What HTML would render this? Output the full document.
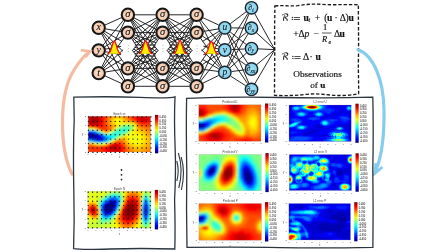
<!DOCTYPE html>
<html><head><meta charset="utf-8"><style>
html,body{margin:0;padding:0;background:#fff;width:448px;height:252px;overflow:hidden}
svg{display:block}
.it{font-family:"Liberation Serif",serif;font-style:italic;fill:#1a1a1a}
.bl{font-family:"Liberation Serif",serif;font-style:italic;fill:#10181e;stroke:#10181e;stroke-width:0.12}
.cal{font-family:"DejaVu Math TeX Gyre","DejaVu Serif",serif;font-style:normal}
.nl{font-family:"Liberation Serif",serif;font-style:italic;fill:#111;stroke:#111;stroke-width:0.12}
</style></head><body>
<svg width="448" height="252" viewBox="0 0 448 252">
 <defs><radialGradient id="gp"><stop offset="0" stop-color="#fde4d2"/><stop offset="1" stop-color="#f3c1a2"/></radialGradient><radialGradient id="gb"><stop offset="0" stop-color="#a6e2f5"/><stop offset="1" stop-color="#7fcfec"/></radialGradient><filter id="bl" x="-5%" y="-5%" width="110%" height="110%"><feGaussianBlur stdDeviation="0.9"/></filter><filter id="bl2" x="-5%" y="-5%" width="110%" height="110%"><feGaussianBlur stdDeviation="0.55"/></filter></defs>
<rect width="448" height="252" fill="#fff"/>
<path d="M105.0 25.0L121.6 17.6M105.5 28.9L121.1 31.5M104.6 31.3L122.0 41.5M103.7 32.6L122.9 51.2M102.7 33.4L123.9 62.8M101.8 34.0L124.8 80.1M103.1 45.1L123.5 20.1M104.6 46.8L122.0 36.2M105.5 49.1L121.1 46.3M105.5 51.7L121.1 54.7M104.6 54.0L122.0 64.8M103.1 55.8L123.5 80.9M101.8 66.9L124.8 21.0M102.7 67.5L123.9 38.2M103.7 68.3L122.9 49.8M104.7 69.6L121.9 59.5M105.5 72.0L121.1 69.5M105.0 75.9L121.6 83.5M134.8 14.8L155.7 14.8M134.0 17.9L156.5 29.5M133.1 19.3L157.4 40.5M132.3 20.1L158.2 50.7M131.6 20.6L158.9 62.6M130.9 21.0L159.6 80.1M134.0 29.5L156.5 17.9M134.8 32.6L155.7 32.6M134.4 34.9L156.1 42.7M133.6 36.5L156.9 52.1M132.7 37.6L157.8 63.4M131.6 38.4L158.9 80.5M133.1 40.5L157.4 19.3M134.4 42.7L156.1 34.9M134.8 45.0L155.7 45.0M134.5 47.1L156.0 53.9M133.6 48.9L156.9 64.5M132.3 50.3L158.2 81.0M132.3 50.7L158.2 20.1M133.6 52.1L156.9 36.5M134.5 53.9L156.0 47.1M134.8 56.0L155.7 56.0M134.4 58.3L156.1 66.1M133.1 60.5L157.4 81.8M131.6 62.6L158.9 20.6M132.7 63.4L157.8 37.6M133.6 64.5L156.9 48.9M134.4 66.1L156.1 58.3M134.8 68.4L155.7 68.4M134.0 71.6L156.5 83.1M130.9 80.1L159.6 21.0M131.6 80.5L158.9 38.4M132.3 81.0L158.2 50.3M133.1 81.8L157.4 60.5M134.0 83.1L156.5 71.6M134.8 86.3L155.7 86.3M169.5 14.8L189.7 14.8M168.7 18.0L190.5 29.4M167.8 19.4L191.4 40.4M167.0 20.1L192.2 50.7M166.3 20.6L192.9 62.6M165.6 21.0L193.6 80.1M168.7 29.4L190.5 18.0M169.5 32.6L189.7 32.6M169.1 35.0L190.1 42.6M168.3 36.5L190.9 52.1M167.4 37.6L191.8 63.4M166.3 38.4L192.9 80.5M167.8 40.4L191.4 19.4M169.1 42.6L190.1 35.0M169.5 45.0L189.7 45.0M169.2 47.1L190.0 53.9M168.3 48.9L190.9 64.5M167.0 50.3L192.2 81.0M167.0 50.7L192.2 20.1M168.3 52.1L190.9 36.5M169.2 53.9L190.0 47.1M169.5 56.0L189.7 56.0M169.1 58.4L190.1 66.0M167.8 60.6L191.4 81.7M166.3 62.6L192.9 20.6M167.4 63.4L191.8 37.6M168.3 64.5L190.9 48.9M169.1 66.0L190.1 58.4M169.5 68.4L189.7 68.4M168.7 71.6L190.5 83.1M165.6 80.1L193.6 21.0M166.3 80.5L192.9 38.4M167.0 81.0L192.2 50.3M167.8 81.7L191.4 60.6M168.7 83.1L190.5 71.6M169.5 86.3L189.7 86.3M202.9 17.7L218.5 24.9M200.9 20.2L220.5 44.6M199.6 21.0L221.8 66.2M203.4 31.4L218.0 29.0M202.5 36.2L218.9 46.4M200.6 38.2L220.8 66.8M202.5 41.4L218.9 31.4M203.4 46.2L218.0 48.8M201.5 49.8L219.9 67.6M201.5 51.1L219.9 32.7M203.3 54.6L218.1 51.4M202.6 59.5L218.8 68.9M200.5 62.7L220.9 33.5M202.4 64.6L219.0 53.8M203.4 69.4L218.0 71.4M199.6 80.1L221.8 34.0M200.8 80.9L220.6 55.4M202.8 83.2L218.6 75.5M230.3 23.7L246.0 11.9M231.7 27.9L244.6 28.1M230.2 32.0L246.1 44.4M228.6 33.6L247.7 63.2M227.5 34.1L248.8 83.1M228.5 44.2L247.8 13.6M230.1 45.6L246.2 32.6M231.7 49.6L244.6 49.0M230.4 54.0L245.9 65.0M228.7 55.7L247.6 83.7M227.4 66.0L248.9 14.2M228.4 66.5L247.9 34.1M230.0 67.8L246.3 53.2M231.6 71.5L244.7 69.9M230.6 76.1L245.7 85.7M251.5 7.8L274.8 49.6M251.5 28.2L274.8 49.6M251.5 48.6L274.8 49.6M251.5 69.0L274.8 49.6M251.5 89.4L274.8 49.6" stroke="#1b1b1b" stroke-width="0.95" fill="none"/>
<path d="M107.50 53.76 L107.84 53.68 L108.18 53.57 L108.52 53.41 L108.86 53.19 L109.20 52.89 L109.54 52.50 L109.88 52.00 L110.22 51.39 L110.56 50.64 L110.90 49.78 L111.24 48.79 L111.58 47.72 L111.92 46.58 L112.26 45.43 L112.60 44.31 L112.94 43.29 L113.28 42.42 L113.62 41.76 L113.96 41.34 L114.30 41.20 L114.64 41.34 L114.98 41.76 L115.32 42.42 L115.66 43.29 L116.00 44.31 L116.34 45.43 L116.68 46.58 L117.02 47.72 L117.36 48.79 L117.70 49.78 L118.04 50.64 L118.38 51.39 L118.72 52.00 L119.06 52.50 L119.40 52.89 L119.74 53.19 L120.08 53.41 L120.42 53.57 L120.76 53.68 L121.10 53.76 Z" fill="#ffee00" stroke="none"/><path d="M107.50 53.76 L107.84 53.68 L108.18 53.57 L108.52 53.41 L108.86 53.19 L109.20 52.89 L109.54 52.50 L109.88 52.00 L110.22 51.39 L110.56 50.64 L110.90 49.78 L111.24 48.79 L111.58 47.72 L111.92 46.58 L112.26 45.43 L112.60 44.31 L112.94 43.29 L113.28 42.42 L113.62 41.76 L113.96 41.34 L114.30 41.20 L114.64 41.34 L114.98 41.76 L115.32 42.42 L115.66 43.29 L116.00 44.31 L116.34 45.43 L116.68 46.58 L117.02 47.72 L117.36 48.79 L117.70 49.78 L118.04 50.64 L118.38 51.39 L118.72 52.00 L119.06 52.50 L119.40 52.89 L119.74 53.19 L120.08 53.41 L120.42 53.57 L120.76 53.68 L121.10 53.76" fill="none" stroke="#ff1010" stroke-width="1.3" stroke-linejoin="round"/>
<path d="M138.80 53.76 L139.14 53.68 L139.48 53.56 L139.82 53.40 L140.16 53.17 L140.50 52.87 L140.84 52.47 L141.18 51.96 L141.52 51.33 L141.86 50.57 L142.20 49.68 L142.54 48.67 L142.88 47.57 L143.22 46.41 L143.56 45.23 L143.90 44.09 L144.24 43.04 L144.58 42.15 L144.92 41.47 L145.26 41.05 L145.60 40.90 L145.94 41.05 L146.28 41.47 L146.62 42.15 L146.96 43.04 L147.30 44.09 L147.64 45.23 L147.98 46.41 L148.32 47.57 L148.66 48.67 L149.00 49.68 L149.34 50.57 L149.68 51.33 L150.02 51.96 L150.36 52.47 L150.70 52.87 L151.04 53.17 L151.38 53.40 L151.72 53.56 L152.06 53.68 L152.40 53.76 Z" fill="#ffee00" stroke="none"/><path d="M138.80 53.76 L139.14 53.68 L139.48 53.56 L139.82 53.40 L140.16 53.17 L140.50 52.87 L140.84 52.47 L141.18 51.96 L141.52 51.33 L141.86 50.57 L142.20 49.68 L142.54 48.67 L142.88 47.57 L143.22 46.41 L143.56 45.23 L143.90 44.09 L144.24 43.04 L144.58 42.15 L144.92 41.47 L145.26 41.05 L145.60 40.90 L145.94 41.05 L146.28 41.47 L146.62 42.15 L146.96 43.04 L147.30 44.09 L147.64 45.23 L147.98 46.41 L148.32 47.57 L148.66 48.67 L149.00 49.68 L149.34 50.57 L149.68 51.33 L150.02 51.96 L150.36 52.47 L150.70 52.87 L151.04 53.17 L151.38 53.40 L151.72 53.56 L152.06 53.68 L152.40 53.76" fill="none" stroke="#ff1010" stroke-width="1.3" stroke-linejoin="round"/>
<path d="M173.20 53.75 L173.54 53.67 L173.88 53.55 L174.22 53.38 L174.56 53.15 L174.90 52.84 L175.24 52.43 L175.58 51.91 L175.92 51.27 L176.26 50.49 L176.60 49.58 L176.94 48.55 L177.28 47.43 L177.62 46.24 L177.96 45.03 L178.30 43.86 L178.64 42.79 L178.98 41.88 L179.32 41.19 L179.66 40.75 L180.00 40.60 L180.34 40.75 L180.68 41.19 L181.02 41.88 L181.36 42.79 L181.70 43.86 L182.04 45.03 L182.38 46.24 L182.72 47.43 L183.06 48.55 L183.40 49.58 L183.74 50.49 L184.08 51.27 L184.42 51.91 L184.76 52.43 L185.10 52.84 L185.44 53.15 L185.78 53.38 L186.12 53.55 L186.46 53.67 L186.80 53.75 Z" fill="#ffee00" stroke="none"/><path d="M173.20 53.75 L173.54 53.67 L173.88 53.55 L174.22 53.38 L174.56 53.15 L174.90 52.84 L175.24 52.43 L175.58 51.91 L175.92 51.27 L176.26 50.49 L176.60 49.58 L176.94 48.55 L177.28 47.43 L177.62 46.24 L177.96 45.03 L178.30 43.86 L178.64 42.79 L178.98 41.88 L179.32 41.19 L179.66 40.75 L180.00 40.60 L180.34 40.75 L180.68 41.19 L181.02 41.88 L181.36 42.79 L181.70 43.86 L182.04 45.03 L182.38 46.24 L182.72 47.43 L183.06 48.55 L183.40 49.58 L183.74 50.49 L184.08 51.27 L184.42 51.91 L184.76 52.43 L185.10 52.84 L185.44 53.15 L185.78 53.38 L186.12 53.55 L186.46 53.67 L186.80 53.75" fill="none" stroke="#ff1010" stroke-width="1.3" stroke-linejoin="round"/>
<path d="M204.50 53.76 L204.84 53.69 L205.18 53.58 L205.52 53.42 L205.86 53.20 L206.20 52.91 L206.54 52.53 L206.88 52.05 L207.22 51.45 L207.56 50.72 L207.90 49.87 L208.24 48.91 L208.58 47.86 L208.92 46.75 L209.26 45.63 L209.60 44.54 L209.94 43.54 L210.28 42.69 L210.62 42.05 L210.96 41.64 L211.30 41.50 L211.64 41.64 L211.98 42.05 L212.32 42.69 L212.66 43.54 L213.00 44.54 L213.34 45.63 L213.68 46.75 L214.02 47.86 L214.36 48.91 L214.70 49.87 L215.04 50.72 L215.38 51.45 L215.72 52.05 L216.06 52.53 L216.40 52.91 L216.74 53.20 L217.08 53.42 L217.42 53.58 L217.76 53.69 L218.10 53.76 Z" fill="#ffee00" stroke="none"/><path d="M204.50 53.76 L204.84 53.69 L205.18 53.58 L205.52 53.42 L205.86 53.20 L206.20 52.91 L206.54 52.53 L206.88 52.05 L207.22 51.45 L207.56 50.72 L207.90 49.87 L208.24 48.91 L208.58 47.86 L208.92 46.75 L209.26 45.63 L209.60 44.54 L209.94 43.54 L210.28 42.69 L210.62 42.05 L210.96 41.64 L211.30 41.50 L211.64 41.64 L211.98 42.05 L212.32 42.69 L212.66 43.54 L213.00 44.54 L213.34 45.63 L213.68 46.75 L214.02 47.86 L214.36 48.91 L214.70 49.87 L215.04 50.72 L215.38 51.45 L215.72 52.05 L216.06 52.53 L216.40 52.91 L216.74 53.20 L217.08 53.42 L217.42 53.58 L217.76 53.69 L218.10 53.76" fill="none" stroke="#ff1010" stroke-width="1.3" stroke-linejoin="round"/>
<circle cx="128.3" cy="45.7" r="0.45" fill="#777"/>
<circle cx="128.3" cy="48.5" r="0.45" fill="#777"/>
<circle cx="128.3" cy="51.3" r="0.45" fill="#777"/>
<circle cx="163.0" cy="45.7" r="0.45" fill="#777"/>
<circle cx="163.0" cy="48.5" r="0.45" fill="#777"/>
<circle cx="163.0" cy="51.3" r="0.45" fill="#777"/>
<circle cx="197.0" cy="45.7" r="0.45" fill="#777"/>
<circle cx="197.0" cy="48.5" r="0.45" fill="#777"/>
<circle cx="197.0" cy="51.3" r="0.45" fill="#777"/>
<circle cx="98.7" cy="27.8" r="6.2" fill="url(#gp)" stroke="#141618" stroke-width="2.0"/><text x="98.7" y="30.4" font-size="10" text-anchor="middle" class="nl">x</text>
<circle cx="98.7" cy="50.4" r="6.2" fill="url(#gp)" stroke="#141618" stroke-width="2.0"/><text x="98.7" y="53.0" font-size="10" text-anchor="middle" class="nl">y</text>
<circle cx="98.7" cy="73.1" r="6.2" fill="url(#gp)" stroke="#141618" stroke-width="2.0"/><text x="98.7" y="75.7" font-size="10" text-anchor="middle" class="nl">t</text>
<circle cx="127.9" cy="14.8" r="6.2" fill="url(#gp)" stroke="#141618" stroke-width="2.0"/><text x="127.9" y="17.4" font-size="10.5" text-anchor="middle" class="nl">σ</text>
<circle cx="127.9" cy="32.6" r="6.2" fill="url(#gp)" stroke="#141618" stroke-width="2.0"/><text x="127.9" y="35.2" font-size="10.5" text-anchor="middle" class="nl">σ</text>
<circle cx="127.9" cy="68.4" r="6.2" fill="url(#gp)" stroke="#141618" stroke-width="2.0"/><text x="127.9" y="71.0" font-size="10.5" text-anchor="middle" class="nl">σ</text>
<circle cx="127.9" cy="86.3" r="6.2" fill="url(#gp)" stroke="#141618" stroke-width="2.0"/><text x="127.9" y="88.9" font-size="10.5" text-anchor="middle" class="nl">σ</text>
<circle cx="162.6" cy="14.8" r="6.2" fill="url(#gp)" stroke="#141618" stroke-width="2.0"/><text x="162.6" y="17.4" font-size="10.5" text-anchor="middle" class="nl">σ</text>
<circle cx="162.6" cy="32.6" r="6.2" fill="url(#gp)" stroke="#141618" stroke-width="2.0"/><text x="162.6" y="35.2" font-size="10.5" text-anchor="middle" class="nl">σ</text>
<circle cx="162.6" cy="68.4" r="6.2" fill="url(#gp)" stroke="#141618" stroke-width="2.0"/><text x="162.6" y="71.0" font-size="10.5" text-anchor="middle" class="nl">σ</text>
<circle cx="162.6" cy="86.3" r="6.2" fill="url(#gp)" stroke="#141618" stroke-width="2.0"/><text x="162.6" y="88.9" font-size="10.5" text-anchor="middle" class="nl">σ</text>
<circle cx="196.6" cy="14.8" r="6.2" fill="url(#gp)" stroke="#141618" stroke-width="2.0"/><text x="196.6" y="17.4" font-size="10.5" text-anchor="middle" class="nl">σ</text>
<circle cx="196.6" cy="32.6" r="6.2" fill="url(#gp)" stroke="#141618" stroke-width="2.0"/><text x="196.6" y="35.2" font-size="10.5" text-anchor="middle" class="nl">σ</text>
<circle cx="196.6" cy="68.4" r="6.2" fill="url(#gp)" stroke="#141618" stroke-width="2.0"/><text x="196.6" y="71.0" font-size="10.5" text-anchor="middle" class="nl">σ</text>
<circle cx="196.6" cy="86.3" r="6.2" fill="url(#gp)" stroke="#141618" stroke-width="2.0"/><text x="196.6" y="88.9" font-size="10.5" text-anchor="middle" class="nl">σ</text>
<circle cx="224.8" cy="27.8" r="6.2" fill="url(#gb)" stroke="#18232c" stroke-width="1.4"/><text x="224.8" y="30.4" font-size="9.5" text-anchor="middle" class="bl">u</text>
<circle cx="224.8" cy="50.0" r="6.2" fill="url(#gb)" stroke="#18232c" stroke-width="1.4"/><text x="224.8" y="52.6" font-size="9.5" text-anchor="middle" class="bl">v</text>
<circle cx="224.8" cy="72.4" r="6.2" fill="url(#gb)" stroke="#18232c" stroke-width="1.4"/><text x="224.8" y="75.0" font-size="9.5" text-anchor="middle" class="bl">p</text>
<circle cx="251.5" cy="7.8" r="6.2" fill="url(#gb)" stroke="#18232c" stroke-width="1.4"/><text x="250.9" y="9.9" font-size="8" text-anchor="middle" class="bl">∂<tspan font-size="5.4" dy="1.6">t</tspan></text>
<circle cx="251.5" cy="28.2" r="6.2" fill="url(#gb)" stroke="#18232c" stroke-width="1.4"/><text x="250.9" y="30.3" font-size="8" text-anchor="middle" class="bl">∂<tspan font-size="5.4" dy="1.6">x</tspan></text>
<circle cx="251.5" cy="48.6" r="6.2" fill="url(#gb)" stroke="#18232c" stroke-width="1.4"/><text x="250.9" y="50.7" font-size="8" text-anchor="middle" class="bl">∂<tspan font-size="5.4" dy="1.6">y</tspan></text>
<circle cx="251.5" cy="69.0" r="6.2" fill="url(#gb)" stroke="#18232c" stroke-width="1.4"/><text x="250.9" y="71.1" font-size="8" text-anchor="middle" class="bl">∂<tspan font-size="5.4" dy="1.6">xx</tspan></text>
<circle cx="251.5" cy="89.4" r="6.2" fill="url(#gb)" stroke="#18232c" stroke-width="1.4"/><text x="250.9" y="91.5" font-size="8" text-anchor="middle" class="bl">∂<tspan font-size="5.4" dy="1.6">yy</tspan></text>
<path d="M274.8 6.0 C284 5.0 290 6.6 298 5.6 C306 4.4 312 3.6 322 4.4 C334 5.2 346 4.2 358.4 4.8 C358.2 20 358.9 40 358.4 60 C358.2 75 358.9 85 358.6 93.8 C350 95.6 340 96 330 95 C320 94 314 93.4 306 94.4 C296 95.6 286 95.8 274.6 95.4 C274.3 80 275 60 274.6 40 C274.4 25 275 15 274.8 6.0 Z" fill="none" stroke="#1a1a1a" stroke-width="1.35" stroke-dasharray="3.4 1.9"/>
<text x="281.0" y="20.8" font-size="9.6" style="font-family:'DejaVu Math TeX Gyre','DejaVu Sans',serif;fill:#111;stroke:#111;stroke-width:0.1">ℛ</text>
<text x="291.0" y="20.8" font-size="9.6" style="font-family:'DejaVu Math TeX Gyre','DejaVu Sans',serif;fill:#111;stroke:#111;stroke-width:0.1">≔</text>
<text x="303.4" y="20.8" font-size="9.6" style="font-family:'Liberation Serif',serif;fill:#111;stroke:#111;stroke-width:0.18" font-weight="bold">u</text>
<text x="308.4" y="22.4" font-size="6.2" style="font-family:'Liberation Serif',serif;fill:#111;stroke:#111;stroke-width:0.18;font-style:italic">t</text>
<text x="314.8" y="20.8" font-size="9.6" style="font-family:'Liberation Serif',serif;fill:#111;stroke:#111;stroke-width:0.18">+</text>
<text x="324.2" y="20.8" font-size="9.6" style="font-family:'Liberation Serif',serif;fill:#111;stroke:#111;stroke-width:0.18">(</text>
<text x="326.9" y="20.8" font-size="9.6" style="font-family:'Liberation Serif',serif;fill:#111;stroke:#111;stroke-width:0.18" font-weight="bold">u</text>
<text x="334.6" y="20.8" font-size="9.6" style="font-family:'Liberation Serif',serif;fill:#111;stroke:#111;stroke-width:0.18">·</text>
<text x="339.8" y="20.8" font-size="9.6" style="font-family:'Liberation Serif',serif;fill:#111;stroke:#111;stroke-width:0.18">Δ</text>
<text x="345.4" y="20.8" font-size="9.6" style="font-family:'Liberation Serif',serif;fill:#111;stroke:#111;stroke-width:0.18">)</text>
<text x="348.6" y="20.8" font-size="9.6" style="font-family:'Liberation Serif',serif;fill:#111;stroke:#111;stroke-width:0.18" font-weight="bold">u</text>
<text x="293.2" y="36.8" font-size="9.6" style="font-family:'Liberation Serif',serif;fill:#111;stroke:#111;stroke-width:0.18">+</text>
<text x="298.6" y="36.8" font-size="9.6" style="font-family:'Liberation Serif',serif;fill:#111;stroke:#111;stroke-width:0.18">Δ</text>
<text x="304.4" y="36.8" font-size="9.6" style="font-family:'Liberation Serif',serif;fill:#111;stroke:#111;stroke-width:0.18;font-style:italic">p</text>
<text x="313.4" y="36.8" font-size="9.6" style="font-family:'Liberation Serif',serif;fill:#111;stroke:#111;stroke-width:0.18">−</text>
<text x="323.0" y="30.4" font-size="8.5" style="font-family:'Liberation Serif',serif;fill:#111;stroke:#111;stroke-width:0.18">1</text>
<line x1="322.0" y1="33.0" x2="331.6" y2="33.0" stroke="#111" stroke-width="0.7"/>
<text x="322.0" y="42.2" font-size="8.5" style="font-family:'Liberation Serif',serif;fill:#111;stroke:#111;stroke-width:0.18;font-style:italic">R</text>
<text x="328.6" y="43.8" font-size="5.8" style="font-family:'Liberation Serif',serif;fill:#111;stroke:#111;stroke-width:0.18;font-style:italic">e</text>
<text x="334.0" y="36.8" font-size="9.6" style="font-family:'Liberation Serif',serif;fill:#111;stroke:#111;stroke-width:0.18">Δ</text>
<text x="339.4" y="36.8" font-size="9.6" style="font-family:'Liberation Serif',serif;fill:#111;stroke:#111;stroke-width:0.18" font-weight="bold">u</text>
<text x="281.0" y="60.2" font-size="9.6" style="font-family:'DejaVu Math TeX Gyre','DejaVu Sans',serif;fill:#111;stroke:#111;stroke-width:0.1">ℛ</text>
<text x="291.6" y="60.2" font-size="9.6" style="font-family:'DejaVu Math TeX Gyre','DejaVu Sans',serif;fill:#111;stroke:#111;stroke-width:0.1">≔</text>
<text x="303.0" y="60.2" font-size="9.6" style="font-family:'Liberation Serif',serif;fill:#111;stroke:#111;stroke-width:0.18">Δ</text>
<text x="309.6" y="60.2" font-size="9.6" style="font-family:'Liberation Serif',serif;fill:#111;stroke:#111;stroke-width:0.18">·</text>
<text x="315.6" y="60.2" font-size="9.6" style="font-family:'Liberation Serif',serif;fill:#111;stroke:#111;stroke-width:0.18" font-weight="bold">u</text>
<text x="317.5" y="76.5" font-size="9.2" text-anchor="middle" style="font-family:'Liberation Serif',serif;fill:#111;stroke:#111;stroke-width:0.18">Observations</text>
<text x="317.8" y="87.6" font-size="9.2" text-anchor="middle" style="font-family:'Liberation Serif',serif;fill:#111;stroke:#111;stroke-width:0.18">of <tspan font-weight="bold">u</tspan></text>
<path d="M72 174 C60 150 58 95 74 70 C78.5 63 83.5 56 89.6 51.8" fill="none" stroke="#f5bba0" stroke-width="3.2" stroke-linecap="round"/>
<path d="M80.8 50.2 L90.0 51.4 L85.4 57.2" fill="none" stroke="#f5bba0" stroke-width="2.8" stroke-linejoin="miter"/>
<path d="M358 49.7 C373.5 55 383.6 80 384 110 C384.4 140 381 158 376 170" fill="none" stroke="#86ccec" stroke-width="3.2" stroke-linecap="round"/>
<path d="M382.4 167 L374.6 173.6 L375.9 163.2" fill="none" stroke="#86ccec" stroke-width="2.8" stroke-linejoin="miter"/>
<path d="M73.8 97.2 Q110 96.2 140 97.4 T175 96.8 Q174 120 175.2 150 Q176 170 174.6 200 Q175.4 230 174.8 249 Q140 248 110 249 T73.6 248.6 Q74.6 220 73.8 190 Q73 150 74.2 120 Z" fill="none" stroke="#2c3640" stroke-width="1.3"/>
<path d="M186.6 98.4 Q230 96.6 280 97.5 T372.8 97.2 Q373.6 130 372.8 170 Q373.4 210 372.9 247.4 Q320 248.4 280 247.6 T187 247.4 Q186.2 210 186.8 170 Q186 130 186.6 98.4 Z" fill="none" stroke="#2c3640" stroke-width="1.3"/>
<path d="M176.8 161 Q179.6 171 176.8 181 M178.4 153 Q183.6 170 178.8 188 M181.2 157 Q185.6 172 181.4 190" fill="none" stroke="#2c3640" stroke-width="1.1"/>
<linearGradient id="jetv" x1="0" y1="0" x2="0" y2="1"><stop offset="0.00" stop-color="#800000"/><stop offset="0.10" stop-color="#e50000"/><stop offset="0.20" stop-color="#ff4c00"/><stop offset="0.30" stop-color="#ffb300"/><stop offset="0.40" stop-color="#e5ff1a"/><stop offset="0.50" stop-color="#80ff80"/><stop offset="0.60" stop-color="#1affe5"/><stop offset="0.70" stop-color="#00b3ff"/><stop offset="0.80" stop-color="#004cff"/><stop offset="0.90" stop-color="#0000e5"/><stop offset="1.00" stop-color="#000080"/></linearGradient>
<clipPath id="ce1"><rect x="88.20" y="116.20" width="62.40" height="35.80"/></clipPath>
<g clip-path="url(#ce1)"><g filter="url(#bl)" shape-rendering="crispEdges">
<path fill="#e50000" d="M85.2 113.2h4.6v4.6h-4.6zM98.6 113.2h3.1v4.6h-3.1zM137.2 113.2h1.6v4.6h-1.6zM146.1 113.2h3.1v4.6h-3.1zM100.1 117.7h1.6v1.6h-1.6zM137.2 117.7h1.6v1.6h-1.6zM146.1 117.7h3.1v1.6h-3.1zM100.1 119.2h1.6v1.6h-1.6zM137.2 119.2h3.1v1.6h-3.1zM146.1 119.2h3.1v1.6h-3.1zM100.1 120.7h1.6v1.6h-1.6zM140.2 120.7h6.0v1.6h-6.0zM100.1 122.2h1.6v1.6h-1.6zM85.2 123.7h4.6v1.6h-4.6zM98.6 123.7h1.6v1.6h-1.6zM92.7 125.2h6.0v1.6h-6.0zM113.5 143.1h3.1v1.6h-3.1zM109.0 144.5h3.1v1.6h-3.1zM117.9 144.5h1.6v1.6h-1.6zM107.5 146.0h1.6v1.6h-1.6zM119.4 146.0h1.6v1.6h-1.6zM107.5 147.5h1.6v1.6h-1.6zM119.4 147.5h1.6v1.6h-1.6zM107.5 149.0h3.1v1.6h-3.1zM119.4 149.0h1.6v1.6h-1.6zM109.0 150.5h6.0v4.6h-6.0zM116.4 150.5h3.1v4.6h-3.1z"/>
<path fill="#cc0000" d="M89.7 113.2h9.0v4.6h-9.0zM138.7 113.2h7.5v4.6h-7.5zM85.2 117.7h4.6v1.6h-4.6zM98.6 117.7h1.6v1.6h-1.6zM138.7 117.7h3.1v1.6h-3.1zM143.2 117.7h3.1v1.6h-3.1zM85.2 119.2h4.6v1.6h-4.6zM98.6 119.2h1.6v1.6h-1.6zM140.2 119.2h6.0v1.6h-6.0zM85.2 120.7h4.6v1.6h-4.6zM98.6 120.7h1.6v1.6h-1.6zM85.2 122.2h6.1v1.6h-6.1zM97.1 122.2h3.1v1.6h-3.1zM89.7 123.7h9.0v1.6h-9.0zM112.0 144.5h6.0v1.6h-6.0zM109.0 146.0h3.1v1.6h-3.1zM116.4 146.0h3.1v1.6h-3.1zM109.0 147.5h3.1v1.6h-3.1zM117.9 147.5h1.6v1.6h-1.6zM110.5 149.0h9.0v1.6h-9.0zM114.9 150.5h1.6v4.6h-1.6z"/>
<path fill="#ff0000" d="M101.6 113.2h1.6v4.6h-1.6zM135.7 113.2h1.6v4.6h-1.6zM149.1 113.2h4.6v4.6h-4.6zM101.6 117.7h1.6v1.6h-1.6zM135.7 117.7h1.6v1.6h-1.6zM149.1 117.7h4.6v1.6h-4.6zM101.6 119.2h1.6v1.6h-1.6zM135.7 119.2h1.6v1.6h-1.6zM149.1 119.2h4.6v1.6h-4.6zM101.6 120.7h1.6v1.6h-1.6zM137.2 120.7h3.1v1.6h-3.1zM146.1 120.7h3.1v1.6h-3.1zM101.6 122.2h1.6v1.6h-1.6zM141.7 122.2h4.6v1.6h-4.6zM100.1 123.7h1.6v1.6h-1.6zM89.7 125.2h3.1v1.6h-3.1zM98.6 125.2h3.1v1.6h-3.1zM112.0 143.1h1.6v1.6h-1.6zM116.4 143.1h3.1v1.6h-3.1zM119.4 144.5h1.6v1.6h-1.6zM106.0 146.0h1.6v1.6h-1.6zM120.9 146.0h1.6v1.6h-1.6zM104.5 147.5h3.1v1.6h-3.1zM120.9 147.5h1.6v1.6h-1.6zM104.5 149.0h3.1v1.6h-3.1zM120.9 149.0h1.6v1.6h-1.6zM106.0 150.5h3.1v4.6h-3.1zM119.4 150.5h3.1v4.6h-3.1z"/>
<path fill="#ff1a00" d="M103.1 113.2h1.6v4.6h-1.6zM132.8 113.2h3.1v4.6h-3.1zM103.1 117.7h1.6v1.6h-1.6zM134.3 117.7h1.6v1.6h-1.6zM103.1 119.2h1.6v1.6h-1.6zM134.3 119.2h1.6v1.6h-1.6zM103.1 120.7h1.6v1.6h-1.6zM135.7 120.7h1.6v1.6h-1.6zM149.1 120.7h4.6v1.6h-4.6zM103.1 122.2h1.6v1.6h-1.6zM138.7 122.2h3.1v1.6h-3.1zM146.1 122.2h7.6v1.6h-7.6zM101.6 123.7h3.1v1.6h-3.1zM85.2 125.2h4.6v1.6h-4.6zM101.6 125.2h1.6v1.6h-1.6zM97.1 126.6h6.0v1.6h-6.0zM114.9 141.6h3.1v1.6h-3.1zM110.5 143.1h1.6v1.6h-1.6zM119.4 143.1h1.6v1.6h-1.6zM107.5 144.5h1.6v1.6h-1.6zM120.9 144.5h1.6v1.6h-1.6zM103.1 146.0h3.1v1.6h-3.1zM122.4 146.0h1.6v1.6h-1.6zM101.6 147.5h3.1v1.6h-3.1zM122.4 147.5h1.6v1.6h-1.6zM101.6 149.0h3.1v1.6h-3.1zM122.4 149.0h1.6v1.6h-1.6zM101.6 150.5h4.6v4.6h-4.6zM122.4 150.5h1.6v4.6h-1.6z"/>
<path fill="#ff3300" d="M104.5 113.2h1.6v4.6h-1.6zM131.3 113.2h1.6v4.6h-1.6zM104.5 117.7h1.6v1.6h-1.6zM132.8 117.7h1.6v1.6h-1.6zM104.5 119.2h1.6v1.6h-1.6zM132.8 119.2h1.6v1.6h-1.6zM104.5 120.7h1.6v1.6h-1.6zM104.5 122.2h1.6v1.6h-1.6zM137.2 122.2h1.6v1.6h-1.6zM104.5 123.7h1.6v1.6h-1.6zM140.2 123.7h13.5v1.6h-13.5zM103.1 125.2h3.1v1.6h-3.1zM94.1 126.6h3.1v1.6h-3.1zM103.1 126.6h3.1v1.6h-3.1zM100.1 128.1h6.0v1.6h-6.0zM113.5 141.6h1.6v1.6h-1.6zM117.9 141.6h3.1v1.6h-3.1zM120.9 143.1h1.6v1.6h-1.6zM106.0 144.5h1.6v1.6h-1.6zM122.4 144.5h1.6v1.6h-1.6zM85.2 146.0h18.0v1.6h-18.0zM123.9 146.0h1.6v1.6h-1.6zM85.2 147.5h16.5v1.6h-16.5zM123.9 147.5h1.6v1.6h-1.6zM85.2 149.0h16.5v1.6h-16.5zM123.9 149.0h1.6v1.6h-1.6zM85.2 150.5h16.5v4.6h-16.5zM123.9 150.5h1.6v4.6h-1.6z"/>
<path fill="#ff4c00" d="M106.0 113.2h1.6v4.6h-1.6zM129.8 113.2h1.6v4.6h-1.6zM106.0 117.7h1.6v1.6h-1.6zM129.8 117.7h3.1v1.6h-3.1zM131.3 119.2h1.6v1.6h-1.6zM134.3 120.7h1.6v1.6h-1.6zM138.7 123.7h1.6v1.6h-1.6zM106.0 125.2h1.6v1.6h-1.6zM143.2 125.2h10.5v1.6h-10.5zM91.2 126.6h3.1v1.6h-3.1zM106.0 126.6h1.6v1.6h-1.6zM98.6 128.1h1.6v1.6h-1.6zM106.0 128.1h3.1v1.6h-3.1zM103.1 129.6h4.6v1.6h-4.6zM117.9 140.1h1.6v1.6h-1.6zM120.9 141.6h1.6v1.6h-1.6zM109.0 143.1h1.6v1.6h-1.6zM122.4 143.1h1.6v1.6h-1.6zM85.2 144.5h9.0v1.6h-9.0zM104.5 144.5h1.6v1.6h-1.6zM123.9 144.5h1.6v1.6h-1.6zM125.3 147.5h1.6v1.6h-1.6zM125.3 149.0h1.6v1.6h-1.6zM125.3 150.5h1.6v4.6h-1.6z"/>
<path fill="#ff6600" d="M107.5 113.2h1.6v4.6h-1.6zM126.8 113.2h3.1v4.6h-3.1zM107.5 117.7h1.6v1.6h-1.6zM128.3 117.7h1.6v1.6h-1.6zM106.0 119.2h1.6v1.6h-1.6zM129.8 119.2h1.6v1.6h-1.6zM106.0 120.7h1.6v1.6h-1.6zM131.3 120.7h3.1v1.6h-3.1zM106.0 122.2h1.6v1.6h-1.6zM135.7 122.2h1.6v1.6h-1.6zM106.0 123.7h1.6v1.6h-1.6zM137.2 123.7h1.6v1.6h-1.6zM107.5 125.2h1.6v1.6h-1.6zM138.7 125.2h4.6v1.6h-4.6zM89.7 126.6h1.6v1.6h-1.6zM107.5 126.6h3.1v1.6h-3.1zM144.7 126.6h9.0v1.6h-9.0zM109.0 128.1h1.6v1.6h-1.6zM107.5 129.6h1.6v1.6h-1.6zM116.4 140.1h1.6v1.6h-1.6zM119.4 140.1h3.1v1.6h-3.1zM112.0 141.6h1.6v1.6h-1.6zM122.4 141.6h1.6v1.6h-1.6zM123.9 143.1h1.6v1.6h-1.6zM94.1 144.5h3.1v1.6h-3.1zM101.6 144.5h3.1v1.6h-3.1zM125.3 146.0h1.6v1.6h-1.6zM126.8 147.5h1.6v1.6h-1.6zM126.8 149.0h1.6v1.6h-1.6zM126.8 150.5h3.1v4.6h-3.1zM149.1 150.5h4.6v4.6h-4.6z"/>
<path fill="#ff8000" d="M109.0 113.2h1.6v4.6h-1.6zM123.9 113.2h3.1v4.6h-3.1zM126.8 117.7h1.6v1.6h-1.6zM107.5 119.2h1.6v1.6h-1.6zM126.8 119.2h3.1v1.6h-3.1zM107.5 120.7h1.6v1.6h-1.6zM129.8 120.7h1.6v1.6h-1.6zM107.5 122.2h1.6v1.6h-1.6zM107.5 123.7h1.6v1.6h-1.6zM109.0 125.2h1.6v1.6h-1.6zM137.2 125.2h1.6v1.6h-1.6zM85.2 126.6h4.6v1.6h-4.6zM110.5 126.6h1.6v1.6h-1.6zM138.7 126.6h6.0v1.6h-6.0zM97.1 128.1h1.6v1.6h-1.6zM110.5 128.1h1.6v1.6h-1.6zM144.7 128.1h9.0v1.6h-9.0zM101.6 129.6h1.6v1.6h-1.6zM109.0 129.6h1.6v1.6h-1.6zM147.6 129.6h6.1v1.6h-6.1zM149.1 131.1h4.6v1.6h-4.6zM119.4 138.6h1.6v1.6h-1.6zM114.9 140.1h1.6v1.6h-1.6zM122.4 140.1h1.6v1.6h-1.6zM107.5 143.1h1.6v1.6h-1.6zM97.1 144.5h4.6v1.6h-4.6zM125.3 144.5h1.6v1.6h-1.6zM126.8 146.0h1.6v1.6h-1.6zM128.3 147.5h1.6v1.6h-1.6zM149.1 147.5h4.6v1.6h-4.6zM128.3 149.0h3.1v1.6h-3.1zM147.6 149.0h6.1v1.6h-6.1zM129.8 150.5h3.1v4.6h-3.1zM144.7 150.5h4.6v4.6h-4.6z"/>
<path fill="#ff9900" d="M110.5 113.2h3.1v4.6h-3.1zM122.4 113.2h1.6v4.6h-1.6zM109.0 117.7h1.6v1.6h-1.6zM123.9 117.7h3.1v1.6h-3.1zM109.0 119.2h1.6v1.6h-1.6zM125.3 119.2h1.6v1.6h-1.6zM109.0 120.7h1.6v1.6h-1.6zM126.8 120.7h3.1v1.6h-3.1zM109.0 122.2h1.6v1.6h-1.6zM134.3 122.2h1.6v1.6h-1.6zM109.0 123.7h1.6v1.6h-1.6zM110.5 125.2h3.1v1.6h-3.1zM112.0 126.6h1.6v1.6h-1.6zM137.2 126.6h1.6v1.6h-1.6zM140.2 128.1h4.6v1.6h-4.6zM100.1 129.6h1.6v1.6h-1.6zM144.7 129.6h3.1v1.6h-3.1zM104.5 131.1h3.1v1.6h-3.1zM146.1 131.1h3.1v1.6h-3.1zM147.6 132.6h6.1v1.6h-6.1zM149.1 134.1h4.6v1.6h-4.6zM149.1 135.6h4.6v1.6h-4.6zM117.9 138.6h1.6v1.6h-1.6zM120.9 138.6h3.1v1.6h-3.1zM123.9 140.1h1.6v1.6h-1.6zM110.5 141.6h1.6v1.6h-1.6zM123.9 141.6h1.6v1.6h-1.6zM149.1 141.6h4.6v1.6h-4.6zM85.2 143.1h6.1v1.6h-6.1zM125.3 143.1h1.6v1.6h-1.6zM149.1 143.1h4.6v1.6h-4.6zM126.8 144.5h1.6v1.6h-1.6zM147.6 144.5h6.1v1.6h-6.1zM128.3 146.0h1.6v1.6h-1.6zM147.6 146.0h6.1v1.6h-6.1zM129.8 147.5h3.1v1.6h-3.1zM144.7 147.5h4.6v1.6h-4.6zM131.3 149.0h3.1v1.6h-3.1zM141.7 149.0h6.0v1.6h-6.0zM132.8 150.5h12.0v4.6h-12.0z"/>
<path fill="#ffb300" d="M113.5 113.2h9.0v4.6h-9.0zM110.5 117.7h3.1v1.6h-3.1zM122.4 117.7h1.6v1.6h-1.6zM110.5 119.2h1.6v1.6h-1.6zM123.9 119.2h1.6v1.6h-1.6zM125.3 120.7h1.6v1.6h-1.6zM110.5 122.2h1.6v1.6h-1.6zM110.5 123.7h3.1v1.6h-3.1zM135.7 123.7h1.6v1.6h-1.6zM113.5 125.2h1.6v1.6h-1.6zM113.5 126.6h1.6v1.6h-1.6zM95.6 128.1h1.6v1.6h-1.6zM112.0 128.1h1.6v1.6h-1.6zM137.2 128.1h3.1v1.6h-3.1zM138.7 129.6h6.0v1.6h-6.0zM143.2 131.1h3.1v1.6h-3.1zM144.7 132.6h3.1v1.6h-3.1zM146.1 134.1h3.1v1.6h-3.1zM147.6 135.6h1.6v1.6h-1.6zM120.9 137.1h3.1v1.6h-3.1zM147.6 137.1h6.1v1.6h-6.1zM123.9 138.6h1.6v1.6h-1.6zM147.6 138.6h6.1v1.6h-6.1zM125.3 140.1h1.6v1.6h-1.6zM147.6 140.1h6.1v1.6h-6.1zM125.3 141.6h1.6v1.6h-1.6zM147.6 141.6h1.6v1.6h-1.6zM91.2 143.1h1.6v1.6h-1.6zM126.8 143.1h1.6v1.6h-1.6zM146.1 143.1h3.1v1.6h-3.1zM128.3 144.5h3.1v1.6h-3.1zM144.7 144.5h3.1v1.6h-3.1zM129.8 146.0h3.1v1.6h-3.1zM143.2 146.0h4.6v1.6h-4.6zM132.8 147.5h12.0v1.6h-12.0zM134.3 149.0h7.5v1.6h-7.5z"/>
<path fill="#b30000" d="M89.7 117.7h9.0v1.6h-9.0zM141.7 117.7h1.6v1.6h-1.6zM89.7 119.2h3.1v1.6h-3.1zM95.6 119.2h3.1v1.6h-3.1zM89.7 120.7h3.1v1.6h-3.1zM95.6 120.7h3.1v1.6h-3.1zM91.2 122.2h6.0v1.6h-6.0zM112.0 146.0h4.6v1.6h-4.6zM112.0 147.5h6.0v1.6h-6.0z"/>
<path fill="#ffcc00" d="M113.5 117.7h1.6v1.6h-1.6zM119.4 117.7h3.1v1.6h-3.1zM112.0 119.2h1.6v1.6h-1.6zM122.4 119.2h1.6v1.6h-1.6zM110.5 120.7h1.6v1.6h-1.6zM122.4 120.7h3.1v1.6h-3.1zM112.0 122.2h1.6v1.6h-1.6zM131.3 122.2h3.1v1.6h-3.1zM113.5 123.7h3.1v1.6h-3.1zM114.9 125.2h1.6v1.6h-1.6zM135.7 125.2h1.6v1.6h-1.6zM135.7 128.1h1.6v1.6h-1.6zM110.5 129.6h1.6v1.6h-1.6zM135.7 129.6h3.1v1.6h-3.1zM103.1 131.1h1.6v1.6h-1.6zM107.5 131.1h1.6v1.6h-1.6zM138.7 131.1h4.6v1.6h-4.6zM141.7 132.6h3.1v1.6h-3.1zM143.2 134.1h3.1v1.6h-3.1zM144.7 135.6h3.1v1.6h-3.1zM123.9 137.1h3.1v1.6h-3.1zM144.7 137.1h3.1v1.6h-3.1zM116.4 138.6h1.6v1.6h-1.6zM125.3 138.6h1.6v1.6h-1.6zM144.7 138.6h3.1v1.6h-3.1zM113.5 140.1h1.6v1.6h-1.6zM126.8 140.1h1.6v1.6h-1.6zM144.7 140.1h3.1v1.6h-3.1zM126.8 141.6h3.1v1.6h-3.1zM144.7 141.6h3.1v1.6h-3.1zM92.7 143.1h1.6v1.6h-1.6zM106.0 143.1h1.6v1.6h-1.6zM128.3 143.1h3.1v1.6h-3.1zM143.2 143.1h3.1v1.6h-3.1zM131.3 144.5h1.6v1.6h-1.6zM141.7 144.5h3.1v1.6h-3.1zM132.8 146.0h10.5v1.6h-10.5z"/>
<path fill="#ffe500" d="M114.9 117.7h4.6v1.6h-4.6zM113.5 119.2h3.1v1.6h-3.1zM119.4 119.2h3.1v1.6h-3.1zM112.0 120.7h3.1v1.6h-3.1zM120.9 120.7h1.6v1.6h-1.6zM113.5 122.2h3.1v1.6h-3.1zM119.4 122.2h12.0v1.6h-12.0zM116.4 123.7h3.1v1.6h-3.1zM134.3 123.7h1.6v1.6h-1.6zM116.4 125.2h1.6v1.6h-1.6zM114.9 126.6h1.6v1.6h-1.6zM135.7 126.6h1.6v1.6h-1.6zM94.1 128.1h1.6v1.6h-1.6zM113.5 128.1h1.6v1.6h-1.6zM98.6 129.6h1.6v1.6h-1.6zM134.3 129.6h1.6v1.6h-1.6zM132.8 131.1h6.0v1.6h-6.0zM135.7 132.6h6.0v1.6h-6.0zM140.2 134.1h3.1v1.6h-3.1zM123.9 135.6h4.6v1.6h-4.6zM141.7 135.6h3.1v1.6h-3.1zM119.4 137.1h1.6v1.6h-1.6zM126.8 137.1h1.6v1.6h-1.6zM141.7 137.1h3.1v1.6h-3.1zM126.8 138.6h1.6v1.6h-1.6zM141.7 138.6h3.1v1.6h-3.1zM128.3 140.1h1.6v1.6h-1.6zM141.7 140.1h3.1v1.6h-3.1zM129.8 141.6h1.6v1.6h-1.6zM141.7 141.6h3.1v1.6h-3.1zM94.1 143.1h1.6v1.6h-1.6zM104.5 143.1h1.6v1.6h-1.6zM131.3 143.1h4.6v1.6h-4.6zM138.7 143.1h4.6v1.6h-4.6zM132.8 144.5h9.0v1.6h-9.0z"/>
<path fill="#990000" d="M92.7 119.2h3.1v1.6h-3.1zM92.7 120.7h3.1v1.6h-3.1z"/>
<path fill="#ffff00" d="M116.4 119.2h3.1v1.6h-3.1zM114.9 120.7h6.0v1.6h-6.0zM116.4 122.2h3.1v1.6h-3.1zM119.4 123.7h3.1v1.6h-3.1zM117.9 125.2h1.6v1.6h-1.6zM92.7 128.1h1.6v1.6h-1.6zM134.3 128.1h1.6v1.6h-1.6zM132.8 129.6h1.6v1.6h-1.6zM109.0 131.1h1.6v1.6h-1.6zM131.3 131.1h1.6v1.6h-1.6zM129.8 132.6h6.0v1.6h-6.0zM126.8 134.1h13.5v1.6h-13.5zM122.4 135.6h1.6v1.6h-1.6zM128.3 135.6h3.1v1.6h-3.1zM135.7 135.6h6.0v1.6h-6.0zM128.3 137.1h3.1v1.6h-3.1zM137.2 137.1h4.6v1.6h-4.6zM128.3 138.6h3.1v1.6h-3.1zM138.7 138.6h3.1v1.6h-3.1zM112.0 140.1h1.6v1.6h-1.6zM129.8 140.1h4.6v1.6h-4.6zM135.7 140.1h6.0v1.6h-6.0zM109.0 141.6h1.6v1.6h-1.6zM131.3 141.6h10.5v1.6h-10.5zM95.6 143.1h1.6v1.6h-1.6zM103.1 143.1h1.6v1.6h-1.6zM135.7 143.1h3.1v1.6h-3.1z"/>
<path fill="#e5ff1a" d="M122.4 123.7h1.6v1.6h-1.6zM132.8 123.7h1.6v1.6h-1.6zM119.4 125.2h1.6v1.6h-1.6zM134.3 125.2h1.6v1.6h-1.6zM116.4 126.6h1.6v1.6h-1.6zM134.3 126.6h1.6v1.6h-1.6zM91.2 128.1h1.6v1.6h-1.6zM112.0 129.6h1.6v1.6h-1.6zM101.6 131.1h1.6v1.6h-1.6zM128.3 132.6h1.6v1.6h-1.6zM125.3 134.1h1.6v1.6h-1.6zM120.9 135.6h1.6v1.6h-1.6zM131.3 135.6h4.6v1.6h-4.6zM117.9 137.1h1.6v1.6h-1.6zM131.3 137.1h6.0v1.6h-6.0zM114.9 138.6h1.6v1.6h-1.6zM131.3 138.6h7.5v1.6h-7.5zM134.3 140.1h1.6v1.6h-1.6zM101.6 143.1h1.6v1.6h-1.6z"/>
<path fill="#ccff33" d="M123.9 123.7h3.1v1.6h-3.1zM131.3 123.7h1.6v1.6h-1.6zM132.8 125.2h1.6v1.6h-1.6zM89.7 128.1h1.6v1.6h-1.6zM114.9 128.1h1.6v1.6h-1.6zM132.8 128.1h1.6v1.6h-1.6zM97.1 129.6h1.6v1.6h-1.6zM131.3 129.6h1.6v1.6h-1.6zM129.8 131.1h1.6v1.6h-1.6zM104.5 132.6h3.1v1.6h-3.1zM126.8 132.6h1.6v1.6h-1.6zM123.9 134.1h1.6v1.6h-1.6zM97.1 143.1h1.6v1.6h-1.6zM100.1 143.1h1.6v1.6h-1.6z"/>
<path fill="#b3ff4c" d="M126.8 123.7h4.6v1.6h-4.6zM120.9 125.2h1.6v1.6h-1.6zM117.9 126.6h1.6v1.6h-1.6zM132.8 126.6h1.6v1.6h-1.6zM85.2 128.1h4.6v1.6h-4.6zM113.5 129.6h1.6v1.6h-1.6zM110.5 131.1h1.6v1.6h-1.6zM119.4 135.6h1.6v1.6h-1.6zM116.4 137.1h1.6v1.6h-1.6zM85.2 141.6h4.6v1.6h-4.6zM107.5 141.6h1.6v1.6h-1.6zM98.6 143.1h1.6v1.6h-1.6z"/>
<path fill="#80ff80" d="M122.4 125.2h3.1v1.6h-3.1zM128.3 125.2h3.1v1.6h-3.1zM119.4 126.6h1.6v1.6h-1.6zM131.3 126.6h1.6v1.6h-1.6zM95.6 129.6h1.6v1.6h-1.6zM112.0 131.1h1.6v1.6h-1.6zM126.8 131.1h1.6v1.6h-1.6zM120.9 134.1h1.6v1.6h-1.6zM117.9 135.6h1.6v1.6h-1.6z"/>
<path fill="#66ff99" d="M125.3 125.2h3.1v1.6h-3.1zM120.9 126.6h1.6v1.6h-1.6zM128.3 126.6h3.1v1.6h-3.1zM117.9 128.1h1.6v1.6h-1.6zM129.8 128.1h1.6v1.6h-1.6zM114.9 129.6h1.6v1.6h-1.6zM128.3 129.6h1.6v1.6h-1.6zM103.1 132.6h1.6v1.6h-1.6zM109.0 132.6h1.6v1.6h-1.6zM123.9 132.6h1.6v1.6h-1.6zM114.9 137.1h1.6v1.6h-1.6zM112.0 138.6h1.6v1.6h-1.6zM92.7 141.6h1.6v1.6h-1.6z"/>
<path fill="#99ff66" d="M131.3 125.2h1.6v1.6h-1.6zM116.4 128.1h1.6v1.6h-1.6zM131.3 128.1h1.6v1.6h-1.6zM129.8 129.6h1.6v1.6h-1.6zM100.1 131.1h1.6v1.6h-1.6zM128.3 131.1h1.6v1.6h-1.6zM107.5 132.6h1.6v1.6h-1.6zM125.3 132.6h1.6v1.6h-1.6zM122.4 134.1h1.6v1.6h-1.6zM113.5 138.6h1.6v1.6h-1.6zM110.5 140.1h1.6v1.6h-1.6zM89.7 141.6h3.1v1.6h-3.1z"/>
<path fill="#4dffb2" d="M122.4 126.6h6.0v1.6h-6.0zM119.4 128.1h1.6v1.6h-1.6zM126.8 128.1h3.1v1.6h-3.1zM116.4 129.6h1.6v1.6h-1.6zM126.8 129.6h1.6v1.6h-1.6zM98.6 131.1h1.6v1.6h-1.6zM113.5 131.1h1.6v1.6h-1.6zM125.3 131.1h1.6v1.6h-1.6zM110.5 132.6h1.6v1.6h-1.6zM122.4 132.6h1.6v1.6h-1.6zM119.4 134.1h1.6v1.6h-1.6zM116.4 135.6h1.6v1.6h-1.6zM109.0 140.1h1.6v1.6h-1.6zM94.1 141.6h1.6v1.6h-1.6zM106.0 141.6h1.6v1.6h-1.6z"/>
<path fill="#33ffcc" d="M120.9 128.1h6.0v1.6h-6.0zM94.1 129.6h1.6v1.6h-1.6zM117.9 129.6h9.0v1.6h-9.0zM114.9 131.1h10.5v1.6h-10.5zM112.0 132.6h1.6v1.6h-1.6zM117.9 132.6h4.6v1.6h-4.6zM116.4 134.1h3.1v1.6h-3.1zM114.9 135.6h1.6v1.6h-1.6zM113.5 137.1h1.6v1.6h-1.6zM104.5 141.6h1.6v1.6h-1.6z"/>
<path fill="#00ccff" d="M85.2 129.6h4.6v1.6h-4.6zM107.5 135.6h3.1v1.6h-3.1zM109.0 137.1h1.6v1.6h-1.6zM85.2 140.1h4.6v1.6h-4.6zM106.0 140.1h1.6v1.6h-1.6zM98.6 141.6h1.6v1.6h-1.6z"/>
<path fill="#00e5ff" d="M89.7 129.6h1.6v1.6h-1.6zM97.1 131.1h1.6v1.6h-1.6zM110.5 135.6h1.6v1.6h-1.6zM110.5 137.1h1.6v1.6h-1.6zM109.0 138.6h1.6v1.6h-1.6zM97.1 141.6h1.6v1.6h-1.6zM100.1 141.6h1.6v1.6h-1.6z"/>
<path fill="#00ffff" d="M91.2 129.6h3.1v1.6h-3.1zM104.5 134.1h1.6v1.6h-1.6zM107.5 134.1h4.6v1.6h-4.6zM112.0 135.6h1.6v1.6h-1.6zM107.5 140.1h1.6v1.6h-1.6zM101.6 141.6h1.6v1.6h-1.6z"/>
<path fill="#0000ff" d="M85.2 131.1h4.6v1.6h-4.6zM95.6 132.6h1.6v1.6h-1.6zM98.6 134.1h1.6v1.6h-1.6zM101.6 137.1h1.6v1.6h-1.6zM89.7 138.6h3.1v1.6h-3.1z"/>
<path fill="#001aff" d="M89.7 131.1h3.1v1.6h-3.1zM100.1 134.1h1.6v1.6h-1.6zM101.6 135.6h1.6v1.6h-1.6zM85.2 138.6h4.6v1.6h-4.6zM101.6 138.6h1.6v1.6h-1.6zM98.6 140.1h1.6v1.6h-1.6z"/>
<path fill="#0033ff" d="M92.7 131.1h1.6v1.6h-1.6zM97.1 132.6h1.6v1.6h-1.6zM103.1 137.1h1.6v1.6h-1.6zM103.1 138.6h1.6v1.6h-1.6zM97.1 140.1h1.6v1.6h-1.6zM100.1 140.1h1.6v1.6h-1.6z"/>
<path fill="#0066ff" d="M94.1 131.1h1.6v1.6h-1.6zM101.6 134.1h1.6v1.6h-1.6zM104.5 137.1h1.6v1.6h-1.6zM104.5 138.6h1.6v1.6h-1.6zM94.1 140.1h1.6v1.6h-1.6z"/>
<path fill="#0099ff" d="M95.6 131.1h1.6v1.6h-1.6zM106.0 138.6h1.6v1.6h-1.6zM104.5 140.1h1.6v1.6h-1.6z"/>
<path fill="#0000b2" d="M85.2 132.6h7.6v1.6h-7.6zM94.1 134.1h1.6v1.6h-1.6zM94.1 135.6h4.6v1.6h-4.6zM85.2 137.1h12.0v1.6h-12.0z"/>
<path fill="#0000cc" d="M92.7 132.6h1.6v1.6h-1.6zM95.6 134.1h3.1v1.6h-3.1zM98.6 135.6h1.6v1.6h-1.6zM97.1 137.1h4.6v1.6h-4.6zM97.1 138.6h1.6v1.6h-1.6z"/>
<path fill="#0000e6" d="M94.1 132.6h1.6v1.6h-1.6zM100.1 135.6h1.6v1.6h-1.6zM92.7 138.6h4.6v1.6h-4.6zM98.6 138.6h3.1v1.6h-3.1z"/>
<path fill="#0080ff" d="M98.6 132.6h1.6v1.6h-1.6zM104.5 135.6h1.6v1.6h-1.6zM106.0 137.1h1.6v1.6h-1.6zM92.7 140.1h1.6v1.6h-1.6zM103.1 140.1h1.6v1.6h-1.6z"/>
<path fill="#00b2ff" d="M100.1 132.6h1.6v1.6h-1.6zM103.1 134.1h1.6v1.6h-1.6zM106.0 135.6h1.6v1.6h-1.6zM107.5 137.1h1.6v1.6h-1.6zM107.5 138.6h1.6v1.6h-1.6zM89.7 140.1h3.1v1.6h-3.1z"/>
<path fill="#1affe5" d="M101.6 132.6h1.6v1.6h-1.6zM113.5 132.6h4.6v1.6h-4.6zM106.0 134.1h1.6v1.6h-1.6zM112.0 134.1h4.6v1.6h-4.6zM113.5 135.6h1.6v1.6h-1.6zM112.0 137.1h1.6v1.6h-1.6zM110.5 138.6h1.6v1.6h-1.6zM95.6 141.6h1.6v1.6h-1.6zM103.1 141.6h1.6v1.6h-1.6z"/>
<path fill="#000099" d="M85.2 134.1h9.0v1.6h-9.0zM85.2 135.6h9.0v1.6h-9.0z"/>
<path fill="#004dff" d="M103.1 135.6h1.6v1.6h-1.6zM95.6 140.1h1.6v1.6h-1.6zM101.6 140.1h1.6v1.6h-1.6z"/>
</g></g>
<rect x="88.2" y="116.2" width="62.4" height="35.8" fill="none" stroke="#999" stroke-width="0.25"/>
<text x="119.4" y="114.6" font-size="2.9" text-anchor="middle" style="font-family:'Liberation Sans',sans-serif;fill:#555;fill:#444">Epoch xx</text>
<rect x="155.0" y="114.9" width="3.3" height="38.4" fill="url(#jetv)"/>
<text x="159.6" y="117.6" font-size="2.6" style="font-family:'Liberation Sans',sans-serif;fill:#555;fill:#333;stroke:#555;stroke-width:0.05">0.450</text>
<text x="159.6" y="121.5" font-size="2.6" style="font-family:'Liberation Sans',sans-serif;fill:#555;fill:#333;stroke:#555;stroke-width:0.05">0.350</text>
<text x="159.6" y="125.3" font-size="2.6" style="font-family:'Liberation Sans',sans-serif;fill:#555;fill:#333;stroke:#555;stroke-width:0.05">0.250</text>
<text x="159.6" y="129.1" font-size="2.6" style="font-family:'Liberation Sans',sans-serif;fill:#555;fill:#333;stroke:#555;stroke-width:0.05">0.150</text>
<text x="159.6" y="133.0" font-size="2.6" style="font-family:'Liberation Sans',sans-serif;fill:#555;fill:#333;stroke:#555;stroke-width:0.05">0.050</text>
<text x="159.6" y="136.8" font-size="2.6" style="font-family:'Liberation Sans',sans-serif;fill:#555;fill:#333;stroke:#555;stroke-width:0.05">-0.050</text>
<text x="159.6" y="140.7" font-size="2.6" style="font-family:'Liberation Sans',sans-serif;fill:#555;fill:#333;stroke:#555;stroke-width:0.05">-0.150</text>
<text x="159.6" y="144.5" font-size="2.6" style="font-family:'Liberation Sans',sans-serif;fill:#555;fill:#333;stroke:#555;stroke-width:0.05">-0.250</text>
<text x="159.6" y="148.3" font-size="2.6" style="font-family:'Liberation Sans',sans-serif;fill:#555;fill:#333;stroke:#555;stroke-width:0.05">-0.350</text>
<text x="159.6" y="152.2" font-size="2.6" style="font-family:'Liberation Sans',sans-serif;fill:#555;fill:#333;stroke:#555;stroke-width:0.05">-0.450</text>
<text x="86.0" y="117.0" font-size="2.3" text-anchor="end" style="font-family:'Liberation Sans',sans-serif;fill:#555">2</text>
<text x="86.0" y="126.0" font-size="2.3" text-anchor="end" style="font-family:'Liberation Sans',sans-serif;fill:#555">1</text>
<text x="86.0" y="134.9" font-size="2.3" text-anchor="end" style="font-family:'Liberation Sans',sans-serif;fill:#555">0</text>
<text x="86.0" y="143.9" font-size="2.3" text-anchor="end" style="font-family:'Liberation Sans',sans-serif;fill:#555">-1</text>
<text x="86.0" y="152.8" font-size="2.3" text-anchor="end" style="font-family:'Liberation Sans',sans-serif;fill:#555">-2</text>
<text x="88.2" y="155.2" font-size="2.3" text-anchor="middle" style="font-family:'Liberation Sans',sans-serif;fill:#555">0</text>
<text x="96.0" y="155.2" font-size="2.3" text-anchor="middle" style="font-family:'Liberation Sans',sans-serif;fill:#555">1</text>
<text x="103.8" y="155.2" font-size="2.3" text-anchor="middle" style="font-family:'Liberation Sans',sans-serif;fill:#555">2</text>
<text x="111.6" y="155.2" font-size="2.3" text-anchor="middle" style="font-family:'Liberation Sans',sans-serif;fill:#555">3</text>
<text x="119.4" y="155.2" font-size="2.3" text-anchor="middle" style="font-family:'Liberation Sans',sans-serif;fill:#555">4</text>
<text x="127.2" y="155.2" font-size="2.3" text-anchor="middle" style="font-family:'Liberation Sans',sans-serif;fill:#555">5</text>
<text x="135.0" y="155.2" font-size="2.3" text-anchor="middle" style="font-family:'Liberation Sans',sans-serif;fill:#555">6</text>
<text x="142.8" y="155.2" font-size="2.3" text-anchor="middle" style="font-family:'Liberation Sans',sans-serif;fill:#555">7</text>
<text x="150.6" y="155.2" font-size="2.3" text-anchor="middle" style="font-family:'Liberation Sans',sans-serif;fill:#555">8</text>
<text x="119.4" y="158.4" font-size="2.6" text-anchor="middle" style="font-family:'Liberation Sans',sans-serif;fill:#555">x</text>
<text x="82.7" y="134.9" font-size="2.6" text-anchor="middle" style="font-family:'Liberation Sans',sans-serif;fill:#555">y</text>
<clipPath id="ceN"><rect x="87.90" y="191.20" width="63.10" height="36.90"/></clipPath>
<g clip-path="url(#ceN)"><g filter="url(#bl)" shape-rendering="crispEdges">
<path fill="#e5ff1a" d="M84.9 188.2h24.1v4.6h-24.1zM122.5 188.2h1.6v4.6h-1.6zM142.0 188.2h1.6v4.6h-1.6zM149.5 188.2h4.6v4.6h-4.6zM84.9 192.7h21.1v1.6h-21.1zM122.5 192.7h1.6v1.6h-1.6zM84.9 194.2h18.1v1.6h-18.1zM122.5 194.2h1.6v1.6h-1.6zM84.9 195.6h15.1v1.6h-15.1zM122.5 195.6h1.6v1.6h-1.6zM84.9 197.1h12.1v1.6h-12.1zM122.5 197.1h1.6v1.6h-1.6zM84.9 198.6h12.1v1.6h-12.1zM84.9 200.1h4.6v1.6h-4.6zM95.4 200.1h1.6v1.6h-1.6zM140.5 201.5h1.6v1.6h-1.6zM96.9 203.0h1.6v1.6h-1.6zM121.0 203.0h1.6v1.6h-1.6zM119.5 207.4h1.6v1.6h-1.6zM117.9 210.4h1.6v1.6h-1.6zM98.4 211.9h1.6v1.6h-1.6zM98.4 213.3h1.6v1.6h-1.6zM116.4 213.3h1.6v1.6h-1.6zM98.4 214.8h1.6v1.6h-1.6zM114.9 216.3h1.6v1.6h-1.6zM84.9 217.8h6.1v1.6h-6.1zM89.4 219.2h7.6v1.6h-7.6zM113.4 219.2h1.6v1.6h-1.6zM113.4 220.7h1.6v1.6h-1.6zM111.9 222.2h3.1v1.6h-3.1zM111.9 223.7h3.1v1.6h-3.1zM139.0 223.7h1.6v1.6h-1.6zM111.9 225.1h3.1v1.6h-3.1zM139.0 225.1h1.6v1.6h-1.6zM111.9 226.6h4.6v4.6h-4.6zM137.5 226.6h3.1v4.6h-3.1z"/>
<path fill="#ccff33" d="M108.9 188.2h3.1v4.6h-3.1zM119.5 188.2h3.1v4.6h-3.1zM148.0 188.2h1.6v4.6h-1.6zM105.9 192.7h1.6v1.6h-1.6zM121.0 192.7h1.6v1.6h-1.6zM142.0 192.7h1.6v1.6h-1.6zM148.0 192.7h6.1v1.6h-6.1zM102.9 194.2h3.1v1.6h-3.1zM142.0 194.2h1.6v1.6h-1.6zM149.5 194.2h4.6v1.6h-4.6zM99.9 195.6h3.1v1.6h-3.1zM149.5 195.6h4.6v1.6h-4.6zM96.9 197.1h4.6v1.6h-4.6zM149.5 197.1h4.6v1.6h-4.6zM96.9 198.6h3.1v1.6h-3.1zM96.9 200.1h1.6v1.6h-1.6zM96.9 201.5h1.6v1.6h-1.6zM140.5 203.0h1.6v1.6h-1.6zM98.4 208.9h1.6v1.6h-1.6zM98.4 210.4h1.6v1.6h-1.6zM98.4 216.3h1.6v1.6h-1.6zM113.4 217.8h1.6v1.6h-1.6zM84.9 219.2h4.6v1.6h-4.6zM96.9 219.2h1.6v1.6h-1.6zM84.9 220.7h12.1v1.6h-12.1zM111.9 220.7h1.6v1.6h-1.6zM84.9 222.2h12.1v1.6h-12.1zM110.4 222.2h1.6v1.6h-1.6zM140.5 222.2h1.6v1.6h-1.6zM149.5 222.2h4.6v1.6h-4.6zM84.9 223.7h13.6v1.6h-13.6zM105.9 223.7h6.1v1.6h-6.1zM140.5 223.7h1.6v1.6h-1.6zM149.5 223.7h4.6v1.6h-4.6zM84.9 225.1h27.1v1.6h-27.1zM140.5 225.1h1.6v1.6h-1.6zM149.5 225.1h4.6v1.6h-4.6zM84.9 226.6h27.1v4.6h-27.1zM140.5 226.6h1.6v4.6h-1.6zM148.0 226.6h6.1v4.6h-6.1z"/>
<path fill="#b3ff4c" d="M111.9 188.2h7.6v4.6h-7.6zM143.5 188.2h4.6v4.6h-4.6zM107.4 192.7h3.1v1.6h-3.1zM105.9 194.2h1.6v1.6h-1.6zM121.0 194.2h1.6v1.6h-1.6zM148.0 194.2h1.6v1.6h-1.6zM102.9 195.6h1.6v1.6h-1.6zM101.4 197.1h1.6v1.6h-1.6zM149.5 198.6h4.6v1.6h-4.6zM98.4 200.1h1.6v1.6h-1.6zM121.0 201.5h1.6v1.6h-1.6zM140.5 204.5h1.6v1.6h-1.6zM119.5 206.0h1.6v1.6h-1.6zM140.5 206.0h1.6v1.6h-1.6zM98.4 207.4h1.6v1.6h-1.6zM114.9 214.8h1.6v1.6h-1.6zM98.4 217.8h1.6v1.6h-1.6zM140.5 217.8h1.6v1.6h-1.6zM111.9 219.2h1.6v1.6h-1.6zM140.5 219.2h1.6v1.6h-1.6zM149.5 219.2h4.6v1.6h-4.6zM96.9 220.7h1.6v1.6h-1.6zM110.4 220.7h1.6v1.6h-1.6zM140.5 220.7h1.6v1.6h-1.6zM149.5 220.7h4.6v1.6h-4.6zM96.9 222.2h3.1v1.6h-3.1zM105.9 222.2h4.6v1.6h-4.6zM98.4 223.7h7.6v1.6h-7.6zM148.0 225.1h1.6v1.6h-1.6zM142.0 226.6h1.6v4.6h-1.6zM146.5 226.6h1.6v4.6h-1.6z"/>
<path fill="#ffe500" d="M124.0 188.2h1.6v4.6h-1.6zM139.0 188.2h1.6v4.6h-1.6zM124.0 192.7h1.6v1.6h-1.6zM140.5 192.7h1.6v1.6h-1.6zM124.0 194.2h1.6v1.6h-1.6zM140.5 194.2h1.6v1.6h-1.6zM140.5 195.6h1.6v1.6h-1.6zM122.5 200.1h1.6v1.6h-1.6zM89.4 201.5h1.6v1.6h-1.6zM93.9 201.5h1.6v1.6h-1.6zM121.0 204.5h1.6v1.6h-1.6zM117.9 211.9h1.6v1.6h-1.6zM84.9 214.8h4.6v1.6h-4.6zM116.4 214.8h1.6v1.6h-1.6zM89.4 216.3h1.6v1.6h-1.6zM96.9 216.3h1.6v1.6h-1.6zM92.4 217.8h1.6v1.6h-1.6zM95.4 217.8h1.6v1.6h-1.6zM114.9 219.2h1.6v1.6h-1.6zM139.0 219.2h1.6v1.6h-1.6zM114.9 220.7h1.6v1.6h-1.6zM137.5 222.2h1.6v1.6h-1.6zM116.4 223.7h1.6v1.6h-1.6zM136.0 223.7h1.6v1.6h-1.6zM116.4 225.1h1.6v1.6h-1.6zM117.9 226.6h1.6v4.6h-1.6zM133.0 226.6h1.6v4.6h-1.6z"/>
<path fill="#ffcc00" d="M125.5 188.2h3.1v4.6h-3.1zM137.5 188.2h1.6v4.6h-1.6zM125.5 192.7h1.6v1.6h-1.6zM139.0 192.7h1.6v1.6h-1.6zM124.0 195.6h1.6v1.6h-1.6zM90.9 201.5h3.1v1.6h-3.1zM122.5 201.5h1.6v1.6h-1.6zM84.9 203.0h4.6v1.6h-4.6zM95.4 203.0h1.6v1.6h-1.6zM96.9 206.0h1.6v1.6h-1.6zM119.5 208.9h1.6v1.6h-1.6zM116.4 216.3h1.6v1.6h-1.6zM139.0 216.3h1.6v1.6h-1.6zM93.9 217.8h1.6v1.6h-1.6zM139.0 217.8h1.6v1.6h-1.6zM116.4 220.7h1.6v1.6h-1.6zM137.5 220.7h1.6v1.6h-1.6zM116.4 222.2h1.6v1.6h-1.6zM117.9 223.7h1.6v1.6h-1.6zM117.9 225.1h1.6v1.6h-1.6zM134.5 225.1h1.6v1.6h-1.6zM119.5 226.6h1.6v4.6h-1.6zM131.5 226.6h1.6v4.6h-1.6z"/>
<path fill="#ffb300" d="M128.5 188.2h1.6v4.6h-1.6zM134.5 188.2h3.1v4.6h-3.1zM127.0 192.7h1.6v1.6h-1.6zM137.5 192.7h1.6v1.6h-1.6zM125.5 194.2h1.6v1.6h-1.6zM139.0 194.2h1.6v1.6h-1.6zM139.0 195.6h1.6v1.6h-1.6zM124.0 197.1h1.6v1.6h-1.6zM121.0 206.0h1.6v1.6h-1.6zM84.9 213.3h4.6v1.6h-4.6zM117.9 213.3h1.6v1.6h-1.6zM89.4 214.8h1.6v1.6h-1.6zM96.9 214.8h1.6v1.6h-1.6zM139.0 214.8h1.6v1.6h-1.6zM90.9 216.3h1.6v1.6h-1.6zM116.4 217.8h1.6v1.6h-1.6zM116.4 219.2h1.6v1.6h-1.6zM137.5 219.2h1.6v1.6h-1.6zM117.9 222.2h1.6v1.6h-1.6zM136.0 222.2h1.6v1.6h-1.6zM134.5 223.7h1.6v1.6h-1.6zM119.5 225.1h1.6v1.6h-1.6zM133.0 225.1h1.6v1.6h-1.6zM121.0 226.6h3.1v4.6h-3.1zM130.0 226.6h1.6v4.6h-1.6z"/>
<path fill="#ff9900" d="M130.0 188.2h4.6v4.6h-4.6zM128.5 192.7h1.6v1.6h-1.6zM136.0 192.7h1.6v1.6h-1.6zM137.5 194.2h1.6v1.6h-1.6zM125.5 195.6h1.6v1.6h-1.6zM139.0 197.1h1.6v1.6h-1.6zM124.0 198.6h1.6v1.6h-1.6zM89.4 203.0h1.6v1.6h-1.6zM93.9 203.0h1.6v1.6h-1.6zM122.5 203.0h1.6v1.6h-1.6zM84.9 204.5h4.6v1.6h-4.6zM96.9 207.4h1.6v1.6h-1.6zM119.5 210.4h1.6v1.6h-1.6zM139.0 211.9h1.6v1.6h-1.6zM96.9 213.3h1.6v1.6h-1.6zM139.0 213.3h1.6v1.6h-1.6zM92.4 216.3h1.6v1.6h-1.6zM95.4 216.3h1.6v1.6h-1.6zM137.5 217.8h1.6v1.6h-1.6zM117.9 220.7h1.6v1.6h-1.6zM136.0 220.7h1.6v1.6h-1.6zM134.5 222.2h1.6v1.6h-1.6zM119.5 223.7h1.6v1.6h-1.6zM133.0 223.7h1.6v1.6h-1.6zM121.0 225.1h1.6v1.6h-1.6zM131.5 225.1h1.6v1.6h-1.6zM124.0 226.6h6.1v4.6h-6.1z"/>
<path fill="#ffff00" d="M140.5 188.2h1.6v4.6h-1.6zM140.5 197.1h1.6v1.6h-1.6zM122.5 198.6h1.6v1.6h-1.6zM140.5 198.6h1.6v1.6h-1.6zM89.4 200.1h6.1v1.6h-6.1zM140.5 200.1h1.6v1.6h-1.6zM84.9 201.5h4.6v1.6h-4.6zM95.4 201.5h1.6v1.6h-1.6zM96.9 204.5h1.6v1.6h-1.6zM84.9 216.3h4.6v1.6h-4.6zM90.9 217.8h1.6v1.6h-1.6zM96.9 217.8h1.6v1.6h-1.6zM114.9 217.8h1.6v1.6h-1.6zM139.0 220.7h1.6v1.6h-1.6zM114.9 222.2h1.6v1.6h-1.6zM139.0 222.2h1.6v1.6h-1.6zM114.9 223.7h1.6v1.6h-1.6zM137.5 223.7h1.6v1.6h-1.6zM114.9 225.1h1.6v1.6h-1.6zM136.0 225.1h3.1v1.6h-3.1zM116.4 226.6h1.6v4.6h-1.6zM134.5 226.6h3.1v4.6h-3.1z"/>
<path fill="#99ff66" d="M110.4 192.7h1.6v1.6h-1.6zM119.5 192.7h1.6v1.6h-1.6zM143.5 192.7h1.6v1.6h-1.6zM146.5 192.7h1.6v1.6h-1.6zM104.4 195.6h1.6v1.6h-1.6zM121.0 195.6h1.6v1.6h-1.6zM142.0 195.6h1.6v1.6h-1.6zM148.0 195.6h1.6v1.6h-1.6zM99.9 198.6h1.6v1.6h-1.6zM121.0 200.1h1.6v1.6h-1.6zM149.5 200.1h4.6v1.6h-4.6zM98.4 201.5h1.6v1.6h-1.6zM149.5 201.5h4.6v1.6h-4.6zM98.4 206.0h1.6v1.6h-1.6zM140.5 207.4h1.6v1.6h-1.6zM117.9 208.9h1.6v1.6h-1.6zM140.5 208.9h1.6v1.6h-1.6zM140.5 210.4h1.6v1.6h-1.6zM116.4 211.9h1.6v1.6h-1.6zM140.5 213.3h1.6v1.6h-1.6zM140.5 214.8h1.6v1.6h-1.6zM113.4 216.3h1.6v1.6h-1.6zM140.5 216.3h1.6v1.6h-1.6zM149.5 216.3h4.6v1.6h-4.6zM111.9 217.8h1.6v1.6h-1.6zM149.5 217.8h4.6v1.6h-4.6zM98.4 219.2h1.6v1.6h-1.6zM110.4 219.2h1.6v1.6h-1.6zM98.4 220.7h3.1v1.6h-3.1zM107.4 220.7h3.1v1.6h-3.1zM99.9 222.2h6.1v1.6h-6.1zM148.0 223.7h1.6v1.6h-1.6zM142.0 225.1h1.6v1.6h-1.6zM146.5 225.1h1.6v1.6h-1.6zM143.5 226.6h3.1v4.6h-3.1z"/>
<path fill="#80ff80" d="M111.9 192.7h3.1v1.6h-3.1zM116.4 192.7h3.1v1.6h-3.1zM145.0 192.7h1.6v1.6h-1.6zM107.4 194.2h1.6v1.6h-1.6zM119.5 194.2h1.6v1.6h-1.6zM146.5 194.2h1.6v1.6h-1.6zM102.9 197.1h1.6v1.6h-1.6zM121.0 197.1h1.6v1.6h-1.6zM142.0 197.1h1.6v1.6h-1.6zM148.0 197.1h1.6v1.6h-1.6zM101.4 198.6h1.6v1.6h-1.6zM121.0 198.6h1.6v1.6h-1.6zM99.9 200.1h1.6v1.6h-1.6zM98.4 203.0h1.6v1.6h-1.6zM149.5 203.0h4.6v1.6h-4.6zM98.4 204.5h1.6v1.6h-1.6zM119.5 204.5h1.6v1.6h-1.6zM149.5 204.5h4.6v1.6h-4.6zM140.5 211.9h1.6v1.6h-1.6zM149.5 213.3h4.6v1.6h-4.6zM149.5 214.8h4.6v1.6h-4.6zM99.9 219.2h1.6v1.6h-1.6zM101.4 220.7h1.6v1.6h-1.6zM105.9 220.7h1.6v1.6h-1.6zM148.0 222.2h1.6v1.6h-1.6zM142.0 223.7h1.6v1.6h-1.6zM143.5 225.1h1.6v1.6h-1.6z"/>
<path fill="#66ff99" d="M114.9 192.7h1.6v1.6h-1.6zM108.9 194.2h1.6v1.6h-1.6zM143.5 194.2h1.6v1.6h-1.6zM105.9 195.6h1.6v1.6h-1.6zM149.5 206.0h4.6v1.6h-4.6zM149.5 207.4h4.6v1.6h-4.6zM149.5 208.9h4.6v1.6h-4.6zM149.5 210.4h4.6v1.6h-4.6zM149.5 211.9h4.6v1.6h-4.6zM114.9 213.3h1.6v1.6h-1.6zM99.9 216.3h1.6v1.6h-1.6zM99.9 217.8h1.6v1.6h-1.6zM108.9 219.2h1.6v1.6h-1.6zM102.9 220.7h3.1v1.6h-3.1zM148.0 220.7h1.6v1.6h-1.6zM142.0 222.2h1.6v1.6h-1.6zM146.5 223.7h1.6v1.6h-1.6zM145.0 225.1h1.6v1.6h-1.6z"/>
<path fill="#ff8000" d="M130.0 192.7h6.1v1.6h-6.1zM127.0 194.2h1.6v1.6h-1.6zM136.0 194.2h1.6v1.6h-1.6zM137.5 195.6h1.6v1.6h-1.6zM125.5 197.1h1.6v1.6h-1.6zM139.0 198.6h1.6v1.6h-1.6zM124.0 200.1h1.6v1.6h-1.6zM139.0 200.1h1.6v1.6h-1.6zM139.0 201.5h1.6v1.6h-1.6zM90.9 203.0h3.1v1.6h-3.1zM95.4 204.5h1.6v1.6h-1.6zM84.9 206.0h4.6v1.6h-4.6zM139.0 206.0h1.6v1.6h-1.6zM121.0 207.4h1.6v1.6h-1.6zM139.0 207.4h1.6v1.6h-1.6zM96.9 208.9h1.6v1.6h-1.6zM139.0 208.9h1.6v1.6h-1.6zM96.9 210.4h1.6v1.6h-1.6zM139.0 210.4h1.6v1.6h-1.6zM84.9 211.9h4.6v1.6h-4.6zM96.9 211.9h1.6v1.6h-1.6zM117.9 214.8h1.6v1.6h-1.6zM93.9 216.3h1.6v1.6h-1.6zM117.9 216.3h1.6v1.6h-1.6zM117.9 217.8h1.6v1.6h-1.6zM117.9 219.2h1.6v1.6h-1.6zM136.0 219.2h1.6v1.6h-1.6zM119.5 222.2h1.6v1.6h-1.6zM121.0 223.7h1.6v1.6h-1.6zM131.5 223.7h1.6v1.6h-1.6zM122.5 225.1h3.1v1.6h-3.1zM128.5 225.1h3.1v1.6h-3.1z"/>
<path fill="#4dffb2" d="M110.4 194.2h1.6v1.6h-1.6zM117.9 194.2h1.6v1.6h-1.6zM145.0 194.2h1.6v1.6h-1.6zM119.5 195.6h1.6v1.6h-1.6zM146.5 195.6h1.6v1.6h-1.6zM104.4 197.1h1.6v1.6h-1.6zM142.0 198.6h1.6v1.6h-1.6zM148.0 198.6h1.6v1.6h-1.6zM99.9 201.5h1.6v1.6h-1.6zM119.5 203.0h1.6v1.6h-1.6zM117.9 207.4h1.6v1.6h-1.6zM116.4 210.4h1.6v1.6h-1.6zM99.9 213.3h1.6v1.6h-1.6zM99.9 214.8h1.6v1.6h-1.6zM113.4 214.8h1.6v1.6h-1.6zM111.9 216.3h1.6v1.6h-1.6zM110.4 217.8h1.6v1.6h-1.6zM101.4 219.2h1.6v1.6h-1.6zM107.4 219.2h1.6v1.6h-1.6zM148.0 219.2h1.6v1.6h-1.6zM143.5 223.7h1.6v1.6h-1.6z"/>
<path fill="#33ffcc" d="M111.9 194.2h1.6v1.6h-1.6zM116.4 194.2h1.6v1.6h-1.6zM107.4 195.6h1.6v1.6h-1.6zM143.5 195.6h1.6v1.6h-1.6zM119.5 197.1h1.6v1.6h-1.6zM102.9 198.6h1.6v1.6h-1.6zM101.4 200.1h1.6v1.6h-1.6zM148.0 200.1h1.6v1.6h-1.6zM99.9 211.9h1.6v1.6h-1.6zM108.9 217.8h1.6v1.6h-1.6zM102.9 219.2h4.6v1.6h-4.6zM142.0 220.7h1.6v1.6h-1.6zM146.5 222.2h1.6v1.6h-1.6zM145.0 223.7h1.6v1.6h-1.6z"/>
<path fill="#1affe5" d="M113.4 194.2h3.1v1.6h-3.1zM117.9 195.6h1.6v1.6h-1.6zM145.0 195.6h1.6v1.6h-1.6zM105.9 197.1h1.6v1.6h-1.6zM119.5 198.6h1.6v1.6h-1.6zM119.5 200.1h1.6v1.6h-1.6zM142.0 200.1h1.6v1.6h-1.6zM119.5 201.5h1.6v1.6h-1.6zM99.9 203.0h1.6v1.6h-1.6zM117.9 206.0h1.6v1.6h-1.6zM99.9 210.4h1.6v1.6h-1.6zM114.9 211.9h1.6v1.6h-1.6zM101.4 217.8h1.6v1.6h-1.6zM148.0 217.8h1.6v1.6h-1.6zM142.0 219.2h1.6v1.6h-1.6zM143.5 222.2h1.6v1.6h-1.6z"/>
<path fill="#ff6600" d="M128.5 194.2h3.1v1.6h-3.1zM133.0 194.2h3.1v1.6h-3.1zM127.0 195.6h1.6v1.6h-1.6zM136.0 195.6h1.6v1.6h-1.6zM137.5 197.1h1.6v1.6h-1.6zM139.0 203.0h1.6v1.6h-1.6zM89.4 204.5h1.6v1.6h-1.6zM122.5 204.5h1.6v1.6h-1.6zM139.0 204.5h1.6v1.6h-1.6zM84.9 207.4h4.6v1.6h-4.6zM84.9 210.4h4.6v1.6h-4.6zM119.5 211.9h1.6v1.6h-1.6zM89.4 213.3h1.6v1.6h-1.6zM90.9 214.8h1.6v1.6h-1.6zM95.4 214.8h1.6v1.6h-1.6zM137.5 216.3h1.6v1.6h-1.6zM119.5 220.7h1.6v1.6h-1.6zM134.5 220.7h1.6v1.6h-1.6zM121.0 222.2h1.6v1.6h-1.6zM133.0 222.2h1.6v1.6h-1.6zM122.5 223.7h1.6v1.6h-1.6zM130.0 223.7h1.6v1.6h-1.6zM125.5 225.1h3.1v1.6h-3.1z"/>
<path fill="#ff4c00" d="M131.5 194.2h1.6v1.6h-1.6zM128.5 195.6h1.6v1.6h-1.6zM134.5 195.6h1.6v1.6h-1.6zM136.0 197.1h1.6v1.6h-1.6zM125.5 198.6h1.6v1.6h-1.6zM137.5 198.6h1.6v1.6h-1.6zM124.0 201.5h1.6v1.6h-1.6zM93.9 204.5h1.6v1.6h-1.6zM95.4 206.0h1.6v1.6h-1.6zM84.9 208.9h4.6v1.6h-4.6zM121.0 208.9h1.6v1.6h-1.6zM119.5 213.3h1.6v1.6h-1.6zM137.5 214.8h1.6v1.6h-1.6zM119.5 217.8h1.6v1.6h-1.6zM136.0 217.8h1.6v1.6h-1.6zM119.5 219.2h1.6v1.6h-1.6zM134.5 219.2h1.6v1.6h-1.6zM133.0 220.7h1.6v1.6h-1.6zM131.5 222.2h1.6v1.6h-1.6zM124.0 223.7h6.1v1.6h-6.1z"/>
<path fill="#00ffff" d="M108.9 195.6h1.6v1.6h-1.6zM143.5 197.1h1.6v1.6h-1.6zM146.5 197.1h1.6v1.6h-1.6zM104.4 198.6h1.6v1.6h-1.6zM142.0 201.5h1.6v1.6h-1.6zM148.0 201.5h1.6v1.6h-1.6zM99.9 208.9h1.6v1.6h-1.6zM116.4 208.9h1.6v1.6h-1.6zM113.4 213.3h1.6v1.6h-1.6zM101.4 216.3h1.6v1.6h-1.6zM110.4 216.3h1.6v1.6h-1.6zM148.0 216.3h1.6v1.6h-1.6zM102.9 217.8h1.6v1.6h-1.6zM107.4 217.8h1.6v1.6h-1.6zM146.5 220.7h1.6v1.6h-1.6zM145.0 222.2h1.6v1.6h-1.6z"/>
<path fill="#00e5ff" d="M110.4 195.6h1.6v1.6h-1.6zM116.4 195.6h1.6v1.6h-1.6zM117.9 197.1h1.6v1.6h-1.6zM102.9 200.1h1.6v1.6h-1.6zM101.4 201.5h1.6v1.6h-1.6zM148.0 203.0h1.6v1.6h-1.6zM99.9 204.5h1.6v1.6h-1.6zM99.9 206.0h1.6v1.6h-1.6zM99.9 207.4h1.6v1.6h-1.6zM111.9 214.8h1.6v1.6h-1.6zM104.4 217.8h3.1v1.6h-3.1zM142.0 217.8h1.6v1.6h-1.6z"/>
<path fill="#00ccff" d="M111.9 195.6h4.6v1.6h-4.6zM107.4 197.1h1.6v1.6h-1.6zM145.0 197.1h1.6v1.6h-1.6zM146.5 198.6h1.6v1.6h-1.6zM142.0 203.0h1.6v1.6h-1.6zM117.9 204.5h1.6v1.6h-1.6zM101.4 214.8h1.6v1.6h-1.6zM148.0 214.8h1.6v1.6h-1.6zM108.9 216.3h1.6v1.6h-1.6zM142.0 216.3h1.6v1.6h-1.6zM143.5 220.7h1.6v1.6h-1.6z"/>
<path fill="#ff3300" d="M130.0 195.6h4.6v1.6h-4.6zM127.0 197.1h1.6v1.6h-1.6zM125.5 200.1h1.6v1.6h-1.6zM137.5 200.1h1.6v1.6h-1.6zM137.5 201.5h1.6v1.6h-1.6zM124.0 203.0h1.6v1.6h-1.6zM90.9 204.5h3.1v1.6h-3.1zM89.4 206.0h1.6v1.6h-1.6zM122.5 206.0h1.6v1.6h-1.6zM89.4 211.9h1.6v1.6h-1.6zM137.5 211.9h1.6v1.6h-1.6zM95.4 213.3h1.6v1.6h-1.6zM137.5 213.3h1.6v1.6h-1.6zM92.4 214.8h3.1v1.6h-3.1zM119.5 214.8h1.6v1.6h-1.6zM119.5 216.3h1.6v1.6h-1.6zM136.0 216.3h1.6v1.6h-1.6zM121.0 220.7h1.6v1.6h-1.6zM122.5 222.2h3.1v1.6h-3.1zM130.0 222.2h1.6v1.6h-1.6z"/>
<path fill="#0099ff" d="M108.9 197.1h1.6v1.6h-1.6zM116.4 197.1h1.6v1.6h-1.6zM145.0 198.6h1.6v1.6h-1.6zM104.4 200.1h1.6v1.6h-1.6zM117.9 200.1h1.6v1.6h-1.6zM146.5 200.1h1.6v1.6h-1.6zM102.9 201.5h1.6v1.6h-1.6zM117.9 201.5h1.6v1.6h-1.6zM142.0 206.0h1.6v1.6h-1.6zM148.0 206.0h1.6v1.6h-1.6zM148.0 207.4h1.6v1.6h-1.6zM148.0 208.9h1.6v1.6h-1.6zM148.0 210.4h1.6v1.6h-1.6zM113.4 211.9h1.6v1.6h-1.6zM148.0 211.9h1.6v1.6h-1.6zM111.9 213.3h1.6v1.6h-1.6zM110.4 214.8h1.6v1.6h-1.6zM142.0 214.8h1.6v1.6h-1.6zM107.4 216.3h1.6v1.6h-1.6zM143.5 219.2h1.6v1.6h-1.6z"/>
<path fill="#0080ff" d="M110.4 197.1h1.6v1.6h-1.6zM114.9 197.1h1.6v1.6h-1.6zM143.5 200.1h1.6v1.6h-1.6zM116.4 206.0h1.6v1.6h-1.6zM142.0 207.4h1.6v1.6h-1.6zM142.0 208.9h1.6v1.6h-1.6zM142.0 210.4h1.6v1.6h-1.6zM101.4 211.9h1.6v1.6h-1.6zM142.0 211.9h1.6v1.6h-1.6zM142.0 213.3h1.6v1.6h-1.6zM104.4 216.3h3.1v1.6h-3.1zM146.5 217.8h1.6v1.6h-1.6z"/>
<path fill="#0066ff" d="M111.9 197.1h3.1v1.6h-3.1zM107.4 198.6h1.6v1.6h-1.6zM116.4 198.6h1.6v1.6h-1.6zM146.5 201.5h1.6v1.6h-1.6zM101.4 204.5h1.6v1.6h-1.6zM114.9 208.9h1.6v1.6h-1.6zM101.4 210.4h1.6v1.6h-1.6zM102.9 214.8h1.6v1.6h-1.6zM108.9 214.8h1.6v1.6h-1.6zM145.0 219.2h1.6v1.6h-1.6z"/>
<path fill="#ff1a00" d="M128.5 197.1h1.6v1.6h-1.6zM133.0 197.1h3.1v1.6h-3.1zM127.0 198.6h1.6v1.6h-1.6zM136.0 198.6h1.6v1.6h-1.6zM136.0 200.1h1.6v1.6h-1.6zM137.5 203.0h1.6v1.6h-1.6zM137.5 204.5h1.6v1.6h-1.6zM95.4 207.4h1.6v1.6h-1.6zM122.5 207.4h1.6v1.6h-1.6zM95.4 208.9h1.6v1.6h-1.6zM137.5 208.9h1.6v1.6h-1.6zM95.4 210.4h1.6v1.6h-1.6zM121.0 210.4h1.6v1.6h-1.6zM137.5 210.4h1.6v1.6h-1.6zM95.4 211.9h1.6v1.6h-1.6zM90.9 213.3h1.6v1.6h-1.6zM136.0 214.8h1.6v1.6h-1.6zM121.0 217.8h1.6v1.6h-1.6zM134.5 217.8h1.6v1.6h-1.6zM121.0 219.2h1.6v1.6h-1.6zM133.0 219.2h1.6v1.6h-1.6zM122.5 220.7h1.6v1.6h-1.6zM131.5 220.7h1.6v1.6h-1.6zM125.5 222.2h4.6v1.6h-4.6z"/>
<path fill="#ff0000" d="M130.0 197.1h3.1v1.6h-3.1zM128.5 198.6h1.6v1.6h-1.6zM134.5 198.6h1.6v1.6h-1.6zM127.0 200.1h1.6v1.6h-1.6zM125.5 201.5h1.6v1.6h-1.6zM136.0 201.5h1.6v1.6h-1.6zM124.0 204.5h1.6v1.6h-1.6zM90.9 206.0h1.6v1.6h-1.6zM93.9 206.0h1.6v1.6h-1.6zM137.5 206.0h1.6v1.6h-1.6zM89.4 207.4h1.6v1.6h-1.6zM137.5 207.4h1.6v1.6h-1.6zM89.4 208.9h1.6v1.6h-1.6zM89.4 210.4h1.6v1.6h-1.6zM121.0 211.9h1.6v1.6h-1.6zM93.9 213.3h1.6v1.6h-1.6zM121.0 213.3h1.6v1.6h-1.6zM136.0 213.3h1.6v1.6h-1.6zM121.0 214.8h1.6v1.6h-1.6zM121.0 216.3h1.6v1.6h-1.6zM134.5 216.3h1.6v1.6h-1.6zM133.0 217.8h1.6v1.6h-1.6zM122.5 219.2h1.6v1.6h-1.6zM131.5 219.2h1.6v1.6h-1.6zM124.0 220.7h3.1v1.6h-3.1zM128.5 220.7h3.1v1.6h-3.1z"/>
<path fill="#00b2ff" d="M105.9 198.6h1.6v1.6h-1.6zM117.9 198.6h1.6v1.6h-1.6zM143.5 198.6h1.6v1.6h-1.6zM101.4 203.0h1.6v1.6h-1.6zM117.9 203.0h1.6v1.6h-1.6zM142.0 204.5h1.6v1.6h-1.6zM148.0 204.5h1.6v1.6h-1.6zM116.4 207.4h1.6v1.6h-1.6zM114.9 210.4h1.6v1.6h-1.6zM101.4 213.3h1.6v1.6h-1.6zM148.0 213.3h1.6v1.6h-1.6zM102.9 216.3h1.6v1.6h-1.6zM146.5 219.2h1.6v1.6h-1.6zM145.0 220.7h1.6v1.6h-1.6z"/>
<path fill="#0033ff" d="M108.9 198.6h1.6v1.6h-1.6zM114.9 198.6h1.6v1.6h-1.6zM104.4 201.5h1.6v1.6h-1.6zM116.4 201.5h1.6v1.6h-1.6zM116.4 203.0h1.6v1.6h-1.6zM143.5 203.0h1.6v1.6h-1.6zM146.5 203.0h1.6v1.6h-1.6zM114.9 207.4h1.6v1.6h-1.6zM111.9 211.9h1.6v1.6h-1.6zM102.9 213.3h1.6v1.6h-1.6zM104.4 214.8h4.6v1.6h-4.6zM143.5 216.3h1.6v1.6h-1.6zM145.0 217.8h1.6v1.6h-1.6z"/>
<path fill="#001aff" d="M110.4 198.6h4.6v1.6h-4.6zM107.4 200.1h1.6v1.6h-1.6zM145.0 201.5h1.6v1.6h-1.6zM102.9 211.9h1.6v1.6h-1.6zM146.5 214.8h1.6v1.6h-1.6z"/>
<path fill="#e50000" d="M130.0 198.6h4.6v1.6h-4.6zM134.5 200.1h1.6v1.6h-1.6zM125.5 203.0h1.6v1.6h-1.6zM136.0 203.0h1.6v1.6h-1.6zM136.0 204.5h1.6v1.6h-1.6zM92.4 206.0h1.6v1.6h-1.6zM124.0 206.0h1.6v1.6h-1.6zM122.5 208.9h1.6v1.6h-1.6zM136.0 210.4h1.6v1.6h-1.6zM90.9 211.9h1.6v1.6h-1.6zM93.9 211.9h1.6v1.6h-1.6zM136.0 211.9h1.6v1.6h-1.6zM92.4 213.3h1.6v1.6h-1.6zM134.5 214.8h1.6v1.6h-1.6zM122.5 217.8h1.6v1.6h-1.6zM124.0 219.2h1.6v1.6h-1.6zM130.0 219.2h1.6v1.6h-1.6zM127.0 220.7h1.6v1.6h-1.6z"/>
<path fill="#004dff" d="M105.9 200.1h1.6v1.6h-1.6zM116.4 200.1h1.6v1.6h-1.6zM145.0 200.1h1.6v1.6h-1.6zM143.5 201.5h1.6v1.6h-1.6zM102.9 203.0h1.6v1.6h-1.6zM116.4 204.5h1.6v1.6h-1.6zM101.4 206.0h1.6v1.6h-1.6zM101.4 207.4h1.6v1.6h-1.6zM101.4 208.9h1.6v1.6h-1.6zM113.4 210.4h1.6v1.6h-1.6zM110.4 213.3h1.6v1.6h-1.6zM146.5 216.3h1.6v1.6h-1.6zM143.5 217.8h1.6v1.6h-1.6z"/>
<path fill="#0000e6" d="M108.9 200.1h1.6v1.6h-1.6zM113.4 200.1h1.6v1.6h-1.6zM114.9 201.5h1.6v1.6h-1.6zM114.9 203.0h1.6v1.6h-1.6zM114.9 204.5h1.6v1.6h-1.6zM145.0 204.5h1.6v1.6h-1.6zM102.9 206.0h1.6v1.6h-1.6zM143.5 207.4h1.6v1.6h-1.6zM146.5 207.4h1.6v1.6h-1.6zM143.5 208.9h1.6v1.6h-1.6zM146.5 208.9h1.6v1.6h-1.6zM102.9 210.4h1.6v1.6h-1.6zM111.9 210.4h1.6v1.6h-1.6zM143.5 210.4h1.6v1.6h-1.6zM146.5 210.4h1.6v1.6h-1.6zM110.4 211.9h1.6v1.6h-1.6zM143.5 211.9h1.6v1.6h-1.6zM146.5 211.9h1.6v1.6h-1.6zM105.9 213.3h3.1v1.6h-3.1zM143.5 213.3h1.6v1.6h-1.6zM145.0 214.8h1.6v1.6h-1.6z"/>
<path fill="#0000cc" d="M110.4 200.1h3.1v1.6h-3.1zM107.4 201.5h1.6v1.6h-1.6zM145.0 206.0h1.6v1.6h-1.6zM102.9 207.4h1.6v1.6h-1.6zM113.4 207.4h1.6v1.6h-1.6zM145.0 207.4h1.6v1.6h-1.6zM102.9 208.9h1.6v1.6h-1.6zM104.4 211.9h1.6v1.6h-1.6zM108.9 211.9h1.6v1.6h-1.6zM145.0 213.3h1.6v1.6h-1.6z"/>
<path fill="#0000ff" d="M114.9 200.1h1.6v1.6h-1.6zM105.9 201.5h1.6v1.6h-1.6zM104.4 203.0h1.6v1.6h-1.6zM145.0 203.0h1.6v1.6h-1.6zM102.9 204.5h1.6v1.6h-1.6zM143.5 204.5h1.6v1.6h-1.6zM146.5 204.5h1.6v1.6h-1.6zM114.9 206.0h1.6v1.6h-1.6zM143.5 206.0h1.6v1.6h-1.6zM146.5 206.0h1.6v1.6h-1.6zM113.4 208.9h1.6v1.6h-1.6zM104.4 213.3h1.6v1.6h-1.6zM108.9 213.3h1.6v1.6h-1.6zM146.5 213.3h1.6v1.6h-1.6zM143.5 214.8h1.6v1.6h-1.6zM145.0 216.3h1.6v1.6h-1.6z"/>
<path fill="#cc0000" d="M128.5 200.1h6.1v1.6h-6.1zM127.0 201.5h1.6v1.6h-1.6zM134.5 201.5h1.6v1.6h-1.6zM134.5 203.0h1.6v1.6h-1.6zM125.5 204.5h1.6v1.6h-1.6zM136.0 206.0h1.6v1.6h-1.6zM90.9 207.4h1.6v1.6h-1.6zM93.9 207.4h1.6v1.6h-1.6zM124.0 207.4h1.6v1.6h-1.6zM136.0 207.4h1.6v1.6h-1.6zM93.9 208.9h1.6v1.6h-1.6zM136.0 208.9h1.6v1.6h-1.6zM90.9 210.4h1.6v1.6h-1.6zM93.9 210.4h1.6v1.6h-1.6zM122.5 210.4h1.6v1.6h-1.6zM92.4 211.9h1.6v1.6h-1.6zM122.5 211.9h1.6v1.6h-1.6zM122.5 213.3h1.6v1.6h-1.6zM134.5 213.3h1.6v1.6h-1.6zM122.5 214.8h1.6v1.6h-1.6zM122.5 216.3h1.6v1.6h-1.6zM133.0 216.3h1.6v1.6h-1.6zM124.0 217.8h1.6v1.6h-1.6zM131.5 217.8h1.6v1.6h-1.6zM125.5 219.2h4.6v1.6h-4.6z"/>
<path fill="#0000b2" d="M108.9 201.5h1.6v1.6h-1.6zM113.4 201.5h1.6v1.6h-1.6zM105.9 203.0h1.6v1.6h-1.6zM104.4 204.5h1.6v1.6h-1.6zM113.4 206.0h1.6v1.6h-1.6zM111.9 208.9h1.6v1.6h-1.6zM145.0 208.9h1.6v1.6h-1.6zM104.4 210.4h1.6v1.6h-1.6zM110.4 210.4h1.6v1.6h-1.6zM145.0 210.4h1.6v1.6h-1.6zM105.9 211.9h3.1v1.6h-3.1zM145.0 211.9h1.6v1.6h-1.6z"/>
<path fill="#000099" d="M110.4 201.5h3.1v1.6h-3.1zM107.4 203.0h1.6v1.6h-1.6zM113.4 203.0h1.6v1.6h-1.6zM105.9 204.5h1.6v1.6h-1.6zM113.4 204.5h1.6v1.6h-1.6zM104.4 206.0h1.6v1.6h-1.6zM104.4 207.4h1.6v1.6h-1.6zM111.9 207.4h1.6v1.6h-1.6zM104.4 208.9h1.6v1.6h-1.6zM108.9 210.4h1.6v1.6h-1.6z"/>
<path fill="#b30000" d="M128.5 201.5h6.1v1.6h-6.1zM127.0 203.0h1.6v1.6h-1.6zM133.0 203.0h1.6v1.6h-1.6zM134.5 204.5h1.6v1.6h-1.6zM125.5 206.0h1.6v1.6h-1.6zM134.5 206.0h1.6v1.6h-1.6zM92.4 207.4h1.6v1.6h-1.6zM134.5 207.4h1.6v1.6h-1.6zM90.9 208.9h3.1v1.6h-3.1zM124.0 208.9h1.6v1.6h-1.6zM134.5 208.9h1.6v1.6h-1.6zM92.4 210.4h1.6v1.6h-1.6zM134.5 210.4h1.6v1.6h-1.6zM134.5 211.9h1.6v1.6h-1.6zM133.0 213.3h1.6v1.6h-1.6zM124.0 214.8h1.6v1.6h-1.6zM133.0 214.8h1.6v1.6h-1.6zM124.0 216.3h1.6v1.6h-1.6zM131.5 216.3h1.6v1.6h-1.6zM125.5 217.8h6.1v1.6h-6.1z"/>
<path fill="#000080" d="M108.9 203.0h4.6v1.6h-4.6zM107.4 204.5h6.1v1.6h-6.1zM105.9 206.0h7.6v1.6h-7.6zM105.9 207.4h6.1v1.6h-6.1zM105.9 208.9h6.1v1.6h-6.1zM105.9 210.4h3.1v1.6h-3.1z"/>
<path fill="#990000" d="M128.5 203.0h4.6v1.6h-4.6zM127.0 204.5h3.1v1.6h-3.1zM131.5 204.5h3.1v1.6h-3.1zM127.0 206.0h1.6v1.6h-1.6zM133.0 206.0h1.6v1.6h-1.6zM125.5 207.4h1.6v1.6h-1.6zM133.0 207.4h1.6v1.6h-1.6zM125.5 208.9h1.6v1.6h-1.6zM133.0 208.9h1.6v1.6h-1.6zM124.0 210.4h1.6v1.6h-1.6zM133.0 210.4h1.6v1.6h-1.6zM124.0 211.9h1.6v1.6h-1.6zM133.0 211.9h1.6v1.6h-1.6zM124.0 213.3h3.1v1.6h-3.1zM131.5 213.3h1.6v1.6h-1.6zM125.5 214.8h7.6v1.6h-7.6zM125.5 216.3h6.1v1.6h-6.1z"/>
<path fill="#800000" d="M130.0 204.5h1.6v1.6h-1.6zM128.5 206.0h4.6v1.6h-4.6zM127.0 207.4h6.1v1.6h-6.1zM127.0 208.9h6.1v1.6h-6.1zM125.5 210.4h7.6v1.6h-7.6zM125.5 211.9h7.6v1.6h-7.6zM127.0 213.3h4.6v1.6h-4.6z"/>
</g></g>
<rect x="87.9" y="191.2" width="63.1" height="36.9" fill="none" stroke="#999" stroke-width="0.25"/>
<text x="119.5" y="189.6" font-size="2.9" text-anchor="middle" style="font-family:'Liberation Sans',sans-serif;fill:#555;fill:#444">Epoch N</text>
<rect x="154.8" y="189.9" width="3.3" height="39.5" fill="url(#jetv)"/>
<text x="159.4" y="192.7" font-size="2.6" style="font-family:'Liberation Sans',sans-serif;fill:#555;fill:#333;stroke:#555;stroke-width:0.05">0.450</text>
<text x="159.4" y="196.6" font-size="2.6" style="font-family:'Liberation Sans',sans-serif;fill:#555;fill:#333;stroke:#555;stroke-width:0.05">0.350</text>
<text x="159.4" y="200.6" font-size="2.6" style="font-family:'Liberation Sans',sans-serif;fill:#555;fill:#333;stroke:#555;stroke-width:0.05">0.250</text>
<text x="159.4" y="204.5" font-size="2.6" style="font-family:'Liberation Sans',sans-serif;fill:#555;fill:#333;stroke:#555;stroke-width:0.05">0.150</text>
<text x="159.4" y="208.5" font-size="2.6" style="font-family:'Liberation Sans',sans-serif;fill:#555;fill:#333;stroke:#555;stroke-width:0.05">0.050</text>
<text x="159.4" y="212.4" font-size="2.6" style="font-family:'Liberation Sans',sans-serif;fill:#555;fill:#333;stroke:#555;stroke-width:0.05">-0.050</text>
<text x="159.4" y="216.4" font-size="2.6" style="font-family:'Liberation Sans',sans-serif;fill:#555;fill:#333;stroke:#555;stroke-width:0.05">-0.150</text>
<text x="159.4" y="220.3" font-size="2.6" style="font-family:'Liberation Sans',sans-serif;fill:#555;fill:#333;stroke:#555;stroke-width:0.05">-0.250</text>
<text x="159.4" y="224.3" font-size="2.6" style="font-family:'Liberation Sans',sans-serif;fill:#555;fill:#333;stroke:#555;stroke-width:0.05">-0.350</text>
<text x="159.4" y="228.2" font-size="2.6" style="font-family:'Liberation Sans',sans-serif;fill:#555;fill:#333;stroke:#555;stroke-width:0.05">-0.450</text>
<text x="85.7" y="192.0" font-size="2.3" text-anchor="end" style="font-family:'Liberation Sans',sans-serif;fill:#555">2</text>
<text x="85.7" y="201.2" font-size="2.3" text-anchor="end" style="font-family:'Liberation Sans',sans-serif;fill:#555">1</text>
<text x="85.7" y="210.4" font-size="2.3" text-anchor="end" style="font-family:'Liberation Sans',sans-serif;fill:#555">0</text>
<text x="85.7" y="219.7" font-size="2.3" text-anchor="end" style="font-family:'Liberation Sans',sans-serif;fill:#555">-1</text>
<text x="85.7" y="228.9" font-size="2.3" text-anchor="end" style="font-family:'Liberation Sans',sans-serif;fill:#555">-2</text>
<text x="87.9" y="231.3" font-size="2.3" text-anchor="middle" style="font-family:'Liberation Sans',sans-serif;fill:#555">0</text>
<text x="95.8" y="231.3" font-size="2.3" text-anchor="middle" style="font-family:'Liberation Sans',sans-serif;fill:#555">1</text>
<text x="103.7" y="231.3" font-size="2.3" text-anchor="middle" style="font-family:'Liberation Sans',sans-serif;fill:#555">2</text>
<text x="111.6" y="231.3" font-size="2.3" text-anchor="middle" style="font-family:'Liberation Sans',sans-serif;fill:#555">3</text>
<text x="119.5" y="231.3" font-size="2.3" text-anchor="middle" style="font-family:'Liberation Sans',sans-serif;fill:#555">4</text>
<text x="127.3" y="231.3" font-size="2.3" text-anchor="middle" style="font-family:'Liberation Sans',sans-serif;fill:#555">5</text>
<text x="135.2" y="231.3" font-size="2.3" text-anchor="middle" style="font-family:'Liberation Sans',sans-serif;fill:#555">6</text>
<text x="143.1" y="231.3" font-size="2.3" text-anchor="middle" style="font-family:'Liberation Sans',sans-serif;fill:#555">7</text>
<text x="151.0" y="231.3" font-size="2.3" text-anchor="middle" style="font-family:'Liberation Sans',sans-serif;fill:#555">8</text>
<text x="119.5" y="234.5" font-size="2.6" text-anchor="middle" style="font-family:'Liberation Sans',sans-serif;fill:#555">x</text>
<text x="82.4" y="210.4" font-size="2.6" text-anchor="middle" style="font-family:'Liberation Sans',sans-serif;fill:#555">y</text>
<clipPath id="cpu"><rect x="198.80" y="104.80" width="62.20" height="36.40"/></clipPath>
<g clip-path="url(#cpu)"><g filter="url(#bl)" shape-rendering="crispEdges">
<path fill="#ff3300" d="M195.8 101.8h10.7v4.6h-10.7zM223.1 101.8h3.1v4.6h-3.1zM242.8 101.8h1.6v4.6h-1.6zM204.9 106.3h3.1v1.6h-3.1zM223.1 106.3h3.1v1.6h-3.1zM242.8 106.3h1.6v1.6h-1.6zM206.4 107.8h3.1v1.6h-3.1zM223.1 107.8h3.1v1.6h-3.1zM242.8 107.8h1.6v1.6h-1.6zM207.9 109.3h1.6v1.6h-1.6zM226.1 109.3h1.6v1.6h-1.6zM241.3 109.3h1.6v1.6h-1.6zM207.9 110.9h1.6v1.6h-1.6zM227.6 110.9h1.6v1.6h-1.6zM241.3 110.9h1.6v1.6h-1.6zM207.9 112.4h1.6v1.6h-1.6zM232.2 112.4h1.6v1.6h-1.6zM238.2 112.4h3.1v1.6h-3.1zM206.4 113.9h1.6v1.6h-1.6zM235.2 113.9h3.1v1.6h-3.1zM212.5 129.1h12.2v1.6h-12.2zM209.4 130.6h1.6v1.6h-1.6zM223.1 130.6h4.7v1.6h-4.7zM206.4 132.1h1.6v1.6h-1.6zM224.6 132.1h4.7v1.6h-4.7zM226.1 133.6h4.7v1.6h-4.7zM200.3 135.1h3.1v1.6h-3.1zM227.6 135.1h3.1v1.6h-3.1zM200.3 136.7h3.1v1.6h-3.1zM226.1 136.7h4.7v1.6h-4.7zM244.3 136.7h4.7v1.6h-4.7zM200.3 138.2h4.7v1.6h-4.7zM226.1 138.2h4.7v1.6h-4.7zM233.7 138.2h7.7v1.6h-7.7zM250.4 138.2h3.1v1.6h-3.1zM201.8 139.7h4.7v4.6h-4.7zM223.1 139.7h6.2v4.6h-6.2zM233.7 139.7h6.2v4.6h-6.2zM253.4 139.7h10.7v4.6h-10.7z"/>
<path fill="#ff4c00" d="M206.4 101.8h16.8v4.6h-16.8zM244.3 101.8h3.1v4.6h-3.1zM259.5 101.8h4.6v4.6h-4.6zM207.9 106.3h15.3v1.6h-15.3zM244.3 106.3h3.1v1.6h-3.1zM209.4 107.8h13.8v1.6h-13.8zM244.3 107.8h1.6v1.6h-1.6zM209.4 109.3h16.8v1.6h-16.8zM242.8 109.3h3.1v1.6h-3.1zM209.4 110.9h4.7v1.6h-4.7zM226.1 110.9h1.6v1.6h-1.6zM242.8 110.9h1.6v1.6h-1.6zM209.4 112.4h1.6v1.6h-1.6zM230.7 112.4h1.6v1.6h-1.6zM241.3 112.4h1.6v1.6h-1.6zM233.7 113.9h1.6v1.6h-1.6zM238.2 113.9h3.1v1.6h-3.1zM204.9 115.4h1.6v1.6h-1.6zM195.8 116.9h6.1v1.6h-6.1zM215.5 127.5h9.2v1.6h-9.2zM224.6 129.1h3.1v1.6h-3.1zM227.6 130.6h1.6v1.6h-1.6zM229.1 132.1h1.6v1.6h-1.6zM201.8 133.6h3.1v1.6h-3.1zM230.7 133.6h3.1v1.6h-3.1zM195.8 135.1h4.6v1.6h-4.6zM230.7 135.1h4.7v1.6h-4.7zM245.8 135.1h1.6v1.6h-1.6zM195.8 136.7h4.6v1.6h-4.6zM230.7 136.7h13.8v1.6h-13.8zM248.9 136.7h3.1v1.6h-3.1zM258.0 136.7h6.1v1.6h-6.1zM195.8 138.2h4.6v1.6h-4.6zM230.7 138.2h3.1v1.6h-3.1zM253.4 138.2h10.7v1.6h-10.7zM195.8 139.7h6.1v4.6h-6.1zM229.1 139.7h4.7v4.6h-4.7z"/>
<path fill="#ff1a00" d="M226.1 101.8h1.6v4.6h-1.6zM241.3 101.8h1.6v4.6h-1.6zM195.8 106.3h9.2v1.6h-9.2zM226.1 106.3h1.6v1.6h-1.6zM241.3 106.3h1.6v1.6h-1.6zM203.4 107.8h3.1v1.6h-3.1zM226.1 107.8h1.6v1.6h-1.6zM241.3 107.8h1.6v1.6h-1.6zM204.9 109.3h3.1v1.6h-3.1zM227.6 109.3h1.6v1.6h-1.6zM239.8 109.3h1.6v1.6h-1.6zM206.4 110.9h1.6v1.6h-1.6zM229.1 110.9h1.6v1.6h-1.6zM239.8 110.9h1.6v1.6h-1.6zM206.4 112.4h1.6v1.6h-1.6zM233.7 112.4h4.7v1.6h-4.7zM203.4 115.4h1.6v1.6h-1.6zM210.9 130.6h1.6v1.6h-1.6zM218.5 130.6h4.7v1.6h-4.7zM207.9 132.1h1.6v1.6h-1.6zM223.1 132.1h1.6v1.6h-1.6zM204.9 133.6h1.6v1.6h-1.6zM224.6 133.6h1.6v1.6h-1.6zM203.4 135.1h1.6v1.6h-1.6zM224.6 135.1h3.1v1.6h-3.1zM203.4 136.7h1.6v1.6h-1.6zM224.6 136.7h1.6v1.6h-1.6zM204.9 138.2h1.6v1.6h-1.6zM223.1 138.2h3.1v1.6h-3.1zM241.3 138.2h9.2v1.6h-9.2zM206.4 139.7h3.1v4.6h-3.1zM220.0 139.7h3.1v4.6h-3.1zM239.8 139.7h4.7v4.6h-4.7zM248.9 139.7h4.7v4.6h-4.7z"/>
<path fill="#ff0000" d="M227.6 101.8h1.6v4.6h-1.6zM239.8 101.8h1.6v4.6h-1.6zM227.6 106.3h1.6v1.6h-1.6zM239.8 106.3h1.6v1.6h-1.6zM195.8 107.8h7.7v1.6h-7.7zM227.6 107.8h1.6v1.6h-1.6zM239.8 107.8h1.6v1.6h-1.6zM203.4 109.3h1.6v1.6h-1.6zM229.1 109.3h1.6v1.6h-1.6zM204.9 110.9h1.6v1.6h-1.6zM230.7 110.9h1.6v1.6h-1.6zM236.7 110.9h3.1v1.6h-3.1zM204.9 112.4h1.6v1.6h-1.6zM204.9 113.9h1.6v1.6h-1.6zM212.5 130.6h6.2v1.6h-6.2zM209.4 132.1h1.6v1.6h-1.6zM220.0 132.1h3.1v1.6h-3.1zM206.4 133.6h1.6v1.6h-1.6zM221.6 133.6h3.1v1.6h-3.1zM204.9 135.1h3.1v1.6h-3.1zM223.1 135.1h1.6v1.6h-1.6zM204.9 136.7h3.1v1.6h-3.1zM223.1 136.7h1.6v1.6h-1.6zM206.4 138.2h3.1v1.6h-3.1zM221.6 138.2h1.6v1.6h-1.6zM209.4 139.7h10.7v4.6h-10.7zM244.3 139.7h4.7v4.6h-4.7z"/>
<path fill="#e50000" d="M229.1 101.8h1.6v4.6h-1.6zM238.2 101.8h1.6v4.6h-1.6zM229.1 106.3h1.6v1.6h-1.6zM229.1 107.8h1.6v1.6h-1.6zM238.2 107.8h1.6v1.6h-1.6zM201.8 109.3h1.6v1.6h-1.6zM230.7 109.3h1.6v1.6h-1.6zM238.2 109.3h1.6v1.6h-1.6zM203.4 110.9h1.6v1.6h-1.6zM232.2 110.9h4.7v1.6h-4.7zM203.4 113.9h1.6v1.6h-1.6zM195.8 115.4h7.7v1.6h-7.7zM210.9 132.1h3.1v1.6h-3.1zM215.5 132.1h4.7v1.6h-4.7zM207.9 133.6h1.6v1.6h-1.6zM220.0 133.6h1.6v1.6h-1.6zM207.9 135.1h1.6v1.6h-1.6zM221.6 135.1h1.6v1.6h-1.6zM207.9 136.7h1.6v1.6h-1.6zM220.0 136.7h3.1v1.6h-3.1zM209.4 138.2h3.1v1.6h-3.1zM218.5 138.2h3.1v1.6h-3.1z"/>
<path fill="#cc0000" d="M230.7 101.8h1.6v4.6h-1.6zM236.7 101.8h1.6v4.6h-1.6zM230.7 106.3h1.6v1.6h-1.6zM238.2 106.3h1.6v1.6h-1.6zM230.7 107.8h1.6v1.6h-1.6zM195.8 109.3h6.1v1.6h-6.1zM232.2 109.3h1.6v1.6h-1.6zM235.2 109.3h3.1v1.6h-3.1zM201.8 110.9h1.6v1.6h-1.6zM203.4 112.4h1.6v1.6h-1.6zM201.8 113.9h1.6v1.6h-1.6zM214.0 132.1h1.6v1.6h-1.6zM209.4 133.6h3.1v1.6h-3.1zM218.5 133.6h1.6v1.6h-1.6zM209.4 135.1h1.6v1.6h-1.6zM220.0 135.1h1.6v1.6h-1.6zM209.4 136.7h1.6v1.6h-1.6zM218.5 136.7h1.6v1.6h-1.6zM212.5 138.2h6.2v1.6h-6.2z"/>
<path fill="#b30000" d="M232.2 101.8h4.7v4.6h-4.7zM232.2 106.3h1.6v1.6h-1.6zM235.2 106.3h3.1v1.6h-3.1zM232.2 107.8h1.6v1.6h-1.6zM235.2 107.8h3.1v1.6h-3.1zM233.7 109.3h1.6v1.6h-1.6zM195.8 110.9h6.1v1.6h-6.1zM195.8 112.4h7.7v1.6h-7.7zM195.8 113.9h6.1v1.6h-6.1zM212.5 133.6h6.2v1.6h-6.2zM210.9 135.1h1.6v1.6h-1.6zM217.0 135.1h3.1v1.6h-3.1zM210.9 136.7h7.7v1.6h-7.7z"/>
<path fill="#ff6600" d="M247.3 101.8h12.2v4.6h-12.2zM247.3 106.3h3.1v1.6h-3.1zM254.9 106.3h9.2v1.6h-9.2zM245.8 107.8h3.1v1.6h-3.1zM258.0 107.8h6.1v1.6h-6.1zM245.8 109.3h1.6v1.6h-1.6zM258.0 109.3h6.1v1.6h-6.1zM214.0 110.9h6.2v1.6h-6.2zM224.6 110.9h1.6v1.6h-1.6zM244.3 110.9h3.1v1.6h-3.1zM259.5 110.9h4.6v1.6h-4.6zM210.9 112.4h1.6v1.6h-1.6zM229.1 112.4h1.6v1.6h-1.6zM242.8 112.4h3.1v1.6h-3.1zM259.5 112.4h4.6v1.6h-4.6zM207.9 113.9h1.6v1.6h-1.6zM241.3 113.9h1.6v1.6h-1.6zM259.5 113.9h4.6v1.6h-4.6zM236.7 115.4h4.7v1.6h-4.7zM201.8 116.9h1.6v1.6h-1.6zM218.5 126.0h6.2v1.6h-6.2zM214.0 127.5h1.6v1.6h-1.6zM224.6 127.5h3.1v1.6h-3.1zM210.9 129.1h1.6v1.6h-1.6zM227.6 129.1h1.6v1.6h-1.6zM207.9 130.6h1.6v1.6h-1.6zM229.1 130.6h1.6v1.6h-1.6zM259.5 130.6h4.6v1.6h-4.6zM204.9 132.1h1.6v1.6h-1.6zM230.7 132.1h1.6v1.6h-1.6zM259.5 132.1h4.6v1.6h-4.6zM195.8 133.6h6.1v1.6h-6.1zM233.7 133.6h1.6v1.6h-1.6zM258.0 133.6h6.1v1.6h-6.1zM235.2 135.1h1.6v1.6h-1.6zM244.3 135.1h1.6v1.6h-1.6zM247.3 135.1h3.1v1.6h-3.1zM256.4 135.1h7.7v1.6h-7.7zM251.9 136.7h6.2v1.6h-6.2z"/>
<path fill="#990000" d="M233.7 106.3h1.6v1.6h-1.6zM233.7 107.8h1.6v1.6h-1.6zM212.5 135.1h4.7v1.6h-4.7z"/>
<path fill="#ff8000" d="M250.4 106.3h4.7v1.6h-4.7zM248.9 107.8h9.2v1.6h-9.2zM247.3 109.3h3.1v1.6h-3.1zM254.9 109.3h3.1v1.6h-3.1zM220.0 110.9h4.7v1.6h-4.7zM247.3 110.9h1.6v1.6h-1.6zM256.4 110.9h3.1v1.6h-3.1zM212.5 112.4h1.6v1.6h-1.6zM227.6 112.4h1.6v1.6h-1.6zM245.8 112.4h1.6v1.6h-1.6zM258.0 112.4h1.6v1.6h-1.6zM209.4 113.9h1.6v1.6h-1.6zM232.2 113.9h1.6v1.6h-1.6zM242.8 113.9h3.1v1.6h-3.1zM258.0 113.9h1.6v1.6h-1.6zM206.4 115.4h1.6v1.6h-1.6zM235.2 115.4h1.6v1.6h-1.6zM241.3 115.4h4.7v1.6h-4.7zM259.5 115.4h4.6v1.6h-4.6zM203.4 116.9h1.6v1.6h-1.6zM238.2 116.9h6.2v1.6h-6.2zM259.5 116.9h4.6v1.6h-4.6zM259.5 118.4h4.6v1.6h-4.6zM259.5 120.0h4.6v1.6h-4.6zM259.5 121.5h4.6v1.6h-4.6zM259.5 123.0h4.6v1.6h-4.6zM259.5 124.5h4.6v1.6h-4.6zM217.0 126.0h1.6v1.6h-1.6zM224.6 126.0h1.6v1.6h-1.6zM259.5 126.0h4.6v1.6h-4.6zM212.5 127.5h1.6v1.6h-1.6zM259.5 127.5h4.6v1.6h-4.6zM229.1 129.1h1.6v1.6h-1.6zM259.5 129.1h4.6v1.6h-4.6zM230.7 130.6h1.6v1.6h-1.6zM258.0 130.6h1.6v1.6h-1.6zM232.2 132.1h1.6v1.6h-1.6zM247.3 132.1h1.6v1.6h-1.6zM258.0 132.1h1.6v1.6h-1.6zM235.2 133.6h1.6v1.6h-1.6zM245.8 133.6h4.7v1.6h-4.7zM256.4 133.6h1.6v1.6h-1.6zM236.7 135.1h3.1v1.6h-3.1zM242.8 135.1h1.6v1.6h-1.6zM250.4 135.1h6.2v1.6h-6.2z"/>
<path fill="#ff9900" d="M250.4 109.3h4.7v1.6h-4.7zM248.9 110.9h7.7v1.6h-7.7zM214.0 112.4h1.6v1.6h-1.6zM247.3 112.4h3.1v1.6h-3.1zM256.4 112.4h1.6v1.6h-1.6zM245.8 113.9h3.1v1.6h-3.1zM256.4 113.9h1.6v1.6h-1.6zM233.7 115.4h1.6v1.6h-1.6zM245.8 115.4h1.6v1.6h-1.6zM258.0 115.4h1.6v1.6h-1.6zM236.7 116.9h1.6v1.6h-1.6zM244.3 116.9h3.1v1.6h-3.1zM258.0 116.9h1.6v1.6h-1.6zM239.8 118.4h6.2v1.6h-6.2zM258.0 118.4h1.6v1.6h-1.6zM241.3 120.0h4.7v1.6h-4.7zM258.0 120.0h1.6v1.6h-1.6zM244.3 121.5h1.6v1.6h-1.6zM258.0 121.5h1.6v1.6h-1.6zM258.0 123.0h1.6v1.6h-1.6zM258.0 124.5h1.6v1.6h-1.6zM215.5 126.0h1.6v1.6h-1.6zM258.0 126.0h1.6v1.6h-1.6zM227.6 127.5h1.6v1.6h-1.6zM258.0 127.5h1.6v1.6h-1.6zM209.4 129.1h1.6v1.6h-1.6zM245.8 129.1h3.1v1.6h-3.1zM258.0 129.1h1.6v1.6h-1.6zM206.4 130.6h1.6v1.6h-1.6zM245.8 130.6h4.7v1.6h-4.7zM256.4 130.6h1.6v1.6h-1.6zM203.4 132.1h1.6v1.6h-1.6zM233.7 132.1h1.6v1.6h-1.6zM245.8 132.1h1.6v1.6h-1.6zM248.9 132.1h1.6v1.6h-1.6zM254.9 132.1h3.1v1.6h-3.1zM244.3 133.6h1.6v1.6h-1.6zM250.4 133.6h6.2v1.6h-6.2zM239.8 135.1h3.1v1.6h-3.1z"/>
<path fill="#ffb300" d="M215.5 112.4h3.1v1.6h-3.1zM226.1 112.4h1.6v1.6h-1.6zM250.4 112.4h6.2v1.6h-6.2zM210.9 113.9h1.6v1.6h-1.6zM230.7 113.9h1.6v1.6h-1.6zM248.9 113.9h3.1v1.6h-3.1zM254.9 113.9h1.6v1.6h-1.6zM247.3 115.4h3.1v1.6h-3.1zM256.4 115.4h1.6v1.6h-1.6zM247.3 116.9h1.6v1.6h-1.6zM256.4 116.9h1.6v1.6h-1.6zM238.2 118.4h1.6v1.6h-1.6zM245.8 118.4h3.1v1.6h-3.1zM256.4 118.4h1.6v1.6h-1.6zM239.8 120.0h1.6v1.6h-1.6zM245.8 120.0h1.6v1.6h-1.6zM242.8 121.5h1.6v1.6h-1.6zM245.8 121.5h1.6v1.6h-1.6zM242.8 123.0h4.7v1.6h-4.7zM218.5 124.5h6.2v1.6h-6.2zM244.3 124.5h4.7v1.6h-4.7zM226.1 126.0h1.6v1.6h-1.6zM244.3 126.0h4.7v1.6h-4.7zM256.4 126.0h1.6v1.6h-1.6zM229.1 127.5h1.6v1.6h-1.6zM245.8 127.5h3.1v1.6h-3.1zM256.4 127.5h1.6v1.6h-1.6zM230.7 129.1h1.6v1.6h-1.6zM248.9 129.1h1.6v1.6h-1.6zM256.4 129.1h1.6v1.6h-1.6zM232.2 130.6h1.6v1.6h-1.6zM250.4 130.6h1.6v1.6h-1.6zM254.9 130.6h1.6v1.6h-1.6zM244.3 132.1h1.6v1.6h-1.6zM250.4 132.1h4.7v1.6h-4.7zM236.7 133.6h1.6v1.6h-1.6z"/>
<path fill="#ffcc00" d="M218.5 112.4h3.1v1.6h-3.1zM224.6 112.4h1.6v1.6h-1.6zM212.5 113.9h1.6v1.6h-1.6zM229.1 113.9h1.6v1.6h-1.6zM251.9 113.9h3.1v1.6h-3.1zM207.9 115.4h1.6v1.6h-1.6zM232.2 115.4h1.6v1.6h-1.6zM250.4 115.4h6.2v1.6h-6.2zM204.9 116.9h1.6v1.6h-1.6zM235.2 116.9h1.6v1.6h-1.6zM248.9 116.9h1.6v1.6h-1.6zM254.9 116.9h1.6v1.6h-1.6zM248.9 118.4h1.6v1.6h-1.6zM247.3 120.0h1.6v1.6h-1.6zM256.4 120.0h1.6v1.6h-1.6zM241.3 121.5h1.6v1.6h-1.6zM247.3 121.5h1.6v1.6h-1.6zM256.4 121.5h1.6v1.6h-1.6zM247.3 123.0h1.6v1.6h-1.6zM256.4 123.0h1.6v1.6h-1.6zM224.6 124.5h1.6v1.6h-1.6zM242.8 124.5h1.6v1.6h-1.6zM248.9 124.5h1.6v1.6h-1.6zM256.4 124.5h1.6v1.6h-1.6zM214.0 126.0h1.6v1.6h-1.6zM248.9 126.0h1.6v1.6h-1.6zM210.9 127.5h1.6v1.6h-1.6zM244.3 127.5h1.6v1.6h-1.6zM248.9 127.5h3.1v1.6h-3.1zM254.9 127.5h1.6v1.6h-1.6zM244.3 129.1h1.6v1.6h-1.6zM250.4 129.1h6.2v1.6h-6.2zM244.3 130.6h1.6v1.6h-1.6zM251.9 130.6h3.1v1.6h-3.1zM200.3 132.1h3.1v1.6h-3.1zM235.2 132.1h1.6v1.6h-1.6zM238.2 133.6h1.6v1.6h-1.6zM242.8 133.6h1.6v1.6h-1.6z"/>
<path fill="#ffe500" d="M221.6 112.4h3.1v1.6h-3.1zM250.4 116.9h4.7v1.6h-4.7zM236.7 118.4h1.6v1.6h-1.6zM250.4 118.4h1.6v1.6h-1.6zM253.4 118.4h3.1v1.6h-3.1zM238.2 120.0h1.6v1.6h-1.6zM248.9 120.0h3.1v1.6h-3.1zM254.9 120.0h1.6v1.6h-1.6zM239.8 121.5h1.6v1.6h-1.6zM248.9 121.5h1.6v1.6h-1.6zM254.9 121.5h1.6v1.6h-1.6zM241.3 123.0h1.6v1.6h-1.6zM248.9 123.0h1.6v1.6h-1.6zM254.9 123.0h1.6v1.6h-1.6zM217.0 124.5h1.6v1.6h-1.6zM250.4 124.5h1.6v1.6h-1.6zM254.9 124.5h1.6v1.6h-1.6zM227.6 126.0h1.6v1.6h-1.6zM242.8 126.0h1.6v1.6h-1.6zM250.4 126.0h6.2v1.6h-6.2zM251.9 127.5h3.1v1.6h-3.1zM207.9 129.1h1.6v1.6h-1.6zM232.2 129.1h1.6v1.6h-1.6zM233.7 130.6h1.6v1.6h-1.6zM195.8 132.1h4.6v1.6h-4.6zM242.8 132.1h1.6v1.6h-1.6zM239.8 133.6h3.1v1.6h-3.1z"/>
<path fill="#ffff00" d="M214.0 113.9h1.6v1.6h-1.6zM227.6 113.9h1.6v1.6h-1.6zM209.4 115.4h1.6v1.6h-1.6zM233.7 116.9h1.6v1.6h-1.6zM251.9 118.4h1.6v1.6h-1.6zM251.9 120.0h3.1v1.6h-3.1zM250.4 121.5h4.7v1.6h-4.7zM250.4 123.0h4.7v1.6h-4.7zM226.1 124.5h1.6v1.6h-1.6zM241.3 124.5h1.6v1.6h-1.6zM251.9 124.5h3.1v1.6h-3.1zM212.5 126.0h1.6v1.6h-1.6zM229.1 126.0h1.6v1.6h-1.6zM230.7 127.5h1.6v1.6h-1.6zM242.8 127.5h1.6v1.6h-1.6zM204.9 130.6h1.6v1.6h-1.6zM235.2 130.6h1.6v1.6h-1.6zM242.8 130.6h1.6v1.6h-1.6zM236.7 132.1h1.6v1.6h-1.6z"/>
<path fill="#ccff33" d="M215.5 113.9h1.6v1.6h-1.6zM210.9 115.4h1.6v1.6h-1.6zM229.1 115.4h1.6v1.6h-1.6zM232.2 116.9h1.6v1.6h-1.6zM201.8 118.4h1.6v1.6h-1.6zM233.7 118.4h1.6v1.6h-1.6zM220.0 123.0h1.6v1.6h-1.6zM224.6 123.0h1.6v1.6h-1.6zM227.6 124.5h1.6v1.6h-1.6zM239.8 124.5h1.6v1.6h-1.6zM230.7 126.0h1.6v1.6h-1.6zM209.4 127.5h1.6v1.6h-1.6zM241.3 127.5h1.6v1.6h-1.6zM235.2 129.1h1.6v1.6h-1.6zM241.3 129.1h1.6v1.6h-1.6zM236.7 130.6h6.2v1.6h-6.2z"/>
<path fill="#b3ff4c" d="M217.0 113.9h3.1v1.6h-3.1zM224.6 113.9h1.6v1.6h-1.6zM235.2 120.0h1.6v1.6h-1.6zM236.7 121.5h1.6v1.6h-1.6zM218.5 123.0h1.6v1.6h-1.6zM226.1 123.0h1.6v1.6h-1.6zM238.2 123.0h1.6v1.6h-1.6zM214.0 124.5h1.6v1.6h-1.6zM229.1 124.5h1.6v1.6h-1.6zM232.2 126.0h1.6v1.6h-1.6zM239.8 126.0h1.6v1.6h-1.6zM233.7 127.5h1.6v1.6h-1.6zM239.8 127.5h1.6v1.6h-1.6zM206.4 129.1h1.6v1.6h-1.6zM236.7 129.1h4.7v1.6h-4.7zM203.4 130.6h1.6v1.6h-1.6z"/>
<path fill="#99ff66" d="M220.0 113.9h4.7v1.6h-4.7zM212.5 115.4h1.6v1.6h-1.6zM227.6 115.4h1.6v1.6h-1.6zM207.9 116.9h1.6v1.6h-1.6zM230.7 116.9h1.6v1.6h-1.6zM203.4 118.4h1.6v1.6h-1.6zM232.2 118.4h1.6v1.6h-1.6zM233.7 120.0h1.6v1.6h-1.6zM235.2 121.5h1.6v1.6h-1.6zM217.0 123.0h1.6v1.6h-1.6zM227.6 123.0h1.6v1.6h-1.6zM236.7 123.0h1.6v1.6h-1.6zM230.7 124.5h3.1v1.6h-3.1zM236.7 124.5h3.1v1.6h-3.1zM233.7 126.0h6.2v1.6h-6.2zM235.2 127.5h4.7v1.6h-4.7z"/>
<path fill="#e5ff1a" d="M226.1 113.9h1.6v1.6h-1.6zM230.7 115.4h1.6v1.6h-1.6zM206.4 116.9h1.6v1.6h-1.6zM195.8 118.4h6.1v1.6h-6.1zM235.2 118.4h1.6v1.6h-1.6zM236.7 120.0h1.6v1.6h-1.6zM238.2 121.5h1.6v1.6h-1.6zM221.6 123.0h3.1v1.6h-3.1zM239.8 123.0h1.6v1.6h-1.6zM215.5 124.5h1.6v1.6h-1.6zM241.3 126.0h1.6v1.6h-1.6zM232.2 127.5h1.6v1.6h-1.6zM233.7 129.1h1.6v1.6h-1.6zM242.8 129.1h1.6v1.6h-1.6zM238.2 132.1h4.7v1.6h-4.7z"/>
<path fill="#66ff99" d="M214.0 115.4h1.6v1.6h-1.6zM227.6 116.9h1.6v1.6h-1.6zM204.9 118.4h1.6v1.6h-1.6zM229.1 118.4h1.6v1.6h-1.6zM229.1 120.0h3.1v1.6h-3.1zM221.6 121.5h9.2v1.6h-9.2zM212.5 124.5h1.6v1.6h-1.6zM195.8 130.6h7.7v1.6h-7.7z"/>
<path fill="#4dffb2" d="M215.5 115.4h1.6v1.6h-1.6zM224.6 115.4h1.6v1.6h-1.6zM209.4 116.9h1.6v1.6h-1.6zM226.1 116.9h1.6v1.6h-1.6zM227.6 118.4h1.6v1.6h-1.6zM226.1 120.0h3.1v1.6h-3.1zM220.0 121.5h1.6v1.6h-1.6zM215.5 123.0h1.6v1.6h-1.6zM207.9 127.5h1.6v1.6h-1.6z"/>
<path fill="#33ffcc" d="M217.0 115.4h7.7v1.6h-7.7zM210.9 116.9h1.6v1.6h-1.6zM224.6 116.9h1.6v1.6h-1.6zM226.1 118.4h1.6v1.6h-1.6zM223.1 120.0h3.1v1.6h-3.1zM218.5 121.5h1.6v1.6h-1.6zM204.9 129.1h1.6v1.6h-1.6z"/>
<path fill="#80ff80" d="M226.1 115.4h1.6v1.6h-1.6zM229.1 116.9h1.6v1.6h-1.6zM230.7 118.4h1.6v1.6h-1.6zM232.2 120.0h1.6v1.6h-1.6zM230.7 121.5h4.7v1.6h-4.7zM229.1 123.0h7.7v1.6h-7.7zM233.7 124.5h3.1v1.6h-3.1zM210.9 126.0h1.6v1.6h-1.6z"/>
<path fill="#1affe5" d="M212.5 116.9h1.6v1.6h-1.6zM221.6 116.9h3.1v1.6h-3.1zM206.4 118.4h1.6v1.6h-1.6zM223.1 118.4h3.1v1.6h-3.1zM221.6 120.0h1.6v1.6h-1.6zM217.0 121.5h1.6v1.6h-1.6zM214.0 123.0h1.6v1.6h-1.6zM209.4 126.0h1.6v1.6h-1.6z"/>
<path fill="#00ffff" d="M214.0 116.9h7.7v1.6h-7.7zM220.0 118.4h3.1v1.6h-3.1zM200.3 120.0h1.6v1.6h-1.6zM218.5 120.0h3.1v1.6h-3.1zM210.9 124.5h1.6v1.6h-1.6z"/>
<path fill="#00e5ff" d="M207.9 118.4h1.6v1.6h-1.6zM217.0 118.4h3.1v1.6h-3.1zM195.8 120.0h4.6v1.6h-4.6zM201.8 120.0h1.6v1.6h-1.6zM217.0 120.0h1.6v1.6h-1.6zM215.5 121.5h1.6v1.6h-1.6zM212.5 123.0h1.6v1.6h-1.6zM206.4 127.5h1.6v1.6h-1.6z"/>
<path fill="#00ccff" d="M209.4 118.4h7.7v1.6h-7.7zM215.5 120.0h1.6v1.6h-1.6zM214.0 121.5h1.6v1.6h-1.6zM203.4 129.1h1.6v1.6h-1.6z"/>
<path fill="#00b2ff" d="M203.4 120.0h1.6v1.6h-1.6zM212.5 120.0h3.1v1.6h-3.1zM212.5 121.5h1.6v1.6h-1.6z"/>
<path fill="#0099ff" d="M204.9 120.0h1.6v1.6h-1.6zM210.9 120.0h1.6v1.6h-1.6zM210.9 123.0h1.6v1.6h-1.6zM209.4 124.5h1.6v1.6h-1.6zM207.9 126.0h1.6v1.6h-1.6z"/>
<path fill="#0080ff" d="M206.4 120.0h4.7v1.6h-4.7zM210.9 121.5h1.6v1.6h-1.6zM204.9 127.5h1.6v1.6h-1.6zM195.8 129.1h7.7v1.6h-7.7z"/>
<path fill="#001aff" d="M195.8 121.5h12.2v1.6h-12.2z"/>
<path fill="#0033ff" d="M207.9 121.5h1.6v1.6h-1.6zM207.9 123.0h1.6v1.6h-1.6zM207.9 124.5h1.6v1.6h-1.6zM203.4 127.5h1.6v1.6h-1.6z"/>
<path fill="#0066ff" d="M209.4 121.5h1.6v1.6h-1.6zM209.4 123.0h1.6v1.6h-1.6z"/>
<path fill="#0000b2" d="M195.8 123.0h7.7v1.6h-7.7zM203.4 124.5h1.6v1.6h-1.6zM201.8 126.0h1.6v1.6h-1.6z"/>
<path fill="#0000cc" d="M203.4 123.0h1.6v1.6h-1.6zM203.4 126.0h1.6v1.6h-1.6z"/>
<path fill="#0000e6" d="M204.9 123.0h1.6v1.6h-1.6zM204.9 124.5h1.6v1.6h-1.6zM195.8 127.5h7.7v1.6h-7.7z"/>
<path fill="#0000ff" d="M206.4 123.0h1.6v1.6h-1.6zM206.4 124.5h1.6v1.6h-1.6zM204.9 126.0h1.6v1.6h-1.6z"/>
<path fill="#000099" d="M195.8 124.5h7.7v1.6h-7.7zM195.8 126.0h6.1v1.6h-6.1z"/>
<path fill="#004dff" d="M206.4 126.0h1.6v1.6h-1.6z"/>
</g></g>
<rect x="198.8" y="104.8" width="62.2" height="36.4" fill="none" stroke="#999" stroke-width="0.25"/>
<text x="229.9" y="103.2" font-size="2.9" text-anchor="middle" style="font-family:'Liberation Sans',sans-serif;fill:#555;fill:#444">Predicted U</text>
<rect x="265.0" y="103.5" width="3.3" height="39.0" fill="url(#jetv)"/>
<text x="269.6" y="106.2" font-size="2.6" style="font-family:'Liberation Sans',sans-serif;fill:#555;fill:#333;stroke:#555;stroke-width:0.05">0.450</text>
<text x="269.6" y="110.1" font-size="2.6" style="font-family:'Liberation Sans',sans-serif;fill:#555;fill:#333;stroke:#555;stroke-width:0.05">0.350</text>
<text x="269.6" y="114.0" font-size="2.6" style="font-family:'Liberation Sans',sans-serif;fill:#555;fill:#333;stroke:#555;stroke-width:0.05">0.250</text>
<text x="269.6" y="118.0" font-size="2.6" style="font-family:'Liberation Sans',sans-serif;fill:#555;fill:#333;stroke:#555;stroke-width:0.05">0.150</text>
<text x="269.6" y="121.8" font-size="2.6" style="font-family:'Liberation Sans',sans-serif;fill:#555;fill:#333;stroke:#555;stroke-width:0.05">0.050</text>
<text x="269.6" y="125.8" font-size="2.6" style="font-family:'Liberation Sans',sans-serif;fill:#555;fill:#333;stroke:#555;stroke-width:0.05">-0.050</text>
<text x="269.6" y="129.7" font-size="2.6" style="font-family:'Liberation Sans',sans-serif;fill:#555;fill:#333;stroke:#555;stroke-width:0.05">-0.150</text>
<text x="269.6" y="133.6" font-size="2.6" style="font-family:'Liberation Sans',sans-serif;fill:#555;fill:#333;stroke:#555;stroke-width:0.05">-0.250</text>
<text x="269.6" y="137.5" font-size="2.6" style="font-family:'Liberation Sans',sans-serif;fill:#555;fill:#333;stroke:#555;stroke-width:0.05">-0.350</text>
<text x="269.6" y="141.4" font-size="2.6" style="font-family:'Liberation Sans',sans-serif;fill:#555;fill:#333;stroke:#555;stroke-width:0.05">-0.450</text>
<text x="196.6" y="105.6" font-size="2.3" text-anchor="end" style="font-family:'Liberation Sans',sans-serif;fill:#555">2</text>
<text x="196.6" y="114.7" font-size="2.3" text-anchor="end" style="font-family:'Liberation Sans',sans-serif;fill:#555">1</text>
<text x="196.6" y="123.8" font-size="2.3" text-anchor="end" style="font-family:'Liberation Sans',sans-serif;fill:#555">0</text>
<text x="196.6" y="132.9" font-size="2.3" text-anchor="end" style="font-family:'Liberation Sans',sans-serif;fill:#555">-1</text>
<text x="196.6" y="142.0" font-size="2.3" text-anchor="end" style="font-family:'Liberation Sans',sans-serif;fill:#555">-2</text>
<text x="198.8" y="144.4" font-size="2.3" text-anchor="middle" style="font-family:'Liberation Sans',sans-serif;fill:#555">0</text>
<text x="206.6" y="144.4" font-size="2.3" text-anchor="middle" style="font-family:'Liberation Sans',sans-serif;fill:#555">1</text>
<text x="214.4" y="144.4" font-size="2.3" text-anchor="middle" style="font-family:'Liberation Sans',sans-serif;fill:#555">2</text>
<text x="222.1" y="144.4" font-size="2.3" text-anchor="middle" style="font-family:'Liberation Sans',sans-serif;fill:#555">3</text>
<text x="229.9" y="144.4" font-size="2.3" text-anchor="middle" style="font-family:'Liberation Sans',sans-serif;fill:#555">4</text>
<text x="237.7" y="144.4" font-size="2.3" text-anchor="middle" style="font-family:'Liberation Sans',sans-serif;fill:#555">5</text>
<text x="245.5" y="144.4" font-size="2.3" text-anchor="middle" style="font-family:'Liberation Sans',sans-serif;fill:#555">6</text>
<text x="253.2" y="144.4" font-size="2.3" text-anchor="middle" style="font-family:'Liberation Sans',sans-serif;fill:#555">7</text>
<text x="261.0" y="144.4" font-size="2.3" text-anchor="middle" style="font-family:'Liberation Sans',sans-serif;fill:#555">8</text>
<text x="229.9" y="147.6" font-size="2.6" text-anchor="middle" style="font-family:'Liberation Sans',sans-serif;fill:#555">x</text>
<text x="193.3" y="123.8" font-size="2.6" text-anchor="middle" style="font-family:'Liberation Sans',sans-serif;fill:#555">y</text>
<clipPath id="cpv"><rect x="199.00" y="154.40" width="62.20" height="36.40"/></clipPath>
<g clip-path="url(#cpv)"><g filter="url(#bl)" shape-rendering="crispEdges">
<path fill="#80ff80" d="M196.0 151.4h27.4v4.6h-27.4zM236.9 151.4h1.6v4.6h-1.6zM252.1 151.4h12.2v4.6h-12.2zM196.0 155.9h27.4v1.6h-27.4zM236.9 155.9h1.6v1.6h-1.6zM253.6 155.9h10.7v1.6h-10.7zM196.0 157.4h16.8v1.6h-16.8zM218.7 157.4h3.1v1.6h-3.1zM236.9 157.4h1.6v1.6h-1.6zM255.1 157.4h9.2v1.6h-9.2zM196.0 159.0h13.7v1.6h-13.7zM220.2 159.0h1.6v1.6h-1.6zM236.9 159.0h1.6v1.6h-1.6zM255.1 159.0h9.2v1.6h-9.2zM196.0 160.5h10.7v1.6h-10.7zM220.2 160.5h1.6v1.6h-1.6zM236.9 160.5h1.6v1.6h-1.6zM256.6 160.5h7.7v1.6h-7.7zM196.0 162.0h9.2v1.6h-9.2zM220.2 162.0h1.6v1.6h-1.6zM236.9 162.0h1.6v1.6h-1.6zM256.6 162.0h7.7v1.6h-7.7zM196.0 163.5h7.7v1.6h-7.7zM236.9 163.5h1.6v1.6h-1.6zM258.2 163.5h6.1v1.6h-6.1zM196.0 165.0h7.7v1.6h-7.7zM236.9 165.0h1.6v1.6h-1.6zM258.2 165.0h6.1v1.6h-6.1zM196.0 166.5h6.1v1.6h-6.1zM236.9 166.5h1.6v1.6h-1.6zM259.7 166.5h4.6v1.6h-4.6zM200.5 168.1h1.6v1.6h-1.6zM236.9 168.1h1.6v1.6h-1.6zM259.7 168.1h4.6v1.6h-4.6zM236.9 169.6h1.6v1.6h-1.6zM236.9 171.1h1.6v1.6h-1.6zM217.2 172.6h1.6v1.6h-1.6zM215.7 175.6h1.6v1.6h-1.6zM200.5 177.2h1.6v1.6h-1.6zM196.0 178.7h4.6v1.6h-4.6zM214.2 178.7h1.6v1.6h-1.6zM196.0 180.2h6.1v1.6h-6.1zM212.7 180.2h1.6v1.6h-1.6zM196.0 181.7h6.1v1.6h-6.1zM211.1 181.7h1.6v1.6h-1.6zM196.0 183.2h10.7v1.6h-10.7zM208.1 183.2h4.7v1.6h-4.7zM196.0 184.7h16.8v1.6h-16.8zM235.4 184.7h1.6v1.6h-1.6zM196.0 186.2h16.8v1.6h-16.8zM235.4 186.2h3.1v1.6h-3.1zM196.0 187.8h16.8v1.6h-16.8zM233.9 187.8h4.7v1.6h-4.7zM196.0 189.3h18.3v4.6h-18.3zM233.9 189.3h4.7v4.6h-4.7z"/>
<path fill="#99ff66" d="M223.3 151.4h4.7v4.6h-4.7zM235.4 151.4h1.6v4.6h-1.6zM223.3 155.9h1.6v1.6h-1.6zM235.4 155.9h1.6v1.6h-1.6zM221.8 157.4h1.6v1.6h-1.6zM221.8 159.0h1.6v1.6h-1.6zM220.2 163.5h1.6v1.6h-1.6zM200.5 169.6h1.6v1.6h-1.6zM218.7 169.6h1.6v1.6h-1.6zM200.5 175.6h1.6v1.6h-1.6zM196.0 177.2h4.6v1.6h-4.6zM212.7 181.7h1.6v1.6h-1.6zM235.4 181.7h1.6v1.6h-1.6zM212.7 183.2h1.6v1.6h-1.6zM235.4 183.2h1.6v1.6h-1.6zM212.7 184.7h1.6v1.6h-1.6zM233.9 184.7h1.6v1.6h-1.6zM212.7 186.2h3.1v1.6h-3.1zM233.9 186.2h1.6v1.6h-1.6zM212.7 187.8h3.1v1.6h-3.1zM232.4 187.8h1.6v1.6h-1.6zM214.2 189.3h3.1v4.6h-3.1zM230.9 189.3h3.1v4.6h-3.1z"/>
<path fill="#b3ff4c" d="M227.8 151.4h7.7v4.6h-7.7zM224.8 155.9h3.1v1.6h-3.1zM233.9 155.9h1.6v1.6h-1.6zM223.3 157.4h1.6v1.6h-1.6zM235.4 157.4h1.6v1.6h-1.6zM221.8 160.5h1.6v1.6h-1.6zM220.2 165.0h1.6v1.6h-1.6zM196.0 168.1h4.6v1.6h-4.6zM200.5 171.1h1.6v1.6h-1.6zM200.5 174.1h1.6v1.6h-1.6zM217.2 174.1h1.6v1.6h-1.6zM215.7 177.2h1.6v1.6h-1.6zM235.4 178.7h1.6v1.6h-1.6zM214.2 180.2h1.6v1.6h-1.6zM235.4 180.2h1.6v1.6h-1.6zM214.2 181.7h1.6v1.6h-1.6zM214.2 183.2h1.6v1.6h-1.6zM233.9 183.2h1.6v1.6h-1.6zM214.2 184.7h1.6v1.6h-1.6zM215.7 186.2h1.6v1.6h-1.6zM232.4 186.2h1.6v1.6h-1.6zM215.7 187.8h1.6v1.6h-1.6zM230.9 187.8h1.6v1.6h-1.6zM217.2 189.3h1.6v4.6h-1.6zM227.8 189.3h3.1v4.6h-3.1z"/>
<path fill="#66ff99" d="M238.4 151.4h1.6v4.6h-1.6zM249.1 151.4h3.1v4.6h-3.1zM250.6 155.9h3.1v1.6h-3.1zM212.7 157.4h6.2v1.6h-6.2zM252.1 157.4h3.1v1.6h-3.1zM209.6 159.0h3.1v1.6h-3.1zM217.2 159.0h3.1v1.6h-3.1zM253.6 159.0h1.6v1.6h-1.6zM206.6 160.5h3.1v1.6h-3.1zM218.7 160.5h1.6v1.6h-1.6zM253.6 160.5h3.1v1.6h-3.1zM205.1 162.0h3.1v1.6h-3.1zM255.1 162.0h1.6v1.6h-1.6zM203.6 163.5h3.1v1.6h-3.1zM256.6 163.5h1.6v1.6h-1.6zM203.6 165.0h1.6v1.6h-1.6zM256.6 165.0h1.6v1.6h-1.6zM202.0 166.5h1.6v1.6h-1.6zM258.2 166.5h1.6v1.6h-1.6zM202.0 168.1h1.6v1.6h-1.6zM218.7 168.1h1.6v1.6h-1.6zM258.2 168.1h1.6v1.6h-1.6zM258.2 169.6h6.1v1.6h-6.1zM259.7 171.1h4.6v1.6h-4.6zM236.9 172.6h1.6v1.6h-1.6zM259.7 172.6h4.6v1.6h-4.6zM236.9 174.1h1.6v1.6h-1.6zM259.7 174.1h4.6v1.6h-4.6zM236.9 175.6h1.6v1.6h-1.6zM259.7 175.6h4.6v1.6h-4.6zM236.9 177.2h1.6v1.6h-1.6zM200.5 178.7h1.6v1.6h-1.6zM236.9 178.7h1.6v1.6h-1.6zM202.0 180.2h1.6v1.6h-1.6zM236.9 180.2h1.6v1.6h-1.6zM202.0 181.7h9.2v1.6h-9.2zM236.9 181.7h1.6v1.6h-1.6zM206.6 183.2h1.6v1.6h-1.6zM236.9 183.2h1.6v1.6h-1.6zM236.9 184.7h1.6v1.6h-1.6zM238.4 186.2h1.6v1.6h-1.6zM238.4 187.8h1.6v1.6h-1.6zM259.7 187.8h4.6v1.6h-4.6zM238.4 189.3h3.1v4.6h-3.1zM259.7 189.3h4.6v4.6h-4.6z"/>
<path fill="#4dffb2" d="M240.0 151.4h3.1v4.6h-3.1zM244.5 151.4h4.7v4.6h-4.7zM238.4 155.9h1.6v1.6h-1.6zM247.5 155.9h3.1v1.6h-3.1zM238.4 157.4h1.6v1.6h-1.6zM250.6 157.4h1.6v1.6h-1.6zM212.7 159.0h4.7v1.6h-4.7zM252.1 159.0h1.6v1.6h-1.6zM209.6 160.5h1.6v1.6h-1.6zM252.1 160.5h1.6v1.6h-1.6zM218.7 162.0h1.6v1.6h-1.6zM253.6 162.0h1.6v1.6h-1.6zM255.1 163.5h1.6v1.6h-1.6zM255.1 165.0h1.6v1.6h-1.6zM203.6 166.5h1.6v1.6h-1.6zM218.7 166.5h1.6v1.6h-1.6zM256.6 166.5h1.6v1.6h-1.6zM256.6 168.1h1.6v1.6h-1.6zM202.0 169.6h1.6v1.6h-1.6zM202.0 171.1h1.6v1.6h-1.6zM258.2 171.1h1.6v1.6h-1.6zM202.0 172.6h1.6v1.6h-1.6zM258.2 172.6h1.6v1.6h-1.6zM258.2 174.1h1.6v1.6h-1.6zM202.0 177.2h1.6v1.6h-1.6zM214.2 177.2h1.6v1.6h-1.6zM259.7 177.2h4.6v1.6h-4.6zM202.0 178.7h1.6v1.6h-1.6zM212.7 178.7h1.6v1.6h-1.6zM259.7 178.7h4.6v1.6h-4.6zM203.6 180.2h1.6v1.6h-1.6zM211.1 180.2h1.6v1.6h-1.6zM259.7 180.2h4.6v1.6h-4.6zM259.7 181.7h4.6v1.6h-4.6zM259.7 183.2h4.6v1.6h-4.6zM238.4 184.7h1.6v1.6h-1.6zM259.7 184.7h4.6v1.6h-4.6zM259.7 186.2h4.6v1.6h-4.6zM240.0 187.8h1.6v1.6h-1.6zM258.2 187.8h1.6v1.6h-1.6zM241.5 189.3h1.6v4.6h-1.6zM258.2 189.3h1.6v4.6h-1.6z"/>
<path fill="#33ffcc" d="M243.0 151.4h1.6v4.6h-1.6zM240.0 155.9h3.1v1.6h-3.1zM246.0 155.9h1.6v1.6h-1.6zM249.1 157.4h1.6v1.6h-1.6zM238.4 159.0h1.6v1.6h-1.6zM250.6 159.0h1.6v1.6h-1.6zM211.1 160.5h1.6v1.6h-1.6zM217.2 160.5h1.6v1.6h-1.6zM238.4 160.5h1.6v1.6h-1.6zM208.1 162.0h1.6v1.6h-1.6zM252.1 162.0h1.6v1.6h-1.6zM206.6 163.5h1.6v1.6h-1.6zM218.7 163.5h1.6v1.6h-1.6zM253.6 163.5h1.6v1.6h-1.6zM205.1 165.0h1.6v1.6h-1.6zM218.7 165.0h1.6v1.6h-1.6zM255.1 166.5h1.6v1.6h-1.6zM256.6 169.6h1.6v1.6h-1.6zM217.2 171.1h1.6v1.6h-1.6zM256.6 171.1h1.6v1.6h-1.6zM202.0 174.1h1.6v1.6h-1.6zM215.7 174.1h1.6v1.6h-1.6zM202.0 175.6h1.6v1.6h-1.6zM258.2 175.6h1.6v1.6h-1.6zM258.2 177.2h1.6v1.6h-1.6zM203.6 178.7h1.6v1.6h-1.6zM258.2 178.7h1.6v1.6h-1.6zM205.1 180.2h6.2v1.6h-6.2zM258.2 180.2h1.6v1.6h-1.6zM238.4 181.7h1.6v1.6h-1.6zM258.2 181.7h1.6v1.6h-1.6zM238.4 183.2h1.6v1.6h-1.6zM258.2 183.2h1.6v1.6h-1.6zM258.2 184.7h1.6v1.6h-1.6zM240.0 186.2h1.6v1.6h-1.6zM258.2 186.2h1.6v1.6h-1.6zM241.5 187.8h1.6v1.6h-1.6zM243.0 189.3h1.6v4.6h-1.6zM256.6 189.3h1.6v4.6h-1.6z"/>
<path fill="#ccff33" d="M227.8 155.9h3.1v1.6h-3.1zM232.4 155.9h1.6v1.6h-1.6zM224.8 157.4h1.6v1.6h-1.6zM223.3 159.0h1.6v1.6h-1.6zM235.4 159.0h1.6v1.6h-1.6zM235.4 160.5h1.6v1.6h-1.6zM221.8 162.0h1.6v1.6h-1.6zM220.2 166.5h1.6v1.6h-1.6zM218.7 171.1h1.6v1.6h-1.6zM200.5 172.6h1.6v1.6h-1.6zM196.0 175.6h4.6v1.6h-4.6zM235.4 177.2h1.6v1.6h-1.6zM215.7 178.7h1.6v1.6h-1.6zM233.9 181.7h1.6v1.6h-1.6zM215.7 183.2h1.6v1.6h-1.6zM215.7 184.7h1.6v1.6h-1.6zM232.4 184.7h1.6v1.6h-1.6zM230.9 186.2h1.6v1.6h-1.6zM217.2 187.8h1.6v1.6h-1.6zM229.3 187.8h1.6v1.6h-1.6zM218.7 189.3h3.1v4.6h-3.1zM224.8 189.3h3.1v4.6h-3.1z"/>
<path fill="#e5ff1a" d="M230.9 155.9h1.6v1.6h-1.6zM226.3 157.4h3.1v1.6h-3.1zM233.9 157.4h1.6v1.6h-1.6zM224.8 159.0h1.6v1.6h-1.6zM223.3 160.5h1.6v1.6h-1.6zM235.4 162.0h1.6v1.6h-1.6zM221.8 163.5h1.6v1.6h-1.6zM196.0 169.6h4.6v1.6h-4.6zM235.4 175.6h1.6v1.6h-1.6zM215.7 180.2h1.6v1.6h-1.6zM215.7 181.7h1.6v1.6h-1.6zM232.4 183.2h1.6v1.6h-1.6zM230.9 184.7h1.6v1.6h-1.6zM217.2 186.2h1.6v1.6h-1.6zM229.3 186.2h1.6v1.6h-1.6zM218.7 187.8h1.6v1.6h-1.6zM227.8 187.8h1.6v1.6h-1.6zM221.8 189.3h3.1v4.6h-3.1z"/>
<path fill="#1affe5" d="M243.0 155.9h3.1v1.6h-3.1zM240.0 157.4h1.6v1.6h-1.6zM247.5 157.4h1.6v1.6h-1.6zM249.1 159.0h1.6v1.6h-1.6zM212.7 160.5h4.7v1.6h-4.7zM250.6 160.5h1.6v1.6h-1.6zM209.6 162.0h1.6v1.6h-1.6zM238.4 162.0h1.6v1.6h-1.6zM238.4 163.5h1.6v1.6h-1.6zM253.6 165.0h1.6v1.6h-1.6zM203.6 168.1h1.6v1.6h-1.6zM255.1 168.1h1.6v1.6h-1.6zM256.6 172.6h1.6v1.6h-1.6zM211.1 178.7h1.6v1.6h-1.6zM238.4 180.2h1.6v1.6h-1.6zM240.0 184.7h1.6v1.6h-1.6zM241.5 186.2h1.6v1.6h-1.6zM256.6 187.8h1.6v1.6h-1.6zM244.5 189.3h1.6v4.6h-1.6zM255.1 189.3h1.6v4.6h-1.6z"/>
<path fill="#ffff00" d="M229.3 157.4h4.7v1.6h-4.7zM226.3 159.0h1.6v1.6h-1.6zM233.9 159.0h1.6v1.6h-1.6zM235.4 163.5h1.6v1.6h-1.6zM235.4 165.0h1.6v1.6h-1.6zM220.2 168.1h1.6v1.6h-1.6zM235.4 172.6h1.6v1.6h-1.6zM235.4 174.1h1.6v1.6h-1.6zM217.2 175.6h1.6v1.6h-1.6zM233.9 180.2h1.6v1.6h-1.6zM217.2 183.2h1.6v1.6h-1.6zM217.2 184.7h1.6v1.6h-1.6zM218.7 186.2h1.6v1.6h-1.6zM227.8 186.2h1.6v1.6h-1.6zM220.2 187.8h7.7v1.6h-7.7z"/>
<path fill="#00ffff" d="M241.5 157.4h6.2v1.6h-6.2zM240.0 159.0h1.6v1.6h-1.6zM247.5 159.0h1.6v1.6h-1.6zM249.1 160.5h1.6v1.6h-1.6zM217.2 162.0h1.6v1.6h-1.6zM250.6 162.0h1.6v1.6h-1.6zM208.1 163.5h1.6v1.6h-1.6zM252.1 163.5h1.6v1.6h-1.6zM238.4 165.0h1.6v1.6h-1.6zM205.1 166.5h1.6v1.6h-1.6zM238.4 166.5h1.6v1.6h-1.6zM253.6 166.5h1.6v1.6h-1.6zM203.6 169.6h1.6v1.6h-1.6zM255.1 169.6h1.6v1.6h-1.6zM256.6 174.1h1.6v1.6h-1.6zM214.2 175.6h1.6v1.6h-1.6zM256.6 175.6h1.6v1.6h-1.6zM203.6 177.2h1.6v1.6h-1.6zM212.7 177.2h1.6v1.6h-1.6zM205.1 178.7h1.6v1.6h-1.6zM209.6 178.7h1.6v1.6h-1.6zM238.4 178.7h1.6v1.6h-1.6zM240.0 183.2h1.6v1.6h-1.6zM256.6 184.7h1.6v1.6h-1.6zM256.6 186.2h1.6v1.6h-1.6zM243.0 187.8h1.6v1.6h-1.6zM255.1 187.8h1.6v1.6h-1.6z"/>
<path fill="#ffe500" d="M227.8 159.0h1.6v1.6h-1.6zM232.4 159.0h1.6v1.6h-1.6zM224.8 160.5h1.6v1.6h-1.6zM233.9 160.5h1.6v1.6h-1.6zM223.3 162.0h1.6v1.6h-1.6zM221.8 165.0h1.6v1.6h-1.6zM235.4 166.5h1.6v1.6h-1.6zM235.4 168.1h1.6v1.6h-1.6zM235.4 169.6h1.6v1.6h-1.6zM235.4 171.1h1.6v1.6h-1.6zM218.7 172.6h1.6v1.6h-1.6zM196.0 174.1h4.6v1.6h-4.6zM217.2 177.2h1.6v1.6h-1.6zM217.2 178.7h1.6v1.6h-1.6zM233.9 178.7h1.6v1.6h-1.6zM217.2 180.2h1.6v1.6h-1.6zM217.2 181.7h1.6v1.6h-1.6zM232.4 181.7h1.6v1.6h-1.6zM230.9 183.2h1.6v1.6h-1.6zM218.7 184.7h1.6v1.6h-1.6zM229.3 184.7h1.6v1.6h-1.6zM220.2 186.2h1.6v1.6h-1.6zM226.3 186.2h1.6v1.6h-1.6z"/>
<path fill="#ffcc00" d="M229.3 159.0h3.1v1.6h-3.1zM226.3 160.5h1.6v1.6h-1.6zM233.9 162.0h1.6v1.6h-1.6zM220.2 169.6h1.6v1.6h-1.6zM196.0 171.1h4.6v1.6h-4.6zM233.9 177.2h1.6v1.6h-1.6zM232.4 180.2h1.6v1.6h-1.6zM218.7 183.2h1.6v1.6h-1.6zM221.8 186.2h4.7v1.6h-4.7z"/>
<path fill="#00e5ff" d="M241.5 159.0h1.6v1.6h-1.6zM246.0 159.0h1.6v1.6h-1.6zM240.0 160.5h1.6v1.6h-1.6zM211.1 162.0h1.6v1.6h-1.6zM215.7 162.0h1.6v1.6h-1.6zM217.2 163.5h1.6v1.6h-1.6zM206.6 165.0h1.6v1.6h-1.6zM252.1 165.0h1.6v1.6h-1.6zM238.4 168.1h1.6v1.6h-1.6zM253.6 168.1h1.6v1.6h-1.6zM217.2 169.6h1.6v1.6h-1.6zM238.4 169.6h1.6v1.6h-1.6zM203.6 171.1h1.6v1.6h-1.6zM238.4 171.1h1.6v1.6h-1.6zM255.1 171.1h1.6v1.6h-1.6zM238.4 172.6h1.6v1.6h-1.6zM238.4 174.1h1.6v1.6h-1.6zM203.6 175.6h1.6v1.6h-1.6zM238.4 175.6h1.6v1.6h-1.6zM238.4 177.2h1.6v1.6h-1.6zM256.6 177.2h1.6v1.6h-1.6zM206.6 178.7h3.1v1.6h-3.1zM256.6 178.7h1.6v1.6h-1.6zM256.6 180.2h1.6v1.6h-1.6zM240.0 181.7h1.6v1.6h-1.6zM256.6 181.7h1.6v1.6h-1.6zM256.6 183.2h1.6v1.6h-1.6zM241.5 184.7h1.6v1.6h-1.6zM243.0 186.2h1.6v1.6h-1.6zM255.1 186.2h1.6v1.6h-1.6zM244.5 187.8h1.6v1.6h-1.6zM246.0 189.3h1.6v4.6h-1.6zM253.6 189.3h1.6v4.6h-1.6z"/>
<path fill="#00ccff" d="M243.0 159.0h3.1v1.6h-3.1zM247.5 160.5h1.6v1.6h-1.6zM212.7 162.0h3.1v1.6h-3.1zM240.0 162.0h1.6v1.6h-1.6zM249.1 162.0h1.6v1.6h-1.6zM250.6 163.5h1.6v1.6h-1.6zM205.1 168.1h1.6v1.6h-1.6zM217.2 168.1h1.6v1.6h-1.6zM203.6 172.6h1.6v1.6h-1.6zM215.7 172.6h1.6v1.6h-1.6zM255.1 172.6h1.6v1.6h-1.6zM203.6 174.1h1.6v1.6h-1.6zM205.1 177.2h1.6v1.6h-1.6zM240.0 180.2h1.6v1.6h-1.6zM241.5 183.2h1.6v1.6h-1.6zM255.1 184.7h1.6v1.6h-1.6zM253.6 187.8h1.6v1.6h-1.6zM247.5 189.3h6.2v4.6h-6.2z"/>
<path fill="#ff9900" d="M227.8 160.5h4.7v1.6h-4.7zM233.9 163.5h1.6v1.6h-1.6zM220.2 171.1h1.6v1.6h-1.6zM218.7 175.6h1.6v1.6h-1.6zM233.9 175.6h1.6v1.6h-1.6zM232.4 178.7h1.6v1.6h-1.6zM218.7 180.2h1.6v1.6h-1.6zM220.2 183.2h1.6v1.6h-1.6zM221.8 184.7h1.6v1.6h-1.6zM224.8 184.7h3.1v1.6h-3.1z"/>
<path fill="#ffb300" d="M232.4 160.5h1.6v1.6h-1.6zM224.8 162.0h1.6v1.6h-1.6zM223.3 163.5h1.6v1.6h-1.6zM221.8 166.5h1.6v1.6h-1.6zM196.0 172.6h4.6v1.6h-4.6zM218.7 174.1h1.6v1.6h-1.6zM218.7 181.7h1.6v1.6h-1.6zM230.9 181.7h1.6v1.6h-1.6zM229.3 183.2h1.6v1.6h-1.6zM220.2 184.7h1.6v1.6h-1.6zM227.8 184.7h1.6v1.6h-1.6z"/>
<path fill="#00b2ff" d="M241.5 160.5h1.6v1.6h-1.6zM246.0 160.5h1.6v1.6h-1.6zM209.6 163.5h1.6v1.6h-1.6zM240.0 163.5h1.6v1.6h-1.6zM217.2 165.0h1.6v1.6h-1.6zM217.2 166.5h1.6v1.6h-1.6zM252.1 166.5h1.6v1.6h-1.6zM253.6 169.6h1.6v1.6h-1.6zM255.1 174.1h1.6v1.6h-1.6zM255.1 175.6h1.6v1.6h-1.6zM211.1 177.2h1.6v1.6h-1.6zM255.1 183.2h1.6v1.6h-1.6zM243.0 184.7h1.6v1.6h-1.6zM244.5 186.2h1.6v1.6h-1.6zM253.6 186.2h1.6v1.6h-1.6zM246.0 187.8h1.6v1.6h-1.6zM252.1 187.8h1.6v1.6h-1.6z"/>
<path fill="#0099ff" d="M243.0 160.5h3.1v1.6h-3.1zM241.5 162.0h1.6v1.6h-1.6zM247.5 162.0h1.6v1.6h-1.6zM215.7 163.5h1.6v1.6h-1.6zM249.1 163.5h1.6v1.6h-1.6zM208.1 165.0h1.6v1.6h-1.6zM240.0 165.0h1.6v1.6h-1.6zM250.6 165.0h1.6v1.6h-1.6zM206.6 166.5h1.6v1.6h-1.6zM252.1 168.1h1.6v1.6h-1.6zM205.1 169.6h1.6v1.6h-1.6zM253.6 171.1h1.6v1.6h-1.6zM214.2 174.1h1.6v1.6h-1.6zM205.1 175.6h1.6v1.6h-1.6zM212.7 175.6h1.6v1.6h-1.6zM206.6 177.2h1.6v1.6h-1.6zM209.6 177.2h1.6v1.6h-1.6zM255.1 177.2h1.6v1.6h-1.6zM240.0 178.7h1.6v1.6h-1.6zM255.1 178.7h1.6v1.6h-1.6zM255.1 180.2h1.6v1.6h-1.6zM241.5 181.7h1.6v1.6h-1.6zM255.1 181.7h1.6v1.6h-1.6zM247.5 187.8h1.6v1.6h-1.6zM250.6 187.8h1.6v1.6h-1.6z"/>
<path fill="#ff8000" d="M226.3 162.0h1.6v1.6h-1.6zM232.4 162.0h1.6v1.6h-1.6zM224.8 163.5h1.6v1.6h-1.6zM223.3 165.0h1.6v1.6h-1.6zM233.9 165.0h1.6v1.6h-1.6zM233.9 166.5h1.6v1.6h-1.6zM221.8 168.1h1.6v1.6h-1.6zM233.9 172.6h1.6v1.6h-1.6zM233.9 174.1h1.6v1.6h-1.6zM218.7 177.2h1.6v1.6h-1.6zM218.7 178.7h1.6v1.6h-1.6zM230.9 180.2h1.6v1.6h-1.6zM227.8 183.2h1.6v1.6h-1.6zM223.3 184.7h1.6v1.6h-1.6z"/>
<path fill="#ff6600" d="M227.8 162.0h1.6v1.6h-1.6zM230.9 162.0h1.6v1.6h-1.6zM233.9 168.1h1.6v1.6h-1.6zM233.9 169.6h1.6v1.6h-1.6zM233.9 171.1h1.6v1.6h-1.6zM220.2 172.6h1.6v1.6h-1.6zM232.4 177.2h1.6v1.6h-1.6zM220.2 181.7h1.6v1.6h-1.6zM229.3 181.7h1.6v1.6h-1.6zM221.8 183.2h1.6v1.6h-1.6zM226.3 183.2h1.6v1.6h-1.6z"/>
<path fill="#ff4c00" d="M229.3 162.0h1.6v1.6h-1.6zM226.3 163.5h1.6v1.6h-1.6zM232.4 163.5h1.6v1.6h-1.6zM223.3 166.5h1.6v1.6h-1.6zM221.8 169.6h1.6v1.6h-1.6zM220.2 174.1h1.6v1.6h-1.6zM230.9 178.7h1.6v1.6h-1.6zM220.2 180.2h1.6v1.6h-1.6zM227.8 181.7h1.6v1.6h-1.6zM223.3 183.2h3.1v1.6h-3.1z"/>
<path fill="#0066ff" d="M243.0 162.0h3.1v1.6h-3.1zM212.7 163.5h3.1v1.6h-3.1zM241.5 163.5h1.6v1.6h-1.6zM247.5 163.5h1.6v1.6h-1.6zM215.7 165.0h1.6v1.6h-1.6zM249.1 165.0h1.6v1.6h-1.6zM250.6 166.5h1.6v1.6h-1.6zM240.0 168.1h1.6v1.6h-1.6zM240.0 169.6h1.6v1.6h-1.6zM252.1 169.6h1.6v1.6h-1.6zM205.1 171.1h1.6v1.6h-1.6zM240.0 171.1h1.6v1.6h-1.6zM205.1 172.6h1.6v1.6h-1.6zM240.0 172.6h1.6v1.6h-1.6zM240.0 174.1h1.6v1.6h-1.6zM253.6 174.1h1.6v1.6h-1.6zM240.0 175.6h1.6v1.6h-1.6zM241.5 180.2h1.6v1.6h-1.6zM253.6 183.2h1.6v1.6h-1.6zM244.5 184.7h1.6v1.6h-1.6z"/>
<path fill="#0080ff" d="M246.0 162.0h1.6v1.6h-1.6zM211.1 163.5h1.6v1.6h-1.6zM240.0 166.5h1.6v1.6h-1.6zM215.7 171.1h1.6v1.6h-1.6zM253.6 172.6h1.6v1.6h-1.6zM205.1 174.1h1.6v1.6h-1.6zM208.1 177.2h1.6v1.6h-1.6zM240.0 177.2h1.6v1.6h-1.6zM243.0 183.2h1.6v1.6h-1.6zM253.6 184.7h1.6v1.6h-1.6zM246.0 186.2h1.6v1.6h-1.6zM252.1 186.2h1.6v1.6h-1.6zM249.1 187.8h1.6v1.6h-1.6z"/>
<path fill="#ff1a00" d="M227.8 163.5h3.1v1.6h-3.1zM232.4 166.5h1.6v1.6h-1.6zM223.3 168.1h1.6v1.6h-1.6zM221.8 171.1h1.6v1.6h-1.6zM232.4 174.1h1.6v1.6h-1.6zM230.9 177.2h1.6v1.6h-1.6zM221.8 180.2h1.6v1.6h-1.6zM223.3 181.7h4.7v1.6h-4.7z"/>
<path fill="#ff3300" d="M230.9 163.5h1.6v1.6h-1.6zM224.8 165.0h1.6v1.6h-1.6zM232.4 165.0h1.6v1.6h-1.6zM220.2 175.6h1.6v1.6h-1.6zM232.4 175.6h1.6v1.6h-1.6zM220.2 177.2h1.6v1.6h-1.6zM220.2 178.7h1.6v1.6h-1.6zM229.3 180.2h1.6v1.6h-1.6zM221.8 181.7h1.6v1.6h-1.6z"/>
<path fill="#004dff" d="M243.0 163.5h1.6v1.6h-1.6zM246.0 163.5h1.6v1.6h-1.6zM209.6 165.0h1.6v1.6h-1.6zM241.5 165.0h1.6v1.6h-1.6zM206.6 168.1h1.6v1.6h-1.6zM250.6 168.1h1.6v1.6h-1.6zM215.7 169.6h1.6v1.6h-1.6zM252.1 171.1h1.6v1.6h-1.6zM214.2 172.6h1.6v1.6h-1.6zM206.6 175.6h1.6v1.6h-1.6zM211.1 175.6h1.6v1.6h-1.6zM253.6 175.6h1.6v1.6h-1.6zM253.6 177.2h1.6v1.6h-1.6zM241.5 178.7h1.6v1.6h-1.6zM253.6 178.7h1.6v1.6h-1.6zM253.6 180.2h1.6v1.6h-1.6zM243.0 181.7h1.6v1.6h-1.6zM253.6 181.7h1.6v1.6h-1.6zM252.1 184.7h1.6v1.6h-1.6zM247.5 186.2h4.7v1.6h-4.7z"/>
<path fill="#0033ff" d="M244.5 163.5h1.6v1.6h-1.6zM247.5 165.0h1.6v1.6h-1.6zM208.1 166.5h1.6v1.6h-1.6zM215.7 166.5h1.6v1.6h-1.6zM241.5 166.5h1.6v1.6h-1.6zM249.1 166.5h1.6v1.6h-1.6zM215.7 168.1h1.6v1.6h-1.6zM252.1 172.6h1.6v1.6h-1.6zM212.7 174.1h1.6v1.6h-1.6zM208.1 175.6h3.1v1.6h-3.1zM241.5 177.2h1.6v1.6h-1.6zM244.5 183.2h1.6v1.6h-1.6zM252.1 183.2h1.6v1.6h-1.6zM246.0 184.7h1.6v1.6h-1.6z"/>
<path fill="#001aff" d="M211.1 165.0h1.6v1.6h-1.6zM214.2 165.0h1.6v1.6h-1.6zM243.0 165.0h1.6v1.6h-1.6zM246.0 165.0h1.6v1.6h-1.6zM241.5 168.1h1.6v1.6h-1.6zM206.6 169.6h1.6v1.6h-1.6zM250.6 169.6h1.6v1.6h-1.6zM206.6 174.1h1.6v1.6h-1.6zM252.1 174.1h1.6v1.6h-1.6zM241.5 175.6h1.6v1.6h-1.6zM243.0 180.2h1.6v1.6h-1.6zM247.5 184.7h4.7v1.6h-4.7z"/>
<path fill="#0000ff" d="M212.7 165.0h1.6v1.6h-1.6zM244.5 165.0h1.6v1.6h-1.6zM243.0 166.5h1.6v1.6h-1.6zM247.5 166.5h1.6v1.6h-1.6zM249.1 168.1h1.6v1.6h-1.6zM241.5 169.6h1.6v1.6h-1.6zM206.6 171.1h1.6v1.6h-1.6zM214.2 171.1h1.6v1.6h-1.6zM241.5 171.1h1.6v1.6h-1.6zM250.6 171.1h1.6v1.6h-1.6zM206.6 172.6h1.6v1.6h-1.6zM241.5 172.6h1.6v1.6h-1.6zM241.5 174.1h1.6v1.6h-1.6zM252.1 175.6h1.6v1.6h-1.6zM243.0 178.7h1.6v1.6h-1.6zM252.1 180.2h1.6v1.6h-1.6zM244.5 181.7h1.6v1.6h-1.6zM252.1 181.7h1.6v1.6h-1.6zM246.0 183.2h1.6v1.6h-1.6zM250.6 183.2h1.6v1.6h-1.6z"/>
<path fill="#ff0000" d="M226.3 165.0h1.6v1.6h-1.6zM230.9 165.0h1.6v1.6h-1.6zM224.8 166.5h1.6v1.6h-1.6zM232.4 168.1h1.6v1.6h-1.6zM232.4 169.6h1.6v1.6h-1.6zM232.4 171.1h1.6v1.6h-1.6zM221.8 172.6h1.6v1.6h-1.6zM232.4 172.6h1.6v1.6h-1.6zM221.8 178.7h1.6v1.6h-1.6zM229.3 178.7h1.6v1.6h-1.6zM223.3 180.2h1.6v1.6h-1.6zM227.8 180.2h1.6v1.6h-1.6z"/>
<path fill="#e50000" d="M227.8 165.0h3.1v1.6h-3.1zM230.9 166.5h1.6v1.6h-1.6zM223.3 169.6h1.6v1.6h-1.6zM221.8 174.1h1.6v1.6h-1.6zM221.8 175.6h1.6v1.6h-1.6zM230.9 175.6h1.6v1.6h-1.6zM221.8 177.2h1.6v1.6h-1.6zM224.8 180.2h3.1v1.6h-3.1z"/>
<path fill="#0000e6" d="M209.6 166.5h1.6v1.6h-1.6zM214.2 166.5h1.6v1.6h-1.6zM244.5 166.5h3.1v1.6h-3.1zM208.1 168.1h1.6v1.6h-1.6zM243.0 168.1h1.6v1.6h-1.6zM249.1 169.6h1.6v1.6h-1.6zM212.7 172.6h1.6v1.6h-1.6zM250.6 172.6h1.6v1.6h-1.6zM208.1 174.1h1.6v1.6h-1.6zM211.1 174.1h1.6v1.6h-1.6zM243.0 177.2h1.6v1.6h-1.6zM252.1 177.2h1.6v1.6h-1.6zM252.1 178.7h1.6v1.6h-1.6z"/>
<path fill="#0000cc" d="M211.1 166.5h1.6v1.6h-1.6zM214.2 168.1h1.6v1.6h-1.6zM244.5 168.1h4.7v1.6h-4.7zM214.2 169.6h1.6v1.6h-1.6zM243.0 169.6h1.6v1.6h-1.6zM249.1 171.1h1.6v1.6h-1.6zM209.6 174.1h1.6v1.6h-1.6zM250.6 174.1h1.6v1.6h-1.6zM243.0 175.6h1.6v1.6h-1.6zM244.5 180.2h1.6v1.6h-1.6zM246.0 181.7h1.6v1.6h-1.6zM250.6 181.7h1.6v1.6h-1.6zM247.5 183.2h3.1v1.6h-3.1z"/>
<path fill="#0000b2" d="M212.7 166.5h1.6v1.6h-1.6zM209.6 168.1h1.6v1.6h-1.6zM208.1 169.6h1.6v1.6h-1.6zM244.5 169.6h4.7v1.6h-4.7zM208.1 171.1h1.6v1.6h-1.6zM243.0 171.1h1.6v1.6h-1.6zM208.1 172.6h1.6v1.6h-1.6zM211.1 172.6h1.6v1.6h-1.6zM243.0 172.6h1.6v1.6h-1.6zM249.1 172.6h1.6v1.6h-1.6zM243.0 174.1h1.6v1.6h-1.6zM250.6 175.6h1.6v1.6h-1.6zM250.6 177.2h1.6v1.6h-1.6zM244.5 178.7h1.6v1.6h-1.6zM250.6 178.7h1.6v1.6h-1.6zM250.6 180.2h1.6v1.6h-1.6zM249.1 181.7h1.6v1.6h-1.6z"/>
<path fill="#cc0000" d="M226.3 166.5h1.6v1.6h-1.6zM224.8 168.1h1.6v1.6h-1.6zM230.9 168.1h1.6v1.6h-1.6zM223.3 171.1h1.6v1.6h-1.6zM230.9 174.1h1.6v1.6h-1.6zM229.3 177.2h1.6v1.6h-1.6zM223.3 178.7h1.6v1.6h-1.6zM227.8 178.7h1.6v1.6h-1.6z"/>
<path fill="#b30000" d="M227.8 166.5h3.1v1.6h-3.1zM226.3 168.1h1.6v1.6h-1.6zM224.8 169.6h1.6v1.6h-1.6zM230.9 169.6h1.6v1.6h-1.6zM230.9 171.1h1.6v1.6h-1.6zM223.3 172.6h1.6v1.6h-1.6zM230.9 172.6h1.6v1.6h-1.6zM223.3 174.1h1.6v1.6h-1.6zM223.3 175.6h1.6v1.6h-1.6zM229.3 175.6h1.6v1.6h-1.6zM223.3 177.2h1.6v1.6h-1.6zM227.8 177.2h1.6v1.6h-1.6zM224.8 178.7h3.1v1.6h-3.1z"/>
<path fill="#000099" d="M211.1 168.1h3.1v1.6h-3.1zM212.7 169.6h1.6v1.6h-1.6zM212.7 171.1h1.6v1.6h-1.6zM244.5 171.1h4.7v1.6h-4.7zM209.6 172.6h1.6v1.6h-1.6zM244.5 172.6h4.7v1.6h-4.7zM244.5 174.1h1.6v1.6h-1.6zM249.1 174.1h1.6v1.6h-1.6zM244.5 175.6h1.6v1.6h-1.6zM244.5 177.2h1.6v1.6h-1.6zM246.0 180.2h1.6v1.6h-1.6zM249.1 180.2h1.6v1.6h-1.6zM247.5 181.7h1.6v1.6h-1.6z"/>
<path fill="#990000" d="M227.8 168.1h3.1v1.6h-3.1zM226.3 169.6h1.6v1.6h-1.6zM229.3 169.6h1.6v1.6h-1.6zM224.8 171.1h1.6v1.6h-1.6zM229.3 171.1h1.6v1.6h-1.6zM224.8 172.6h1.6v1.6h-1.6zM229.3 172.6h1.6v1.6h-1.6zM224.8 174.1h1.6v1.6h-1.6zM229.3 174.1h1.6v1.6h-1.6zM224.8 175.6h1.6v1.6h-1.6zM227.8 175.6h1.6v1.6h-1.6zM224.8 177.2h3.1v1.6h-3.1z"/>
<path fill="#000080" d="M209.6 169.6h3.1v1.6h-3.1zM209.6 171.1h3.1v1.6h-3.1zM246.0 174.1h3.1v1.6h-3.1zM246.0 175.6h4.7v1.6h-4.7zM246.0 177.2h4.7v1.6h-4.7zM246.0 178.7h4.7v1.6h-4.7zM247.5 180.2h1.6v1.6h-1.6z"/>
<path fill="#800000" d="M227.8 169.6h1.6v1.6h-1.6zM226.3 171.1h3.1v1.6h-3.1zM226.3 172.6h3.1v1.6h-3.1zM226.3 174.1h3.1v1.6h-3.1zM226.3 175.6h1.6v1.6h-1.6z"/>
</g></g>
<rect x="199.0" y="154.4" width="62.2" height="36.4" fill="none" stroke="#999" stroke-width="0.25"/>
<text x="230.1" y="152.8" font-size="2.9" text-anchor="middle" style="font-family:'Liberation Sans',sans-serif;fill:#555;fill:#444">Predicted V</text>
<rect x="265.4" y="153.1" width="3.3" height="39.0" fill="url(#jetv)"/>
<text x="270.0" y="155.8" font-size="2.6" style="font-family:'Liberation Sans',sans-serif;fill:#555;fill:#333;stroke:#555;stroke-width:0.05">0.450</text>
<text x="270.0" y="159.8" font-size="2.6" style="font-family:'Liberation Sans',sans-serif;fill:#555;fill:#333;stroke:#555;stroke-width:0.05">0.350</text>
<text x="270.0" y="163.7" font-size="2.6" style="font-family:'Liberation Sans',sans-serif;fill:#555;fill:#333;stroke:#555;stroke-width:0.05">0.250</text>
<text x="270.0" y="167.6" font-size="2.6" style="font-family:'Liberation Sans',sans-serif;fill:#555;fill:#333;stroke:#555;stroke-width:0.05">0.150</text>
<text x="270.0" y="171.5" font-size="2.6" style="font-family:'Liberation Sans',sans-serif;fill:#555;fill:#333;stroke:#555;stroke-width:0.05">0.050</text>
<text x="270.0" y="175.3" font-size="2.6" style="font-family:'Liberation Sans',sans-serif;fill:#555;fill:#333;stroke:#555;stroke-width:0.05">-0.050</text>
<text x="270.0" y="179.2" font-size="2.6" style="font-family:'Liberation Sans',sans-serif;fill:#555;fill:#333;stroke:#555;stroke-width:0.05">-0.150</text>
<text x="270.0" y="183.2" font-size="2.6" style="font-family:'Liberation Sans',sans-serif;fill:#555;fill:#333;stroke:#555;stroke-width:0.05">-0.250</text>
<text x="270.0" y="187.1" font-size="2.6" style="font-family:'Liberation Sans',sans-serif;fill:#555;fill:#333;stroke:#555;stroke-width:0.05">-0.350</text>
<text x="270.0" y="190.9" font-size="2.6" style="font-family:'Liberation Sans',sans-serif;fill:#555;fill:#333;stroke:#555;stroke-width:0.05">-0.450</text>
<text x="196.8" y="155.2" font-size="2.3" text-anchor="end" style="font-family:'Liberation Sans',sans-serif;fill:#555">2</text>
<text x="196.8" y="164.3" font-size="2.3" text-anchor="end" style="font-family:'Liberation Sans',sans-serif;fill:#555">1</text>
<text x="196.8" y="173.4" font-size="2.3" text-anchor="end" style="font-family:'Liberation Sans',sans-serif;fill:#555">0</text>
<text x="196.8" y="182.5" font-size="2.3" text-anchor="end" style="font-family:'Liberation Sans',sans-serif;fill:#555">-1</text>
<text x="196.8" y="191.6" font-size="2.3" text-anchor="end" style="font-family:'Liberation Sans',sans-serif;fill:#555">-2</text>
<text x="199.0" y="194.0" font-size="2.3" text-anchor="middle" style="font-family:'Liberation Sans',sans-serif;fill:#555">0</text>
<text x="206.8" y="194.0" font-size="2.3" text-anchor="middle" style="font-family:'Liberation Sans',sans-serif;fill:#555">1</text>
<text x="214.6" y="194.0" font-size="2.3" text-anchor="middle" style="font-family:'Liberation Sans',sans-serif;fill:#555">2</text>
<text x="222.3" y="194.0" font-size="2.3" text-anchor="middle" style="font-family:'Liberation Sans',sans-serif;fill:#555">3</text>
<text x="230.1" y="194.0" font-size="2.3" text-anchor="middle" style="font-family:'Liberation Sans',sans-serif;fill:#555">4</text>
<text x="237.9" y="194.0" font-size="2.3" text-anchor="middle" style="font-family:'Liberation Sans',sans-serif;fill:#555">5</text>
<text x="245.7" y="194.0" font-size="2.3" text-anchor="middle" style="font-family:'Liberation Sans',sans-serif;fill:#555">6</text>
<text x="253.4" y="194.0" font-size="2.3" text-anchor="middle" style="font-family:'Liberation Sans',sans-serif;fill:#555">7</text>
<text x="261.2" y="194.0" font-size="2.3" text-anchor="middle" style="font-family:'Liberation Sans',sans-serif;fill:#555">8</text>
<text x="230.1" y="197.2" font-size="2.6" text-anchor="middle" style="font-family:'Liberation Sans',sans-serif;fill:#555">x</text>
<text x="193.5" y="173.4" font-size="2.6" text-anchor="middle" style="font-family:'Liberation Sans',sans-serif;fill:#555">y</text>
<clipPath id="cpp"><rect x="198.90" y="203.40" width="62.60" height="36.80"/></clipPath>
<g clip-path="url(#cpp)"><g filter="url(#bl)" shape-rendering="crispEdges">
<path fill="#ff6600" d="M195.9 200.4h9.1v4.6h-9.1zM210.8 200.4h3.1v4.6h-3.1zM195.9 204.9h6.1v1.6h-6.1zM212.3 204.9h1.6v1.6h-1.6zM195.9 206.3h4.6v1.6h-4.6zM212.3 206.3h1.6v1.6h-1.6zM213.8 209.3h1.6v1.6h-1.6zM233.2 209.3h6.1v1.6h-6.1zM213.8 210.8h1.6v1.6h-1.6zM231.7 210.8h1.6v1.6h-1.6zM240.6 210.8h1.6v1.6h-1.6zM242.1 212.2h1.6v1.6h-1.6zM243.6 213.7h1.6v1.6h-1.6zM216.8 215.2h1.6v1.6h-1.6zM243.6 215.2h3.1v1.6h-3.1zM228.7 216.6h1.6v1.6h-1.6zM245.1 216.6h1.6v1.6h-1.6zM221.3 218.1h1.6v1.6h-1.6zM227.2 218.1h1.6v1.6h-1.6zM245.1 218.1h3.1v1.6h-3.1zM257.0 218.1h7.6v1.6h-7.6zM222.7 219.6h6.1v1.6h-6.1zM243.6 219.6h4.6v1.6h-4.6zM255.5 219.6h3.1v1.6h-3.1zM224.2 221.1h4.6v1.6h-4.6zM243.6 221.1h3.1v1.6h-3.1zM255.5 221.1h1.6v1.6h-1.6zM225.7 222.5h4.6v1.6h-4.6zM242.1 222.5h4.6v1.6h-4.6zM254.0 222.5h1.6v1.6h-1.6zM225.7 224.0h6.1v1.6h-6.1zM240.6 224.0h4.6v1.6h-4.6zM254.0 224.0h1.6v1.6h-1.6zM227.2 225.5h16.5v1.6h-16.5zM254.0 225.5h1.6v1.6h-1.6zM227.2 227.0h1.6v1.6h-1.6zM254.0 227.0h1.6v1.6h-1.6zM227.2 228.4h1.6v1.6h-1.6zM255.5 228.4h1.6v1.6h-1.6zM255.5 229.9h1.6v1.6h-1.6zM225.7 231.4h1.6v1.6h-1.6zM257.0 231.4h1.6v1.6h-1.6zM258.5 232.8h6.1v1.6h-6.1zM224.2 234.3h1.6v1.6h-1.6zM221.3 235.8h1.6v1.6h-1.6zM219.8 237.3h1.6v1.6h-1.6zM218.3 238.7h3.1v4.6h-3.1z"/>
<path fill="#ff8000" d="M204.9 200.4h6.1v4.6h-6.1zM201.9 204.9h10.5v1.6h-10.5zM200.4 206.3h3.1v1.6h-3.1zM210.8 206.3h1.6v1.6h-1.6zM195.9 207.8h6.1v1.6h-6.1zM212.3 207.8h1.6v1.6h-1.6zM212.3 209.3h1.6v1.6h-1.6zM233.2 210.8h1.6v1.6h-1.6zM237.7 210.8h3.1v1.6h-3.1zM213.8 212.2h1.6v1.6h-1.6zM231.7 212.2h1.6v1.6h-1.6zM240.6 212.2h1.6v1.6h-1.6zM215.3 213.7h1.6v1.6h-1.6zM230.2 213.7h1.6v1.6h-1.6zM242.1 213.7h1.6v1.6h-1.6zM242.1 215.2h1.6v1.6h-1.6zM218.3 216.6h1.6v1.6h-1.6zM243.6 216.6h1.6v1.6h-1.6zM219.8 218.1h1.6v1.6h-1.6zM228.7 218.1h1.6v1.6h-1.6zM243.6 218.1h1.6v1.6h-1.6zM221.3 219.6h1.6v1.6h-1.6zM228.7 219.6h1.6v1.6h-1.6zM242.1 219.6h1.6v1.6h-1.6zM258.5 219.6h1.6v1.6h-1.6zM222.7 221.1h1.6v1.6h-1.6zM228.7 221.1h1.6v1.6h-1.6zM242.1 221.1h1.6v1.6h-1.6zM257.0 221.1h1.6v1.6h-1.6zM224.2 222.5h1.6v1.6h-1.6zM230.2 222.5h1.6v1.6h-1.6zM240.6 222.5h1.6v1.6h-1.6zM255.5 222.5h1.6v1.6h-1.6zM231.7 224.0h3.1v1.6h-3.1zM237.7 224.0h3.1v1.6h-3.1zM255.5 224.0h1.6v1.6h-1.6zM206.4 225.5h1.6v1.6h-1.6zM225.7 225.5h1.6v1.6h-1.6zM255.5 225.5h1.6v1.6h-1.6zM225.7 227.0h1.6v1.6h-1.6zM255.5 227.0h1.6v1.6h-1.6zM201.9 228.4h1.6v1.6h-1.6zM206.4 228.4h1.6v1.6h-1.6zM225.7 228.4h1.6v1.6h-1.6zM225.7 229.9h1.6v1.6h-1.6zM257.0 229.9h1.6v1.6h-1.6zM258.5 231.4h6.1v1.6h-6.1zM224.2 232.8h1.6v1.6h-1.6zM222.7 234.3h1.6v1.6h-1.6zM195.9 235.8h4.6v1.6h-4.6zM218.3 235.8h3.1v1.6h-3.1zM195.9 237.3h4.6v1.6h-4.6zM216.8 237.3h3.1v1.6h-3.1zM195.9 238.7h7.6v4.6h-7.6zM215.3 238.7h3.1v4.6h-3.1z"/>
<path fill="#ff4c00" d="M213.8 200.4h3.1v4.6h-3.1zM233.2 200.4h1.6v4.6h-1.6zM213.8 204.9h1.6v1.6h-1.6zM233.2 204.9h1.6v1.6h-1.6zM213.8 206.3h1.6v1.6h-1.6zM233.2 206.3h4.6v1.6h-4.6zM213.8 207.8h1.6v1.6h-1.6zM231.7 207.8h7.6v1.6h-7.6zM231.7 209.3h1.6v1.6h-1.6zM239.1 209.3h3.1v1.6h-3.1zM230.2 210.8h1.6v1.6h-1.6zM242.1 210.8h1.6v1.6h-1.6zM215.3 212.2h1.6v1.6h-1.6zM230.2 212.2h1.6v1.6h-1.6zM243.6 212.2h3.1v1.6h-3.1zM216.8 213.7h1.6v1.6h-1.6zM228.7 213.7h1.6v1.6h-1.6zM245.1 213.7h4.6v1.6h-4.6zM260.0 213.7h4.6v1.6h-4.6zM218.3 215.2h1.6v1.6h-1.6zM228.7 215.2h1.6v1.6h-1.6zM246.6 215.2h18.0v1.6h-18.0zM219.8 216.6h1.6v1.6h-1.6zM227.2 216.6h1.6v1.6h-1.6zM246.6 216.6h18.0v1.6h-18.0zM222.7 218.1h4.6v1.6h-4.6zM248.1 218.1h9.0v1.6h-9.0zM248.1 219.6h7.6v1.6h-7.6zM246.6 221.1h9.0v1.6h-9.0zM246.6 222.5h7.6v1.6h-7.6zM245.1 224.0h9.0v1.6h-9.0zM203.4 225.5h3.1v1.6h-3.1zM243.6 225.5h10.5v1.6h-10.5zM201.9 227.0h1.6v1.6h-1.6zM228.7 227.0h25.4v1.6h-25.4zM203.4 228.4h3.1v1.6h-3.1zM228.7 228.4h10.5v1.6h-10.5zM251.1 228.4h4.6v1.6h-4.6zM227.2 229.9h3.1v1.6h-3.1zM254.0 229.9h1.6v1.6h-1.6zM227.2 231.4h1.6v1.6h-1.6zM255.5 231.4h1.6v1.6h-1.6zM225.7 232.8h1.6v1.6h-1.6zM257.0 232.8h1.6v1.6h-1.6zM258.5 234.3h6.1v1.6h-6.1zM222.7 235.8h3.1v1.6h-3.1zM260.0 235.8h4.6v1.6h-4.6zM221.3 237.3h3.1v1.6h-3.1zM260.0 237.3h4.6v1.6h-4.6zM221.3 238.7h3.1v4.6h-3.1zM260.0 238.7h4.6v4.6h-4.6z"/>
<path fill="#ff3300" d="M216.8 200.4h3.1v4.6h-3.1zM227.2 200.4h6.1v4.6h-6.1zM234.7 200.4h6.1v4.6h-6.1zM215.3 204.9h3.1v1.6h-3.1zM228.7 204.9h4.6v1.6h-4.6zM234.7 204.9h6.1v1.6h-6.1zM215.3 206.3h1.6v1.6h-1.6zM230.2 206.3h3.1v1.6h-3.1zM237.7 206.3h3.1v1.6h-3.1zM215.3 207.8h1.6v1.6h-1.6zM230.2 207.8h1.6v1.6h-1.6zM239.1 207.8h3.1v1.6h-3.1zM215.3 209.3h1.6v1.6h-1.6zM230.2 209.3h1.6v1.6h-1.6zM242.1 209.3h3.1v1.6h-3.1zM215.3 210.8h1.6v1.6h-1.6zM243.6 210.8h4.6v1.6h-4.6zM260.0 210.8h4.6v1.6h-4.6zM216.8 212.2h1.6v1.6h-1.6zM228.7 212.2h1.6v1.6h-1.6zM246.6 212.2h18.0v1.6h-18.0zM249.6 213.7h10.5v1.6h-10.5zM219.8 215.2h1.6v1.6h-1.6zM227.2 215.2h1.6v1.6h-1.6zM221.3 216.6h6.1v1.6h-6.1zM206.4 227.0h1.6v1.6h-1.6zM239.1 228.4h12.0v1.6h-12.0zM230.2 229.9h9.0v1.6h-9.0zM245.1 229.9h9.0v1.6h-9.0zM228.7 231.4h1.6v1.6h-1.6zM251.1 231.4h4.6v1.6h-4.6zM227.2 232.8h1.6v1.6h-1.6zM252.6 232.8h4.6v1.6h-4.6zM225.7 234.3h1.6v1.6h-1.6zM254.0 234.3h4.6v1.6h-4.6zM225.7 235.8h1.6v1.6h-1.6zM255.5 235.8h4.6v1.6h-4.6zM224.2 237.3h1.6v1.6h-1.6zM255.5 237.3h4.6v1.6h-4.6zM224.2 238.7h1.6v4.6h-1.6zM254.0 238.7h6.1v4.6h-6.1z"/>
<path fill="#ff1a00" d="M219.8 200.4h7.6v4.6h-7.6zM240.6 200.4h4.6v4.6h-4.6zM260.0 200.4h4.6v4.6h-4.6zM218.3 204.9h1.6v1.6h-1.6zM225.7 204.9h3.1v1.6h-3.1zM240.6 204.9h3.1v1.6h-3.1zM216.8 206.3h1.6v1.6h-1.6zM227.2 206.3h3.1v1.6h-3.1zM240.6 206.3h3.1v1.6h-3.1zM228.7 207.8h1.6v1.6h-1.6zM242.1 207.8h3.1v1.6h-3.1zM260.0 207.8h4.6v1.6h-4.6zM228.7 209.3h1.6v1.6h-1.6zM245.1 209.3h3.1v1.6h-3.1zM257.0 209.3h7.6v1.6h-7.6zM216.8 210.8h1.6v1.6h-1.6zM228.7 210.8h1.6v1.6h-1.6zM248.1 210.8h12.0v1.6h-12.0zM218.3 213.7h1.6v1.6h-1.6zM227.2 213.7h1.6v1.6h-1.6zM221.3 215.2h1.6v1.6h-1.6zM224.2 215.2h3.1v1.6h-3.1zM239.1 229.9h6.1v1.6h-6.1zM230.2 231.4h7.6v1.6h-7.6zM243.6 231.4h7.6v1.6h-7.6zM228.7 232.8h3.1v1.6h-3.1zM249.6 232.8h3.1v1.6h-3.1zM227.2 234.3h3.1v1.6h-3.1zM251.1 234.3h3.1v1.6h-3.1zM227.2 235.8h1.6v1.6h-1.6zM252.6 235.8h3.1v1.6h-3.1zM225.7 237.3h3.1v1.6h-3.1zM252.6 237.3h3.1v1.6h-3.1zM225.7 238.7h3.1v4.6h-3.1zM251.1 238.7h3.1v4.6h-3.1z"/>
<path fill="#ff0000" d="M245.1 200.4h6.1v4.6h-6.1zM252.6 200.4h7.6v4.6h-7.6zM219.8 204.9h6.1v1.6h-6.1zM243.6 204.9h4.6v1.6h-4.6zM257.0 204.9h7.6v1.6h-7.6zM218.3 206.3h1.6v1.6h-1.6zM225.7 206.3h1.6v1.6h-1.6zM243.6 206.3h4.6v1.6h-4.6zM257.0 206.3h7.6v1.6h-7.6zM216.8 207.8h1.6v1.6h-1.6zM227.2 207.8h1.6v1.6h-1.6zM245.1 207.8h15.0v1.6h-15.0zM216.8 209.3h1.6v1.6h-1.6zM227.2 209.3h1.6v1.6h-1.6zM248.1 209.3h9.0v1.6h-9.0zM227.2 210.8h1.6v1.6h-1.6zM218.3 212.2h1.6v1.6h-1.6zM227.2 212.2h1.6v1.6h-1.6zM219.8 213.7h1.6v1.6h-1.6zM225.7 213.7h1.6v1.6h-1.6zM222.7 215.2h1.6v1.6h-1.6zM237.7 231.4h6.1v1.6h-6.1zM231.7 232.8h4.6v1.6h-4.6zM245.1 232.8h4.6v1.6h-4.6zM230.2 234.3h3.1v1.6h-3.1zM248.1 234.3h3.1v1.6h-3.1zM228.7 235.8h3.1v1.6h-3.1zM249.6 235.8h3.1v1.6h-3.1zM228.7 237.3h3.1v1.6h-3.1zM249.6 237.3h3.1v1.6h-3.1zM228.7 238.7h4.6v4.6h-4.6zM248.1 238.7h3.1v4.6h-3.1z"/>
<path fill="#e50000" d="M251.1 200.4h1.6v4.6h-1.6zM248.1 204.9h9.0v1.6h-9.0zM219.8 206.3h6.1v1.6h-6.1zM248.1 206.3h9.0v1.6h-9.0zM218.3 207.8h1.6v1.6h-1.6zM225.7 207.8h1.6v1.6h-1.6zM218.3 209.3h1.6v1.6h-1.6zM225.7 209.3h1.6v1.6h-1.6zM218.3 210.8h1.6v1.6h-1.6zM225.7 210.8h1.6v1.6h-1.6zM219.8 212.2h1.6v1.6h-1.6zM225.7 212.2h1.6v1.6h-1.6zM221.3 213.7h4.6v1.6h-4.6zM203.4 227.0h3.1v1.6h-3.1zM236.2 232.8h9.0v1.6h-9.0zM233.2 234.3h3.1v1.6h-3.1zM243.6 234.3h4.6v1.6h-4.6zM231.7 235.8h3.1v1.6h-3.1zM246.6 235.8h3.1v1.6h-3.1zM231.7 237.3h3.1v1.6h-3.1zM246.6 237.3h3.1v1.6h-3.1zM233.2 238.7h3.1v4.6h-3.1zM243.6 238.7h4.6v4.6h-4.6z"/>
<path fill="#ff9900" d="M203.4 206.3h7.6v1.6h-7.6zM201.9 207.8h3.1v1.6h-3.1zM209.3 207.8h3.1v1.6h-3.1zM195.9 209.3h4.6v1.6h-4.6zM210.8 209.3h1.6v1.6h-1.6zM212.3 210.8h1.6v1.6h-1.6zM234.7 210.8h3.1v1.6h-3.1zM213.8 213.7h1.6v1.6h-1.6zM215.3 215.2h1.6v1.6h-1.6zM230.2 215.2h1.6v1.6h-1.6zM216.8 216.6h1.6v1.6h-1.6zM242.1 216.6h1.6v1.6h-1.6zM242.1 218.1h1.6v1.6h-1.6zM230.2 219.6h1.6v1.6h-1.6zM260.0 219.6h4.6v1.6h-4.6zM230.2 221.1h1.6v1.6h-1.6zM240.6 221.1h1.6v1.6h-1.6zM222.7 222.5h1.6v1.6h-1.6zM231.7 222.5h1.6v1.6h-1.6zM239.1 222.5h1.6v1.6h-1.6zM257.0 222.5h1.6v1.6h-1.6zM224.2 224.0h1.6v1.6h-1.6zM234.7 224.0h3.1v1.6h-3.1zM201.9 225.5h1.6v1.6h-1.6zM224.2 225.5h1.6v1.6h-1.6zM200.4 227.0h1.6v1.6h-1.6zM207.8 227.0h1.6v1.6h-1.6zM257.0 228.4h1.6v1.6h-1.6zM258.5 229.9h1.6v1.6h-1.6zM224.2 231.4h1.6v1.6h-1.6zM195.9 232.8h4.6v1.6h-4.6zM222.7 232.8h1.6v1.6h-1.6zM195.9 234.3h4.6v1.6h-4.6zM219.8 234.3h3.1v1.6h-3.1zM200.4 235.8h1.6v1.6h-1.6zM216.8 235.8h1.6v1.6h-1.6zM200.4 237.3h3.1v1.6h-3.1zM215.3 237.3h1.6v1.6h-1.6zM203.4 238.7h4.6v4.6h-4.6zM210.8 238.7h4.6v4.6h-4.6z"/>
<path fill="#ffb300" d="M204.9 207.8h4.6v1.6h-4.6zM200.4 209.3h3.1v1.6h-3.1zM212.3 212.2h1.6v1.6h-1.6zM239.1 212.2h1.6v1.6h-1.6zM240.6 213.7h1.6v1.6h-1.6zM230.2 216.6h1.6v1.6h-1.6zM218.3 218.1h1.6v1.6h-1.6zM230.2 218.1h1.6v1.6h-1.6zM219.8 219.6h1.6v1.6h-1.6zM221.3 221.1h1.6v1.6h-1.6zM231.7 221.1h1.6v1.6h-1.6zM258.5 221.1h1.6v1.6h-1.6zM233.2 222.5h1.6v1.6h-1.6zM237.7 222.5h1.6v1.6h-1.6zM257.0 224.0h1.6v1.6h-1.6zM195.9 227.0h4.6v1.6h-4.6zM224.2 227.0h1.6v1.6h-1.6zM257.0 227.0h1.6v1.6h-1.6zM195.9 228.4h6.1v1.6h-6.1zM224.2 228.4h1.6v1.6h-1.6zM195.9 229.9h4.6v1.6h-4.6zM224.2 229.9h1.6v1.6h-1.6zM260.0 229.9h4.6v1.6h-4.6zM195.9 231.4h4.6v1.6h-4.6zM200.4 232.8h1.6v1.6h-1.6zM200.4 234.3h3.1v1.6h-3.1zM216.8 234.3h3.1v1.6h-3.1zM201.9 235.8h3.1v1.6h-3.1zM213.8 235.8h3.1v1.6h-3.1zM203.4 237.3h12.0v1.6h-12.0zM207.8 238.7h3.1v4.6h-3.1z"/>
<path fill="#cc0000" d="M219.8 207.8h6.1v1.6h-6.1zM219.8 209.3h1.6v1.6h-1.6zM224.2 209.3h1.6v1.6h-1.6zM219.8 210.8h1.6v1.6h-1.6zM224.2 210.8h1.6v1.6h-1.6zM221.3 212.2h4.6v1.6h-4.6zM236.2 234.3h7.6v1.6h-7.6zM234.7 235.8h12.0v1.6h-12.0zM234.7 237.3h4.6v1.6h-4.6zM240.6 237.3h6.1v1.6h-6.1zM236.2 238.7h7.6v4.6h-7.6z"/>
<path fill="#ffcc00" d="M203.4 209.3h3.1v1.6h-3.1zM207.8 209.3h3.1v1.6h-3.1zM195.9 210.8h4.6v1.6h-4.6zM210.8 210.8h1.6v1.6h-1.6zM233.2 212.2h1.6v1.6h-1.6zM212.3 213.7h1.6v1.6h-1.6zM231.7 213.7h1.6v1.6h-1.6zM213.8 215.2h1.6v1.6h-1.6zM240.6 215.2h1.6v1.6h-1.6zM215.3 216.6h1.6v1.6h-1.6zM216.8 218.1h1.6v1.6h-1.6zM240.6 219.6h1.6v1.6h-1.6zM260.0 221.1h4.6v1.6h-4.6zM234.7 222.5h3.1v1.6h-3.1zM258.5 222.5h1.6v1.6h-1.6zM222.7 224.0h1.6v1.6h-1.6zM207.8 225.5h1.6v1.6h-1.6zM257.0 225.5h1.6v1.6h-1.6zM207.8 228.4h1.6v1.6h-1.6zM258.5 228.4h1.6v1.6h-1.6zM200.4 229.9h6.1v1.6h-6.1zM200.4 231.4h3.1v1.6h-3.1zM222.7 231.4h1.6v1.6h-1.6zM201.9 232.8h1.6v1.6h-1.6zM221.3 232.8h1.6v1.6h-1.6zM203.4 234.3h3.1v1.6h-3.1zM212.3 234.3h4.6v1.6h-4.6zM204.9 235.8h9.0v1.6h-9.0z"/>
<path fill="#ffe500" d="M206.4 209.3h1.6v1.6h-1.6zM200.4 210.8h1.6v1.6h-1.6zM209.3 210.8h1.6v1.6h-1.6zM210.8 212.2h1.6v1.6h-1.6zM234.7 212.2h1.6v1.6h-1.6zM237.7 212.2h1.6v1.6h-1.6zM212.3 215.2h1.6v1.6h-1.6zM213.8 216.6h1.6v1.6h-1.6zM240.6 216.6h1.6v1.6h-1.6zM240.6 218.1h1.6v1.6h-1.6zM218.3 219.6h1.6v1.6h-1.6zM219.8 221.1h1.6v1.6h-1.6zM239.1 221.1h1.6v1.6h-1.6zM221.3 222.5h1.6v1.6h-1.6zM195.9 225.5h6.1v1.6h-6.1zM222.7 225.5h1.6v1.6h-1.6zM206.4 229.9h1.6v1.6h-1.6zM203.4 231.4h3.1v1.6h-3.1zM203.4 232.8h4.6v1.6h-4.6zM210.8 232.8h10.5v1.6h-10.5zM206.4 234.3h6.1v1.6h-6.1z"/>
<path fill="#b30000" d="M221.3 209.3h3.1v1.6h-3.1zM221.3 210.8h3.1v1.6h-3.1zM239.1 237.3h1.6v1.6h-1.6z"/>
<path fill="#ffff00" d="M201.9 210.8h1.6v1.6h-1.6zM236.2 212.2h1.6v1.6h-1.6zM239.1 213.7h1.6v1.6h-1.6zM231.7 215.2h1.6v1.6h-1.6zM215.3 218.1h1.6v1.6h-1.6zM231.7 219.6h1.6v1.6h-1.6zM233.2 221.1h1.6v1.6h-1.6zM260.0 222.5h4.6v1.6h-4.6zM204.9 224.0h3.1v1.6h-3.1zM258.5 224.0h1.6v1.6h-1.6zM258.5 225.5h1.6v1.6h-1.6zM209.3 227.0h1.6v1.6h-1.6zM222.7 227.0h1.6v1.6h-1.6zM258.5 227.0h1.6v1.6h-1.6zM209.3 228.4h1.6v1.6h-1.6zM222.7 228.4h1.6v1.6h-1.6zM260.0 228.4h4.6v1.6h-4.6zM207.8 229.9h3.1v1.6h-3.1zM222.7 229.9h1.6v1.6h-1.6zM206.4 231.4h7.6v1.6h-7.6zM221.3 231.4h1.6v1.6h-1.6zM207.8 232.8h3.1v1.6h-3.1z"/>
<path fill="#e5ff1a" d="M203.4 210.8h1.6v1.6h-1.6zM206.4 210.8h3.1v1.6h-3.1zM209.3 212.2h1.6v1.6h-1.6zM210.8 213.7h1.6v1.6h-1.6zM233.2 213.7h1.6v1.6h-1.6zM212.3 216.6h1.6v1.6h-1.6zM231.7 216.6h1.6v1.6h-1.6zM213.8 218.1h1.6v1.6h-1.6zM231.7 218.1h1.6v1.6h-1.6zM216.8 219.6h1.6v1.6h-1.6zM239.1 219.6h1.6v1.6h-1.6zM237.7 221.1h1.6v1.6h-1.6zM203.4 224.0h1.6v1.6h-1.6zM207.8 224.0h1.6v1.6h-1.6zM221.3 224.0h1.6v1.6h-1.6zM209.3 225.5h1.6v1.6h-1.6zM210.8 229.9h1.6v1.6h-1.6zM213.8 231.4h3.1v1.6h-3.1z"/>
<path fill="#ccff33" d="M204.9 210.8h1.6v1.6h-1.6zM210.8 215.2h1.6v1.6h-1.6zM239.1 215.2h1.6v1.6h-1.6zM210.8 216.6h1.6v1.6h-1.6zM212.3 218.1h1.6v1.6h-1.6zM218.3 221.1h1.6v1.6h-1.6zM234.7 221.1h3.1v1.6h-3.1zM219.8 222.5h1.6v1.6h-1.6zM260.0 224.0h4.6v1.6h-4.6zM260.0 225.5h4.6v1.6h-4.6zM260.0 227.0h4.6v1.6h-4.6zM210.8 228.4h1.6v1.6h-1.6zM212.3 229.9h1.6v1.6h-1.6zM221.3 229.9h1.6v1.6h-1.6zM216.8 231.4h4.6v1.6h-4.6z"/>
<path fill="#b3ff4c" d="M195.9 212.2h4.6v1.6h-4.6zM209.3 213.7h1.6v1.6h-1.6zM237.7 213.7h1.6v1.6h-1.6zM210.8 218.1h1.6v1.6h-1.6zM239.1 218.1h1.6v1.6h-1.6zM215.3 219.6h1.6v1.6h-1.6zM207.8 221.1h1.6v1.6h-1.6zM206.4 222.5h3.1v1.6h-3.1zM201.9 224.0h1.6v1.6h-1.6zM209.3 224.0h1.6v1.6h-1.6zM221.3 225.5h1.6v1.6h-1.6zM210.8 227.0h1.6v1.6h-1.6zM221.3 227.0h1.6v1.6h-1.6zM212.3 228.4h1.6v1.6h-1.6zM221.3 228.4h1.6v1.6h-1.6zM213.8 229.9h1.6v1.6h-1.6z"/>
<path fill="#80ff80" d="M200.4 212.2h1.6v1.6h-1.6zM206.4 212.2h1.6v1.6h-1.6zM233.2 215.2h1.6v1.6h-1.6zM212.3 219.6h1.6v1.6h-1.6zM237.7 219.6h1.6v1.6h-1.6zM206.4 221.1h1.6v1.6h-1.6zM210.8 221.1h1.6v1.6h-1.6zM204.9 222.5h1.6v1.6h-1.6zM218.3 222.5h1.6v1.6h-1.6zM200.4 224.0h1.6v1.6h-1.6zM212.3 227.0h1.6v1.6h-1.6zM213.8 228.4h1.6v1.6h-1.6zM216.8 229.9h3.1v1.6h-3.1z"/>
<path fill="#66ff99" d="M201.9 212.2h4.6v1.6h-4.6zM237.7 215.2h1.6v1.6h-1.6zM233.2 216.6h1.6v1.6h-1.6zM207.8 218.1h1.6v1.6h-1.6zM233.2 218.1h1.6v1.6h-1.6zM234.7 219.6h1.6v1.6h-1.6zM215.3 221.1h1.6v1.6h-1.6zM210.8 222.5h1.6v1.6h-1.6zM210.8 224.0h1.6v1.6h-1.6zM219.8 225.5h1.6v1.6h-1.6zM219.8 227.0h1.6v1.6h-1.6zM219.8 228.4h1.6v1.6h-1.6z"/>
<path fill="#99ff66" d="M207.8 212.2h1.6v1.6h-1.6zM234.7 213.7h3.1v1.6h-3.1zM209.3 215.2h1.6v1.6h-1.6zM209.3 216.6h1.6v1.6h-1.6zM239.1 216.6h1.6v1.6h-1.6zM209.3 218.1h1.6v1.6h-1.6zM207.8 219.6h4.6v1.6h-4.6zM213.8 219.6h1.6v1.6h-1.6zM233.2 219.6h1.6v1.6h-1.6zM209.3 221.1h1.6v1.6h-1.6zM216.8 221.1h1.6v1.6h-1.6zM209.3 222.5h1.6v1.6h-1.6zM195.9 224.0h4.6v1.6h-4.6zM219.8 224.0h1.6v1.6h-1.6zM210.8 225.5h1.6v1.6h-1.6zM215.3 229.9h1.6v1.6h-1.6zM219.8 229.9h1.6v1.6h-1.6z"/>
<path fill="#00ffff" d="M195.9 213.7h4.6v1.6h-4.6zM236.2 216.6h1.6v1.6h-1.6zM195.9 222.5h4.6v1.6h-4.6z"/>
<path fill="#00ccff" d="M200.4 213.7h1.6v1.6h-1.6zM204.9 213.7h1.6v1.6h-1.6zM204.9 219.6h1.6v1.6h-1.6zM200.4 222.5h1.6v1.6h-1.6z"/>
<path fill="#00b2ff" d="M201.9 213.7h3.1v1.6h-3.1z"/>
<path fill="#1affe5" d="M206.4 213.7h1.6v1.6h-1.6zM234.7 216.6h1.6v1.6h-1.6zM206.4 218.1h1.6v1.6h-1.6zM234.7 218.1h3.1v1.6h-3.1zM204.9 221.1h1.6v1.6h-1.6zM213.8 222.5h1.6v1.6h-1.6zM213.8 224.0h4.6v1.6h-4.6zM213.8 225.5h4.6v1.6h-4.6zM215.3 227.0h3.1v1.6h-3.1z"/>
<path fill="#4dffb2" d="M207.8 213.7h1.6v1.6h-1.6zM207.8 216.6h1.6v1.6h-1.6zM206.4 219.6h1.6v1.6h-1.6zM236.2 219.6h1.6v1.6h-1.6zM212.3 221.1h3.1v1.6h-3.1zM216.8 222.5h1.6v1.6h-1.6zM218.3 224.0h1.6v1.6h-1.6zM212.3 225.5h1.6v1.6h-1.6zM215.3 228.4h4.6v1.6h-4.6z"/>
<path fill="#004dff" d="M195.9 215.2h4.6v1.6h-4.6zM195.9 221.1h4.6v1.6h-4.6z"/>
<path fill="#0000ff" d="M200.4 215.2h3.1v1.6h-3.1z"/>
<path fill="#001aff" d="M203.4 215.2h1.6v1.6h-1.6zM200.4 221.1h1.6v1.6h-1.6z"/>
<path fill="#0080ff" d="M204.9 215.2h1.6v1.6h-1.6zM204.9 218.1h1.6v1.6h-1.6z"/>
<path fill="#00e5ff" d="M206.4 215.2h1.6v1.6h-1.6zM206.4 216.6h1.6v1.6h-1.6zM201.9 222.5h1.6v1.6h-1.6z"/>
<path fill="#33ffcc" d="M207.8 215.2h1.6v1.6h-1.6zM234.7 215.2h3.1v1.6h-3.1zM237.7 216.6h1.6v1.6h-1.6zM237.7 218.1h1.6v1.6h-1.6zM203.4 222.5h1.6v1.6h-1.6zM212.3 222.5h1.6v1.6h-1.6zM215.3 222.5h1.6v1.6h-1.6zM212.3 224.0h1.6v1.6h-1.6zM218.3 225.5h1.6v1.6h-1.6zM213.8 227.0h1.6v1.6h-1.6zM218.3 227.0h1.6v1.6h-1.6z"/>
<path fill="#0000e6" d="M195.9 216.6h4.6v1.6h-4.6zM203.4 216.6h1.6v1.6h-1.6zM203.4 218.1h1.6v1.6h-1.6zM195.9 219.6h4.6v1.6h-4.6z"/>
<path fill="#000099" d="M200.4 216.6h3.1v1.6h-3.1zM200.4 218.1h3.1v1.6h-3.1z"/>
<path fill="#0066ff" d="M204.9 216.6h1.6v1.6h-1.6z"/>
<path fill="#0000cc" d="M195.9 218.1h4.6v1.6h-4.6zM201.9 219.6h1.6v1.6h-1.6z"/>
<path fill="#0000b2" d="M200.4 219.6h1.6v1.6h-1.6z"/>
<path fill="#0033ff" d="M203.4 219.6h1.6v1.6h-1.6zM201.9 221.1h1.6v1.6h-1.6z"/>
<path fill="#0099ff" d="M203.4 221.1h1.6v1.6h-1.6z"/>
</g></g>
<rect x="198.9" y="203.4" width="62.6" height="36.8" fill="none" stroke="#999" stroke-width="0.25"/>
<text x="230.2" y="201.8" font-size="2.9" text-anchor="middle" style="font-family:'Liberation Sans',sans-serif;fill:#555;fill:#444">Predicted P</text>
<rect x="265.0" y="202.1" width="3.3" height="39.4" fill="url(#jetv)"/>
<text x="269.6" y="204.9" font-size="2.6" style="font-family:'Liberation Sans',sans-serif;fill:#555;fill:#333;stroke:#555;stroke-width:0.05">0.450</text>
<text x="269.6" y="208.8" font-size="2.6" style="font-family:'Liberation Sans',sans-serif;fill:#555;fill:#333;stroke:#555;stroke-width:0.05">0.350</text>
<text x="269.6" y="212.8" font-size="2.6" style="font-family:'Liberation Sans',sans-serif;fill:#555;fill:#333;stroke:#555;stroke-width:0.05">0.250</text>
<text x="269.6" y="216.7" font-size="2.6" style="font-family:'Liberation Sans',sans-serif;fill:#555;fill:#333;stroke:#555;stroke-width:0.05">0.150</text>
<text x="269.6" y="220.6" font-size="2.6" style="font-family:'Liberation Sans',sans-serif;fill:#555;fill:#333;stroke:#555;stroke-width:0.05">0.050</text>
<text x="269.6" y="224.6" font-size="2.6" style="font-family:'Liberation Sans',sans-serif;fill:#555;fill:#333;stroke:#555;stroke-width:0.05">-0.050</text>
<text x="269.6" y="228.5" font-size="2.6" style="font-family:'Liberation Sans',sans-serif;fill:#555;fill:#333;stroke:#555;stroke-width:0.05">-0.150</text>
<text x="269.6" y="232.5" font-size="2.6" style="font-family:'Liberation Sans',sans-serif;fill:#555;fill:#333;stroke:#555;stroke-width:0.05">-0.250</text>
<text x="269.6" y="236.4" font-size="2.6" style="font-family:'Liberation Sans',sans-serif;fill:#555;fill:#333;stroke:#555;stroke-width:0.05">-0.350</text>
<text x="269.6" y="240.3" font-size="2.6" style="font-family:'Liberation Sans',sans-serif;fill:#555;fill:#333;stroke:#555;stroke-width:0.05">-0.450</text>
<text x="196.7" y="204.2" font-size="2.3" text-anchor="end" style="font-family:'Liberation Sans',sans-serif;fill:#555">2</text>
<text x="196.7" y="213.4" font-size="2.3" text-anchor="end" style="font-family:'Liberation Sans',sans-serif;fill:#555">1</text>
<text x="196.7" y="222.6" font-size="2.3" text-anchor="end" style="font-family:'Liberation Sans',sans-serif;fill:#555">0</text>
<text x="196.7" y="231.8" font-size="2.3" text-anchor="end" style="font-family:'Liberation Sans',sans-serif;fill:#555">-1</text>
<text x="196.7" y="241.0" font-size="2.3" text-anchor="end" style="font-family:'Liberation Sans',sans-serif;fill:#555">-2</text>
<text x="198.9" y="243.4" font-size="2.3" text-anchor="middle" style="font-family:'Liberation Sans',sans-serif;fill:#555">0</text>
<text x="206.7" y="243.4" font-size="2.3" text-anchor="middle" style="font-family:'Liberation Sans',sans-serif;fill:#555">1</text>
<text x="214.6" y="243.4" font-size="2.3" text-anchor="middle" style="font-family:'Liberation Sans',sans-serif;fill:#555">2</text>
<text x="222.4" y="243.4" font-size="2.3" text-anchor="middle" style="font-family:'Liberation Sans',sans-serif;fill:#555">3</text>
<text x="230.2" y="243.4" font-size="2.3" text-anchor="middle" style="font-family:'Liberation Sans',sans-serif;fill:#555">4</text>
<text x="238.0" y="243.4" font-size="2.3" text-anchor="middle" style="font-family:'Liberation Sans',sans-serif;fill:#555">5</text>
<text x="245.9" y="243.4" font-size="2.3" text-anchor="middle" style="font-family:'Liberation Sans',sans-serif;fill:#555">6</text>
<text x="253.7" y="243.4" font-size="2.3" text-anchor="middle" style="font-family:'Liberation Sans',sans-serif;fill:#555">7</text>
<text x="261.5" y="243.4" font-size="2.3" text-anchor="middle" style="font-family:'Liberation Sans',sans-serif;fill:#555">8</text>
<text x="230.2" y="246.6" font-size="2.6" text-anchor="middle" style="font-family:'Liberation Sans',sans-serif;fill:#555">x</text>
<text x="193.4" y="222.6" font-size="2.6" text-anchor="middle" style="font-family:'Liberation Sans',sans-serif;fill:#555">y</text>
<clipPath id="cxu"><rect x="289.00" y="105.00" width="62.20" height="36.50"/></clipPath>
<g clip-path="url(#cxu)"><g filter="url(#bl2)" shape-rendering="crispEdges">
<path fill="#0000cc" d="M286.0 102.0h6.1v4.1h-6.1zM286.0 106.0h5.1v1.1h-5.1zM286.0 107.0h4.1v1.1h-4.1zM317.1 125.3h2.1v1.1h-2.1zM341.2 125.3h9.1v1.1h-9.1zM316.1 126.3h6.1v1.1h-6.1zM343.2 126.3h6.1v1.1h-6.1zM316.1 127.3h7.1v1.1h-7.1zM315.1 129.3h2.1v1.1h-2.1zM312.1 130.3h6.1v1.1h-6.1zM309.1 131.4h8.1v1.1h-8.1zM305.1 132.4h9.1v1.1h-9.1zM303.0 133.4h7.1v1.1h-7.1zM303.0 134.4h5.1v1.1h-5.1zM322.1 134.4h4.1v1.1h-4.1zM322.1 135.4h6.1v1.1h-6.1z"/>
<path fill="#0000e6" d="M292.0 102.0h2.1v4.1h-2.1zM330.1 102.0h17.2v4.1h-17.2zM291.0 106.0h1.1v1.1h-1.1zM331.1 106.0h14.1v1.1h-14.1zM290.0 107.0h1.1v1.1h-1.1zM334.1 107.0h11.1v1.1h-11.1zM286.0 108.0h4.1v1.1h-4.1zM337.2 108.0h8.1v1.1h-8.1zM286.0 109.1h5.1v1.1h-5.1zM338.2 109.1h7.1v1.1h-7.1zM286.0 110.1h4.1v1.1h-4.1zM339.2 110.1h7.1v1.1h-7.1zM338.2 111.1h10.1v1.1h-10.1zM350.2 111.1h4.1v1.1h-4.1zM337.2 112.1h17.1v1.1h-17.1zM286.0 113.1h5.1v1.1h-5.1zM334.1 113.1h20.2v1.1h-20.2zM286.0 114.1h8.1v1.1h-8.1zM309.1 114.1h3.1v1.1h-3.1zM331.1 114.1h10.1v1.1h-10.1zM348.2 114.1h6.1v1.1h-6.1zM286.0 115.1h8.1v1.1h-8.1zM308.1 115.1h4.1v1.1h-4.1zM325.1 115.1h11.1v1.1h-11.1zM350.2 115.1h4.1v1.1h-4.1zM286.0 116.2h8.1v1.1h-8.1zM307.1 116.2h4.1v1.1h-4.1zM324.1 116.2h11.1v1.1h-11.1zM286.0 117.2h4.1v1.1h-4.1zM322.1 117.2h14.1v1.1h-14.1zM324.1 118.2h2.1v1.1h-2.1zM305.1 121.2h2.1v1.1h-2.1zM304.0 122.2h3.1v1.1h-3.1zM350.2 122.2h4.1v1.1h-4.1zM339.2 123.2h2.1v1.1h-2.1zM348.2 123.2h6.1v1.1h-6.1zM314.1 124.3h5.1v1.1h-5.1zM337.2 124.3h17.1v1.1h-17.1zM312.1 125.3h5.1v1.1h-5.1zM319.1 125.3h2.1v1.1h-2.1zM336.2 125.3h5.1v1.1h-5.1zM350.2 125.3h4.1v1.1h-4.1zM312.1 126.3h4.1v1.1h-4.1zM322.1 126.3h1.1v1.1h-1.1zM334.1 126.3h2.1v1.1h-2.1zM342.2 126.3h1.1v1.1h-1.1zM349.2 126.3h5.1v1.1h-5.1zM310.1 127.3h6.1v1.1h-6.1zM323.1 127.3h11.1v1.1h-11.1zM344.2 127.3h10.1v1.1h-10.1zM308.1 128.3h23.2v1.1h-23.2zM345.2 128.3h9.1v1.1h-9.1zM307.1 129.3h8.1v1.1h-8.1zM317.1 129.3h12.1v1.1h-12.1zM345.2 129.3h9.1v1.1h-9.1zM304.0 130.3h8.1v1.1h-8.1zM318.1 130.3h4.1v1.1h-4.1zM347.2 130.3h7.1v1.1h-7.1zM301.0 131.4h8.1v1.1h-8.1zM317.1 131.4h3.1v1.1h-3.1zM348.2 131.4h6.1v1.1h-6.1zM300.0 132.4h5.1v1.1h-5.1zM314.1 132.4h6.1v1.1h-6.1zM349.2 132.4h5.1v1.1h-5.1zM299.0 133.4h4.1v1.1h-4.1zM310.1 133.4h16.2v1.1h-16.2zM297.0 134.4h6.1v1.1h-6.1zM308.1 134.4h14.1v1.1h-14.1zM326.1 134.4h2.1v1.1h-2.1zM302.0 135.4h20.2v1.1h-20.2zM328.1 135.4h1.1v1.1h-1.1zM316.1 136.4h14.1v1.1h-14.1zM349.2 136.4h5.1v1.1h-5.1zM319.1 137.4h1.1v1.1h-1.1zM316.1 138.5h1.1v1.1h-1.1zM311.1 139.5h8.1v1.1h-8.1zM308.1 140.5h11.1v4.1h-11.1zM350.2 140.5h4.1v4.1h-4.1z"/>
<path fill="#0000ff" d="M294.0 102.0h2.1v4.1h-2.1zM327.1 102.0h3.1v4.1h-3.1zM347.2 102.0h7.1v4.1h-7.1zM292.0 106.0h1.1v1.1h-1.1zM328.1 106.0h3.1v1.1h-3.1zM345.2 106.0h1.1v1.1h-1.1zM291.0 107.0h1.1v1.1h-1.1zM329.1 107.0h5.1v1.1h-5.1zM345.2 107.0h1.1v1.1h-1.1zM290.0 108.0h1.1v1.1h-1.1zM332.1 108.0h5.1v1.1h-5.1zM345.2 108.0h1.1v1.1h-1.1zM335.1 109.1h3.1v1.1h-3.1zM345.2 109.1h1.1v1.1h-1.1zM290.0 110.1h2.1v1.1h-2.1zM335.1 110.1h4.1v1.1h-4.1zM346.2 110.1h1.1v1.1h-1.1zM286.0 111.1h7.1v1.1h-7.1zM334.1 111.1h4.1v1.1h-4.1zM348.2 111.1h2.1v1.1h-2.1zM286.0 112.1h8.1v1.1h-8.1zM308.1 112.1h5.1v1.1h-5.1zM332.1 112.1h5.1v1.1h-5.1zM291.0 113.1h4.1v1.1h-4.1zM308.1 113.1h5.1v1.1h-5.1zM324.1 113.1h3.1v1.1h-3.1zM330.1 113.1h4.1v1.1h-4.1zM294.0 114.1h1.1v1.1h-1.1zM307.1 114.1h2.1v1.1h-2.1zM312.1 114.1h1.1v1.1h-1.1zM324.1 114.1h7.1v1.1h-7.1zM341.2 114.1h7.1v1.1h-7.1zM294.0 115.1h2.1v1.1h-2.1zM307.1 115.1h1.1v1.1h-1.1zM312.1 115.1h2.1v1.1h-2.1zM324.1 115.1h1.1v1.1h-1.1zM336.2 115.1h14.1v1.1h-14.1zM294.0 116.2h3.1v1.1h-3.1zM305.1 116.2h2.1v1.1h-2.1zM311.1 116.2h4.1v1.1h-4.1zM322.1 116.2h2.1v1.1h-2.1zM335.1 116.2h4.1v1.1h-4.1zM348.2 116.2h6.1v1.1h-6.1zM290.0 117.2h19.2v1.1h-19.2zM320.1 117.2h2.1v1.1h-2.1zM336.2 117.2h3.1v1.1h-3.1zM349.2 117.2h5.1v1.1h-5.1zM286.0 118.2h6.1v1.1h-6.1zM299.0 118.2h8.1v1.1h-8.1zM320.1 118.2h4.1v1.1h-4.1zM326.1 118.2h13.1v1.1h-13.1zM350.2 118.2h4.1v1.1h-4.1zM286.0 119.2h4.1v1.1h-4.1zM301.0 119.2h7.1v1.1h-7.1zM320.1 119.2h4.1v1.1h-4.1zM338.2 119.2h2.1v1.1h-2.1zM286.0 120.2h4.1v1.1h-4.1zM302.0 120.2h10.1v1.1h-10.1zM315.1 120.2h6.1v1.1h-6.1zM339.2 120.2h1.1v1.1h-1.1zM349.2 120.2h5.1v1.1h-5.1zM286.0 121.2h5.1v1.1h-5.1zM303.0 121.2h2.1v1.1h-2.1zM307.1 121.2h13.1v1.1h-13.1zM337.2 121.2h4.1v1.1h-4.1zM348.2 121.2h6.1v1.1h-6.1zM286.0 122.2h6.1v1.1h-6.1zM302.0 122.2h2.1v1.1h-2.1zM307.1 122.2h13.1v1.1h-13.1zM335.1 122.2h8.1v1.1h-8.1zM346.2 122.2h4.1v1.1h-4.1zM286.0 123.2h4.1v1.1h-4.1zM301.0 123.2h19.2v1.1h-19.2zM335.1 123.2h4.1v1.1h-4.1zM341.2 123.2h7.1v1.1h-7.1zM302.0 124.3h12.1v1.1h-12.1zM319.1 124.3h1.1v1.1h-1.1zM333.1 124.3h4.1v1.1h-4.1zM308.1 125.3h4.1v1.1h-4.1zM321.1 125.3h1.1v1.1h-1.1zM330.1 125.3h6.1v1.1h-6.1zM308.1 126.3h4.1v1.1h-4.1zM323.1 126.3h11.1v1.1h-11.1zM336.2 126.3h3.1v1.1h-3.1zM340.2 126.3h2.1v1.1h-2.1zM294.0 127.3h1.1v1.1h-1.1zM307.1 127.3h3.1v1.1h-3.1zM334.1 127.3h2.1v1.1h-2.1zM343.2 127.3h1.1v1.1h-1.1zM286.0 128.3h10.1v1.1h-10.1zM307.1 128.3h1.1v1.1h-1.1zM331.1 128.3h4.1v1.1h-4.1zM344.2 128.3h1.1v1.1h-1.1zM286.0 129.3h10.1v1.1h-10.1zM305.1 129.3h2.1v1.1h-2.1zM329.1 129.3h5.1v1.1h-5.1zM344.2 129.3h1.1v1.1h-1.1zM286.0 130.3h18.1v1.1h-18.1zM322.1 130.3h10.1v1.1h-10.1zM343.2 130.3h4.1v1.1h-4.1zM286.0 131.4h5.1v1.1h-5.1zM297.0 131.4h4.1v1.1h-4.1zM320.1 131.4h11.1v1.1h-11.1zM345.2 131.4h3.1v1.1h-3.1zM286.0 132.4h4.1v1.1h-4.1zM296.0 132.4h4.1v1.1h-4.1zM320.1 132.4h9.1v1.1h-9.1zM347.2 132.4h2.1v1.1h-2.1zM286.0 133.4h13.1v1.1h-13.1zM326.1 133.4h2.1v1.1h-2.1zM349.2 133.4h5.1v1.1h-5.1zM286.0 134.4h11.1v1.1h-11.1zM328.1 134.4h1.1v1.1h-1.1zM349.2 134.4h5.1v1.1h-5.1zM286.0 135.4h16.1v1.1h-16.1zM329.1 135.4h1.1v1.1h-1.1zM348.2 135.4h6.1v1.1h-6.1zM286.0 136.4h5.1v1.1h-5.1zM311.1 136.4h5.1v1.1h-5.1zM330.1 136.4h2.1v1.1h-2.1zM346.2 136.4h3.1v1.1h-3.1zM313.1 137.4h6.1v1.1h-6.1zM320.1 137.4h6.1v1.1h-6.1zM349.2 137.4h5.1v1.1h-5.1zM312.1 138.5h4.1v1.1h-4.1zM317.1 138.5h6.1v1.1h-6.1zM350.2 138.5h4.1v1.1h-4.1zM309.1 139.5h2.1v1.1h-2.1zM319.1 139.5h4.1v1.1h-4.1zM350.2 139.5h4.1v1.1h-4.1zM286.0 140.5h4.1v4.1h-4.1zM294.0 140.5h14.1v4.1h-14.1zM319.1 140.5h5.1v4.1h-5.1zM348.2 140.5h2.1v4.1h-2.1z"/>
<path fill="#001aff" d="M296.0 102.0h5.1v4.1h-5.1zM326.1 102.0h1.1v4.1h-1.1zM326.1 106.0h2.1v1.1h-2.1zM346.2 106.0h1.1v1.1h-1.1zM326.1 107.0h3.1v1.1h-3.1zM291.0 108.0h1.1v1.1h-1.1zM327.1 108.0h5.1v1.1h-5.1zM291.0 109.1h1.1v1.1h-1.1zM331.1 109.1h4.1v1.1h-4.1zM346.2 109.1h1.1v1.1h-1.1zM292.0 110.1h2.1v1.1h-2.1zM299.0 110.1h6.1v1.1h-6.1zM332.1 110.1h3.1v1.1h-3.1zM347.2 110.1h1.1v1.1h-1.1zM350.2 110.1h4.1v1.1h-4.1zM293.0 111.1h7.1v1.1h-7.1zM302.0 111.1h7.1v1.1h-7.1zM320.1 111.1h5.1v1.1h-5.1zM331.1 111.1h3.1v1.1h-3.1zM294.0 112.1h2.1v1.1h-2.1zM306.1 112.1h2.1v1.1h-2.1zM313.1 112.1h2.1v1.1h-2.1zM322.1 112.1h4.1v1.1h-4.1zM330.1 112.1h2.1v1.1h-2.1zM295.0 113.1h1.1v1.1h-1.1zM307.1 113.1h1.1v1.1h-1.1zM313.1 113.1h1.1v1.1h-1.1zM323.1 113.1h1.1v1.1h-1.1zM327.1 113.1h3.1v1.1h-3.1zM295.0 114.1h1.1v1.1h-1.1zM313.1 114.1h1.1v1.1h-1.1zM323.1 114.1h1.1v1.1h-1.1zM296.0 115.1h1.1v1.1h-1.1zM306.1 115.1h1.1v1.1h-1.1zM314.1 115.1h1.1v1.1h-1.1zM323.1 115.1h1.1v1.1h-1.1zM297.0 116.2h2.1v1.1h-2.1zM304.0 116.2h1.1v1.1h-1.1zM315.1 116.2h1.1v1.1h-1.1zM321.1 116.2h1.1v1.1h-1.1zM339.2 116.2h3.1v1.1h-3.1zM344.2 116.2h4.1v1.1h-4.1zM309.1 117.2h3.1v1.1h-3.1zM316.1 117.2h4.1v1.1h-4.1zM339.2 117.2h1.1v1.1h-1.1zM348.2 117.2h1.1v1.1h-1.1zM292.0 118.2h7.1v1.1h-7.1zM307.1 118.2h2.1v1.1h-2.1zM319.1 118.2h1.1v1.1h-1.1zM339.2 118.2h2.1v1.1h-2.1zM349.2 118.2h1.1v1.1h-1.1zM290.0 119.2h2.1v1.1h-2.1zM299.0 119.2h2.1v1.1h-2.1zM308.1 119.2h2.1v1.1h-2.1zM318.1 119.2h2.1v1.1h-2.1zM324.1 119.2h5.1v1.1h-5.1zM335.1 119.2h3.1v1.1h-3.1zM340.2 119.2h2.1v1.1h-2.1zM349.2 119.2h5.1v1.1h-5.1zM290.0 120.2h2.1v1.1h-2.1zM300.0 120.2h2.1v1.1h-2.1zM312.1 120.2h3.1v1.1h-3.1zM321.1 120.2h1.1v1.1h-1.1zM336.2 120.2h3.1v1.1h-3.1zM340.2 120.2h4.1v1.1h-4.1zM346.2 120.2h3.1v1.1h-3.1zM291.0 121.2h3.1v1.1h-3.1zM302.0 121.2h1.1v1.1h-1.1zM320.1 121.2h1.1v1.1h-1.1zM334.1 121.2h3.1v1.1h-3.1zM341.2 121.2h7.1v1.1h-7.1zM292.0 122.2h1.1v1.1h-1.1zM301.0 122.2h1.1v1.1h-1.1zM331.1 122.2h4.1v1.1h-4.1zM343.2 122.2h3.1v1.1h-3.1zM290.0 123.2h1.1v1.1h-1.1zM300.0 123.2h1.1v1.1h-1.1zM331.1 123.2h4.1v1.1h-4.1zM299.0 124.3h3.1v1.1h-3.1zM320.1 124.3h1.1v1.1h-1.1zM330.1 124.3h3.1v1.1h-3.1zM305.1 125.3h3.1v1.1h-3.1zM322.1 125.3h1.1v1.1h-1.1zM328.1 125.3h2.1v1.1h-2.1zM307.1 126.3h1.1v1.1h-1.1zM339.2 126.3h1.1v1.1h-1.1zM292.0 127.3h2.1v1.1h-2.1zM295.0 127.3h1.1v1.1h-1.1zM336.2 127.3h1.1v1.1h-1.1zM296.0 128.3h1.1v1.1h-1.1zM306.1 128.3h1.1v1.1h-1.1zM335.1 128.3h1.1v1.1h-1.1zM343.2 128.3h1.1v1.1h-1.1zM296.0 129.3h2.1v1.1h-2.1zM304.0 129.3h1.1v1.1h-1.1zM334.1 129.3h2.1v1.1h-2.1zM343.2 129.3h1.1v1.1h-1.1zM332.1 130.3h5.1v1.1h-5.1zM341.2 130.3h2.1v1.1h-2.1zM291.0 131.4h6.1v1.1h-6.1zM331.1 131.4h2.1v1.1h-2.1zM343.2 131.4h2.1v1.1h-2.1zM290.0 132.4h6.1v1.1h-6.1zM329.1 132.4h1.1v1.1h-1.1zM345.2 132.4h2.1v1.1h-2.1zM328.1 133.4h1.1v1.1h-1.1zM348.2 133.4h1.1v1.1h-1.1zM348.2 134.4h1.1v1.1h-1.1zM330.1 135.4h1.1v1.1h-1.1zM347.2 135.4h1.1v1.1h-1.1zM291.0 136.4h5.1v1.1h-5.1zM303.0 136.4h8.1v1.1h-8.1zM332.1 136.4h2.1v1.1h-2.1zM344.2 136.4h2.1v1.1h-2.1zM286.0 137.4h5.1v1.1h-5.1zM310.1 137.4h3.1v1.1h-3.1zM326.1 137.4h3.1v1.1h-3.1zM347.2 137.4h2.1v1.1h-2.1zM310.1 138.5h2.1v1.1h-2.1zM323.1 138.5h3.1v1.1h-3.1zM349.2 138.5h1.1v1.1h-1.1zM304.0 139.5h5.1v1.1h-5.1zM323.1 139.5h2.1v1.1h-2.1zM349.2 139.5h1.1v1.1h-1.1zM290.0 140.5h4.1v4.1h-4.1zM324.1 140.5h5.1v4.1h-5.1zM346.2 140.5h2.1v4.1h-2.1z"/>
<path fill="#0033ff" d="M301.0 102.0h1.1v4.1h-1.1zM324.1 102.0h2.1v4.1h-2.1zM293.0 106.0h1.1v1.1h-1.1zM325.1 106.0h1.1v1.1h-1.1zM347.2 106.0h1.1v1.1h-1.1zM325.1 107.0h1.1v1.1h-1.1zM346.2 107.0h1.1v1.1h-1.1zM325.1 108.0h2.1v1.1h-2.1zM292.0 109.1h1.1v1.1h-1.1zM300.0 109.1h3.1v1.1h-3.1zM323.1 109.1h8.1v1.1h-8.1zM294.0 110.1h1.1v1.1h-1.1zM297.0 110.1h2.1v1.1h-2.1zM305.1 110.1h2.1v1.1h-2.1zM319.1 110.1h13.1v1.1h-13.1zM348.2 110.1h2.1v1.1h-2.1zM300.0 111.1h2.1v1.1h-2.1zM309.1 111.1h11.1v1.1h-11.1zM325.1 111.1h6.1v1.1h-6.1zM296.0 112.1h2.1v1.1h-2.1zM305.1 112.1h1.1v1.1h-1.1zM315.1 112.1h1.1v1.1h-1.1zM321.1 112.1h1.1v1.1h-1.1zM326.1 112.1h4.1v1.1h-4.1zM296.0 113.1h1.1v1.1h-1.1zM306.1 113.1h1.1v1.1h-1.1zM314.1 113.1h1.1v1.1h-1.1zM296.0 114.1h1.1v1.1h-1.1zM306.1 114.1h1.1v1.1h-1.1zM314.1 114.1h1.1v1.1h-1.1zM305.1 115.1h1.1v1.1h-1.1zM322.1 115.1h1.1v1.1h-1.1zM299.0 116.2h1.1v1.1h-1.1zM302.0 116.2h2.1v1.1h-2.1zM316.1 116.2h2.1v1.1h-2.1zM320.1 116.2h1.1v1.1h-1.1zM342.2 116.2h2.1v1.1h-2.1zM312.1 117.2h4.1v1.1h-4.1zM340.2 117.2h2.1v1.1h-2.1zM346.2 117.2h2.1v1.1h-2.1zM309.1 118.2h1.1v1.1h-1.1zM317.1 118.2h2.1v1.1h-2.1zM341.2 118.2h1.1v1.1h-1.1zM348.2 118.2h1.1v1.1h-1.1zM292.0 119.2h2.1v1.1h-2.1zM296.0 119.2h3.1v1.1h-3.1zM310.1 119.2h2.1v1.1h-2.1zM315.1 119.2h3.1v1.1h-3.1zM329.1 119.2h6.1v1.1h-6.1zM342.2 119.2h7.1v1.1h-7.1zM292.0 120.2h2.1v1.1h-2.1zM297.0 120.2h3.1v1.1h-3.1zM322.1 120.2h1.1v1.1h-1.1zM328.1 120.2h2.1v1.1h-2.1zM334.1 120.2h2.1v1.1h-2.1zM344.2 120.2h2.1v1.1h-2.1zM294.0 121.2h1.1v1.1h-1.1zM301.0 121.2h1.1v1.1h-1.1zM329.1 121.2h5.1v1.1h-5.1zM320.1 122.2h1.1v1.1h-1.1zM329.1 122.2h2.1v1.1h-2.1zM299.0 123.2h1.1v1.1h-1.1zM320.1 123.2h1.1v1.1h-1.1zM329.1 123.2h2.1v1.1h-2.1zM298.0 124.3h1.1v1.1h-1.1zM321.1 124.3h1.1v1.1h-1.1zM329.1 124.3h1.1v1.1h-1.1zM304.0 125.3h1.1v1.1h-1.1zM327.1 125.3h1.1v1.1h-1.1zM296.0 126.3h1.1v1.1h-1.1zM306.1 126.3h1.1v1.1h-1.1zM291.0 127.3h1.1v1.1h-1.1zM296.0 127.3h1.1v1.1h-1.1zM306.1 127.3h1.1v1.1h-1.1zM342.2 127.3h1.1v1.1h-1.1zM305.1 128.3h1.1v1.1h-1.1zM298.0 129.3h1.1v1.1h-1.1zM303.0 129.3h1.1v1.1h-1.1zM336.2 129.3h1.1v1.1h-1.1zM342.2 129.3h1.1v1.1h-1.1zM337.2 130.3h4.1v1.1h-4.1zM333.1 131.4h2.1v1.1h-2.1zM340.2 131.4h3.1v1.1h-3.1zM330.1 132.4h1.1v1.1h-1.1zM344.2 132.4h1.1v1.1h-1.1zM329.1 133.4h1.1v1.1h-1.1zM347.2 133.4h1.1v1.1h-1.1zM329.1 134.4h1.1v1.1h-1.1zM331.1 135.4h1.1v1.1h-1.1zM346.2 135.4h1.1v1.1h-1.1zM296.0 136.4h7.1v1.1h-7.1zM334.1 136.4h1.1v1.1h-1.1zM342.2 136.4h2.1v1.1h-2.1zM291.0 137.4h3.1v1.1h-3.1zM308.1 137.4h2.1v1.1h-2.1zM329.1 137.4h2.1v1.1h-2.1zM346.2 137.4h1.1v1.1h-1.1zM286.0 138.5h5.1v1.1h-5.1zM307.1 138.5h3.1v1.1h-3.1zM326.1 138.5h1.1v1.1h-1.1zM348.2 138.5h1.1v1.1h-1.1zM286.0 139.5h18.1v1.1h-18.1zM325.1 139.5h2.1v1.1h-2.1zM348.2 139.5h1.1v1.1h-1.1zM329.1 140.5h3.1v4.1h-3.1zM345.2 140.5h1.1v4.1h-1.1z"/>
<path fill="#0066ff" d="M302.0 102.0h1.1v4.1h-1.1zM322.1 102.0h1.1v4.1h-1.1zM295.0 106.0h3.1v1.1h-3.1zM301.0 106.0h1.1v1.1h-1.1zM323.1 106.0h1.1v1.1h-1.1zM348.2 106.0h2.1v1.1h-2.1zM323.1 107.0h1.1v1.1h-1.1zM292.0 108.0h1.1v1.1h-1.1zM300.0 108.0h2.1v1.1h-2.1zM322.1 108.0h1.1v1.1h-1.1zM293.0 109.1h1.1v1.1h-1.1zM304.0 109.1h1.1v1.1h-1.1zM320.1 109.1h2.1v1.1h-2.1zM347.2 109.1h1.1v1.1h-1.1zM308.1 110.1h2.1v1.1h-2.1zM315.1 110.1h2.1v1.1h-2.1zM299.0 112.1h1.1v1.1h-1.1zM303.0 112.1h1.1v1.1h-1.1zM317.1 112.1h1.1v1.1h-1.1zM319.1 112.1h2.1v1.1h-2.1zM297.0 113.1h1.1v1.1h-1.1zM315.1 113.1h1.1v1.1h-1.1zM297.0 114.1h1.1v1.1h-1.1zM305.1 114.1h1.1v1.1h-1.1zM322.1 114.1h1.1v1.1h-1.1zM298.0 115.1h1.1v1.1h-1.1zM304.0 115.1h1.1v1.1h-1.1zM321.1 115.1h1.1v1.1h-1.1zM324.1 120.2h2.1v1.1h-2.1zM297.0 121.2h3.1v1.1h-3.1zM321.1 122.2h1.1v1.1h-1.1zM328.1 122.2h1.1v1.1h-1.1zM298.0 123.2h1.1v1.1h-1.1zM321.1 123.2h1.1v1.1h-1.1zM328.1 123.2h1.1v1.1h-1.1zM297.0 124.3h1.1v1.1h-1.1zM296.0 125.3h1.1v1.1h-1.1zM324.1 125.3h2.1v1.1h-2.1zM294.0 126.3h1.1v1.1h-1.1zM297.0 127.3h1.1v1.1h-1.1zM305.1 127.3h1.1v1.1h-1.1zM304.0 128.3h1.1v1.1h-1.1zM342.2 128.3h1.1v1.1h-1.1zM337.2 129.3h1.1v1.1h-1.1zM332.1 132.4h1.1v1.1h-1.1zM343.2 132.4h1.1v1.1h-1.1zM330.1 133.4h1.1v1.1h-1.1zM346.2 134.4h1.1v1.1h-1.1zM336.2 136.4h2.1v1.1h-2.1zM340.2 136.4h1.1v1.1h-1.1zM332.1 137.4h1.1v1.1h-1.1zM344.2 137.4h1.1v1.1h-1.1zM328.1 138.5h1.1v1.1h-1.1zM347.2 138.5h1.1v1.1h-1.1zM329.1 139.5h1.1v1.1h-1.1zM333.1 140.5h1.1v4.1h-1.1zM343.2 140.5h1.1v4.1h-1.1z"/>
<path fill="#0080ff" d="M303.0 102.0h1.1v4.1h-1.1zM321.1 102.0h1.1v4.1h-1.1zM293.0 107.0h1.1v1.1h-1.1zM299.0 107.0h3.1v1.1h-3.1zM299.0 108.0h1.1v1.1h-1.1zM302.0 108.0h1.1v1.1h-1.1zM298.0 109.1h1.1v1.1h-1.1zM305.1 109.1h1.1v1.1h-1.1zM319.1 109.1h1.1v1.1h-1.1zM350.2 109.1h4.1v1.1h-4.1zM310.1 110.1h5.1v1.1h-5.1zM300.0 112.1h3.1v1.1h-3.1zM318.1 112.1h1.1v1.1h-1.1zM304.0 113.1h1.1v1.1h-1.1zM321.1 113.1h1.1v1.1h-1.1zM315.1 114.1h1.1v1.1h-1.1zM316.1 115.1h1.1v1.1h-1.1zM322.1 121.2h1.1v1.1h-1.1zM327.1 121.2h1.1v1.1h-1.1zM294.0 122.2h1.1v1.1h-1.1zM299.0 122.2h1.1v1.1h-1.1zM292.0 123.2h1.1v1.1h-1.1zM290.0 124.3h1.1v1.1h-1.1zM322.1 124.3h1.1v1.1h-1.1zM327.1 124.3h1.1v1.1h-1.1zM298.0 126.3h1.1v1.1h-1.1zM304.0 126.3h1.1v1.1h-1.1zM341.2 127.3h1.1v1.1h-1.1zM298.0 128.3h1.1v1.1h-1.1zM341.2 129.3h1.1v1.1h-1.1zM333.1 132.4h1.1v1.1h-1.1zM342.2 132.4h1.1v1.1h-1.1zM345.2 133.4h1.1v1.1h-1.1zM331.1 134.4h1.1v1.1h-1.1zM333.1 135.4h1.1v1.1h-1.1zM344.2 135.4h1.1v1.1h-1.1zM338.2 136.4h2.1v1.1h-2.1zM343.2 137.4h1.1v1.1h-1.1zM329.1 138.5h1.1v1.1h-1.1zM346.2 138.5h1.1v1.1h-1.1zM330.1 139.5h1.1v1.1h-1.1zM346.2 139.5h1.1v1.1h-1.1zM334.1 140.5h1.1v4.1h-1.1zM342.2 140.5h1.1v4.1h-1.1z"/>
<path fill="#00b2ff" d="M304.0 102.0h1.1v4.1h-1.1zM294.0 107.0h1.1v1.1h-1.1zM298.0 107.0h1.1v1.1h-1.1zM302.0 107.0h1.1v1.1h-1.1zM298.0 108.0h1.1v1.1h-1.1zM303.0 108.0h1.1v1.1h-1.1zM350.2 108.0h4.1v1.1h-4.1zM295.0 109.1h2.1v1.1h-2.1zM306.1 109.1h1.1v1.1h-1.1zM318.1 109.1h1.1v1.1h-1.1zM303.0 113.1h1.1v1.1h-1.1zM320.1 113.1h1.1v1.1h-1.1zM298.0 114.1h1.1v1.1h-1.1zM300.0 115.1h3.1v1.1h-3.1zM317.1 115.1h1.1v1.1h-1.1zM319.1 115.1h1.1v1.1h-1.1zM323.1 121.2h1.1v1.1h-1.1zM296.0 122.2h2.1v1.1h-2.1zM322.1 122.2h1.1v1.1h-1.1zM297.0 123.2h1.1v1.1h-1.1zM322.1 123.2h1.1v1.1h-1.1zM327.1 123.2h1.1v1.1h-1.1zM296.0 124.3h1.1v1.1h-1.1zM323.1 124.3h1.1v1.1h-1.1zM326.1 124.3h1.1v1.1h-1.1zM286.0 125.3h4.1v1.1h-4.1zM286.0 126.3h4.1v1.1h-4.1zM292.0 126.3h1.1v1.1h-1.1zM299.0 126.3h1.1v1.1h-1.1zM303.0 126.3h1.1v1.1h-1.1zM298.0 127.3h1.1v1.1h-1.1zM339.2 127.3h1.1v1.1h-1.1zM299.0 128.3h1.1v1.1h-1.1zM303.0 128.3h1.1v1.1h-1.1zM341.2 128.3h1.1v1.1h-1.1zM339.2 129.3h1.1v1.1h-1.1zM335.1 132.4h2.1v1.1h-2.1zM338.2 132.4h3.1v1.1h-3.1zM332.1 133.4h1.1v1.1h-1.1zM344.2 133.4h1.1v1.1h-1.1zM332.1 134.4h1.1v1.1h-1.1zM334.1 135.4h1.1v1.1h-1.1zM334.1 137.4h1.1v1.1h-1.1zM342.2 137.4h1.1v1.1h-1.1zM345.2 138.5h1.1v1.1h-1.1zM331.1 139.5h1.1v1.1h-1.1zM345.2 139.5h1.1v1.1h-1.1zM337.2 140.5h3.1v4.1h-3.1z"/>
<path fill="#00ffff" d="M305.1 102.0h1.1v4.1h-1.1zM318.1 102.0h1.1v4.1h-1.1zM320.1 106.0h1.1v1.1h-1.1zM303.0 107.0h1.1v1.1h-1.1zM319.1 108.0h1.1v1.1h-1.1zM308.1 109.1h1.1v1.1h-1.1zM301.0 114.1h1.1v1.1h-1.1zM318.1 114.1h2.1v1.1h-2.1zM323.1 122.2h1.1v1.1h-1.1zM325.1 122.2h1.1v1.1h-1.1zM294.0 123.2h2.1v1.1h-2.1zM323.1 123.2h1.1v1.1h-1.1zM295.0 124.3h1.1v1.1h-1.1zM291.0 125.3h1.1v1.1h-1.1zM293.0 125.3h1.1v1.1h-1.1zM300.0 127.3h1.1v1.1h-1.1zM302.0 127.3h1.1v1.1h-1.1zM339.2 128.3h1.1v1.1h-1.1zM342.2 133.4h1.1v1.1h-1.1zM333.1 134.4h1.1v1.1h-1.1zM343.2 134.4h1.1v1.1h-1.1zM337.2 135.4h4.1v1.1h-4.1zM337.2 137.4h3.1v1.1h-3.1zM332.1 138.5h1.1v1.1h-1.1zM333.1 139.5h1.1v1.1h-1.1z"/>
<path fill="#33ffcc" d="M306.1 102.0h1.1v4.1h-1.1zM305.1 108.0h1.1v1.1h-1.1zM310.1 109.1h1.1v1.1h-1.1zM314.1 109.1h1.1v1.1h-1.1zM293.0 124.3h1.1v1.1h-1.1zM341.2 133.4h1.1v1.1h-1.1zM334.1 134.4h1.1v1.1h-1.1zM342.2 134.4h1.1v1.1h-1.1zM333.1 138.5h1.1v1.1h-1.1zM334.1 139.5h1.1v1.1h-1.1zM342.2 139.5h1.1v1.1h-1.1z"/>
<path fill="#80ff80" d="M307.1 102.0h1.1v4.1h-1.1zM316.1 102.0h1.1v4.1h-1.1zM319.1 107.0h1.1v1.1h-1.1zM337.2 134.4h4.1v1.1h-4.1zM335.1 138.5h1.1v1.1h-1.1zM341.2 138.5h1.1v1.1h-1.1zM336.2 139.5h2.1v1.1h-2.1zM339.2 139.5h2.1v1.1h-2.1z"/>
<path fill="#ccff33" d="M308.1 102.0h1.1v4.1h-1.1zM305.1 107.0h1.1v1.1h-1.1z"/>
<path fill="#ffff00" d="M309.1 102.0h1.1v4.1h-1.1zM316.1 108.0h1.1v1.1h-1.1z"/>
<path fill="#ffe500" d="M310.1 102.0h1.1v4.1h-1.1zM313.1 102.0h1.1v4.1h-1.1zM306.1 106.0h1.1v1.1h-1.1zM317.1 106.0h1.1v1.1h-1.1z"/>
<path fill="#ffcc00" d="M311.1 102.0h2.1v4.1h-2.1zM308.1 108.0h1.1v1.1h-1.1zM315.1 108.0h1.1v1.1h-1.1z"/>
<path fill="#e5ff1a" d="M314.1 102.0h1.1v4.1h-1.1zM318.1 107.0h1.1v1.1h-1.1zM307.1 108.0h1.1v1.1h-1.1z"/>
<path fill="#b3ff4c" d="M315.1 102.0h1.1v4.1h-1.1zM305.1 106.0h1.1v1.1h-1.1zM318.1 106.0h1.1v1.1h-1.1zM338.2 138.5h2.1v1.1h-2.1z"/>
<path fill="#4dffb2" d="M317.1 102.0h1.1v4.1h-1.1zM304.0 106.0h1.1v1.1h-1.1zM318.1 108.0h1.1v1.1h-1.1zM311.1 109.1h3.1v1.1h-3.1zM335.1 133.4h1.1v1.1h-1.1zM340.2 133.4h1.1v1.1h-1.1zM335.1 134.4h1.1v1.1h-1.1zM334.1 138.5h1.1v1.1h-1.1zM342.2 138.5h1.1v1.1h-1.1z"/>
<path fill="#00ccff" d="M319.1 102.0h1.1v4.1h-1.1zM321.1 106.0h1.1v1.1h-1.1zM295.0 107.0h1.1v1.1h-1.1zM297.0 107.0h1.1v1.1h-1.1zM321.1 107.0h1.1v1.1h-1.1zM348.2 107.0h2.1v1.1h-2.1zM294.0 108.0h1.1v1.1h-1.1zM320.1 108.0h1.1v1.1h-1.1zM307.1 109.1h1.1v1.1h-1.1zM317.1 109.1h1.1v1.1h-1.1zM299.0 113.1h1.1v1.1h-1.1zM317.1 113.1h1.1v1.1h-1.1zM299.0 114.1h1.1v1.1h-1.1zM303.0 114.1h1.1v1.1h-1.1zM316.1 114.1h1.1v1.1h-1.1zM318.1 115.1h1.1v1.1h-1.1zM324.1 121.2h2.1v1.1h-2.1zM293.0 123.2h1.1v1.1h-1.1zM291.0 124.3h1.1v1.1h-1.1zM324.1 124.3h2.1v1.1h-2.1zM294.0 125.3h1.1v1.1h-1.1zM290.0 126.3h2.1v1.1h-2.1zM300.0 126.3h1.1v1.1h-1.1zM302.0 126.3h1.1v1.1h-1.1zM300.0 128.3h1.1v1.1h-1.1zM302.0 128.3h1.1v1.1h-1.1zM337.2 132.4h1.1v1.1h-1.1zM343.2 133.4h1.1v1.1h-1.1zM344.2 134.4h1.1v1.1h-1.1zM335.1 135.4h1.1v1.1h-1.1zM342.2 135.4h1.1v1.1h-1.1zM335.1 137.4h1.1v1.1h-1.1zM341.2 137.4h1.1v1.1h-1.1zM331.1 138.5h1.1v1.1h-1.1z"/>
<path fill="#0099ff" d="M320.1 102.0h1.1v4.1h-1.1zM302.0 106.0h1.1v1.1h-1.1zM322.1 106.0h1.1v1.1h-1.1zM322.1 107.0h1.1v1.1h-1.1zM347.2 107.0h1.1v1.1h-1.1zM350.2 107.0h4.1v1.1h-4.1zM293.0 108.0h1.1v1.1h-1.1zM321.1 108.0h1.1v1.1h-1.1zM347.2 108.0h1.1v1.1h-1.1zM294.0 109.1h1.1v1.1h-1.1zM297.0 109.1h1.1v1.1h-1.1zM348.2 109.1h2.1v1.1h-2.1zM298.0 113.1h1.1v1.1h-1.1zM316.1 113.1h1.1v1.1h-1.1zM304.0 114.1h1.1v1.1h-1.1zM321.1 114.1h1.1v1.1h-1.1zM299.0 115.1h1.1v1.1h-1.1zM303.0 115.1h1.1v1.1h-1.1zM320.1 115.1h1.1v1.1h-1.1zM326.1 121.2h1.1v1.1h-1.1zM295.0 122.2h1.1v1.1h-1.1zM298.0 122.2h1.1v1.1h-1.1zM327.1 122.2h1.1v1.1h-1.1zM295.0 125.3h1.1v1.1h-1.1zM293.0 126.3h1.1v1.1h-1.1zM304.0 127.3h1.1v1.1h-1.1zM338.2 127.3h1.1v1.1h-1.1zM340.2 127.3h1.1v1.1h-1.1zM337.2 128.3h1.1v1.1h-1.1zM338.2 129.3h1.1v1.1h-1.1zM340.2 129.3h1.1v1.1h-1.1zM334.1 132.4h1.1v1.1h-1.1zM341.2 132.4h1.1v1.1h-1.1zM331.1 133.4h1.1v1.1h-1.1zM345.2 134.4h1.1v1.1h-1.1zM343.2 135.4h1.1v1.1h-1.1zM333.1 137.4h1.1v1.1h-1.1zM330.1 138.5h1.1v1.1h-1.1zM335.1 140.5h2.1v4.1h-2.1zM340.2 140.5h2.1v4.1h-2.1z"/>
<path fill="#004dff" d="M323.1 102.0h1.1v4.1h-1.1zM294.0 106.0h1.1v1.1h-1.1zM298.0 106.0h3.1v1.1h-3.1zM324.1 106.0h1.1v1.1h-1.1zM350.2 106.0h4.1v1.1h-4.1zM292.0 107.0h1.1v1.1h-1.1zM324.1 107.0h1.1v1.1h-1.1zM323.1 108.0h2.1v1.1h-2.1zM346.2 108.0h1.1v1.1h-1.1zM299.0 109.1h1.1v1.1h-1.1zM303.0 109.1h1.1v1.1h-1.1zM322.1 109.1h1.1v1.1h-1.1zM295.0 110.1h2.1v1.1h-2.1zM307.1 110.1h1.1v1.1h-1.1zM317.1 110.1h2.1v1.1h-2.1zM298.0 112.1h1.1v1.1h-1.1zM304.0 112.1h1.1v1.1h-1.1zM316.1 112.1h1.1v1.1h-1.1zM305.1 113.1h1.1v1.1h-1.1zM322.1 113.1h1.1v1.1h-1.1zM297.0 115.1h1.1v1.1h-1.1zM315.1 115.1h1.1v1.1h-1.1zM300.0 116.2h2.1v1.1h-2.1zM318.1 116.2h2.1v1.1h-2.1zM342.2 117.2h4.1v1.1h-4.1zM310.1 118.2h7.1v1.1h-7.1zM342.2 118.2h6.1v1.1h-6.1zM294.0 119.2h2.1v1.1h-2.1zM312.1 119.2h3.1v1.1h-3.1zM294.0 120.2h3.1v1.1h-3.1zM323.1 120.2h1.1v1.1h-1.1zM326.1 120.2h2.1v1.1h-2.1zM330.1 120.2h4.1v1.1h-4.1zM295.0 121.2h2.1v1.1h-2.1zM300.0 121.2h1.1v1.1h-1.1zM321.1 121.2h1.1v1.1h-1.1zM328.1 121.2h1.1v1.1h-1.1zM293.0 122.2h1.1v1.1h-1.1zM300.0 122.2h1.1v1.1h-1.1zM291.0 123.2h1.1v1.1h-1.1zM286.0 124.3h4.1v1.1h-4.1zM328.1 124.3h1.1v1.1h-1.1zM297.0 125.3h7.1v1.1h-7.1zM323.1 125.3h1.1v1.1h-1.1zM326.1 125.3h1.1v1.1h-1.1zM295.0 126.3h1.1v1.1h-1.1zM297.0 126.3h1.1v1.1h-1.1zM305.1 126.3h1.1v1.1h-1.1zM286.0 127.3h5.1v1.1h-5.1zM337.2 127.3h1.1v1.1h-1.1zM297.0 128.3h1.1v1.1h-1.1zM336.2 128.3h1.1v1.1h-1.1zM299.0 129.3h4.1v1.1h-4.1zM335.1 131.4h5.1v1.1h-5.1zM331.1 132.4h1.1v1.1h-1.1zM346.2 133.4h1.1v1.1h-1.1zM330.1 134.4h1.1v1.1h-1.1zM347.2 134.4h1.1v1.1h-1.1zM332.1 135.4h1.1v1.1h-1.1zM345.2 135.4h1.1v1.1h-1.1zM335.1 136.4h1.1v1.1h-1.1zM341.2 136.4h1.1v1.1h-1.1zM294.0 137.4h14.1v1.1h-14.1zM331.1 137.4h1.1v1.1h-1.1zM345.2 137.4h1.1v1.1h-1.1zM291.0 138.5h16.2v1.1h-16.2zM327.1 138.5h1.1v1.1h-1.1zM327.1 139.5h2.1v1.1h-2.1zM347.2 139.5h1.1v1.1h-1.1zM332.1 140.5h1.1v4.1h-1.1zM344.2 140.5h1.1v4.1h-1.1z"/>
<path fill="#00e5ff" d="M303.0 106.0h1.1v1.1h-1.1zM296.0 107.0h1.1v1.1h-1.1zM295.0 108.0h3.1v1.1h-3.1zM304.0 108.0h1.1v1.1h-1.1zM348.2 108.0h2.1v1.1h-2.1zM316.1 109.1h1.1v1.1h-1.1zM300.0 113.1h3.1v1.1h-3.1zM318.1 113.1h2.1v1.1h-2.1zM300.0 114.1h1.1v1.1h-1.1zM302.0 114.1h1.1v1.1h-1.1zM317.1 114.1h1.1v1.1h-1.1zM320.1 114.1h1.1v1.1h-1.1zM326.1 122.2h1.1v1.1h-1.1zM296.0 123.2h1.1v1.1h-1.1zM326.1 123.2h1.1v1.1h-1.1zM290.0 125.3h1.1v1.1h-1.1zM301.0 126.3h1.1v1.1h-1.1zM299.0 127.3h1.1v1.1h-1.1zM303.0 127.3h1.1v1.1h-1.1zM301.0 128.3h1.1v1.1h-1.1zM338.2 128.3h1.1v1.1h-1.1zM340.2 128.3h1.1v1.1h-1.1zM333.1 133.4h1.1v1.1h-1.1zM336.2 135.4h1.1v1.1h-1.1zM341.2 135.4h1.1v1.1h-1.1zM336.2 137.4h1.1v1.1h-1.1zM340.2 137.4h1.1v1.1h-1.1zM344.2 138.5h1.1v1.1h-1.1zM332.1 139.5h1.1v1.1h-1.1zM344.2 139.5h1.1v1.1h-1.1z"/>
<path fill="#ff8000" d="M307.1 106.0h1.1v1.1h-1.1zM316.1 106.0h1.1v1.1h-1.1zM309.1 108.0h1.1v1.1h-1.1zM314.1 108.0h1.1v1.1h-1.1z"/>
<path fill="#ff1a00" d="M308.1 106.0h1.1v1.1h-1.1zM315.1 106.0h1.1v1.1h-1.1z"/>
<path fill="#cc0000" d="M309.1 106.0h1.1v1.1h-1.1z"/>
<path fill="#b30000" d="M310.1 106.0h1.1v1.1h-1.1zM313.1 106.0h1.1v1.1h-1.1zM309.1 107.0h1.1v1.1h-1.1zM314.1 107.0h1.1v1.1h-1.1z"/>
<path fill="#990000" d="M311.1 106.0h2.1v1.1h-2.1z"/>
<path fill="#e50000" d="M314.1 106.0h1.1v1.1h-1.1zM308.1 107.0h1.1v1.1h-1.1zM315.1 107.0h1.1v1.1h-1.1z"/>
<path fill="#66ff99" d="M319.1 106.0h1.1v1.1h-1.1zM304.0 107.0h1.1v1.1h-1.1zM336.2 133.4h4.1v1.1h-4.1zM336.2 134.4h1.1v1.1h-1.1zM341.2 134.4h1.1v1.1h-1.1zM335.1 139.5h1.1v1.1h-1.1zM341.2 139.5h1.1v1.1h-1.1z"/>
<path fill="#ffb300" d="M306.1 107.0h1.1v1.1h-1.1zM317.1 107.0h1.1v1.1h-1.1z"/>
<path fill="#ff4c00" d="M307.1 107.0h1.1v1.1h-1.1zM316.1 107.0h1.1v1.1h-1.1zM311.1 108.0h2.1v1.1h-2.1z"/>
<path fill="#800000" d="M310.1 107.0h4.1v1.1h-4.1z"/>
<path fill="#1affe5" d="M320.1 107.0h1.1v1.1h-1.1zM309.1 109.1h1.1v1.1h-1.1zM315.1 109.1h1.1v1.1h-1.1zM324.1 122.2h1.1v1.1h-1.1zM324.1 123.2h2.1v1.1h-2.1zM292.0 124.3h1.1v1.1h-1.1zM294.0 124.3h1.1v1.1h-1.1zM292.0 125.3h1.1v1.1h-1.1zM301.0 127.3h1.1v1.1h-1.1zM334.1 133.4h1.1v1.1h-1.1zM343.2 138.5h1.1v1.1h-1.1zM343.2 139.5h1.1v1.1h-1.1z"/>
<path fill="#99ff66" d="M306.1 108.0h1.1v1.1h-1.1zM317.1 108.0h1.1v1.1h-1.1zM336.2 138.5h2.1v1.1h-2.1zM340.2 138.5h1.1v1.1h-1.1zM338.2 139.5h1.1v1.1h-1.1z"/>
<path fill="#ff6600" d="M310.1 108.0h1.1v1.1h-1.1zM313.1 108.0h1.1v1.1h-1.1z"/>
</g></g>
<rect x="289.0" y="105.0" width="62.2" height="36.5" fill="none" stroke="#999" stroke-width="0.25"/>
<text x="320.1" y="103.4" font-size="2.9" text-anchor="middle" style="font-family:'Liberation Sans',sans-serif;fill:#555;fill:#444">L2 error U</text>
<rect x="355.4" y="103.7" width="3.3" height="39.1" fill="url(#jetv)"/>
<text x="360.0" y="106.5" font-size="2.6" style="font-family:'Liberation Sans',sans-serif;fill:#555;fill:#333;stroke:#555;stroke-width:0.05">0.450</text>
<text x="360.0" y="110.4" font-size="2.6" style="font-family:'Liberation Sans',sans-serif;fill:#555;fill:#333;stroke:#555;stroke-width:0.05">0.350</text>
<text x="360.0" y="114.3" font-size="2.6" style="font-family:'Liberation Sans',sans-serif;fill:#555;fill:#333;stroke:#555;stroke-width:0.05">0.250</text>
<text x="360.0" y="118.2" font-size="2.6" style="font-family:'Liberation Sans',sans-serif;fill:#555;fill:#333;stroke:#555;stroke-width:0.05">0.150</text>
<text x="360.0" y="122.1" font-size="2.6" style="font-family:'Liberation Sans',sans-serif;fill:#555;fill:#333;stroke:#555;stroke-width:0.05">0.050</text>
<text x="360.0" y="126.0" font-size="2.6" style="font-family:'Liberation Sans',sans-serif;fill:#555;fill:#333;stroke:#555;stroke-width:0.05">-0.050</text>
<text x="360.0" y="129.9" font-size="2.6" style="font-family:'Liberation Sans',sans-serif;fill:#555;fill:#333;stroke:#555;stroke-width:0.05">-0.150</text>
<text x="360.0" y="133.8" font-size="2.6" style="font-family:'Liberation Sans',sans-serif;fill:#555;fill:#333;stroke:#555;stroke-width:0.05">-0.250</text>
<text x="360.0" y="137.7" font-size="2.6" style="font-family:'Liberation Sans',sans-serif;fill:#555;fill:#333;stroke:#555;stroke-width:0.05">-0.350</text>
<text x="360.0" y="141.6" font-size="2.6" style="font-family:'Liberation Sans',sans-serif;fill:#555;fill:#333;stroke:#555;stroke-width:0.05">-0.450</text>
<text x="286.8" y="105.8" font-size="2.3" text-anchor="end" style="font-family:'Liberation Sans',sans-serif;fill:#555">2</text>
<text x="286.8" y="114.9" font-size="2.3" text-anchor="end" style="font-family:'Liberation Sans',sans-serif;fill:#555">1</text>
<text x="286.8" y="124.0" font-size="2.3" text-anchor="end" style="font-family:'Liberation Sans',sans-serif;fill:#555">0</text>
<text x="286.8" y="133.2" font-size="2.3" text-anchor="end" style="font-family:'Liberation Sans',sans-serif;fill:#555">-1</text>
<text x="286.8" y="142.3" font-size="2.3" text-anchor="end" style="font-family:'Liberation Sans',sans-serif;fill:#555">-2</text>
<text x="289.0" y="144.7" font-size="2.3" text-anchor="middle" style="font-family:'Liberation Sans',sans-serif;fill:#555">0</text>
<text x="296.8" y="144.7" font-size="2.3" text-anchor="middle" style="font-family:'Liberation Sans',sans-serif;fill:#555">1</text>
<text x="304.6" y="144.7" font-size="2.3" text-anchor="middle" style="font-family:'Liberation Sans',sans-serif;fill:#555">2</text>
<text x="312.3" y="144.7" font-size="2.3" text-anchor="middle" style="font-family:'Liberation Sans',sans-serif;fill:#555">3</text>
<text x="320.1" y="144.7" font-size="2.3" text-anchor="middle" style="font-family:'Liberation Sans',sans-serif;fill:#555">4</text>
<text x="327.9" y="144.7" font-size="2.3" text-anchor="middle" style="font-family:'Liberation Sans',sans-serif;fill:#555">5</text>
<text x="335.6" y="144.7" font-size="2.3" text-anchor="middle" style="font-family:'Liberation Sans',sans-serif;fill:#555">6</text>
<text x="343.4" y="144.7" font-size="2.3" text-anchor="middle" style="font-family:'Liberation Sans',sans-serif;fill:#555">7</text>
<text x="351.2" y="144.7" font-size="2.3" text-anchor="middle" style="font-family:'Liberation Sans',sans-serif;fill:#555">8</text>
<text x="320.1" y="147.9" font-size="2.6" text-anchor="middle" style="font-family:'Liberation Sans',sans-serif;fill:#555">x</text>
<text x="283.5" y="124.0" font-size="2.6" text-anchor="middle" style="font-family:'Liberation Sans',sans-serif;fill:#555">y</text>
<clipPath id="cxv"><rect x="289.20" y="154.60" width="62.40" height="35.80"/></clipPath>
<g clip-path="url(#cxv)"><g filter="url(#bl2)" shape-rendering="crispEdges">
<path fill="#0000e6" d="M286.2 151.6h7.1v4.1h-7.1zM321.4 151.6h26.3v4.1h-26.3zM286.2 155.6h5.1v1.1h-5.1zM324.4 155.6h22.2v1.1h-22.2zM286.2 156.6h4.1v1.1h-4.1zM327.4 156.6h18.2v1.1h-18.2zM328.5 157.6h17.2v1.1h-17.2zM329.5 158.6h16.2v1.1h-16.2zM329.5 159.6h16.2v1.1h-16.2zM330.5 160.6h16.2v1.1h-16.2zM335.5 161.6h2.1v1.1h-2.1zM340.5 161.6h6.1v1.1h-6.1zM342.5 162.6h5.1v1.1h-5.1zM343.5 163.5h5.1v1.1h-5.1zM343.5 164.5h11.2v1.1h-11.2zM344.6 165.5h10.1v1.1h-10.1zM329.5 166.5h2.1v1.1h-2.1zM344.6 166.5h10.1v1.1h-10.1zM329.5 167.5h8.2v1.1h-8.2zM341.5 167.5h13.2v1.1h-13.2zM330.5 168.5h2.1v1.1h-2.1zM334.5 168.5h2.1v1.1h-2.1zM338.5 168.5h1.1v1.1h-1.1zM345.6 168.5h9.1v1.1h-9.1zM335.5 169.5h1.1v1.1h-1.1zM347.6 169.5h7.1v1.1h-7.1zM348.6 170.5h6.1v1.1h-6.1zM346.6 171.5h8.1v1.1h-8.1zM343.5 172.5h11.2v1.1h-11.2zM331.5 173.5h1.1v1.1h-1.1zM335.5 173.5h1.1v1.1h-1.1zM342.5 173.5h1.1v1.1h-1.1zM348.6 173.5h6.1v1.1h-6.1zM293.2 174.5h2.1v1.1h-2.1zM330.5 174.5h3.1v1.1h-3.1zM335.5 174.5h1.1v1.1h-1.1zM341.5 174.5h1.1v1.1h-1.1zM349.6 174.5h5.1v1.1h-5.1zM333.5 175.5h1.1v1.1h-1.1zM336.5 175.5h6.1v1.1h-6.1zM349.6 175.5h5.1v1.1h-5.1zM329.5 176.5h1.1v1.1h-1.1zM332.5 176.5h1.1v1.1h-1.1zM338.5 176.5h4.1v1.1h-4.1zM349.6 176.5h5.1v1.1h-5.1zM329.5 177.5h1.1v1.1h-1.1zM332.5 177.5h1.1v1.1h-1.1zM339.5 177.5h3.1v1.1h-3.1zM350.6 177.5h4.1v1.1h-4.1zM303.3 178.5h1.1v1.1h-1.1zM320.4 178.5h1.1v1.1h-1.1zM330.5 178.5h2.1v1.1h-2.1zM339.5 178.5h3.1v1.1h-3.1zM303.3 179.5h2.1v1.1h-2.1zM321.4 179.5h1.1v1.1h-1.1zM294.2 180.5h1.1v1.1h-1.1zM303.3 180.5h4.1v1.1h-4.1zM322.4 180.5h2.1v1.1h-2.1zM350.6 180.5h4.1v1.1h-4.1zM294.2 181.4h1.1v1.1h-1.1zM303.3 181.4h6.1v1.1h-6.1zM332.5 181.4h1.1v1.1h-1.1zM349.6 181.4h5.1v1.1h-5.1zM294.2 182.4h2.1v1.1h-2.1zM309.3 182.4h2.1v1.1h-2.1zM331.5 182.4h4.1v1.1h-4.1zM338.5 182.4h2.1v1.1h-2.1zM347.6 182.4h7.1v1.1h-7.1zM310.3 183.4h3.1v1.1h-3.1zM331.5 183.4h1.1v1.1h-1.1zM335.5 183.4h4.1v1.1h-4.1zM349.6 183.4h5.1v1.1h-5.1zM311.3 184.4h3.1v1.1h-3.1zM330.5 184.4h2.1v1.1h-2.1zM335.5 184.4h3.1v1.1h-3.1zM350.6 184.4h4.1v1.1h-4.1zM330.5 185.4h7.1v1.1h-7.1zM329.5 186.4h8.2v1.1h-8.2zM301.3 187.4h2.1v1.1h-2.1zM305.3 187.4h4.1v1.1h-4.1zM327.4 187.4h10.2v1.1h-10.2zM298.3 188.4h13.2v1.1h-13.2zM325.4 188.4h12.2v1.1h-12.2zM350.6 188.4h4.1v1.1h-4.1zM286.2 189.4h27.3v4.1h-27.3zM324.4 189.4h15.2v4.1h-15.2zM349.6 189.4h5.1v4.1h-5.1z"/>
<path fill="#0000ff" d="M293.2 151.6h12.2v4.1h-12.2zM319.4 151.6h2.1v4.1h-2.1zM347.6 151.6h1.1v4.1h-1.1zM291.2 155.6h1.1v1.1h-1.1zM320.4 155.6h4.1v1.1h-4.1zM346.6 155.6h1.1v1.1h-1.1zM290.2 156.6h1.1v1.1h-1.1zM326.4 156.6h1.1v1.1h-1.1zM345.6 156.6h1.1v1.1h-1.1zM286.2 157.6h4.1v1.1h-4.1zM327.4 157.6h1.1v1.1h-1.1zM345.6 157.6h1.1v1.1h-1.1zM286.2 158.6h4.1v1.1h-4.1zM328.5 158.6h1.1v1.1h-1.1zM345.6 158.6h1.1v1.1h-1.1zM286.2 159.6h4.1v1.1h-4.1zM345.6 159.6h1.1v1.1h-1.1zM286.2 160.6h4.1v1.1h-4.1zM329.5 160.6h1.1v1.1h-1.1zM286.2 161.6h4.1v1.1h-4.1zM309.3 161.6h2.1v1.1h-2.1zM329.5 161.6h6.1v1.1h-6.1zM337.5 161.6h3.1v1.1h-3.1zM346.6 161.6h1.1v1.1h-1.1zM317.4 162.6h1.1v1.1h-1.1zM340.5 162.6h2.1v1.1h-2.1zM317.4 163.5h2.1v1.1h-2.1zM341.5 163.5h2.1v1.1h-2.1zM348.6 163.5h6.1v1.1h-6.1zM318.4 164.5h1.1v1.1h-1.1zM342.5 164.5h1.1v1.1h-1.1zM328.5 165.5h2.1v1.1h-2.1zM342.5 165.5h2.1v1.1h-2.1zM328.5 166.5h1.1v1.1h-1.1zM331.5 166.5h5.1v1.1h-5.1zM342.5 166.5h2.1v1.1h-2.1zM328.5 167.5h1.1v1.1h-1.1zM337.5 167.5h4.1v1.1h-4.1zM329.5 168.5h1.1v1.1h-1.1zM332.5 168.5h2.1v1.1h-2.1zM329.5 169.5h3.1v1.1h-3.1zM334.5 169.5h1.1v1.1h-1.1zM286.2 170.5h4.1v1.1h-4.1zM329.5 170.5h2.1v1.1h-2.1zM335.5 170.5h1.1v1.1h-1.1zM286.2 171.5h4.1v1.1h-4.1zM330.5 171.5h2.1v1.1h-2.1zM335.5 171.5h1.1v1.1h-1.1zM286.2 172.5h6.1v1.1h-6.1zM330.5 172.5h2.1v1.1h-2.1zM335.5 172.5h1.1v1.1h-1.1zM291.2 173.5h4.1v1.1h-4.1zM330.5 173.5h1.1v1.1h-1.1zM332.5 173.5h1.1v1.1h-1.1zM343.5 173.5h5.1v1.1h-5.1zM292.2 174.5h1.1v1.1h-1.1zM333.5 174.5h2.1v1.1h-2.1zM342.5 174.5h1.1v1.1h-1.1zM347.6 174.5h2.1v1.1h-2.1zM293.2 175.5h2.1v1.1h-2.1zM334.5 175.5h2.1v1.1h-2.1zM342.5 175.5h1.1v1.1h-1.1zM348.6 175.5h1.1v1.1h-1.1zM303.3 176.5h2.1v1.1h-2.1zM323.4 176.5h1.1v1.1h-1.1zM333.5 176.5h1.1v1.1h-1.1zM337.5 176.5h1.1v1.1h-1.1zM342.5 176.5h1.1v1.1h-1.1zM348.6 176.5h1.1v1.1h-1.1zM303.3 177.5h2.1v1.1h-2.1zM319.4 177.5h2.1v1.1h-2.1zM323.4 177.5h1.1v1.1h-1.1zM338.5 177.5h1.1v1.1h-1.1zM342.5 177.5h1.1v1.1h-1.1zM348.6 177.5h2.1v1.1h-2.1zM294.2 178.5h1.1v1.1h-1.1zM304.3 178.5h1.1v1.1h-1.1zM318.4 178.5h2.1v1.1h-2.1zM321.4 178.5h1.1v1.1h-1.1zM329.5 178.5h1.1v1.1h-1.1zM332.5 178.5h1.1v1.1h-1.1zM338.5 178.5h1.1v1.1h-1.1zM342.5 178.5h1.1v1.1h-1.1zM348.6 178.5h6.1v1.1h-6.1zM294.2 179.5h1.1v1.1h-1.1zM305.3 179.5h1.1v1.1h-1.1zM319.4 179.5h2.1v1.1h-2.1zM322.4 179.5h1.1v1.1h-1.1zM331.5 179.5h2.1v1.1h-2.1zM340.5 179.5h1.1v1.1h-1.1zM348.6 179.5h6.1v1.1h-6.1zM293.2 180.5h1.1v1.1h-1.1zM298.3 180.5h2.1v1.1h-2.1zM307.3 180.5h1.1v1.1h-1.1zM320.4 180.5h2.1v1.1h-2.1zM324.4 180.5h1.1v1.1h-1.1zM331.5 180.5h2.1v1.1h-2.1zM347.6 180.5h3.1v1.1h-3.1zM293.2 181.4h1.1v1.1h-1.1zM295.2 181.4h1.1v1.1h-1.1zM302.3 181.4h1.1v1.1h-1.1zM309.3 181.4h2.1v1.1h-2.1zM319.4 181.4h6.1v1.1h-6.1zM331.5 181.4h1.1v1.1h-1.1zM333.5 181.4h1.1v1.1h-1.1zM338.5 181.4h4.1v1.1h-4.1zM345.6 181.4h4.1v1.1h-4.1zM293.2 182.4h1.1v1.1h-1.1zM296.2 182.4h1.1v1.1h-1.1zM307.3 182.4h2.1v1.1h-2.1zM311.3 182.4h1.1v1.1h-1.1zM318.4 182.4h4.1v1.1h-4.1zM335.5 182.4h3.1v1.1h-3.1zM340.5 182.4h3.1v1.1h-3.1zM344.6 182.4h3.1v1.1h-3.1zM309.3 183.4h1.1v1.1h-1.1zM313.4 183.4h6.1v1.1h-6.1zM330.5 183.4h1.1v1.1h-1.1zM339.5 183.4h1.1v1.1h-1.1zM348.6 183.4h1.1v1.1h-1.1zM310.3 184.4h1.1v1.1h-1.1zM314.4 184.4h3.1v1.1h-3.1zM329.5 184.4h1.1v1.1h-1.1zM349.6 184.4h1.1v1.1h-1.1zM309.3 185.4h4.1v1.1h-4.1zM328.5 185.4h2.1v1.1h-2.1zM337.5 185.4h1.1v1.1h-1.1zM350.6 185.4h4.1v1.1h-4.1zM307.3 186.4h4.1v1.1h-4.1zM327.4 186.4h2.1v1.1h-2.1zM350.6 186.4h4.1v1.1h-4.1zM299.3 187.4h2.1v1.1h-2.1zM303.3 187.4h2.1v1.1h-2.1zM309.3 187.4h2.1v1.1h-2.1zM325.4 187.4h2.1v1.1h-2.1zM337.5 187.4h1.1v1.1h-1.1zM350.6 187.4h4.1v1.1h-4.1zM286.2 188.4h4.1v1.1h-4.1zM296.2 188.4h2.1v1.1h-2.1zM311.3 188.4h2.1v1.1h-2.1zM323.4 188.4h2.1v1.1h-2.1zM337.5 188.4h1.1v1.1h-1.1zM349.6 188.4h1.1v1.1h-1.1zM313.4 189.4h11.2v4.1h-11.2zM339.5 189.4h1.1v4.1h-1.1zM348.6 189.4h1.1v4.1h-1.1z"/>
<path fill="#001aff" d="M305.3 151.6h3.1v4.1h-3.1zM318.4 151.6h1.1v4.1h-1.1zM348.6 151.6h1.1v4.1h-1.1zM292.2 155.6h1.1v1.1h-1.1zM319.4 155.6h1.1v1.1h-1.1zM291.2 156.6h1.1v1.1h-1.1zM320.4 156.6h1.1v1.1h-1.1zM324.4 156.6h2.1v1.1h-2.1zM290.2 157.6h1.1v1.1h-1.1zM328.5 159.6h1.1v1.1h-1.1zM313.4 160.6h2.1v1.1h-2.1zM303.3 161.6h3.1v1.1h-3.1zM311.3 161.6h4.1v1.1h-4.1zM286.2 162.6h4.1v1.1h-4.1zM309.3 162.6h2.1v1.1h-2.1zM316.4 162.6h1.1v1.1h-1.1zM318.4 162.6h1.1v1.1h-1.1zM329.5 162.6h2.1v1.1h-2.1zM334.5 162.6h6.1v1.1h-6.1zM347.6 162.6h1.1v1.1h-1.1zM319.4 163.5h1.1v1.1h-1.1zM328.5 163.5h2.1v1.1h-2.1zM317.4 164.5h1.1v1.1h-1.1zM328.5 164.5h2.1v1.1h-2.1zM341.5 164.5h1.1v1.1h-1.1zM330.5 165.5h2.1v1.1h-2.1zM334.5 165.5h1.1v1.1h-1.1zM341.5 165.5h1.1v1.1h-1.1zM286.2 166.5h4.1v1.1h-4.1zM336.5 166.5h2.1v1.1h-2.1zM340.5 166.5h2.1v1.1h-2.1zM286.2 167.5h4.1v1.1h-4.1zM286.2 168.5h4.1v1.1h-4.1zM328.5 168.5h1.1v1.1h-1.1zM286.2 169.5h4.1v1.1h-4.1zM328.5 169.5h1.1v1.1h-1.1zM332.5 169.5h2.1v1.1h-2.1zM328.5 170.5h1.1v1.1h-1.1zM331.5 170.5h1.1v1.1h-1.1zM334.5 170.5h1.1v1.1h-1.1zM290.2 171.5h1.1v1.1h-1.1zM329.5 171.5h1.1v1.1h-1.1zM298.3 172.5h1.1v1.1h-1.1zM332.5 172.5h1.1v1.1h-1.1zM334.5 172.5h1.1v1.1h-1.1zM290.2 173.5h1.1v1.1h-1.1zM295.2 173.5h2.1v1.1h-2.1zM310.3 173.5h1.1v1.1h-1.1zM333.5 173.5h2.1v1.1h-2.1zM295.2 174.5h1.1v1.1h-1.1zM343.5 174.5h4.1v1.1h-4.1zM323.4 175.5h2.1v1.1h-2.1zM329.5 175.5h1.1v1.1h-1.1zM343.5 175.5h1.1v1.1h-1.1zM347.6 175.5h1.1v1.1h-1.1zM293.2 176.5h2.1v1.1h-2.1zM324.4 176.5h1.1v1.1h-1.1zM334.5 176.5h3.1v1.1h-3.1zM343.5 176.5h1.1v1.1h-1.1zM347.6 176.5h1.1v1.1h-1.1zM293.2 177.5h2.1v1.1h-2.1zM317.4 177.5h2.1v1.1h-2.1zM321.4 177.5h1.1v1.1h-1.1zM324.4 177.5h1.1v1.1h-1.1zM333.5 177.5h1.1v1.1h-1.1zM337.5 177.5h1.1v1.1h-1.1zM343.5 177.5h2.1v1.1h-2.1zM346.6 177.5h2.1v1.1h-2.1zM293.2 178.5h1.1v1.1h-1.1zM305.3 178.5h1.1v1.1h-1.1zM317.4 178.5h1.1v1.1h-1.1zM333.5 178.5h1.1v1.1h-1.1zM337.5 178.5h1.1v1.1h-1.1zM343.5 178.5h5.1v1.1h-5.1zM293.2 179.5h1.1v1.1h-1.1zM299.3 179.5h2.1v1.1h-2.1zM306.3 179.5h1.1v1.1h-1.1zM323.4 179.5h1.1v1.1h-1.1zM330.5 179.5h1.1v1.1h-1.1zM333.5 179.5h1.1v1.1h-1.1zM338.5 179.5h2.1v1.1h-2.1zM341.5 179.5h7.1v1.1h-7.1zM297.3 180.5h1.1v1.1h-1.1zM300.3 180.5h1.1v1.1h-1.1zM302.3 180.5h1.1v1.1h-1.1zM308.3 180.5h1.1v1.1h-1.1zM319.4 180.5h1.1v1.1h-1.1zM333.5 180.5h1.1v1.1h-1.1zM338.5 180.5h5.1v1.1h-5.1zM344.6 180.5h3.1v1.1h-3.1zM318.4 181.4h1.1v1.1h-1.1zM325.4 181.4h1.1v1.1h-1.1zM334.5 181.4h4.1v1.1h-4.1zM342.5 181.4h3.1v1.1h-3.1zM292.2 182.4h1.1v1.1h-1.1zM301.3 182.4h6.1v1.1h-6.1zM312.3 182.4h1.1v1.1h-1.1zM317.4 182.4h1.1v1.1h-1.1zM322.4 182.4h4.1v1.1h-4.1zM330.5 182.4h1.1v1.1h-1.1zM343.5 182.4h1.1v1.1h-1.1zM292.2 183.4h1.1v1.1h-1.1zM296.2 183.4h5.1v1.1h-5.1zM308.3 183.4h1.1v1.1h-1.1zM319.4 183.4h1.1v1.1h-1.1zM329.5 183.4h1.1v1.1h-1.1zM340.5 183.4h1.1v1.1h-1.1zM347.6 183.4h1.1v1.1h-1.1zM309.3 184.4h1.1v1.1h-1.1zM317.4 184.4h1.1v1.1h-1.1zM328.5 184.4h1.1v1.1h-1.1zM338.5 184.4h1.1v1.1h-1.1zM308.3 185.4h1.1v1.1h-1.1zM313.4 185.4h2.1v1.1h-2.1zM300.3 186.4h4.1v1.1h-4.1zM305.3 186.4h2.1v1.1h-2.1zM311.3 186.4h2.1v1.1h-2.1zM326.4 186.4h1.1v1.1h-1.1zM337.5 186.4h1.1v1.1h-1.1zM298.3 187.4h1.1v1.1h-1.1zM311.3 187.4h2.1v1.1h-2.1zM323.4 187.4h2.1v1.1h-2.1zM290.2 188.4h6.1v1.1h-6.1zM313.4 188.4h1.1v1.1h-1.1zM321.4 188.4h2.1v1.1h-2.1zM338.5 188.4h1.1v1.1h-1.1zM340.5 189.4h1.1v4.1h-1.1zM347.6 189.4h1.1v4.1h-1.1z"/>
<path fill="#0033ff" d="M308.3 151.6h7.1v4.1h-7.1zM316.4 151.6h2.1v4.1h-2.1zM349.6 151.6h5.1v4.1h-5.1zM293.2 155.6h1.1v1.1h-1.1zM299.3 155.6h4.1v1.1h-4.1zM319.4 156.6h1.1v1.1h-1.1zM321.4 156.6h3.1v1.1h-3.1zM346.6 156.6h1.1v1.1h-1.1zM326.4 157.6h1.1v1.1h-1.1zM290.2 158.6h1.1v1.1h-1.1zM290.2 159.6h1.1v1.1h-1.1zM314.4 159.6h3.1v1.1h-3.1zM290.2 160.6h1.1v1.1h-1.1zM303.3 160.6h3.1v1.1h-3.1zM309.3 160.6h4.1v1.1h-4.1zM315.4 160.6h1.1v1.1h-1.1zM328.5 160.6h1.1v1.1h-1.1zM346.6 160.6h1.1v1.1h-1.1zM290.2 161.6h1.1v1.1h-1.1zM308.3 161.6h1.1v1.1h-1.1zM317.4 161.6h1.1v1.1h-1.1zM328.5 161.6h1.1v1.1h-1.1zM290.2 162.6h1.1v1.1h-1.1zM304.3 162.6h1.1v1.1h-1.1zM319.4 162.6h1.1v1.1h-1.1zM328.5 162.6h1.1v1.1h-1.1zM331.5 162.6h3.1v1.1h-3.1zM286.2 163.5h4.1v1.1h-4.1zM316.4 163.5h1.1v1.1h-1.1zM327.4 163.5h1.1v1.1h-1.1zM330.5 163.5h1.1v1.1h-1.1zM334.5 163.5h3.1v1.1h-3.1zM339.5 163.5h2.1v1.1h-2.1zM286.2 164.5h4.1v1.1h-4.1zM327.4 164.5h1.1v1.1h-1.1zM330.5 164.5h1.1v1.1h-1.1zM335.5 164.5h1.1v1.1h-1.1zM340.5 164.5h1.1v1.1h-1.1zM286.2 165.5h4.1v1.1h-4.1zM327.4 165.5h1.1v1.1h-1.1zM332.5 165.5h2.1v1.1h-2.1zM335.5 165.5h2.1v1.1h-2.1zM340.5 165.5h1.1v1.1h-1.1zM338.5 166.5h2.1v1.1h-2.1zM327.4 170.5h1.1v1.1h-1.1zM332.5 170.5h2.1v1.1h-2.1zM311.3 171.5h1.1v1.1h-1.1zM324.4 171.5h2.1v1.1h-2.1zM328.5 171.5h1.1v1.1h-1.1zM332.5 171.5h3.1v1.1h-3.1zM292.2 172.5h1.1v1.1h-1.1zM297.3 172.5h1.1v1.1h-1.1zM310.3 172.5h3.1v1.1h-3.1zM324.4 172.5h1.1v1.1h-1.1zM329.5 172.5h1.1v1.1h-1.1zM333.5 172.5h1.1v1.1h-1.1zM286.2 173.5h4.1v1.1h-4.1zM297.3 173.5h1.1v1.1h-1.1zM309.3 173.5h1.1v1.1h-1.1zM311.3 173.5h1.1v1.1h-1.1zM329.5 173.5h1.1v1.1h-1.1zM329.5 174.5h1.1v1.1h-1.1zM292.2 175.5h1.1v1.1h-1.1zM305.3 175.5h1.1v1.1h-1.1zM344.6 175.5h3.1v1.1h-3.1zM302.3 176.5h1.1v1.1h-1.1zM305.3 176.5h1.1v1.1h-1.1zM320.4 176.5h1.1v1.1h-1.1zM344.6 176.5h3.1v1.1h-3.1zM302.3 177.5h1.1v1.1h-1.1zM305.3 177.5h1.1v1.1h-1.1zM328.5 177.5h1.1v1.1h-1.1zM334.5 177.5h3.1v1.1h-3.1zM345.6 177.5h1.1v1.1h-1.1zM302.3 178.5h1.1v1.1h-1.1zM322.4 178.5h2.1v1.1h-2.1zM328.5 178.5h1.1v1.1h-1.1zM334.5 178.5h1.1v1.1h-1.1zM336.5 178.5h1.1v1.1h-1.1zM297.3 179.5h2.1v1.1h-2.1zM302.3 179.5h1.1v1.1h-1.1zM318.4 179.5h1.1v1.1h-1.1zM329.5 179.5h1.1v1.1h-1.1zM334.5 179.5h4.1v1.1h-4.1zM295.2 180.5h1.1v1.1h-1.1zM309.3 180.5h1.1v1.1h-1.1zM318.4 180.5h1.1v1.1h-1.1zM325.4 180.5h1.1v1.1h-1.1zM330.5 180.5h1.1v1.1h-1.1zM334.5 180.5h4.1v1.1h-4.1zM343.5 180.5h1.1v1.1h-1.1zM292.2 181.4h1.1v1.1h-1.1zM298.3 181.4h1.1v1.1h-1.1zM301.3 181.4h1.1v1.1h-1.1zM311.3 181.4h1.1v1.1h-1.1zM330.5 181.4h1.1v1.1h-1.1zM297.3 182.4h1.1v1.1h-1.1zM300.3 182.4h1.1v1.1h-1.1zM313.4 182.4h4.1v1.1h-4.1zM326.4 182.4h1.1v1.1h-1.1zM329.5 182.4h1.1v1.1h-1.1zM286.2 183.4h6.1v1.1h-6.1zM293.2 183.4h3.1v1.1h-3.1zM301.3 183.4h1.1v1.1h-1.1zM307.3 183.4h1.1v1.1h-1.1zM320.4 183.4h1.1v1.1h-1.1zM327.4 183.4h2.1v1.1h-2.1zM346.6 183.4h1.1v1.1h-1.1zM286.2 184.4h4.1v1.1h-4.1zM308.3 184.4h1.1v1.1h-1.1zM318.4 184.4h1.1v1.1h-1.1zM327.4 184.4h1.1v1.1h-1.1zM348.6 184.4h1.1v1.1h-1.1zM307.3 185.4h1.1v1.1h-1.1zM315.4 185.4h2.1v1.1h-2.1zM327.4 185.4h1.1v1.1h-1.1zM349.6 185.4h1.1v1.1h-1.1zM299.3 186.4h1.1v1.1h-1.1zM304.3 186.4h1.1v1.1h-1.1zM313.4 186.4h1.1v1.1h-1.1zM325.4 186.4h1.1v1.1h-1.1zM286.2 187.4h4.1v1.1h-4.1zM297.3 187.4h1.1v1.1h-1.1zM313.4 187.4h1.1v1.1h-1.1zM322.4 187.4h1.1v1.1h-1.1zM338.5 187.4h1.1v1.1h-1.1zM349.6 187.4h1.1v1.1h-1.1zM314.4 188.4h7.1v1.1h-7.1zM348.6 188.4h1.1v1.1h-1.1zM341.5 189.4h1.1v4.1h-1.1zM346.6 189.4h1.1v4.1h-1.1z"/>
<path fill="#004dff" d="M315.4 151.6h1.1v4.1h-1.1zM294.2 155.6h5.1v1.1h-5.1zM303.3 155.6h2.1v1.1h-2.1zM306.3 155.6h2.1v1.1h-2.1zM312.3 155.6h1.1v1.1h-1.1zM318.4 155.6h1.1v1.1h-1.1zM347.6 155.6h1.1v1.1h-1.1zM292.2 156.6h1.1v1.1h-1.1zM291.2 157.6h1.1v1.1h-1.1zM346.6 157.6h1.1v1.1h-1.1zM327.4 158.6h1.1v1.1h-1.1zM298.3 159.6h2.1v1.1h-2.1zM313.4 159.6h1.1v1.1h-1.1zM317.4 159.6h1.1v1.1h-1.1zM308.3 160.6h1.1v1.1h-1.1zM291.2 161.6h1.1v1.1h-1.1zM306.3 161.6h1.1v1.1h-1.1zM318.4 161.6h1.1v1.1h-1.1zM303.3 162.6h1.1v1.1h-1.1zM311.3 162.6h1.1v1.1h-1.1zM348.6 162.6h1.1v1.1h-1.1zM331.5 163.5h3.1v1.1h-3.1zM337.5 163.5h2.1v1.1h-2.1zM319.4 164.5h1.1v1.1h-1.1zM331.5 164.5h4.1v1.1h-4.1zM336.5 164.5h4.1v1.1h-4.1zM337.5 165.5h3.1v1.1h-3.1zM327.4 166.5h1.1v1.1h-1.1zM290.2 167.5h1.1v1.1h-1.1zM327.4 169.5h1.1v1.1h-1.1zM290.2 170.5h1.1v1.1h-1.1zM326.4 170.5h1.1v1.1h-1.1zM291.2 171.5h1.1v1.1h-1.1zM298.3 171.5h1.1v1.1h-1.1zM310.3 171.5h1.1v1.1h-1.1zM312.3 171.5h1.1v1.1h-1.1zM323.4 171.5h1.1v1.1h-1.1zM326.4 171.5h2.1v1.1h-2.1zM309.3 172.5h1.1v1.1h-1.1zM323.4 172.5h1.1v1.1h-1.1zM298.3 173.5h1.1v1.1h-1.1zM312.3 173.5h1.1v1.1h-1.1zM291.2 174.5h1.1v1.1h-1.1zM306.3 174.5h1.1v1.1h-1.1zM324.4 174.5h1.1v1.1h-1.1zM295.2 175.5h1.1v1.1h-1.1zM304.3 175.5h1.1v1.1h-1.1zM306.3 175.5h1.1v1.1h-1.1zM319.4 176.5h1.1v1.1h-1.1zM322.4 176.5h1.1v1.1h-1.1zM316.4 177.5h1.1v1.1h-1.1zM322.4 177.5h1.1v1.1h-1.1zM316.4 178.5h1.1v1.1h-1.1zM324.4 178.5h1.1v1.1h-1.1zM335.5 178.5h1.1v1.1h-1.1zM295.2 179.5h1.1v1.1h-1.1zM307.3 179.5h1.1v1.1h-1.1zM317.4 179.5h1.1v1.1h-1.1zM324.4 179.5h1.1v1.1h-1.1zM328.5 179.5h1.1v1.1h-1.1zM310.3 180.5h1.1v1.1h-1.1zM296.2 181.4h1.1v1.1h-1.1zM299.3 181.4h1.1v1.1h-1.1zM317.4 181.4h1.1v1.1h-1.1zM326.4 181.4h1.1v1.1h-1.1zM329.5 181.4h1.1v1.1h-1.1zM291.2 182.4h1.1v1.1h-1.1zM298.3 182.4h2.1v1.1h-2.1zM327.4 182.4h2.1v1.1h-2.1zM302.3 183.4h1.1v1.1h-1.1zM306.3 183.4h1.1v1.1h-1.1zM321.4 183.4h2.1v1.1h-2.1zM324.4 183.4h3.1v1.1h-3.1zM341.5 183.4h1.1v1.1h-1.1zM345.6 183.4h1.1v1.1h-1.1zM290.2 184.4h1.1v1.1h-1.1zM298.3 184.4h4.1v1.1h-4.1zM307.3 184.4h1.1v1.1h-1.1zM319.4 184.4h1.1v1.1h-1.1zM326.4 184.4h1.1v1.1h-1.1zM339.5 184.4h1.1v1.1h-1.1zM299.3 185.4h3.1v1.1h-3.1zM306.3 185.4h1.1v1.1h-1.1zM317.4 185.4h2.1v1.1h-2.1zM326.4 185.4h1.1v1.1h-1.1zM338.5 185.4h1.1v1.1h-1.1zM314.4 186.4h2.1v1.1h-2.1zM324.4 186.4h1.1v1.1h-1.1zM338.5 186.4h1.1v1.1h-1.1zM349.6 186.4h1.1v1.1h-1.1zM314.4 187.4h1.1v1.1h-1.1zM320.4 187.4h2.1v1.1h-2.1zM339.5 188.4h1.1v1.1h-1.1zM342.5 189.4h1.1v4.1h-1.1zM345.6 189.4h1.1v4.1h-1.1z"/>
<path fill="#0066ff" d="M305.3 155.6h1.1v1.1h-1.1zM308.3 155.6h4.1v1.1h-4.1zM313.4 155.6h1.1v1.1h-1.1zM299.3 156.6h1.1v1.1h-1.1zM318.4 156.6h1.1v1.1h-1.1zM319.4 157.6h1.1v1.1h-1.1zM325.4 157.6h1.1v1.1h-1.1zM291.2 158.6h1.1v1.1h-1.1zM298.3 158.6h2.1v1.1h-2.1zM317.4 158.6h2.1v1.1h-2.1zM346.6 158.6h1.1v1.1h-1.1zM291.2 159.6h1.1v1.1h-1.1zM297.3 159.6h1.1v1.1h-1.1zM300.3 159.6h1.1v1.1h-1.1zM346.6 159.6h1.1v1.1h-1.1zM291.2 160.6h1.1v1.1h-1.1zM297.3 160.6h4.1v1.1h-4.1zM302.3 160.6h1.1v1.1h-1.1zM306.3 160.6h1.1v1.1h-1.1zM316.4 160.6h1.1v1.1h-1.1zM292.2 161.6h1.1v1.1h-1.1zM294.2 161.6h1.1v1.1h-1.1zM302.3 161.6h1.1v1.1h-1.1zM315.4 161.6h2.1v1.1h-2.1zM347.6 161.6h1.1v1.1h-1.1zM291.2 162.6h1.1v1.1h-1.1zM293.2 162.6h2.1v1.1h-2.1zM305.3 162.6h1.1v1.1h-1.1zM308.3 162.6h1.1v1.1h-1.1zM312.3 162.6h3.1v1.1h-3.1zM327.4 162.6h1.1v1.1h-1.1zM349.6 162.6h5.1v1.1h-5.1zM290.2 163.5h1.1v1.1h-1.1zM294.2 163.5h1.1v1.1h-1.1zM309.3 163.5h2.1v1.1h-2.1zM322.4 163.5h1.1v1.1h-1.1zM326.4 163.5h1.1v1.1h-1.1zM326.4 164.5h1.1v1.1h-1.1zM318.4 165.5h1.1v1.1h-1.1zM290.2 166.5h1.1v1.1h-1.1zM327.4 167.5h1.1v1.1h-1.1zM290.2 168.5h1.1v1.1h-1.1zM299.3 168.5h1.1v1.1h-1.1zM327.4 168.5h1.1v1.1h-1.1zM290.2 169.5h1.1v1.1h-1.1zM299.3 169.5h1.1v1.1h-1.1zM325.4 170.5h1.1v1.1h-1.1zM296.2 172.5h1.1v1.1h-1.1zM325.4 172.5h1.1v1.1h-1.1zM328.5 172.5h1.1v1.1h-1.1zM296.2 174.5h1.1v1.1h-1.1zM307.3 174.5h1.1v1.1h-1.1zM310.3 174.5h2.1v1.1h-2.1zM323.4 174.5h1.1v1.1h-1.1zM303.3 175.5h1.1v1.1h-1.1zM295.2 176.5h1.1v1.1h-1.1zM317.4 176.5h2.1v1.1h-2.1zM321.4 176.5h1.1v1.1h-1.1zM325.4 176.5h1.1v1.1h-1.1zM328.5 176.5h1.1v1.1h-1.1zM325.4 177.5h1.1v1.1h-1.1zM295.2 178.5h1.1v1.1h-1.1zM306.3 178.5h1.1v1.1h-1.1zM296.2 179.5h1.1v1.1h-1.1zM301.3 179.5h1.1v1.1h-1.1zM296.2 180.5h1.1v1.1h-1.1zM301.3 180.5h1.1v1.1h-1.1zM317.4 180.5h1.1v1.1h-1.1zM326.4 180.5h1.1v1.1h-1.1zM328.5 180.5h2.1v1.1h-2.1zM297.3 181.4h1.1v1.1h-1.1zM300.3 181.4h1.1v1.1h-1.1zM312.3 181.4h1.1v1.1h-1.1zM327.4 181.4h2.1v1.1h-2.1zM303.3 183.4h3.1v1.1h-3.1zM323.4 183.4h1.1v1.1h-1.1zM342.5 183.4h1.1v1.1h-1.1zM344.6 183.4h1.1v1.1h-1.1zM291.2 184.4h1.1v1.1h-1.1zM297.3 184.4h1.1v1.1h-1.1zM302.3 184.4h1.1v1.1h-1.1zM306.3 184.4h1.1v1.1h-1.1zM320.4 184.4h1.1v1.1h-1.1zM286.2 185.4h4.1v1.1h-4.1zM302.3 185.4h4.1v1.1h-4.1zM319.4 185.4h1.1v1.1h-1.1zM325.4 185.4h1.1v1.1h-1.1zM286.2 186.4h4.1v1.1h-4.1zM298.3 186.4h1.1v1.1h-1.1zM316.4 186.4h3.1v1.1h-3.1zM322.4 186.4h2.1v1.1h-2.1zM290.2 187.4h1.1v1.1h-1.1zM296.2 187.4h1.1v1.1h-1.1zM315.4 187.4h5.1v1.1h-5.1zM343.5 189.4h2.1v4.1h-2.1z"/>
<path fill="#0080ff" d="M314.4 155.6h1.1v1.1h-1.1zM317.4 155.6h1.1v1.1h-1.1zM293.2 156.6h1.1v1.1h-1.1zM297.3 156.6h2.1v1.1h-2.1zM300.3 156.6h1.1v1.1h-1.1zM292.2 157.6h1.1v1.1h-1.1zM298.3 157.6h1.1v1.1h-1.1zM318.4 157.6h1.1v1.1h-1.1zM320.4 157.6h1.1v1.1h-1.1zM297.3 158.6h1.1v1.1h-1.1zM314.4 158.6h3.1v1.1h-3.1zM296.2 159.6h1.1v1.1h-1.1zM312.3 159.6h1.1v1.1h-1.1zM318.4 159.6h1.1v1.1h-1.1zM327.4 159.6h1.1v1.1h-1.1zM292.2 160.6h1.1v1.1h-1.1zM295.2 160.6h2.1v1.1h-2.1zM293.2 161.6h1.1v1.1h-1.1zM295.2 161.6h1.1v1.1h-1.1zM327.4 161.6h1.1v1.1h-1.1zM292.2 162.6h1.1v1.1h-1.1zM295.2 162.6h1.1v1.1h-1.1zM315.4 162.6h1.1v1.1h-1.1zM326.4 162.6h1.1v1.1h-1.1zM293.2 163.5h1.1v1.1h-1.1zM320.4 163.5h1.1v1.1h-1.1zM323.4 163.5h3.1v1.1h-3.1zM290.2 164.5h1.1v1.1h-1.1zM294.2 164.5h1.1v1.1h-1.1zM290.2 165.5h1.1v1.1h-1.1zM326.4 165.5h1.1v1.1h-1.1zM299.3 167.5h1.1v1.1h-1.1zM318.4 167.5h1.1v1.1h-1.1zM300.3 168.5h1.1v1.1h-1.1zM318.4 168.5h1.1v1.1h-1.1zM326.4 169.5h1.1v1.1h-1.1zM298.3 170.5h2.1v1.1h-2.1zM324.4 170.5h1.1v1.1h-1.1zM299.3 171.5h2.1v1.1h-2.1zM293.2 172.5h1.1v1.1h-1.1zM299.3 172.5h2.1v1.1h-2.1zM313.4 172.5h1.1v1.1h-1.1zM326.4 172.5h2.1v1.1h-2.1zM323.4 173.5h2.1v1.1h-2.1zM328.5 173.5h1.1v1.1h-1.1zM307.3 175.5h1.1v1.1h-1.1zM322.4 175.5h1.1v1.1h-1.1zM325.4 175.5h1.1v1.1h-1.1zM328.5 175.5h1.1v1.1h-1.1zM292.2 176.5h1.1v1.1h-1.1zM306.3 176.5h1.1v1.1h-1.1zM316.4 176.5h1.1v1.1h-1.1zM295.2 177.5h1.1v1.1h-1.1zM300.3 178.5h1.1v1.1h-1.1zM316.4 179.5h1.1v1.1h-1.1zM327.4 179.5h1.1v1.1h-1.1zM292.2 180.5h1.1v1.1h-1.1zM311.3 180.5h1.1v1.1h-1.1zM327.4 180.5h1.1v1.1h-1.1zM313.4 181.4h1.1v1.1h-1.1zM316.4 181.4h1.1v1.1h-1.1zM343.5 183.4h1.1v1.1h-1.1zM296.2 184.4h1.1v1.1h-1.1zM303.3 184.4h3.1v1.1h-3.1zM321.4 184.4h1.1v1.1h-1.1zM324.4 184.4h2.1v1.1h-2.1zM347.6 184.4h1.1v1.1h-1.1zM298.3 185.4h1.1v1.1h-1.1zM320.4 185.4h1.1v1.1h-1.1zM324.4 185.4h1.1v1.1h-1.1zM348.6 185.4h1.1v1.1h-1.1zM319.4 186.4h3.1v1.1h-3.1zM291.2 187.4h1.1v1.1h-1.1zM295.2 187.4h1.1v1.1h-1.1zM348.6 187.4h1.1v1.1h-1.1zM340.5 188.4h1.1v1.1h-1.1zM347.6 188.4h1.1v1.1h-1.1z"/>
<path fill="#00b2ff" d="M315.4 155.6h2.1v1.1h-2.1zM302.3 156.6h1.1v1.1h-1.1zM306.3 156.6h5.1v1.1h-5.1zM317.4 156.6h1.1v1.1h-1.1zM347.6 156.6h1.1v1.1h-1.1zM293.2 157.6h1.1v1.1h-1.1zM296.2 157.6h1.1v1.1h-1.1zM300.3 157.6h1.1v1.1h-1.1zM313.4 157.6h1.1v1.1h-1.1zM317.4 157.6h1.1v1.1h-1.1zM321.4 157.6h1.1v1.1h-1.1zM324.4 157.6h1.1v1.1h-1.1zM296.2 158.6h1.1v1.1h-1.1zM293.2 159.6h3.1v1.1h-3.1zM304.3 159.6h2.1v1.1h-2.1zM309.3 159.6h2.1v1.1h-2.1zM301.3 160.6h1.1v1.1h-1.1zM297.3 161.6h1.1v1.1h-1.1zM320.4 162.6h1.1v1.1h-1.1zM322.4 162.6h4.1v1.1h-4.1zM321.4 163.5h1.1v1.1h-1.1zM291.2 164.5h2.1v1.1h-2.1zM295.2 164.5h1.1v1.1h-1.1zM291.2 165.5h1.1v1.1h-1.1zM317.4 165.5h1.1v1.1h-1.1zM291.2 166.5h1.1v1.1h-1.1zM301.3 167.5h1.1v1.1h-1.1zM297.3 168.5h2.1v1.1h-2.1zM317.4 168.5h1.1v1.1h-1.1zM297.3 169.5h2.1v1.1h-2.1zM297.3 170.5h1.1v1.1h-1.1zM310.3 170.5h1.1v1.1h-1.1zM323.4 170.5h1.1v1.1h-1.1zM296.2 171.5h1.1v1.1h-1.1zM301.3 171.5h1.1v1.1h-1.1zM309.3 171.5h1.1v1.1h-1.1zM313.4 171.5h1.1v1.1h-1.1zM302.3 173.5h1.1v1.1h-1.1zM313.4 173.5h1.1v1.1h-1.1zM322.4 173.5h1.1v1.1h-1.1zM286.2 174.5h4.1v1.1h-4.1zM297.3 174.5h1.1v1.1h-1.1zM308.3 174.5h1.1v1.1h-1.1zM322.4 174.5h1.1v1.1h-1.1zM320.4 175.5h1.1v1.1h-1.1zM301.3 176.5h1.1v1.1h-1.1zM326.4 176.5h1.1v1.1h-1.1zM292.2 177.5h1.1v1.1h-1.1zM327.4 177.5h1.1v1.1h-1.1zM296.2 178.5h1.1v1.1h-1.1zM298.3 178.5h1.1v1.1h-1.1zM327.4 178.5h1.1v1.1h-1.1zM292.2 179.5h1.1v1.1h-1.1zM326.4 179.5h1.1v1.1h-1.1zM286.2 182.4h4.1v1.1h-4.1zM294.2 184.4h1.1v1.1h-1.1zM339.5 185.4h1.1v1.1h-1.1zM348.6 186.4h1.1v1.1h-1.1z"/>
<path fill="#0099ff" d="M348.6 155.6h1.1v1.1h-1.1zM294.2 156.6h3.1v1.1h-3.1zM301.3 156.6h1.1v1.1h-1.1zM311.3 156.6h3.1v1.1h-3.1zM297.3 157.6h1.1v1.1h-1.1zM299.3 157.6h1.1v1.1h-1.1zM292.2 158.6h1.1v1.1h-1.1zM300.3 158.6h1.1v1.1h-1.1zM313.4 158.6h1.1v1.1h-1.1zM319.4 158.6h1.1v1.1h-1.1zM326.4 158.6h1.1v1.1h-1.1zM292.2 159.6h1.1v1.1h-1.1zM308.3 159.6h1.1v1.1h-1.1zM311.3 159.6h1.1v1.1h-1.1zM293.2 160.6h2.1v1.1h-2.1zM307.3 160.6h1.1v1.1h-1.1zM317.4 160.6h1.1v1.1h-1.1zM327.4 160.6h1.1v1.1h-1.1zM296.2 161.6h1.1v1.1h-1.1zM307.3 161.6h1.1v1.1h-1.1zM291.2 163.5h2.1v1.1h-2.1zM295.2 163.5h1.1v1.1h-1.1zM293.2 164.5h1.1v1.1h-1.1zM325.4 164.5h1.1v1.1h-1.1zM300.3 167.5h1.1v1.1h-1.1zM311.3 170.5h1.1v1.1h-1.1zM297.3 171.5h1.1v1.1h-1.1zM322.4 171.5h1.1v1.1h-1.1zM294.2 172.5h2.1v1.1h-2.1zM301.3 172.5h1.1v1.1h-1.1zM322.4 172.5h1.1v1.1h-1.1zM299.3 173.5h1.1v1.1h-1.1zM301.3 173.5h1.1v1.1h-1.1zM306.3 173.5h3.1v1.1h-3.1zM290.2 174.5h1.1v1.1h-1.1zM305.3 174.5h1.1v1.1h-1.1zM309.3 174.5h1.1v1.1h-1.1zM312.3 174.5h1.1v1.1h-1.1zM325.4 174.5h1.1v1.1h-1.1zM328.5 174.5h1.1v1.1h-1.1zM302.3 175.5h1.1v1.1h-1.1zM321.4 175.5h1.1v1.1h-1.1zM306.3 177.5h1.1v1.1h-1.1zM326.4 177.5h1.1v1.1h-1.1zM297.3 178.5h1.1v1.1h-1.1zM299.3 178.5h1.1v1.1h-1.1zM301.3 178.5h1.1v1.1h-1.1zM325.4 178.5h1.1v1.1h-1.1zM308.3 179.5h1.1v1.1h-1.1zM325.4 179.5h1.1v1.1h-1.1zM312.3 180.5h1.1v1.1h-1.1zM316.4 180.5h1.1v1.1h-1.1zM314.4 181.4h2.1v1.1h-2.1zM290.2 182.4h1.1v1.1h-1.1zM292.2 184.4h2.1v1.1h-2.1zM295.2 184.4h1.1v1.1h-1.1zM322.4 184.4h2.1v1.1h-2.1zM340.5 184.4h1.1v1.1h-1.1zM290.2 185.4h1.1v1.1h-1.1zM297.3 185.4h1.1v1.1h-1.1zM321.4 185.4h3.1v1.1h-3.1zM290.2 186.4h1.1v1.1h-1.1zM297.3 186.4h1.1v1.1h-1.1zM292.2 187.4h3.1v1.1h-3.1zM339.5 187.4h1.1v1.1h-1.1z"/>
<path fill="#00e5ff" d="M349.6 155.6h1.1v1.1h-1.1zM315.4 156.6h2.1v1.1h-2.1zM301.3 157.6h1.1v1.1h-1.1zM311.3 157.6h1.1v1.1h-1.1zM315.4 157.6h1.1v1.1h-1.1zM322.4 157.6h1.1v1.1h-1.1zM301.3 158.6h1.1v1.1h-1.1zM308.3 158.6h1.1v1.1h-1.1zM310.3 158.6h2.1v1.1h-2.1zM302.3 159.6h1.1v1.1h-1.1zM306.3 159.6h1.1v1.1h-1.1zM319.4 159.6h1.1v1.1h-1.1zM347.6 160.6h1.1v1.1h-1.1zM299.3 161.6h1.1v1.1h-1.1zM301.3 161.6h1.1v1.1h-1.1zM348.6 161.6h1.1v1.1h-1.1zM308.3 163.5h1.1v1.1h-1.1zM315.4 163.5h1.1v1.1h-1.1zM310.3 164.5h1.1v1.1h-1.1zM322.4 164.5h2.1v1.1h-2.1zM293.2 165.5h3.1v1.1h-3.1zM319.4 165.5h1.1v1.1h-1.1zM295.2 166.5h1.1v1.1h-1.1zM300.3 166.5h1.1v1.1h-1.1zM302.3 166.5h1.1v1.1h-1.1zM291.2 167.5h1.1v1.1h-1.1zM296.2 167.5h3.1v1.1h-3.1zM315.4 167.5h1.1v1.1h-1.1zM319.4 167.5h1.1v1.1h-1.1zM319.4 168.5h1.1v1.1h-1.1zM326.4 168.5h1.1v1.1h-1.1zM300.3 169.5h1.1v1.1h-1.1zM325.4 169.5h1.1v1.1h-1.1zM301.3 170.5h1.1v1.1h-1.1zM322.4 170.5h1.1v1.1h-1.1zM292.2 171.5h1.1v1.1h-1.1zM302.3 172.5h2.1v1.1h-2.1zM299.3 174.5h1.1v1.1h-1.1zM302.3 174.5h2.1v1.1h-2.1zM321.4 174.5h1.1v1.1h-1.1zM317.4 175.5h1.1v1.1h-1.1zM319.4 175.5h1.1v1.1h-1.1zM307.3 176.5h1.1v1.1h-1.1zM315.4 177.5h1.1v1.1h-1.1zM314.4 180.5h1.1v1.1h-1.1zM346.6 184.4h1.1v1.1h-1.1zM295.2 186.4h1.1v1.1h-1.1z"/>
<path fill="#00ccff" d="M350.6 155.6h4.1v1.1h-4.1zM303.3 156.6h3.1v1.1h-3.1zM314.4 156.6h1.1v1.1h-1.1zM294.2 157.6h2.1v1.1h-2.1zM312.3 157.6h1.1v1.1h-1.1zM314.4 157.6h1.1v1.1h-1.1zM316.4 157.6h1.1v1.1h-1.1zM323.4 157.6h1.1v1.1h-1.1zM293.2 158.6h3.1v1.1h-3.1zM312.3 158.6h1.1v1.1h-1.1zM301.3 159.6h1.1v1.1h-1.1zM303.3 159.6h1.1v1.1h-1.1zM307.3 159.6h1.1v1.1h-1.1zM318.4 160.6h1.1v1.1h-1.1zM298.3 161.6h1.1v1.1h-1.1zM300.3 161.6h1.1v1.1h-1.1zM319.4 161.6h1.1v1.1h-1.1zM326.4 161.6h1.1v1.1h-1.1zM296.2 162.6h1.1v1.1h-1.1zM302.3 162.6h1.1v1.1h-1.1zM306.3 162.6h2.1v1.1h-2.1zM321.4 162.6h1.1v1.1h-1.1zM303.3 163.5h2.1v1.1h-2.1zM311.3 163.5h1.1v1.1h-1.1zM316.4 164.5h1.1v1.1h-1.1zM320.4 164.5h1.1v1.1h-1.1zM324.4 164.5h1.1v1.1h-1.1zM292.2 165.5h1.1v1.1h-1.1zM302.3 165.5h1.1v1.1h-1.1zM301.3 166.5h1.1v1.1h-1.1zM318.4 166.5h1.1v1.1h-1.1zM326.4 166.5h1.1v1.1h-1.1zM317.4 167.5h1.1v1.1h-1.1zM317.4 169.5h2.1v1.1h-2.1zM291.2 170.5h1.1v1.1h-1.1zM296.2 170.5h1.1v1.1h-1.1zM300.3 170.5h1.1v1.1h-1.1zM295.2 171.5h1.1v1.1h-1.1zM308.3 172.5h1.1v1.1h-1.1zM300.3 173.5h1.1v1.1h-1.1zM303.3 173.5h1.1v1.1h-1.1zM325.4 173.5h1.1v1.1h-1.1zM327.4 173.5h1.1v1.1h-1.1zM298.3 174.5h1.1v1.1h-1.1zM291.2 175.5h1.1v1.1h-1.1zM296.2 175.5h1.1v1.1h-1.1zM301.3 175.5h1.1v1.1h-1.1zM316.4 175.5h1.1v1.1h-1.1zM326.4 175.5h1.1v1.1h-1.1zM327.4 176.5h1.1v1.1h-1.1zM301.3 177.5h1.1v1.1h-1.1zM292.2 178.5h1.1v1.1h-1.1zM307.3 178.5h1.1v1.1h-1.1zM315.4 178.5h1.1v1.1h-1.1zM326.4 178.5h1.1v1.1h-1.1zM309.3 179.5h1.1v1.1h-1.1zM315.4 179.5h1.1v1.1h-1.1zM313.4 180.5h1.1v1.1h-1.1zM315.4 180.5h1.1v1.1h-1.1zM291.2 181.4h1.1v1.1h-1.1zM291.2 185.4h1.1v1.1h-1.1zM296.2 185.4h1.1v1.1h-1.1zM291.2 186.4h1.1v1.1h-1.1zM296.2 186.4h1.1v1.1h-1.1zM339.5 186.4h1.1v1.1h-1.1zM341.5 188.4h1.1v1.1h-1.1zM346.6 188.4h1.1v1.1h-1.1z"/>
<path fill="#66ff99" d="M348.6 156.6h1.1v1.1h-1.1zM305.3 158.6h1.1v1.1h-1.1zM321.4 158.6h1.1v1.1h-1.1zM324.4 158.6h1.1v1.1h-1.1zM347.6 158.6h1.1v1.1h-1.1zM320.4 159.6h1.1v1.1h-1.1zM322.4 161.6h3.1v1.1h-3.1zM298.3 162.6h2.1v1.1h-2.1zM297.3 163.5h1.1v1.1h-1.1zM301.3 163.5h1.1v1.1h-1.1zM307.3 163.5h1.1v1.1h-1.1zM297.3 164.5h1.1v1.1h-1.1zM304.3 164.5h1.1v1.1h-1.1zM315.4 164.5h1.1v1.1h-1.1zM298.3 165.5h1.1v1.1h-1.1zM300.3 165.5h1.1v1.1h-1.1zM309.3 165.5h1.1v1.1h-1.1zM320.4 165.5h1.1v1.1h-1.1zM309.3 166.5h1.1v1.1h-1.1zM292.2 167.5h2.1v1.1h-2.1zM305.3 167.5h1.1v1.1h-1.1zM311.3 167.5h1.1v1.1h-1.1zM295.2 168.5h1.1v1.1h-1.1zM302.3 168.5h1.1v1.1h-1.1zM311.3 168.5h1.1v1.1h-1.1zM320.4 168.5h1.1v1.1h-1.1zM305.3 169.5h1.1v1.1h-1.1zM313.4 169.5h1.1v1.1h-1.1zM321.4 169.5h1.1v1.1h-1.1zM292.2 170.5h3.1v1.1h-3.1zM314.4 170.5h1.1v1.1h-1.1zM314.4 174.5h1.1v1.1h-1.1zM299.3 175.5h1.1v1.1h-1.1zM314.4 175.5h1.1v1.1h-1.1zM300.3 176.5h1.1v1.1h-1.1zM308.3 176.5h1.1v1.1h-1.1zM343.5 184.4h2.1v1.1h-2.1zM340.5 186.4h1.1v1.1h-1.1zM346.6 187.4h1.1v1.1h-1.1z"/>
<path fill="#ccff33" d="M349.6 156.6h1.1v1.1h-1.1zM321.4 159.6h1.1v1.1h-1.1zM305.3 164.5h1.1v1.1h-1.1zM307.3 165.5h1.1v1.1h-1.1zM323.4 165.5h1.1v1.1h-1.1zM306.3 166.5h1.1v1.1h-1.1zM306.3 168.5h1.1v1.1h-1.1zM304.3 169.5h1.1v1.1h-1.1zM307.3 170.5h1.1v1.1h-1.1zM307.3 171.5h1.1v1.1h-1.1zM319.4 171.5h1.1v1.1h-1.1zM298.3 176.5h2.1v1.1h-2.1zM291.2 177.5h1.1v1.1h-1.1zM310.3 178.5h2.1v1.1h-2.1zM291.2 179.5h1.1v1.1h-1.1zM346.6 186.4h1.1v1.1h-1.1zM345.6 187.4h1.1v1.1h-1.1z"/>
<path fill="#b3ff4c" d="M350.6 156.6h4.1v1.1h-4.1zM321.4 160.6h1.1v1.1h-1.1zM348.6 160.6h1.1v1.1h-1.1zM298.3 163.5h2.1v1.1h-2.1zM298.3 164.5h2.1v1.1h-2.1zM312.3 164.5h1.1v1.1h-1.1zM310.3 165.5h1.1v1.1h-1.1zM322.4 165.5h1.1v1.1h-1.1zM308.3 167.5h1.1v1.1h-1.1zM325.4 167.5h1.1v1.1h-1.1zM303.3 168.5h1.1v1.1h-1.1zM310.3 168.5h1.1v1.1h-1.1zM293.2 169.5h2.1v1.1h-2.1zM307.3 169.5h1.1v1.1h-1.1zM306.3 170.5h1.1v1.1h-1.1zM317.4 171.5h1.1v1.1h-1.1zM320.4 172.5h1.1v1.1h-1.1zM318.4 174.5h1.1v1.1h-1.1zM313.4 175.5h1.1v1.1h-1.1zM297.3 176.5h1.1v1.1h-1.1zM312.3 178.5h1.1v1.1h-1.1z"/>
<path fill="#1affe5" d="M302.3 157.6h1.1v1.1h-1.1zM325.4 158.6h1.1v1.1h-1.1zM325.4 161.6h1.1v1.1h-1.1zM350.6 161.6h4.1v1.1h-4.1zM297.3 162.6h1.1v1.1h-1.1zM302.3 163.5h1.1v1.1h-1.1zM309.3 164.5h1.1v1.1h-1.1zM296.2 165.5h1.1v1.1h-1.1zM301.3 165.5h1.1v1.1h-1.1zM303.3 165.5h1.1v1.1h-1.1zM292.2 166.5h1.1v1.1h-1.1zM294.2 166.5h1.1v1.1h-1.1zM296.2 166.5h1.1v1.1h-1.1zM298.3 166.5h1.1v1.1h-1.1zM304.3 166.5h1.1v1.1h-1.1zM317.4 166.5h1.1v1.1h-1.1zM319.4 166.5h1.1v1.1h-1.1zM295.2 167.5h1.1v1.1h-1.1zM291.2 168.5h1.1v1.1h-1.1zM312.3 168.5h2.1v1.1h-2.1zM316.4 168.5h1.1v1.1h-1.1zM296.2 169.5h1.1v1.1h-1.1zM316.4 169.5h1.1v1.1h-1.1zM315.4 170.5h2.1v1.1h-2.1zM293.2 171.5h1.1v1.1h-1.1zM314.4 171.5h1.1v1.1h-1.1zM304.3 172.5h1.1v1.1h-1.1zM306.3 172.5h2.1v1.1h-2.1zM321.4 172.5h1.1v1.1h-1.1zM304.3 173.5h1.1v1.1h-1.1zM321.4 173.5h1.1v1.1h-1.1zM313.4 174.5h1.1v1.1h-1.1zM300.3 175.5h1.1v1.1h-1.1zM296.2 176.5h1.1v1.1h-1.1zM300.3 177.5h1.1v1.1h-1.1zM307.3 177.5h1.1v1.1h-1.1zM311.3 179.5h2.1v1.1h-2.1zM314.4 179.5h1.1v1.1h-1.1zM293.2 185.4h2.1v1.1h-2.1zM293.2 186.4h2.1v1.1h-2.1zM340.5 187.4h1.1v1.1h-1.1zM342.5 188.4h1.1v1.1h-1.1z"/>
<path fill="#4dffb2" d="M303.3 157.6h2.1v1.1h-2.1zM302.3 158.6h1.1v1.1h-1.1zM347.6 159.6h1.1v1.1h-1.1zM320.4 161.6h2.1v1.1h-2.1zM300.3 162.6h1.1v1.1h-1.1zM312.3 163.5h2.1v1.1h-2.1zM301.3 164.5h1.1v1.1h-1.1zM314.4 164.5h1.1v1.1h-1.1zM297.3 165.5h1.1v1.1h-1.1zM304.3 165.5h2.1v1.1h-2.1zM314.4 165.5h1.1v1.1h-1.1zM316.4 165.5h1.1v1.1h-1.1zM293.2 166.5h1.1v1.1h-1.1zM303.3 166.5h1.1v1.1h-1.1zM305.3 166.5h1.1v1.1h-1.1zM314.4 166.5h1.1v1.1h-1.1zM303.3 167.5h1.1v1.1h-1.1zM309.3 167.5h1.1v1.1h-1.1zM312.3 167.5h2.1v1.1h-2.1zM305.3 168.5h1.1v1.1h-1.1zM301.3 169.5h1.1v1.1h-1.1zM315.4 169.5h1.1v1.1h-1.1zM324.4 169.5h1.1v1.1h-1.1zM303.3 170.5h1.1v1.1h-1.1zM318.4 170.5h2.1v1.1h-2.1zM304.3 171.5h1.1v1.1h-1.1zM316.4 171.5h1.1v1.1h-1.1zM315.4 172.5h1.1v1.1h-1.1zM314.4 173.5h2.1v1.1h-2.1zM290.2 175.5h1.1v1.1h-1.1zM291.2 176.5h1.1v1.1h-1.1zM297.3 177.5h2.1v1.1h-2.1zM314.4 178.5h1.1v1.1h-1.1zM291.2 180.5h1.1v1.1h-1.1zM290.2 181.4h1.1v1.1h-1.1z"/>
<path fill="#33ffcc" d="M305.3 157.6h1.1v1.1h-1.1zM347.6 157.6h1.1v1.1h-1.1zM306.3 158.6h1.1v1.1h-1.1zM319.4 160.6h1.1v1.1h-1.1zM349.6 161.6h1.1v1.1h-1.1zM301.3 162.6h1.1v1.1h-1.1zM305.3 163.5h1.1v1.1h-1.1zM314.4 163.5h1.1v1.1h-1.1zM315.4 165.5h1.1v1.1h-1.1zM297.3 166.5h1.1v1.1h-1.1zM316.4 166.5h1.1v1.1h-1.1zM294.2 167.5h1.1v1.1h-1.1zM314.4 167.5h1.1v1.1h-1.1zM304.3 168.5h1.1v1.1h-1.1zM309.3 168.5h1.1v1.1h-1.1zM291.2 169.5h1.1v1.1h-1.1zM314.4 169.5h1.1v1.1h-1.1zM320.4 169.5h1.1v1.1h-1.1zM295.2 170.5h1.1v1.1h-1.1zM317.4 170.5h1.1v1.1h-1.1zM320.4 170.5h1.1v1.1h-1.1zM314.4 172.5h1.1v1.1h-1.1zM305.3 173.5h1.1v1.1h-1.1zM315.4 174.5h2.1v1.1h-2.1zM320.4 174.5h1.1v1.1h-1.1zM297.3 175.5h1.1v1.1h-1.1zM296.2 177.5h1.1v1.1h-1.1zM299.3 177.5h1.1v1.1h-1.1zM308.3 178.5h1.1v1.1h-1.1zM313.4 179.5h1.1v1.1h-1.1zM342.5 184.4h1.1v1.1h-1.1zM345.6 184.4h1.1v1.1h-1.1zM340.5 185.4h1.1v1.1h-1.1zM347.6 186.4h1.1v1.1h-1.1zM343.5 188.4h2.1v1.1h-2.1z"/>
<path fill="#00ffff" d="M306.3 157.6h5.1v1.1h-5.1zM307.3 158.6h1.1v1.1h-1.1zM309.3 158.6h1.1v1.1h-1.1zM320.4 158.6h1.1v1.1h-1.1zM326.4 159.6h1.1v1.1h-1.1zM326.4 160.6h1.1v1.1h-1.1zM296.2 163.5h1.1v1.1h-1.1zM296.2 164.5h1.1v1.1h-1.1zM302.3 164.5h2.1v1.1h-2.1zM321.4 164.5h1.1v1.1h-1.1zM325.4 165.5h1.1v1.1h-1.1zM299.3 166.5h1.1v1.1h-1.1zM315.4 166.5h1.1v1.1h-1.1zM302.3 167.5h1.1v1.1h-1.1zM304.3 167.5h1.1v1.1h-1.1zM316.4 167.5h1.1v1.1h-1.1zM326.4 167.5h1.1v1.1h-1.1zM296.2 168.5h1.1v1.1h-1.1zM301.3 168.5h1.1v1.1h-1.1zM314.4 168.5h2.1v1.1h-2.1zM319.4 169.5h1.1v1.1h-1.1zM302.3 170.5h1.1v1.1h-1.1zM312.3 170.5h1.1v1.1h-1.1zM321.4 170.5h1.1v1.1h-1.1zM294.2 171.5h1.1v1.1h-1.1zM302.3 171.5h2.1v1.1h-2.1zM315.4 171.5h1.1v1.1h-1.1zM321.4 171.5h1.1v1.1h-1.1zM326.4 173.5h1.1v1.1h-1.1zM300.3 174.5h2.1v1.1h-2.1zM304.3 174.5h1.1v1.1h-1.1zM326.4 174.5h2.1v1.1h-2.1zM308.3 175.5h1.1v1.1h-1.1zM315.4 175.5h1.1v1.1h-1.1zM318.4 175.5h1.1v1.1h-1.1zM327.4 175.5h1.1v1.1h-1.1zM315.4 176.5h1.1v1.1h-1.1zM310.3 179.5h1.1v1.1h-1.1zM341.5 184.4h1.1v1.1h-1.1zM292.2 185.4h1.1v1.1h-1.1zM295.2 185.4h1.1v1.1h-1.1zM347.6 185.4h1.1v1.1h-1.1zM292.2 186.4h1.1v1.1h-1.1zM347.6 187.4h1.1v1.1h-1.1zM345.6 188.4h1.1v1.1h-1.1z"/>
<path fill="#ffe500" d="M348.6 157.6h1.1v1.1h-1.1zM324.4 166.5h1.1v1.1h-1.1zM305.3 170.5h1.1v1.1h-1.1zM305.3 171.5h1.1v1.1h-1.1zM318.4 172.5h1.1v1.1h-1.1zM318.4 173.5h1.1v1.1h-1.1zM290.2 176.5h1.1v1.1h-1.1zM310.3 177.5h2.1v1.1h-2.1zM290.2 180.5h1.1v1.1h-1.1zM344.6 185.4h1.1v1.1h-1.1zM343.5 187.4h1.1v1.1h-1.1z"/>
<path fill="#ff6600" d="M349.6 157.6h1.1v1.1h-1.1zM350.6 159.6h4.1v1.1h-4.1zM323.4 167.5h1.1v1.1h-1.1zM290.2 177.5h1.1v1.1h-1.1zM290.2 179.5h1.1v1.1h-1.1z"/>
<path fill="#ff8000" d="M350.6 157.6h4.1v1.1h-4.1zM322.4 167.5h1.1v1.1h-1.1z"/>
<path fill="#80ff80" d="M303.3 158.6h2.1v1.1h-2.1zM325.4 159.6h1.1v1.1h-1.1zM320.4 160.6h1.1v1.1h-1.1zM325.4 160.6h1.1v1.1h-1.1zM311.3 164.5h1.1v1.1h-1.1zM313.4 164.5h1.1v1.1h-1.1zM299.3 165.5h1.1v1.1h-1.1zM321.4 165.5h1.1v1.1h-1.1zM324.4 165.5h1.1v1.1h-1.1zM320.4 166.5h1.1v1.1h-1.1zM325.4 166.5h1.1v1.1h-1.1zM325.4 168.5h1.1v1.1h-1.1zM295.2 169.5h1.1v1.1h-1.1zM302.3 169.5h1.1v1.1h-1.1zM308.3 169.5h2.1v1.1h-2.1zM323.4 169.5h1.1v1.1h-1.1zM309.3 170.5h1.1v1.1h-1.1zM313.4 170.5h1.1v1.1h-1.1zM320.4 171.5h1.1v1.1h-1.1zM305.3 172.5h1.1v1.1h-1.1zM317.4 174.5h1.1v1.1h-1.1zM286.2 175.5h4.1v1.1h-4.1zM298.3 175.5h1.1v1.1h-1.1zM309.3 175.5h3.1v1.1h-3.1zM314.4 176.5h1.1v1.1h-1.1zM314.4 177.5h1.1v1.1h-1.1zM286.2 181.4h4.1v1.1h-4.1zM346.6 185.4h1.1v1.1h-1.1z"/>
<path fill="#99ff66" d="M322.4 158.6h2.1v1.1h-2.1zM300.3 163.5h1.1v1.1h-1.1zM306.3 163.5h1.1v1.1h-1.1zM300.3 164.5h1.1v1.1h-1.1zM308.3 164.5h1.1v1.1h-1.1zM306.3 165.5h1.1v1.1h-1.1zM308.3 165.5h1.1v1.1h-1.1zM311.3 165.5h3.1v1.1h-3.1zM308.3 166.5h1.1v1.1h-1.1zM311.3 166.5h3.1v1.1h-3.1zM320.4 167.5h1.1v1.1h-1.1zM292.2 168.5h3.1v1.1h-3.1zM308.3 168.5h1.1v1.1h-1.1zM292.2 169.5h1.1v1.1h-1.1zM306.3 169.5h1.1v1.1h-1.1zM310.3 169.5h3.1v1.1h-3.1zM322.4 169.5h1.1v1.1h-1.1zM308.3 171.5h1.1v1.1h-1.1zM316.4 172.5h1.1v1.1h-1.1zM316.4 173.5h1.1v1.1h-1.1zM320.4 173.5h1.1v1.1h-1.1zM319.4 174.5h1.1v1.1h-1.1zM312.3 175.5h1.1v1.1h-1.1zM308.3 177.5h1.1v1.1h-1.1zM309.3 178.5h1.1v1.1h-1.1zM313.4 178.5h1.1v1.1h-1.1zM341.5 185.4h1.1v1.1h-1.1zM341.5 187.4h1.1v1.1h-1.1z"/>
<path fill="#ff9900" d="M348.6 158.6h1.1v1.1h-1.1zM322.4 166.5h2.1v1.1h-2.1zM343.5 186.4h1.1v1.1h-1.1z"/>
<path fill="#ff1a00" d="M349.6 158.6h1.1v1.1h-1.1zM286.2 177.5h4.1v1.1h-4.1zM286.2 179.5h4.1v1.1h-4.1z"/>
<path fill="#ff3300" d="M350.6 158.6h4.1v1.1h-4.1zM349.6 159.6h1.1v1.1h-1.1zM290.2 178.5h1.1v1.1h-1.1z"/>
<path fill="#e5ff1a" d="M322.4 159.6h1.1v1.1h-1.1zM324.4 159.6h1.1v1.1h-1.1zM322.4 160.6h1.1v1.1h-1.1zM324.4 160.6h1.1v1.1h-1.1zM306.3 164.5h2.1v1.1h-2.1zM306.3 167.5h1.1v1.1h-1.1zM310.3 167.5h1.1v1.1h-1.1zM307.3 168.5h1.1v1.1h-1.1zM303.3 169.5h1.1v1.1h-1.1zM304.3 170.5h1.1v1.1h-1.1zM308.3 170.5h1.1v1.1h-1.1zM306.3 171.5h1.1v1.1h-1.1zM318.4 171.5h1.1v1.1h-1.1zM317.4 173.5h1.1v1.1h-1.1zM309.3 176.5h1.1v1.1h-1.1zM313.4 176.5h1.1v1.1h-1.1zM309.3 177.5h1.1v1.1h-1.1zM313.4 177.5h1.1v1.1h-1.1zM291.2 178.5h1.1v1.1h-1.1zM345.6 185.4h1.1v1.1h-1.1zM341.5 186.4h1.1v1.1h-1.1zM342.5 187.4h1.1v1.1h-1.1z"/>
<path fill="#ffff00" d="M323.4 159.6h1.1v1.1h-1.1zM323.4 160.6h1.1v1.1h-1.1zM350.6 160.6h4.1v1.1h-4.1zM307.3 166.5h1.1v1.1h-1.1zM310.3 166.5h1.1v1.1h-1.1zM321.4 166.5h1.1v1.1h-1.1zM307.3 167.5h1.1v1.1h-1.1zM321.4 168.5h1.1v1.1h-1.1zM324.4 168.5h1.1v1.1h-1.1zM317.4 172.5h1.1v1.1h-1.1zM319.4 172.5h1.1v1.1h-1.1zM319.4 173.5h1.1v1.1h-1.1zM312.3 176.5h1.1v1.1h-1.1zM312.3 177.5h1.1v1.1h-1.1zM342.5 185.4h1.1v1.1h-1.1zM344.6 187.4h1.1v1.1h-1.1z"/>
<path fill="#ffb300" d="M348.6 159.6h1.1v1.1h-1.1zM324.4 167.5h1.1v1.1h-1.1zM322.4 168.5h2.1v1.1h-2.1zM286.2 176.5h4.1v1.1h-4.1zM286.2 180.5h4.1v1.1h-4.1zM344.6 186.4h1.1v1.1h-1.1z"/>
<path fill="#ffcc00" d="M349.6 160.6h1.1v1.1h-1.1zM321.4 167.5h1.1v1.1h-1.1zM310.3 176.5h2.1v1.1h-2.1zM343.5 185.4h1.1v1.1h-1.1zM342.5 186.4h1.1v1.1h-1.1zM345.6 186.4h1.1v1.1h-1.1z"/>
<path fill="#0000cc" d="M336.5 168.5h2.1v1.1h-2.1zM339.5 168.5h6.1v1.1h-6.1zM336.5 169.5h11.2v1.1h-11.2zM336.5 170.5h2.1v1.1h-2.1zM342.5 170.5h6.1v1.1h-6.1zM336.5 171.5h1.1v1.1h-1.1zM342.5 171.5h4.1v1.1h-4.1zM336.5 172.5h1.1v1.1h-1.1zM341.5 172.5h2.1v1.1h-2.1zM336.5 173.5h1.1v1.1h-1.1zM341.5 173.5h1.1v1.1h-1.1zM336.5 174.5h5.1v1.1h-5.1zM330.5 175.5h3.1v1.1h-3.1zM330.5 176.5h2.1v1.1h-2.1zM330.5 177.5h2.1v1.1h-2.1zM332.5 183.4h3.1v1.1h-3.1zM332.5 184.4h3.1v1.1h-3.1z"/>
<path fill="#0000b2" d="M338.5 170.5h4.1v1.1h-4.1zM337.5 171.5h5.1v1.1h-5.1zM337.5 172.5h4.1v1.1h-4.1zM337.5 173.5h4.1v1.1h-4.1z"/>
<path fill="#ff0000" d="M286.2 178.5h4.1v1.1h-4.1z"/>
</g></g>
<rect x="289.2" y="154.6" width="62.4" height="35.8" fill="none" stroke="#999" stroke-width="0.25"/>
<text x="320.4" y="153.0" font-size="2.9" text-anchor="middle" style="font-family:'Liberation Sans',sans-serif;fill:#555;fill:#444">L2 error V</text>
<rect x="355.5" y="153.3" width="3.3" height="38.4" fill="url(#jetv)"/>
<text x="360.1" y="156.0" font-size="2.6" style="font-family:'Liberation Sans',sans-serif;fill:#555;fill:#333;stroke:#555;stroke-width:0.05">0.450</text>
<text x="360.1" y="159.9" font-size="2.6" style="font-family:'Liberation Sans',sans-serif;fill:#555;fill:#333;stroke:#555;stroke-width:0.05">0.350</text>
<text x="360.1" y="163.7" font-size="2.6" style="font-family:'Liberation Sans',sans-serif;fill:#555;fill:#333;stroke:#555;stroke-width:0.05">0.250</text>
<text x="360.1" y="167.5" font-size="2.6" style="font-family:'Liberation Sans',sans-serif;fill:#555;fill:#333;stroke:#555;stroke-width:0.05">0.150</text>
<text x="360.1" y="171.4" font-size="2.6" style="font-family:'Liberation Sans',sans-serif;fill:#555;fill:#333;stroke:#555;stroke-width:0.05">0.050</text>
<text x="360.1" y="175.2" font-size="2.6" style="font-family:'Liberation Sans',sans-serif;fill:#555;fill:#333;stroke:#555;stroke-width:0.05">-0.050</text>
<text x="360.1" y="179.1" font-size="2.6" style="font-family:'Liberation Sans',sans-serif;fill:#555;fill:#333;stroke:#555;stroke-width:0.05">-0.150</text>
<text x="360.1" y="182.9" font-size="2.6" style="font-family:'Liberation Sans',sans-serif;fill:#555;fill:#333;stroke:#555;stroke-width:0.05">-0.250</text>
<text x="360.1" y="186.7" font-size="2.6" style="font-family:'Liberation Sans',sans-serif;fill:#555;fill:#333;stroke:#555;stroke-width:0.05">-0.350</text>
<text x="360.1" y="190.6" font-size="2.6" style="font-family:'Liberation Sans',sans-serif;fill:#555;fill:#333;stroke:#555;stroke-width:0.05">-0.450</text>
<text x="287.0" y="155.4" font-size="2.3" text-anchor="end" style="font-family:'Liberation Sans',sans-serif;fill:#555">2</text>
<text x="287.0" y="164.3" font-size="2.3" text-anchor="end" style="font-family:'Liberation Sans',sans-serif;fill:#555">1</text>
<text x="287.0" y="173.3" font-size="2.3" text-anchor="end" style="font-family:'Liberation Sans',sans-serif;fill:#555">0</text>
<text x="287.0" y="182.2" font-size="2.3" text-anchor="end" style="font-family:'Liberation Sans',sans-serif;fill:#555">-1</text>
<text x="287.0" y="191.2" font-size="2.3" text-anchor="end" style="font-family:'Liberation Sans',sans-serif;fill:#555">-2</text>
<text x="289.2" y="193.6" font-size="2.3" text-anchor="middle" style="font-family:'Liberation Sans',sans-serif;fill:#555">0</text>
<text x="297.0" y="193.6" font-size="2.3" text-anchor="middle" style="font-family:'Liberation Sans',sans-serif;fill:#555">1</text>
<text x="304.8" y="193.6" font-size="2.3" text-anchor="middle" style="font-family:'Liberation Sans',sans-serif;fill:#555">2</text>
<text x="312.6" y="193.6" font-size="2.3" text-anchor="middle" style="font-family:'Liberation Sans',sans-serif;fill:#555">3</text>
<text x="320.4" y="193.6" font-size="2.3" text-anchor="middle" style="font-family:'Liberation Sans',sans-serif;fill:#555">4</text>
<text x="328.2" y="193.6" font-size="2.3" text-anchor="middle" style="font-family:'Liberation Sans',sans-serif;fill:#555">5</text>
<text x="336.0" y="193.6" font-size="2.3" text-anchor="middle" style="font-family:'Liberation Sans',sans-serif;fill:#555">6</text>
<text x="343.8" y="193.6" font-size="2.3" text-anchor="middle" style="font-family:'Liberation Sans',sans-serif;fill:#555">7</text>
<text x="351.6" y="193.6" font-size="2.3" text-anchor="middle" style="font-family:'Liberation Sans',sans-serif;fill:#555">8</text>
<text x="320.4" y="196.8" font-size="2.6" text-anchor="middle" style="font-family:'Liberation Sans',sans-serif;fill:#555">x</text>
<text x="283.7" y="173.3" font-size="2.6" text-anchor="middle" style="font-family:'Liberation Sans',sans-serif;fill:#555">y</text>
<clipPath id="cxp"><rect x="288.90" y="203.50" width="61.60" height="36.50"/></clipPath>
<g clip-path="url(#cxp)"><g filter="url(#bl2)" shape-rendering="crispEdges">
<path fill="#0000e6" d="M285.9 200.5h12.0v4.1h-12.0zM302.8 200.5h6.1v4.1h-6.1zM311.8 200.5h18.0v4.1h-18.0zM333.6 200.5h20.0v4.1h-20.0zM285.9 204.5h4.1v1.1h-4.1zM292.9 204.5h4.1v1.1h-4.1zM302.8 204.5h4.1v1.1h-4.1zM327.6 204.5h9.0v1.1h-9.0zM346.5 204.5h7.1v1.1h-7.1zM285.9 205.5h4.1v1.1h-4.1zM291.9 205.5h3.1v1.1h-3.1zM302.8 205.5h3.1v1.1h-3.1zM349.5 205.5h4.1v1.1h-4.1zM285.9 206.5h8.1v1.1h-8.1zM303.8 206.5h2.1v1.1h-2.1zM349.5 206.5h4.1v1.1h-4.1zM285.9 207.6h9.1v1.1h-9.1zM302.8 207.6h3.1v1.1h-3.1zM330.6 207.6h2.1v1.1h-2.1zM349.5 207.6h4.1v1.1h-4.1zM285.9 208.6h9.1v1.1h-9.1zM325.7 208.6h4.1v1.1h-4.1zM332.6 208.6h5.1v1.1h-5.1zM345.5 208.6h8.1v1.1h-8.1zM320.7 209.6h4.1v1.1h-4.1zM338.6 209.6h8.0v1.1h-8.0zM320.7 210.6h3.1v1.1h-3.1zM321.7 211.6h3.1v1.1h-3.1zM320.7 212.6h9.0v1.1h-9.0zM319.7 213.6h9.0v1.1h-9.0zM319.7 214.7h3.1v1.1h-3.1zM319.7 215.7h4.1v1.1h-4.1zM321.7 216.7h6.1v1.1h-6.1zM323.7 217.7h5.1v1.1h-5.1zM296.8 218.7h3.1v1.1h-3.1zM313.7 218.7h4.1v1.1h-4.1zM324.7 218.7h5.1v1.1h-5.1zM299.8 219.7h3.1v1.1h-3.1zM313.7 219.7h7.1v1.1h-7.1zM321.7 219.7h14.0v1.1h-14.0zM346.5 219.7h7.1v1.1h-7.1zM285.9 220.7h5.1v1.1h-5.1zM300.8 220.7h4.1v1.1h-4.1zM312.7 220.7h19.0v1.1h-19.0zM333.6 220.7h2.1v1.1h-2.1zM345.5 220.7h1.1v1.1h-1.1zM301.8 221.8h1.1v1.1h-1.1zM303.8 221.8h2.1v1.1h-2.1zM310.8 221.8h2.1v1.1h-2.1zM329.6 221.8h5.1v1.1h-5.1zM344.5 221.8h1.1v1.1h-1.1zM301.8 222.8h2.1v1.1h-2.1zM304.8 222.8h6.1v1.1h-6.1zM344.5 222.8h2.1v1.1h-2.1zM302.8 223.8h2.1v1.1h-2.1zM345.5 223.8h2.1v1.1h-2.1zM348.5 223.8h5.1v1.1h-5.1zM303.8 224.8h2.1v1.1h-2.1zM346.5 224.8h7.1v1.1h-7.1zM304.8 225.8h1.1v1.1h-1.1zM346.5 225.8h7.1v1.1h-7.1zM305.8 226.8h1.1v1.1h-1.1zM345.5 226.8h2.1v1.1h-2.1zM305.8 227.8h2.1v1.1h-2.1zM344.5 227.8h2.1v1.1h-2.1zM306.8 228.8h2.1v1.1h-2.1zM344.5 228.8h9.1v1.1h-9.1zM285.9 229.9h4.1v1.1h-4.1zM307.8 229.9h2.1v1.1h-2.1zM307.8 230.9h3.1v1.1h-3.1zM308.8 231.9h3.1v1.1h-3.1zM323.7 231.9h5.1v1.1h-5.1zM331.6 231.9h3.1v1.1h-3.1zM309.8 232.9h3.1v1.1h-3.1zM315.7 232.9h10.0v1.1h-10.0zM333.6 232.9h2.1v1.1h-2.1zM309.8 233.9h15.0v1.1h-15.0zM333.6 233.9h2.1v1.1h-2.1zM309.8 234.9h14.0v1.1h-14.0zM333.6 234.9h2.1v1.1h-2.1zM309.8 235.9h2.1v1.1h-2.1zM315.7 235.9h11.0v1.1h-11.0zM330.6 235.9h4.1v1.1h-4.1zM308.8 237.0h2.1v1.1h-2.1zM317.7 237.0h21.0v1.1h-21.0zM301.8 238.0h6.1v1.1h-6.1zM327.6 238.0h7.1v1.1h-7.1zM339.6 238.0h5.1v1.1h-5.1zM301.8 239.0h2.1v4.1h-2.1zM329.6 239.0h5.1v4.1h-5.1zM339.6 239.0h5.1v4.1h-5.1z"/>
<path fill="#0000cc" d="M297.8 200.5h5.1v4.1h-5.1zM329.6 200.5h4.1v4.1h-4.1zM296.8 204.5h6.1v1.1h-6.1zM294.9 205.5h8.0v1.1h-8.0zM293.9 206.5h10.0v1.1h-10.0zM294.9 207.6h8.0v1.1h-8.0zM329.6 208.6h3.1v1.1h-3.1zM324.7 209.6h14.0v1.1h-14.0zM346.5 209.6h7.1v1.1h-7.1zM323.7 210.6h29.9v1.1h-29.9zM324.7 211.6h28.9v1.1h-28.9zM329.6 212.6h7.1v1.1h-7.1zM342.6 212.6h11.0v1.1h-11.0zM328.6 213.6h7.1v1.1h-7.1zM344.5 213.6h9.1v1.1h-9.1zM322.7 214.7h9.0v1.1h-9.0zM345.5 214.7h8.1v1.1h-8.1zM323.7 215.7h7.1v1.1h-7.1zM345.5 215.7h8.1v1.1h-8.1zM327.6 216.7h3.1v1.1h-3.1zM345.5 216.7h8.1v1.1h-8.1zM328.6 217.7h3.1v1.1h-3.1zM345.5 217.7h8.1v1.1h-8.1zM329.6 218.7h6.1v1.1h-6.1zM345.5 218.7h8.1v1.1h-8.1zM335.6 219.7h2.1v1.1h-2.1zM345.5 219.7h1.1v1.1h-1.1zM335.6 220.7h3.1v1.1h-3.1zM344.5 220.7h1.1v1.1h-1.1zM302.8 221.8h1.1v1.1h-1.1zM312.7 221.8h17.0v1.1h-17.0zM334.6 221.8h4.1v1.1h-4.1zM343.5 221.8h1.1v1.1h-1.1zM303.8 222.8h1.1v1.1h-1.1zM310.8 222.8h11.0v1.1h-11.0zM327.6 222.8h9.0v1.1h-9.0zM343.5 222.8h1.1v1.1h-1.1zM304.8 223.8h15.0v1.1h-15.0zM328.6 223.8h5.1v1.1h-5.1zM343.5 223.8h2.1v1.1h-2.1zM305.8 224.8h13.0v1.1h-13.0zM344.5 224.8h2.1v1.1h-2.1zM305.8 225.8h13.0v1.1h-13.0zM344.5 225.8h2.1v1.1h-2.1zM306.8 226.8h12.0v1.1h-12.0zM343.5 226.8h2.1v1.1h-2.1zM307.8 227.8h11.0v1.1h-11.0zM341.6 227.8h3.1v1.1h-3.1zM308.8 228.8h11.0v1.1h-11.0zM340.6 228.8h4.1v1.1h-4.1zM309.8 229.9h10.0v1.1h-10.0zM340.6 229.9h13.0v1.1h-13.0zM310.8 230.9h26.9v1.1h-26.9zM341.6 230.9h12.0v1.1h-12.0zM311.8 231.9h12.0v1.1h-12.0zM334.6 231.9h4.1v1.1h-4.1zM340.6 231.9h13.0v1.1h-13.0zM312.7 232.9h3.1v1.1h-3.1zM335.6 232.9h18.0v1.1h-18.0zM335.6 233.9h18.0v1.1h-18.0zM335.6 234.9h18.0v1.1h-18.0zM311.8 235.9h4.1v1.1h-4.1zM334.6 235.9h19.0v1.1h-19.0zM310.8 237.0h7.1v1.1h-7.1zM338.6 237.0h15.0v1.1h-15.0zM307.8 238.0h20.0v1.1h-20.0zM344.5 238.0h9.1v1.1h-9.1zM303.8 239.0h25.9v4.1h-25.9zM344.5 239.0h9.1v4.1h-9.1z"/>
<path fill="#0000ff" d="M308.8 200.5h3.1v4.1h-3.1zM289.9 204.5h3.1v1.1h-3.1zM306.8 204.5h3.1v1.1h-3.1zM311.8 204.5h8.0v1.1h-8.0zM323.7 204.5h4.1v1.1h-4.1zM336.6 204.5h10.0v1.1h-10.0zM289.9 205.5h2.1v1.1h-2.1zM305.8 205.5h2.1v1.1h-2.1zM328.6 205.5h8.0v1.1h-8.0zM345.5 205.5h4.1v1.1h-4.1zM305.8 206.5h2.1v1.1h-2.1zM329.6 206.5h6.1v1.1h-6.1zM346.5 206.5h3.1v1.1h-3.1zM305.8 207.6h3.1v1.1h-3.1zM327.6 207.6h3.1v1.1h-3.1zM332.6 207.6h5.1v1.1h-5.1zM345.5 207.6h4.1v1.1h-4.1zM294.9 208.6h10.0v1.1h-10.0zM322.7 208.6h3.1v1.1h-3.1zM337.6 208.6h8.0v1.1h-8.0zM285.9 209.6h5.1v1.1h-5.1zM317.7 209.6h3.1v1.1h-3.1zM319.7 210.6h1.1v1.1h-1.1zM319.7 211.6h2.1v1.1h-2.1zM319.7 212.6h1.1v1.1h-1.1zM285.9 213.6h4.1v1.1h-4.1zM318.7 213.6h1.1v1.1h-1.1zM318.7 214.7h1.1v1.1h-1.1zM317.7 215.7h2.1v1.1h-2.1zM317.7 216.7h4.1v1.1h-4.1zM295.9 217.7h2.1v1.1h-2.1zM312.7 217.7h11.0v1.1h-11.0zM295.9 218.7h1.1v1.1h-1.1zM299.8 218.7h2.1v1.1h-2.1zM312.7 218.7h1.1v1.1h-1.1zM317.7 218.7h7.1v1.1h-7.1zM285.9 219.7h6.1v1.1h-6.1zM297.8 219.7h2.1v1.1h-2.1zM302.8 219.7h1.1v1.1h-1.1zM311.8 219.7h2.1v1.1h-2.1zM320.7 219.7h1.1v1.1h-1.1zM290.9 220.7h1.1v1.1h-1.1zM299.8 220.7h1.1v1.1h-1.1zM304.8 220.7h1.1v1.1h-1.1zM310.8 220.7h2.1v1.1h-2.1zM331.6 220.7h2.1v1.1h-2.1zM346.5 220.7h1.1v1.1h-1.1zM349.5 220.7h4.1v1.1h-4.1zM285.9 221.8h4.1v1.1h-4.1zM300.8 221.8h1.1v1.1h-1.1zM305.8 221.8h5.1v1.1h-5.1zM345.5 221.8h2.1v1.1h-2.1zM346.5 222.8h7.1v1.1h-7.1zM347.5 223.8h1.1v1.1h-1.1zM285.9 224.8h4.1v1.1h-4.1zM304.8 226.8h1.1v1.1h-1.1zM347.5 226.8h6.1v1.1h-6.1zM346.5 227.8h7.1v1.1h-7.1zM301.8 228.8h1.1v1.1h-1.1zM289.9 229.9h1.1v1.1h-1.1zM300.8 229.9h2.1v1.1h-2.1zM306.8 229.9h1.1v1.1h-1.1zM285.9 230.9h5.1v1.1h-5.1zM299.8 230.9h3.1v1.1h-3.1zM307.8 231.9h1.1v1.1h-1.1zM328.6 231.9h3.1v1.1h-3.1zM308.8 232.9h1.1v1.1h-1.1zM325.7 232.9h3.1v1.1h-3.1zM331.6 232.9h2.1v1.1h-2.1zM308.8 233.9h1.1v1.1h-1.1zM324.7 233.9h3.1v1.1h-3.1zM331.6 233.9h2.1v1.1h-2.1zM308.8 234.9h1.1v1.1h-1.1zM323.7 234.9h10.0v1.1h-10.0zM308.8 235.9h1.1v1.1h-1.1zM326.7 235.9h4.1v1.1h-4.1zM301.8 237.0h3.1v1.1h-3.1zM334.6 238.0h5.1v1.1h-5.1zM334.6 239.0h5.1v4.1h-5.1z"/>
<path fill="#001aff" d="M309.8 204.5h2.1v1.1h-2.1zM319.7 204.5h4.1v1.1h-4.1zM307.8 205.5h2.1v1.1h-2.1zM326.7 205.5h2.1v1.1h-2.1zM336.6 205.5h9.0v1.1h-9.0zM307.8 206.5h2.1v1.1h-2.1zM327.6 206.5h2.1v1.1h-2.1zM335.6 206.5h11.0v1.1h-11.0zM308.8 207.6h4.1v1.1h-4.1zM325.7 207.6h2.1v1.1h-2.1zM337.6 207.6h8.0v1.1h-8.0zM304.8 208.6h4.1v1.1h-4.1zM312.7 208.6h10.0v1.1h-10.0zM290.9 209.6h3.1v1.1h-3.1zM316.7 209.6h1.1v1.1h-1.1zM285.9 210.6h4.1v1.1h-4.1zM317.7 210.6h2.1v1.1h-2.1zM318.7 211.6h1.1v1.1h-1.1zM285.9 212.6h4.1v1.1h-4.1zM318.7 212.6h1.1v1.1h-1.1zM289.9 213.6h1.1v1.1h-1.1zM317.7 213.6h1.1v1.1h-1.1zM285.9 214.7h4.1v1.1h-4.1zM294.9 214.7h6.1v1.1h-6.1zM316.7 214.7h2.1v1.1h-2.1zM316.7 215.7h1.1v1.1h-1.1zM312.7 216.7h5.1v1.1h-5.1zM294.9 217.7h1.1v1.1h-1.1zM297.8 217.7h3.1v1.1h-3.1zM311.8 217.7h1.1v1.1h-1.1zM285.9 218.7h4.1v1.1h-4.1zM294.9 218.7h1.1v1.1h-1.1zM301.8 218.7h1.1v1.1h-1.1zM311.8 218.7h1.1v1.1h-1.1zM296.8 219.7h1.1v1.1h-1.1zM303.8 219.7h1.1v1.1h-1.1zM310.8 219.7h1.1v1.1h-1.1zM298.8 220.7h1.1v1.1h-1.1zM305.8 220.7h1.1v1.1h-1.1zM309.8 220.7h1.1v1.1h-1.1zM347.5 220.7h2.1v1.1h-2.1zM289.9 221.8h1.1v1.1h-1.1zM347.5 221.8h6.1v1.1h-6.1zM285.9 223.8h4.1v1.1h-4.1zM301.8 223.8h1.1v1.1h-1.1zM289.9 224.8h1.1v1.1h-1.1zM302.8 224.8h1.1v1.1h-1.1zM291.9 225.8h3.1v1.1h-3.1zM303.8 225.8h1.1v1.1h-1.1zM300.8 226.8h1.1v1.1h-1.1zM300.8 227.8h2.1v1.1h-2.1zM285.9 228.8h4.1v1.1h-4.1zM300.8 228.8h1.1v1.1h-1.1zM305.8 228.8h1.1v1.1h-1.1zM299.8 229.9h1.1v1.1h-1.1zM302.8 229.9h1.1v1.1h-1.1zM290.9 230.9h3.1v1.1h-3.1zM302.8 230.9h1.1v1.1h-1.1zM306.8 230.9h1.1v1.1h-1.1zM300.8 231.9h2.1v1.1h-2.1zM328.6 232.9h3.1v1.1h-3.1zM327.6 233.9h4.1v1.1h-4.1zM302.8 235.9h2.1v1.1h-2.1zM304.8 237.0h1.1v1.1h-1.1zM307.8 237.0h1.1v1.1h-1.1zM300.8 238.0h1.1v1.1h-1.1zM300.8 239.0h1.1v4.1h-1.1z"/>
<path fill="#0033ff" d="M309.8 205.5h8.0v1.1h-8.0zM323.7 205.5h3.1v1.1h-3.1zM309.8 206.5h4.1v1.1h-4.1zM325.7 206.5h2.1v1.1h-2.1zM312.7 207.6h4.1v1.1h-4.1zM323.7 207.6h2.1v1.1h-2.1zM308.8 208.6h4.1v1.1h-4.1zM293.9 209.6h4.1v1.1h-4.1zM314.7 209.6h2.1v1.1h-2.1zM289.9 210.6h1.1v1.1h-1.1zM316.7 210.6h1.1v1.1h-1.1zM285.9 211.6h4.1v1.1h-4.1zM317.7 211.6h1.1v1.1h-1.1zM289.9 212.6h1.1v1.1h-1.1zM317.7 212.6h1.1v1.1h-1.1zM290.9 213.6h9.0v1.1h-9.0zM316.7 213.6h1.1v1.1h-1.1zM289.9 214.7h1.1v1.1h-1.1zM292.9 214.7h2.1v1.1h-2.1zM300.8 214.7h9.0v1.1h-9.0zM314.7 214.7h2.1v1.1h-2.1zM311.8 215.7h5.1v1.1h-5.1zM310.8 216.7h2.1v1.1h-2.1zM293.9 217.7h1.1v1.1h-1.1zM300.8 217.7h2.1v1.1h-2.1zM310.8 217.7h1.1v1.1h-1.1zM289.9 218.7h2.1v1.1h-2.1zM293.9 218.7h1.1v1.1h-1.1zM302.8 218.7h1.1v1.1h-1.1zM310.8 218.7h1.1v1.1h-1.1zM294.9 219.7h2.1v1.1h-2.1zM304.8 219.7h1.1v1.1h-1.1zM306.8 220.7h3.1v1.1h-3.1zM299.8 221.8h1.1v1.1h-1.1zM285.9 222.8h4.1v1.1h-4.1zM300.8 222.8h1.1v1.1h-1.1zM290.9 224.8h2.1v1.1h-2.1zM285.9 225.8h6.1v1.1h-6.1zM294.9 225.8h1.1v1.1h-1.1zM299.8 226.8h1.1v1.1h-1.1zM301.8 226.8h1.1v1.1h-1.1zM303.8 226.8h1.1v1.1h-1.1zM304.8 227.8h1.1v1.1h-1.1zM289.9 228.8h1.1v1.1h-1.1zM302.8 228.8h1.1v1.1h-1.1zM290.9 229.9h1.1v1.1h-1.1zM305.8 229.9h1.1v1.1h-1.1zM293.9 230.9h1.1v1.1h-1.1zM298.8 230.9h1.1v1.1h-1.1zM303.8 230.9h1.1v1.1h-1.1zM299.8 231.9h1.1v1.1h-1.1zM302.8 231.9h1.1v1.1h-1.1zM307.8 232.9h1.1v1.1h-1.1zM307.8 233.9h1.1v1.1h-1.1zM307.8 234.9h1.1v1.1h-1.1zM301.8 235.9h1.1v1.1h-1.1zM304.8 235.9h1.1v1.1h-1.1zM307.8 235.9h1.1v1.1h-1.1zM300.8 237.0h1.1v1.1h-1.1z"/>
<path fill="#004dff" d="M317.7 205.5h6.1v1.1h-6.1zM313.7 206.5h4.1v1.1h-4.1zM323.7 206.5h2.1v1.1h-2.1zM316.7 207.6h7.1v1.1h-7.1zM297.8 209.6h3.1v1.1h-3.1zM313.7 209.6h1.1v1.1h-1.1zM290.9 210.6h1.1v1.1h-1.1zM289.9 211.6h1.1v1.1h-1.1zM316.7 211.6h1.1v1.1h-1.1zM290.9 212.6h1.1v1.1h-1.1zM316.7 212.6h1.1v1.1h-1.1zM299.8 213.6h6.1v1.1h-6.1zM314.7 213.6h2.1v1.1h-2.1zM290.9 214.7h2.1v1.1h-2.1zM309.8 214.7h5.1v1.1h-5.1zM285.9 215.7h4.1v1.1h-4.1zM294.9 215.7h7.1v1.1h-7.1zM305.8 215.7h6.1v1.1h-6.1zM294.9 216.7h5.1v1.1h-5.1zM309.8 216.7h1.1v1.1h-1.1zM285.9 217.7h4.1v1.1h-4.1zM302.8 217.7h1.1v1.1h-1.1zM309.8 217.7h1.1v1.1h-1.1zM303.8 218.7h1.1v1.1h-1.1zM309.8 218.7h1.1v1.1h-1.1zM305.8 219.7h1.1v1.1h-1.1zM308.8 219.7h2.1v1.1h-2.1zM291.9 220.7h1.1v1.1h-1.1zM297.8 220.7h1.1v1.1h-1.1zM290.9 221.8h1.1v1.1h-1.1zM289.9 223.8h1.1v1.1h-1.1zM292.9 224.8h2.1v1.1h-2.1zM301.8 224.8h1.1v1.1h-1.1zM295.9 225.8h1.1v1.1h-1.1zM299.8 225.8h4.1v1.1h-4.1zM302.8 226.8h1.1v1.1h-1.1zM285.9 227.8h4.1v1.1h-4.1zM299.8 227.8h1.1v1.1h-1.1zM302.8 227.8h2.1v1.1h-2.1zM299.8 228.8h1.1v1.1h-1.1zM304.8 228.8h1.1v1.1h-1.1zM291.9 229.9h1.1v1.1h-1.1zM303.8 229.9h1.1v1.1h-1.1zM294.9 230.9h1.1v1.1h-1.1zM293.9 231.9h2.1v1.1h-2.1zM303.8 231.9h1.1v1.1h-1.1zM306.8 231.9h1.1v1.1h-1.1zM301.8 234.9h3.1v1.1h-3.1zM300.8 235.9h1.1v1.1h-1.1zM305.8 237.0h1.1v1.1h-1.1z"/>
<path fill="#0066ff" d="M317.7 206.5h6.1v1.1h-6.1zM300.8 209.6h3.1v1.1h-3.1zM312.7 209.6h1.1v1.1h-1.1zM291.9 210.6h3.1v1.1h-3.1zM315.7 210.6h1.1v1.1h-1.1zM290.9 211.6h1.1v1.1h-1.1zM291.9 212.6h2.1v1.1h-2.1zM315.7 212.6h1.1v1.1h-1.1zM305.8 213.6h3.1v1.1h-3.1zM313.7 213.6h1.1v1.1h-1.1zM293.9 215.7h1.1v1.1h-1.1zM301.8 215.7h4.1v1.1h-4.1zM285.9 216.7h4.1v1.1h-4.1zM299.8 216.7h3.1v1.1h-3.1zM307.8 216.7h2.1v1.1h-2.1zM289.9 217.7h1.1v1.1h-1.1zM292.9 217.7h1.1v1.1h-1.1zM303.8 217.7h1.1v1.1h-1.1zM308.8 217.7h1.1v1.1h-1.1zM292.9 218.7h1.1v1.1h-1.1zM304.8 218.7h1.1v1.1h-1.1zM308.8 218.7h1.1v1.1h-1.1zM292.9 219.7h2.1v1.1h-2.1zM306.8 219.7h2.1v1.1h-2.1zM292.9 220.7h1.1v1.1h-1.1zM296.8 220.7h1.1v1.1h-1.1zM289.9 222.8h1.1v1.1h-1.1zM300.8 223.8h1.1v1.1h-1.1zM294.9 224.8h1.1v1.1h-1.1zM300.8 224.8h1.1v1.1h-1.1zM298.8 225.8h1.1v1.1h-1.1zM285.9 226.8h4.1v1.1h-4.1zM289.9 227.8h1.1v1.1h-1.1zM303.8 228.8h1.1v1.1h-1.1zM298.8 229.9h1.1v1.1h-1.1zM304.8 229.9h1.1v1.1h-1.1zM304.8 230.9h2.1v1.1h-2.1zM285.9 231.9h4.1v1.1h-4.1zM292.9 231.9h1.1v1.1h-1.1zM295.9 231.9h1.1v1.1h-1.1zM298.8 231.9h1.1v1.1h-1.1zM300.8 232.9h4.1v1.1h-4.1zM301.8 233.9h3.1v1.1h-3.1zM300.8 234.9h1.1v1.1h-1.1zM304.8 234.9h1.1v1.1h-1.1zM306.8 237.0h1.1v1.1h-1.1z"/>
<path fill="#0080ff" d="M303.8 209.6h2.1v1.1h-2.1zM311.8 209.6h1.1v1.1h-1.1zM294.9 210.6h3.1v1.1h-3.1zM314.7 210.6h1.1v1.1h-1.1zM291.9 211.6h1.1v1.1h-1.1zM315.7 211.6h1.1v1.1h-1.1zM293.9 212.6h4.1v1.1h-4.1zM314.7 212.6h1.1v1.1h-1.1zM308.8 213.6h5.1v1.1h-5.1zM289.9 215.7h1.1v1.1h-1.1zM292.9 215.7h1.1v1.1h-1.1zM293.9 216.7h1.1v1.1h-1.1zM302.8 216.7h5.1v1.1h-5.1zM290.9 217.7h2.1v1.1h-2.1zM304.8 217.7h4.1v1.1h-4.1zM291.9 218.7h1.1v1.1h-1.1zM305.8 218.7h3.1v1.1h-3.1zM291.9 219.7h1.1v1.1h-1.1zM293.9 220.7h3.1v1.1h-3.1zM291.9 221.8h1.1v1.1h-1.1zM298.8 221.8h1.1v1.1h-1.1zM299.8 222.8h1.1v1.1h-1.1zM290.9 223.8h1.1v1.1h-1.1zM295.9 224.8h1.1v1.1h-1.1zM298.8 224.8h2.1v1.1h-2.1zM296.8 225.8h2.1v1.1h-2.1zM289.9 226.8h1.1v1.1h-1.1zM298.8 226.8h1.1v1.1h-1.1zM290.9 228.8h1.1v1.1h-1.1zM292.9 229.9h1.1v1.1h-1.1zM295.9 230.9h1.1v1.1h-1.1zM297.8 230.9h1.1v1.1h-1.1zM289.9 231.9h3.1v1.1h-3.1zM304.8 231.9h1.1v1.1h-1.1zM299.8 232.9h1.1v1.1h-1.1zM306.8 232.9h1.1v1.1h-1.1zM300.8 233.9h1.1v1.1h-1.1zM305.8 235.9h2.1v1.1h-2.1zM299.8 239.0h1.1v4.1h-1.1z"/>
<path fill="#0099ff" d="M305.8 209.6h6.1v1.1h-6.1zM297.8 210.6h2.1v1.1h-2.1zM313.7 210.6h1.1v1.1h-1.1zM292.9 211.6h3.1v1.1h-3.1zM314.7 211.6h1.1v1.1h-1.1zM297.8 212.6h3.1v1.1h-3.1zM290.9 215.7h2.1v1.1h-2.1zM289.9 216.7h4.1v1.1h-4.1zM292.9 221.8h1.1v1.1h-1.1zM290.9 222.8h1.1v1.1h-1.1zM299.8 223.8h1.1v1.1h-1.1zM296.8 224.8h2.1v1.1h-2.1zM290.9 226.8h5.1v1.1h-5.1zM297.8 226.8h1.1v1.1h-1.1zM298.8 227.8h1.1v1.1h-1.1zM298.8 228.8h1.1v1.1h-1.1zM296.8 231.9h2.1v1.1h-2.1zM305.8 231.9h1.1v1.1h-1.1zM304.8 232.9h1.1v1.1h-1.1zM304.8 233.9h1.1v1.1h-1.1zM306.8 233.9h1.1v1.1h-1.1zM305.8 234.9h2.1v1.1h-2.1zM299.8 238.0h1.1v1.1h-1.1zM297.8 239.0h1.1v4.1h-1.1z"/>
<path fill="#00b2ff" d="M299.8 210.6h2.1v1.1h-2.1zM295.9 211.6h3.1v1.1h-3.1zM300.8 212.6h3.1v1.1h-3.1zM313.7 212.6h1.1v1.1h-1.1zM293.9 221.8h2.1v1.1h-2.1zM297.8 221.8h1.1v1.1h-1.1zM291.9 223.8h2.1v1.1h-2.1zM295.9 226.8h2.1v1.1h-2.1zM290.9 227.8h1.1v1.1h-1.1zM297.8 229.9h1.1v1.1h-1.1zM296.8 230.9h1.1v1.1h-1.1zM295.9 232.9h2.1v1.1h-2.1zM305.8 232.9h1.1v1.1h-1.1zM299.8 233.9h1.1v1.1h-1.1zM305.8 233.9h1.1v1.1h-1.1zM299.8 235.9h1.1v1.1h-1.1zM299.8 237.0h1.1v1.1h-1.1zM296.8 239.0h1.1v4.1h-1.1zM298.8 239.0h1.1v4.1h-1.1z"/>
<path fill="#00ccff" d="M301.8 210.6h2.1v1.1h-2.1zM312.7 210.6h1.1v1.1h-1.1zM298.8 211.6h3.1v1.1h-3.1zM313.7 211.6h1.1v1.1h-1.1zM303.8 212.6h3.1v1.1h-3.1zM312.7 212.6h1.1v1.1h-1.1zM295.9 221.8h2.1v1.1h-2.1zM291.9 222.8h2.1v1.1h-2.1zM298.8 222.8h1.1v1.1h-1.1zM293.9 223.8h2.1v1.1h-2.1zM297.8 223.8h2.1v1.1h-2.1zM291.9 228.8h1.1v1.1h-1.1zM293.9 229.9h1.1v1.1h-1.1zM294.9 232.9h1.1v1.1h-1.1zM298.8 232.9h1.1v1.1h-1.1zM299.8 234.9h1.1v1.1h-1.1zM297.8 238.0h2.1v1.1h-2.1z"/>
<path fill="#00e5ff" d="M303.8 210.6h2.1v1.1h-2.1zM311.8 210.6h1.1v1.1h-1.1zM301.8 211.6h2.1v1.1h-2.1zM312.7 211.6h1.1v1.1h-1.1zM306.8 212.6h6.1v1.1h-6.1zM293.9 222.8h2.1v1.1h-2.1zM295.9 223.8h2.1v1.1h-2.1zM297.8 227.8h1.1v1.1h-1.1zM297.8 232.9h1.1v1.1h-1.1zM297.8 237.0h2.1v1.1h-2.1zM295.9 239.0h1.1v4.1h-1.1z"/>
<path fill="#00ffff" d="M305.8 210.6h1.1v1.1h-1.1zM310.8 210.6h1.1v1.1h-1.1zM303.8 211.6h2.1v1.1h-2.1zM311.8 211.6h1.1v1.1h-1.1zM295.9 222.8h3.1v1.1h-3.1zM291.9 227.8h1.1v1.1h-1.1zM297.8 228.8h1.1v1.1h-1.1zM294.9 229.9h1.1v1.1h-1.1zM296.8 229.9h1.1v1.1h-1.1zM293.9 232.9h1.1v1.1h-1.1zM296.8 233.9h1.1v1.1h-1.1zM298.8 233.9h1.1v1.1h-1.1zM298.8 235.9h1.1v1.1h-1.1zM296.8 238.0h1.1v1.1h-1.1z"/>
<path fill="#1affe5" d="M306.8 210.6h4.1v1.1h-4.1zM305.8 211.6h1.1v1.1h-1.1zM310.8 211.6h1.1v1.1h-1.1zM296.8 227.8h1.1v1.1h-1.1zM292.9 228.8h1.1v1.1h-1.1zM285.9 232.9h4.1v1.1h-4.1zM292.9 232.9h1.1v1.1h-1.1zM297.8 233.9h1.1v1.1h-1.1zM297.8 234.9h2.1v1.1h-2.1zM297.8 235.9h1.1v1.1h-1.1z"/>
<path fill="#33ffcc" d="M306.8 211.6h4.1v1.1h-4.1zM292.9 227.8h1.1v1.1h-1.1zM295.9 229.9h1.1v1.1h-1.1zM289.9 232.9h1.1v1.1h-1.1zM291.9 232.9h1.1v1.1h-1.1zM295.9 233.9h1.1v1.1h-1.1zM296.8 234.9h1.1v1.1h-1.1zM296.8 237.0h1.1v1.1h-1.1zM294.9 239.0h1.1v4.1h-1.1z"/>
<path fill="#0000b2" d="M336.6 212.6h6.1v1.1h-6.1zM335.6 213.6h9.0v1.1h-9.0zM331.6 214.7h14.0v1.1h-14.0zM330.6 215.7h15.0v1.1h-15.0zM330.6 216.7h15.0v1.1h-15.0zM331.6 217.7h9.0v1.1h-9.0zM343.5 217.7h2.1v1.1h-2.1zM335.6 218.7h4.1v1.1h-4.1zM344.5 218.7h1.1v1.1h-1.1zM337.6 219.7h3.1v1.1h-3.1zM343.5 219.7h2.1v1.1h-2.1zM338.6 220.7h6.1v1.1h-6.1zM338.6 221.8h5.1v1.1h-5.1zM321.7 222.8h6.1v1.1h-6.1zM336.6 222.8h7.1v1.1h-7.1zM319.7 223.8h9.0v1.1h-9.0zM333.6 223.8h10.0v1.1h-10.0zM318.7 224.8h25.9v1.1h-25.9zM318.7 225.8h25.9v1.1h-25.9zM318.7 226.8h24.9v1.1h-24.9zM318.7 227.8h23.0v1.1h-23.0zM319.7 228.8h21.0v1.1h-21.0zM319.7 229.9h21.0v1.1h-21.0zM337.6 230.9h4.1v1.1h-4.1zM338.6 231.9h2.1v1.1h-2.1z"/>
<path fill="#000099" d="M340.6 217.7h3.1v1.1h-3.1zM339.6 218.7h5.1v1.1h-5.1zM340.6 219.7h3.1v1.1h-3.1z"/>
<path fill="#4dffb2" d="M293.9 227.8h3.1v1.1h-3.1zM296.8 228.8h1.1v1.1h-1.1zM290.9 232.9h1.1v1.1h-1.1zM296.8 235.9h1.1v1.1h-1.1zM295.9 238.0h1.1v1.1h-1.1z"/>
<path fill="#66ff99" d="M293.9 228.8h1.1v1.1h-1.1z"/>
<path fill="#80ff80" d="M294.9 228.8h2.1v1.1h-2.1zM294.9 233.9h1.1v1.1h-1.1zM293.9 239.0h1.1v4.1h-1.1z"/>
<path fill="#ccff33" d="M285.9 233.9h4.1v1.1h-4.1zM293.9 233.9h1.1v1.1h-1.1z"/>
<path fill="#ffff00" d="M289.9 233.9h1.1v1.1h-1.1zM292.9 233.9h1.1v1.1h-1.1zM294.9 234.9h1.1v1.1h-1.1zM294.9 237.0h1.1v1.1h-1.1zM293.9 238.0h1.1v1.1h-1.1zM291.9 239.0h1.1v4.1h-1.1z"/>
<path fill="#ffe500" d="M290.9 233.9h2.1v1.1h-2.1z"/>
<path fill="#ff9900" d="M285.9 234.9h4.1v1.1h-4.1zM293.9 234.9h1.1v1.1h-1.1zM285.9 239.0h4.1v4.1h-4.1zM290.9 239.0h1.1v4.1h-1.1z"/>
<path fill="#ff4c00" d="M289.9 234.9h1.1v1.1h-1.1zM285.9 235.9h4.1v1.1h-4.1zM291.9 237.0h1.1v1.1h-1.1z"/>
<path fill="#ff3300" d="M290.9 234.9h2.1v1.1h-2.1zM292.9 235.9h1.1v1.1h-1.1zM285.9 237.0h4.1v1.1h-4.1zM285.9 238.0h4.1v1.1h-4.1zM290.9 238.0h1.1v1.1h-1.1z"/>
<path fill="#ff6600" d="M292.9 234.9h1.1v1.1h-1.1zM293.9 235.9h1.1v1.1h-1.1zM292.9 237.0h1.1v1.1h-1.1zM289.9 239.0h1.1v4.1h-1.1z"/>
<path fill="#99ff66" d="M295.9 234.9h1.1v1.1h-1.1zM295.9 237.0h1.1v1.1h-1.1z"/>
<path fill="#ff1a00" d="M289.9 235.9h1.1v1.1h-1.1zM290.9 237.0h1.1v1.1h-1.1z"/>
<path fill="#ff0000" d="M290.9 235.9h2.1v1.1h-2.1zM289.9 237.0h1.1v1.1h-1.1zM289.9 238.0h1.1v1.1h-1.1z"/>
<path fill="#ffcc00" d="M294.9 235.9h1.1v1.1h-1.1zM292.9 238.0h1.1v1.1h-1.1z"/>
<path fill="#b3ff4c" d="M295.9 235.9h1.1v1.1h-1.1zM294.9 238.0h1.1v1.1h-1.1zM292.9 239.0h1.1v4.1h-1.1z"/>
<path fill="#ffb300" d="M293.9 237.0h1.1v1.1h-1.1z"/>
<path fill="#ff8000" d="M291.9 238.0h1.1v1.1h-1.1z"/>
</g></g>
<rect x="288.9" y="203.5" width="61.6" height="36.5" fill="none" stroke="#999" stroke-width="0.25"/>
<text x="319.7" y="201.9" font-size="2.9" text-anchor="middle" style="font-family:'Liberation Sans',sans-serif;fill:#555;fill:#444">L2 error P</text>
<rect x="354.2" y="202.2" width="3.3" height="39.1" fill="url(#jetv)"/>
<text x="358.8" y="205.0" font-size="2.6" style="font-family:'Liberation Sans',sans-serif;fill:#555;fill:#333;stroke:#555;stroke-width:0.05">0.450</text>
<text x="358.8" y="208.9" font-size="2.6" style="font-family:'Liberation Sans',sans-serif;fill:#555;fill:#333;stroke:#555;stroke-width:0.05">0.350</text>
<text x="358.8" y="212.8" font-size="2.6" style="font-family:'Liberation Sans',sans-serif;fill:#555;fill:#333;stroke:#555;stroke-width:0.05">0.250</text>
<text x="358.8" y="216.7" font-size="2.6" style="font-family:'Liberation Sans',sans-serif;fill:#555;fill:#333;stroke:#555;stroke-width:0.05">0.150</text>
<text x="358.8" y="220.6" font-size="2.6" style="font-family:'Liberation Sans',sans-serif;fill:#555;fill:#333;stroke:#555;stroke-width:0.05">0.050</text>
<text x="358.8" y="224.5" font-size="2.6" style="font-family:'Liberation Sans',sans-serif;fill:#555;fill:#333;stroke:#555;stroke-width:0.05">-0.050</text>
<text x="358.8" y="228.4" font-size="2.6" style="font-family:'Liberation Sans',sans-serif;fill:#555;fill:#333;stroke:#555;stroke-width:0.05">-0.150</text>
<text x="358.8" y="232.3" font-size="2.6" style="font-family:'Liberation Sans',sans-serif;fill:#555;fill:#333;stroke:#555;stroke-width:0.05">-0.250</text>
<text x="358.8" y="236.2" font-size="2.6" style="font-family:'Liberation Sans',sans-serif;fill:#555;fill:#333;stroke:#555;stroke-width:0.05">-0.350</text>
<text x="358.8" y="240.1" font-size="2.6" style="font-family:'Liberation Sans',sans-serif;fill:#555;fill:#333;stroke:#555;stroke-width:0.05">-0.450</text>
<text x="286.7" y="204.3" font-size="2.3" text-anchor="end" style="font-family:'Liberation Sans',sans-serif;fill:#555">2</text>
<text x="286.7" y="213.4" font-size="2.3" text-anchor="end" style="font-family:'Liberation Sans',sans-serif;fill:#555">1</text>
<text x="286.7" y="222.6" font-size="2.3" text-anchor="end" style="font-family:'Liberation Sans',sans-serif;fill:#555">0</text>
<text x="286.7" y="231.7" font-size="2.3" text-anchor="end" style="font-family:'Liberation Sans',sans-serif;fill:#555">-1</text>
<text x="286.7" y="240.8" font-size="2.3" text-anchor="end" style="font-family:'Liberation Sans',sans-serif;fill:#555">-2</text>
<text x="288.9" y="243.2" font-size="2.3" text-anchor="middle" style="font-family:'Liberation Sans',sans-serif;fill:#555">0</text>
<text x="296.6" y="243.2" font-size="2.3" text-anchor="middle" style="font-family:'Liberation Sans',sans-serif;fill:#555">1</text>
<text x="304.3" y="243.2" font-size="2.3" text-anchor="middle" style="font-family:'Liberation Sans',sans-serif;fill:#555">2</text>
<text x="312.0" y="243.2" font-size="2.3" text-anchor="middle" style="font-family:'Liberation Sans',sans-serif;fill:#555">3</text>
<text x="319.7" y="243.2" font-size="2.3" text-anchor="middle" style="font-family:'Liberation Sans',sans-serif;fill:#555">4</text>
<text x="327.4" y="243.2" font-size="2.3" text-anchor="middle" style="font-family:'Liberation Sans',sans-serif;fill:#555">5</text>
<text x="335.1" y="243.2" font-size="2.3" text-anchor="middle" style="font-family:'Liberation Sans',sans-serif;fill:#555">6</text>
<text x="342.8" y="243.2" font-size="2.3" text-anchor="middle" style="font-family:'Liberation Sans',sans-serif;fill:#555">7</text>
<text x="350.5" y="243.2" font-size="2.3" text-anchor="middle" style="font-family:'Liberation Sans',sans-serif;fill:#555">8</text>
<text x="319.7" y="246.4" font-size="2.6" text-anchor="middle" style="font-family:'Liberation Sans',sans-serif;fill:#555">x</text>
<text x="283.4" y="222.6" font-size="2.6" text-anchor="middle" style="font-family:'Liberation Sans',sans-serif;fill:#555">y</text>
<path fill="#111" d="M87.7 117.0a.7 .7 0 1 0 1.4 0a.7 .7 0 1 0-1.4 0M87.7 121.4a.7 .7 0 1 0 1.4 0a.7 .7 0 1 0-1.4 0M87.7 125.8a.7 .7 0 1 0 1.4 0a.7 .7 0 1 0-1.4 0M87.7 130.3a.7 .7 0 1 0 1.4 0a.7 .7 0 1 0-1.4 0M87.7 134.7a.7 .7 0 1 0 1.4 0a.7 .7 0 1 0-1.4 0M87.7 139.1a.7 .7 0 1 0 1.4 0a.7 .7 0 1 0-1.4 0M87.7 143.6a.7 .7 0 1 0 1.4 0a.7 .7 0 1 0-1.4 0M87.7 148.0a.7 .7 0 1 0 1.4 0a.7 .7 0 1 0-1.4 0M87.7 152.4a.7 .7 0 1 0 1.4 0a.7 .7 0 1 0-1.4 0M92.2 117.0a.7 .7 0 1 0 1.4 0a.7 .7 0 1 0-1.4 0M92.2 121.4a.7 .7 0 1 0 1.4 0a.7 .7 0 1 0-1.4 0M92.2 125.8a.7 .7 0 1 0 1.4 0a.7 .7 0 1 0-1.4 0M92.2 130.3a.7 .7 0 1 0 1.4 0a.7 .7 0 1 0-1.4 0M92.2 134.7a.7 .7 0 1 0 1.4 0a.7 .7 0 1 0-1.4 0M92.2 139.1a.7 .7 0 1 0 1.4 0a.7 .7 0 1 0-1.4 0M92.2 143.6a.7 .7 0 1 0 1.4 0a.7 .7 0 1 0-1.4 0M92.2 148.0a.7 .7 0 1 0 1.4 0a.7 .7 0 1 0-1.4 0M92.2 152.4a.7 .7 0 1 0 1.4 0a.7 .7 0 1 0-1.4 0M96.6 117.0a.7 .7 0 1 0 1.4 0a.7 .7 0 1 0-1.4 0M96.6 121.4a.7 .7 0 1 0 1.4 0a.7 .7 0 1 0-1.4 0M96.6 125.8a.7 .7 0 1 0 1.4 0a.7 .7 0 1 0-1.4 0M96.6 130.3a.7 .7 0 1 0 1.4 0a.7 .7 0 1 0-1.4 0M96.6 134.7a.7 .7 0 1 0 1.4 0a.7 .7 0 1 0-1.4 0M96.6 139.1a.7 .7 0 1 0 1.4 0a.7 .7 0 1 0-1.4 0M96.6 143.6a.7 .7 0 1 0 1.4 0a.7 .7 0 1 0-1.4 0M96.6 148.0a.7 .7 0 1 0 1.4 0a.7 .7 0 1 0-1.4 0M96.6 152.4a.7 .7 0 1 0 1.4 0a.7 .7 0 1 0-1.4 0M101.1 117.0a.7 .7 0 1 0 1.4 0a.7 .7 0 1 0-1.4 0M101.1 121.4a.7 .7 0 1 0 1.4 0a.7 .7 0 1 0-1.4 0M101.1 125.8a.7 .7 0 1 0 1.4 0a.7 .7 0 1 0-1.4 0M101.1 130.3a.7 .7 0 1 0 1.4 0a.7 .7 0 1 0-1.4 0M101.1 134.7a.7 .7 0 1 0 1.4 0a.7 .7 0 1 0-1.4 0M101.1 139.1a.7 .7 0 1 0 1.4 0a.7 .7 0 1 0-1.4 0M101.1 143.6a.7 .7 0 1 0 1.4 0a.7 .7 0 1 0-1.4 0M101.1 148.0a.7 .7 0 1 0 1.4 0a.7 .7 0 1 0-1.4 0M101.1 152.4a.7 .7 0 1 0 1.4 0a.7 .7 0 1 0-1.4 0M105.6 117.0a.7 .7 0 1 0 1.4 0a.7 .7 0 1 0-1.4 0M105.6 121.4a.7 .7 0 1 0 1.4 0a.7 .7 0 1 0-1.4 0M105.6 125.8a.7 .7 0 1 0 1.4 0a.7 .7 0 1 0-1.4 0M105.6 130.3a.7 .7 0 1 0 1.4 0a.7 .7 0 1 0-1.4 0M105.6 134.7a.7 .7 0 1 0 1.4 0a.7 .7 0 1 0-1.4 0M105.6 139.1a.7 .7 0 1 0 1.4 0a.7 .7 0 1 0-1.4 0M105.6 143.6a.7 .7 0 1 0 1.4 0a.7 .7 0 1 0-1.4 0M105.6 148.0a.7 .7 0 1 0 1.4 0a.7 .7 0 1 0-1.4 0M105.6 152.4a.7 .7 0 1 0 1.4 0a.7 .7 0 1 0-1.4 0M110.0 117.0a.7 .7 0 1 0 1.4 0a.7 .7 0 1 0-1.4 0M110.0 121.4a.7 .7 0 1 0 1.4 0a.7 .7 0 1 0-1.4 0M110.0 125.8a.7 .7 0 1 0 1.4 0a.7 .7 0 1 0-1.4 0M110.0 130.3a.7 .7 0 1 0 1.4 0a.7 .7 0 1 0-1.4 0M110.0 134.7a.7 .7 0 1 0 1.4 0a.7 .7 0 1 0-1.4 0M110.0 139.1a.7 .7 0 1 0 1.4 0a.7 .7 0 1 0-1.4 0M110.0 143.6a.7 .7 0 1 0 1.4 0a.7 .7 0 1 0-1.4 0M110.0 148.0a.7 .7 0 1 0 1.4 0a.7 .7 0 1 0-1.4 0M110.0 152.4a.7 .7 0 1 0 1.4 0a.7 .7 0 1 0-1.4 0M114.5 117.0a.7 .7 0 1 0 1.4 0a.7 .7 0 1 0-1.4 0M114.5 121.4a.7 .7 0 1 0 1.4 0a.7 .7 0 1 0-1.4 0M114.5 125.8a.7 .7 0 1 0 1.4 0a.7 .7 0 1 0-1.4 0M114.5 130.3a.7 .7 0 1 0 1.4 0a.7 .7 0 1 0-1.4 0M114.5 134.7a.7 .7 0 1 0 1.4 0a.7 .7 0 1 0-1.4 0M114.5 139.1a.7 .7 0 1 0 1.4 0a.7 .7 0 1 0-1.4 0M114.5 143.6a.7 .7 0 1 0 1.4 0a.7 .7 0 1 0-1.4 0M114.5 148.0a.7 .7 0 1 0 1.4 0a.7 .7 0 1 0-1.4 0M114.5 152.4a.7 .7 0 1 0 1.4 0a.7 .7 0 1 0-1.4 0M119.0 117.0a.7 .7 0 1 0 1.4 0a.7 .7 0 1 0-1.4 0M119.0 121.4a.7 .7 0 1 0 1.4 0a.7 .7 0 1 0-1.4 0M119.0 125.8a.7 .7 0 1 0 1.4 0a.7 .7 0 1 0-1.4 0M119.0 130.3a.7 .7 0 1 0 1.4 0a.7 .7 0 1 0-1.4 0M119.0 134.7a.7 .7 0 1 0 1.4 0a.7 .7 0 1 0-1.4 0M119.0 139.1a.7 .7 0 1 0 1.4 0a.7 .7 0 1 0-1.4 0M119.0 143.6a.7 .7 0 1 0 1.4 0a.7 .7 0 1 0-1.4 0M119.0 148.0a.7 .7 0 1 0 1.4 0a.7 .7 0 1 0-1.4 0M119.0 152.4a.7 .7 0 1 0 1.4 0a.7 .7 0 1 0-1.4 0M123.4 117.0a.7 .7 0 1 0 1.4 0a.7 .7 0 1 0-1.4 0M123.4 121.4a.7 .7 0 1 0 1.4 0a.7 .7 0 1 0-1.4 0M123.4 125.8a.7 .7 0 1 0 1.4 0a.7 .7 0 1 0-1.4 0M123.4 130.3a.7 .7 0 1 0 1.4 0a.7 .7 0 1 0-1.4 0M123.4 134.7a.7 .7 0 1 0 1.4 0a.7 .7 0 1 0-1.4 0M123.4 139.1a.7 .7 0 1 0 1.4 0a.7 .7 0 1 0-1.4 0M123.4 143.6a.7 .7 0 1 0 1.4 0a.7 .7 0 1 0-1.4 0M123.4 148.0a.7 .7 0 1 0 1.4 0a.7 .7 0 1 0-1.4 0M123.4 152.4a.7 .7 0 1 0 1.4 0a.7 .7 0 1 0-1.4 0M127.9 117.0a.7 .7 0 1 0 1.4 0a.7 .7 0 1 0-1.4 0M127.9 121.4a.7 .7 0 1 0 1.4 0a.7 .7 0 1 0-1.4 0M127.9 125.8a.7 .7 0 1 0 1.4 0a.7 .7 0 1 0-1.4 0M127.9 130.3a.7 .7 0 1 0 1.4 0a.7 .7 0 1 0-1.4 0M127.9 134.7a.7 .7 0 1 0 1.4 0a.7 .7 0 1 0-1.4 0M127.9 139.1a.7 .7 0 1 0 1.4 0a.7 .7 0 1 0-1.4 0M127.9 143.6a.7 .7 0 1 0 1.4 0a.7 .7 0 1 0-1.4 0M127.9 148.0a.7 .7 0 1 0 1.4 0a.7 .7 0 1 0-1.4 0M127.9 152.4a.7 .7 0 1 0 1.4 0a.7 .7 0 1 0-1.4 0M132.3 117.0a.7 .7 0 1 0 1.4 0a.7 .7 0 1 0-1.4 0M132.3 121.4a.7 .7 0 1 0 1.4 0a.7 .7 0 1 0-1.4 0M132.3 125.8a.7 .7 0 1 0 1.4 0a.7 .7 0 1 0-1.4 0M132.3 130.3a.7 .7 0 1 0 1.4 0a.7 .7 0 1 0-1.4 0M132.3 134.7a.7 .7 0 1 0 1.4 0a.7 .7 0 1 0-1.4 0M132.3 139.1a.7 .7 0 1 0 1.4 0a.7 .7 0 1 0-1.4 0M132.3 143.6a.7 .7 0 1 0 1.4 0a.7 .7 0 1 0-1.4 0M132.3 148.0a.7 .7 0 1 0 1.4 0a.7 .7 0 1 0-1.4 0M132.3 152.4a.7 .7 0 1 0 1.4 0a.7 .7 0 1 0-1.4 0M136.8 117.0a.7 .7 0 1 0 1.4 0a.7 .7 0 1 0-1.4 0M136.8 121.4a.7 .7 0 1 0 1.4 0a.7 .7 0 1 0-1.4 0M136.8 125.8a.7 .7 0 1 0 1.4 0a.7 .7 0 1 0-1.4 0M136.8 130.3a.7 .7 0 1 0 1.4 0a.7 .7 0 1 0-1.4 0M136.8 134.7a.7 .7 0 1 0 1.4 0a.7 .7 0 1 0-1.4 0M136.8 139.1a.7 .7 0 1 0 1.4 0a.7 .7 0 1 0-1.4 0M136.8 143.6a.7 .7 0 1 0 1.4 0a.7 .7 0 1 0-1.4 0M136.8 148.0a.7 .7 0 1 0 1.4 0a.7 .7 0 1 0-1.4 0M136.8 152.4a.7 .7 0 1 0 1.4 0a.7 .7 0 1 0-1.4 0M141.3 117.0a.7 .7 0 1 0 1.4 0a.7 .7 0 1 0-1.4 0M141.3 121.4a.7 .7 0 1 0 1.4 0a.7 .7 0 1 0-1.4 0M141.3 125.8a.7 .7 0 1 0 1.4 0a.7 .7 0 1 0-1.4 0M141.3 130.3a.7 .7 0 1 0 1.4 0a.7 .7 0 1 0-1.4 0M141.3 134.7a.7 .7 0 1 0 1.4 0a.7 .7 0 1 0-1.4 0M141.3 139.1a.7 .7 0 1 0 1.4 0a.7 .7 0 1 0-1.4 0M141.3 143.6a.7 .7 0 1 0 1.4 0a.7 .7 0 1 0-1.4 0M141.3 148.0a.7 .7 0 1 0 1.4 0a.7 .7 0 1 0-1.4 0M141.3 152.4a.7 .7 0 1 0 1.4 0a.7 .7 0 1 0-1.4 0M145.7 117.0a.7 .7 0 1 0 1.4 0a.7 .7 0 1 0-1.4 0M145.7 121.4a.7 .7 0 1 0 1.4 0a.7 .7 0 1 0-1.4 0M145.7 125.8a.7 .7 0 1 0 1.4 0a.7 .7 0 1 0-1.4 0M145.7 130.3a.7 .7 0 1 0 1.4 0a.7 .7 0 1 0-1.4 0M145.7 134.7a.7 .7 0 1 0 1.4 0a.7 .7 0 1 0-1.4 0M145.7 139.1a.7 .7 0 1 0 1.4 0a.7 .7 0 1 0-1.4 0M145.7 143.6a.7 .7 0 1 0 1.4 0a.7 .7 0 1 0-1.4 0M145.7 148.0a.7 .7 0 1 0 1.4 0a.7 .7 0 1 0-1.4 0M145.7 152.4a.7 .7 0 1 0 1.4 0a.7 .7 0 1 0-1.4 0M150.2 117.0a.7 .7 0 1 0 1.4 0a.7 .7 0 1 0-1.4 0M150.2 121.4a.7 .7 0 1 0 1.4 0a.7 .7 0 1 0-1.4 0M150.2 125.8a.7 .7 0 1 0 1.4 0a.7 .7 0 1 0-1.4 0M150.2 130.3a.7 .7 0 1 0 1.4 0a.7 .7 0 1 0-1.4 0M150.2 134.7a.7 .7 0 1 0 1.4 0a.7 .7 0 1 0-1.4 0M150.2 139.1a.7 .7 0 1 0 1.4 0a.7 .7 0 1 0-1.4 0M150.2 143.6a.7 .7 0 1 0 1.4 0a.7 .7 0 1 0-1.4 0M150.2 148.0a.7 .7 0 1 0 1.4 0a.7 .7 0 1 0-1.4 0M150.2 152.4a.7 .7 0 1 0 1.4 0a.7 .7 0 1 0-1.4 0M87.5 192.3a.7 .7 0 1 0 1.4 0a.7 .7 0 1 0-1.4 0M87.5 196.7a.7 .7 0 1 0 1.4 0a.7 .7 0 1 0-1.4 0M87.5 201.2a.7 .7 0 1 0 1.4 0a.7 .7 0 1 0-1.4 0M87.5 205.6a.7 .7 0 1 0 1.4 0a.7 .7 0 1 0-1.4 0M87.5 210.0a.7 .7 0 1 0 1.4 0a.7 .7 0 1 0-1.4 0M87.5 214.4a.7 .7 0 1 0 1.4 0a.7 .7 0 1 0-1.4 0M87.5 218.8a.7 .7 0 1 0 1.4 0a.7 .7 0 1 0-1.4 0M87.5 223.3a.7 .7 0 1 0 1.4 0a.7 .7 0 1 0-1.4 0M87.5 227.7a.7 .7 0 1 0 1.4 0a.7 .7 0 1 0-1.4 0M91.9 192.3a.7 .7 0 1 0 1.4 0a.7 .7 0 1 0-1.4 0M91.9 196.7a.7 .7 0 1 0 1.4 0a.7 .7 0 1 0-1.4 0M91.9 201.2a.7 .7 0 1 0 1.4 0a.7 .7 0 1 0-1.4 0M91.9 205.6a.7 .7 0 1 0 1.4 0a.7 .7 0 1 0-1.4 0M91.9 210.0a.7 .7 0 1 0 1.4 0a.7 .7 0 1 0-1.4 0M91.9 214.4a.7 .7 0 1 0 1.4 0a.7 .7 0 1 0-1.4 0M91.9 218.8a.7 .7 0 1 0 1.4 0a.7 .7 0 1 0-1.4 0M91.9 223.3a.7 .7 0 1 0 1.4 0a.7 .7 0 1 0-1.4 0M91.9 227.7a.7 .7 0 1 0 1.4 0a.7 .7 0 1 0-1.4 0M96.4 192.3a.7 .7 0 1 0 1.4 0a.7 .7 0 1 0-1.4 0M96.4 196.7a.7 .7 0 1 0 1.4 0a.7 .7 0 1 0-1.4 0M96.4 201.2a.7 .7 0 1 0 1.4 0a.7 .7 0 1 0-1.4 0M96.4 205.6a.7 .7 0 1 0 1.4 0a.7 .7 0 1 0-1.4 0M96.4 210.0a.7 .7 0 1 0 1.4 0a.7 .7 0 1 0-1.4 0M96.4 214.4a.7 .7 0 1 0 1.4 0a.7 .7 0 1 0-1.4 0M96.4 218.8a.7 .7 0 1 0 1.4 0a.7 .7 0 1 0-1.4 0M96.4 223.3a.7 .7 0 1 0 1.4 0a.7 .7 0 1 0-1.4 0M96.4 227.7a.7 .7 0 1 0 1.4 0a.7 .7 0 1 0-1.4 0M100.8 192.3a.7 .7 0 1 0 1.4 0a.7 .7 0 1 0-1.4 0M100.8 196.7a.7 .7 0 1 0 1.4 0a.7 .7 0 1 0-1.4 0M100.8 201.2a.7 .7 0 1 0 1.4 0a.7 .7 0 1 0-1.4 0M100.8 205.6a.7 .7 0 1 0 1.4 0a.7 .7 0 1 0-1.4 0M100.8 210.0a.7 .7 0 1 0 1.4 0a.7 .7 0 1 0-1.4 0M100.8 214.4a.7 .7 0 1 0 1.4 0a.7 .7 0 1 0-1.4 0M100.8 218.8a.7 .7 0 1 0 1.4 0a.7 .7 0 1 0-1.4 0M100.8 223.3a.7 .7 0 1 0 1.4 0a.7 .7 0 1 0-1.4 0M100.8 227.7a.7 .7 0 1 0 1.4 0a.7 .7 0 1 0-1.4 0M105.2 192.3a.7 .7 0 1 0 1.4 0a.7 .7 0 1 0-1.4 0M105.2 196.7a.7 .7 0 1 0 1.4 0a.7 .7 0 1 0-1.4 0M105.2 201.2a.7 .7 0 1 0 1.4 0a.7 .7 0 1 0-1.4 0M105.2 205.6a.7 .7 0 1 0 1.4 0a.7 .7 0 1 0-1.4 0M105.2 210.0a.7 .7 0 1 0 1.4 0a.7 .7 0 1 0-1.4 0M105.2 214.4a.7 .7 0 1 0 1.4 0a.7 .7 0 1 0-1.4 0M105.2 218.8a.7 .7 0 1 0 1.4 0a.7 .7 0 1 0-1.4 0M105.2 223.3a.7 .7 0 1 0 1.4 0a.7 .7 0 1 0-1.4 0M105.2 227.7a.7 .7 0 1 0 1.4 0a.7 .7 0 1 0-1.4 0M109.7 192.3a.7 .7 0 1 0 1.4 0a.7 .7 0 1 0-1.4 0M109.7 196.7a.7 .7 0 1 0 1.4 0a.7 .7 0 1 0-1.4 0M109.7 201.2a.7 .7 0 1 0 1.4 0a.7 .7 0 1 0-1.4 0M109.7 205.6a.7 .7 0 1 0 1.4 0a.7 .7 0 1 0-1.4 0M109.7 210.0a.7 .7 0 1 0 1.4 0a.7 .7 0 1 0-1.4 0M109.7 214.4a.7 .7 0 1 0 1.4 0a.7 .7 0 1 0-1.4 0M109.7 218.8a.7 .7 0 1 0 1.4 0a.7 .7 0 1 0-1.4 0M109.7 223.3a.7 .7 0 1 0 1.4 0a.7 .7 0 1 0-1.4 0M109.7 227.7a.7 .7 0 1 0 1.4 0a.7 .7 0 1 0-1.4 0M114.1 192.3a.7 .7 0 1 0 1.4 0a.7 .7 0 1 0-1.4 0M114.1 196.7a.7 .7 0 1 0 1.4 0a.7 .7 0 1 0-1.4 0M114.1 201.2a.7 .7 0 1 0 1.4 0a.7 .7 0 1 0-1.4 0M114.1 205.6a.7 .7 0 1 0 1.4 0a.7 .7 0 1 0-1.4 0M114.1 210.0a.7 .7 0 1 0 1.4 0a.7 .7 0 1 0-1.4 0M114.1 214.4a.7 .7 0 1 0 1.4 0a.7 .7 0 1 0-1.4 0M114.1 218.8a.7 .7 0 1 0 1.4 0a.7 .7 0 1 0-1.4 0M114.1 223.3a.7 .7 0 1 0 1.4 0a.7 .7 0 1 0-1.4 0M114.1 227.7a.7 .7 0 1 0 1.4 0a.7 .7 0 1 0-1.4 0M118.5 192.3a.7 .7 0 1 0 1.4 0a.7 .7 0 1 0-1.4 0M118.5 196.7a.7 .7 0 1 0 1.4 0a.7 .7 0 1 0-1.4 0M118.5 201.2a.7 .7 0 1 0 1.4 0a.7 .7 0 1 0-1.4 0M118.5 205.6a.7 .7 0 1 0 1.4 0a.7 .7 0 1 0-1.4 0M118.5 210.0a.7 .7 0 1 0 1.4 0a.7 .7 0 1 0-1.4 0M118.5 214.4a.7 .7 0 1 0 1.4 0a.7 .7 0 1 0-1.4 0M118.5 218.8a.7 .7 0 1 0 1.4 0a.7 .7 0 1 0-1.4 0M118.5 223.3a.7 .7 0 1 0 1.4 0a.7 .7 0 1 0-1.4 0M118.5 227.7a.7 .7 0 1 0 1.4 0a.7 .7 0 1 0-1.4 0M123.0 192.3a.7 .7 0 1 0 1.4 0a.7 .7 0 1 0-1.4 0M123.0 196.7a.7 .7 0 1 0 1.4 0a.7 .7 0 1 0-1.4 0M123.0 201.2a.7 .7 0 1 0 1.4 0a.7 .7 0 1 0-1.4 0M123.0 205.6a.7 .7 0 1 0 1.4 0a.7 .7 0 1 0-1.4 0M123.0 210.0a.7 .7 0 1 0 1.4 0a.7 .7 0 1 0-1.4 0M123.0 214.4a.7 .7 0 1 0 1.4 0a.7 .7 0 1 0-1.4 0M123.0 218.8a.7 .7 0 1 0 1.4 0a.7 .7 0 1 0-1.4 0M123.0 223.3a.7 .7 0 1 0 1.4 0a.7 .7 0 1 0-1.4 0M123.0 227.7a.7 .7 0 1 0 1.4 0a.7 .7 0 1 0-1.4 0M127.4 192.3a.7 .7 0 1 0 1.4 0a.7 .7 0 1 0-1.4 0M127.4 196.7a.7 .7 0 1 0 1.4 0a.7 .7 0 1 0-1.4 0M127.4 201.2a.7 .7 0 1 0 1.4 0a.7 .7 0 1 0-1.4 0M127.4 205.6a.7 .7 0 1 0 1.4 0a.7 .7 0 1 0-1.4 0M127.4 210.0a.7 .7 0 1 0 1.4 0a.7 .7 0 1 0-1.4 0M127.4 214.4a.7 .7 0 1 0 1.4 0a.7 .7 0 1 0-1.4 0M127.4 218.8a.7 .7 0 1 0 1.4 0a.7 .7 0 1 0-1.4 0M127.4 223.3a.7 .7 0 1 0 1.4 0a.7 .7 0 1 0-1.4 0M127.4 227.7a.7 .7 0 1 0 1.4 0a.7 .7 0 1 0-1.4 0M131.9 192.3a.7 .7 0 1 0 1.4 0a.7 .7 0 1 0-1.4 0M131.9 196.7a.7 .7 0 1 0 1.4 0a.7 .7 0 1 0-1.4 0M131.9 201.2a.7 .7 0 1 0 1.4 0a.7 .7 0 1 0-1.4 0M131.9 205.6a.7 .7 0 1 0 1.4 0a.7 .7 0 1 0-1.4 0M131.9 210.0a.7 .7 0 1 0 1.4 0a.7 .7 0 1 0-1.4 0M131.9 214.4a.7 .7 0 1 0 1.4 0a.7 .7 0 1 0-1.4 0M131.9 218.8a.7 .7 0 1 0 1.4 0a.7 .7 0 1 0-1.4 0M131.9 223.3a.7 .7 0 1 0 1.4 0a.7 .7 0 1 0-1.4 0M131.9 227.7a.7 .7 0 1 0 1.4 0a.7 .7 0 1 0-1.4 0M136.3 192.3a.7 .7 0 1 0 1.4 0a.7 .7 0 1 0-1.4 0M136.3 196.7a.7 .7 0 1 0 1.4 0a.7 .7 0 1 0-1.4 0M136.3 201.2a.7 .7 0 1 0 1.4 0a.7 .7 0 1 0-1.4 0M136.3 205.6a.7 .7 0 1 0 1.4 0a.7 .7 0 1 0-1.4 0M136.3 210.0a.7 .7 0 1 0 1.4 0a.7 .7 0 1 0-1.4 0M136.3 214.4a.7 .7 0 1 0 1.4 0a.7 .7 0 1 0-1.4 0M136.3 218.8a.7 .7 0 1 0 1.4 0a.7 .7 0 1 0-1.4 0M136.3 223.3a.7 .7 0 1 0 1.4 0a.7 .7 0 1 0-1.4 0M136.3 227.7a.7 .7 0 1 0 1.4 0a.7 .7 0 1 0-1.4 0M140.7 192.3a.7 .7 0 1 0 1.4 0a.7 .7 0 1 0-1.4 0M140.7 196.7a.7 .7 0 1 0 1.4 0a.7 .7 0 1 0-1.4 0M140.7 201.2a.7 .7 0 1 0 1.4 0a.7 .7 0 1 0-1.4 0M140.7 205.6a.7 .7 0 1 0 1.4 0a.7 .7 0 1 0-1.4 0M140.7 210.0a.7 .7 0 1 0 1.4 0a.7 .7 0 1 0-1.4 0M140.7 214.4a.7 .7 0 1 0 1.4 0a.7 .7 0 1 0-1.4 0M140.7 218.8a.7 .7 0 1 0 1.4 0a.7 .7 0 1 0-1.4 0M140.7 223.3a.7 .7 0 1 0 1.4 0a.7 .7 0 1 0-1.4 0M140.7 227.7a.7 .7 0 1 0 1.4 0a.7 .7 0 1 0-1.4 0M145.2 192.3a.7 .7 0 1 0 1.4 0a.7 .7 0 1 0-1.4 0M145.2 196.7a.7 .7 0 1 0 1.4 0a.7 .7 0 1 0-1.4 0M145.2 201.2a.7 .7 0 1 0 1.4 0a.7 .7 0 1 0-1.4 0M145.2 205.6a.7 .7 0 1 0 1.4 0a.7 .7 0 1 0-1.4 0M145.2 210.0a.7 .7 0 1 0 1.4 0a.7 .7 0 1 0-1.4 0M145.2 214.4a.7 .7 0 1 0 1.4 0a.7 .7 0 1 0-1.4 0M145.2 218.8a.7 .7 0 1 0 1.4 0a.7 .7 0 1 0-1.4 0M145.2 223.3a.7 .7 0 1 0 1.4 0a.7 .7 0 1 0-1.4 0M145.2 227.7a.7 .7 0 1 0 1.4 0a.7 .7 0 1 0-1.4 0M149.6 192.3a.7 .7 0 1 0 1.4 0a.7 .7 0 1 0-1.4 0M149.6 196.7a.7 .7 0 1 0 1.4 0a.7 .7 0 1 0-1.4 0M149.6 201.2a.7 .7 0 1 0 1.4 0a.7 .7 0 1 0-1.4 0M149.6 205.6a.7 .7 0 1 0 1.4 0a.7 .7 0 1 0-1.4 0M149.6 210.0a.7 .7 0 1 0 1.4 0a.7 .7 0 1 0-1.4 0M149.6 214.4a.7 .7 0 1 0 1.4 0a.7 .7 0 1 0-1.4 0M149.6 218.8a.7 .7 0 1 0 1.4 0a.7 .7 0 1 0-1.4 0M149.6 223.3a.7 .7 0 1 0 1.4 0a.7 .7 0 1 0-1.4 0M149.6 227.7a.7 .7 0 1 0 1.4 0a.7 .7 0 1 0-1.4 0"/>
<circle cx="121.5" cy="170.0" r="0.9" fill="#222"/>
<circle cx="121.5" cy="174.8" r="0.9" fill="#222"/>
<circle cx="121.5" cy="179.6" r="0.9" fill="#222"/>
</svg>
</body></html>
